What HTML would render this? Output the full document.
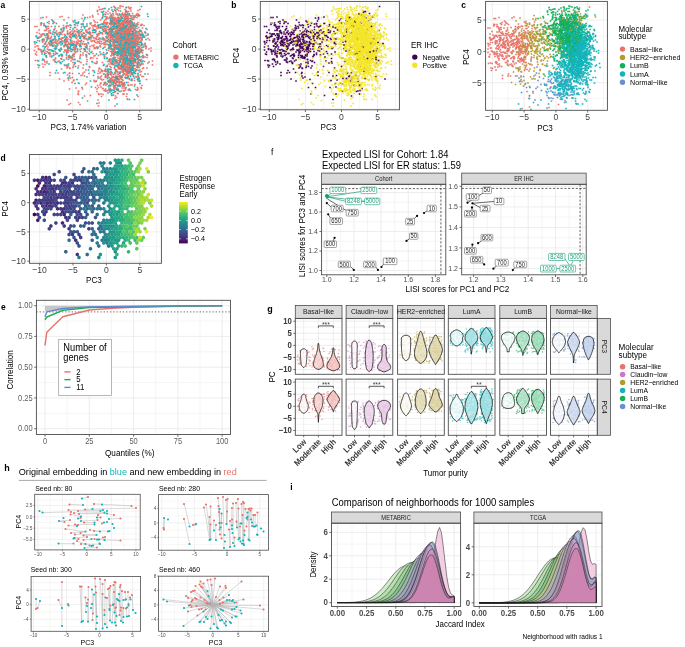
<!DOCTYPE html>
<html><head><meta charset="utf-8"><title>Figure</title>
<style>html,body{margin:0;padding:0;background:#fff;width:685px;height:647px;overflow:hidden}
svg{display:block;font-family:"Liberation Sans", sans-serif;will-change:transform}</style></head>
<body><svg width="685" height="647" viewBox="0 0 685 647">
<text x=".5" y="8" font-size="8.5" font-weight="bold" transform="matrix(1 0 0 1.1 0 -.8)">a</text>
<line x1="56" y1="1.4" x2="56" y2="110.2" stroke="#ebebeb" stroke-width=".5"/>
<line x1="89.5" y1="1.4" x2="89.5" y2="110.2" stroke="#ebebeb" stroke-width=".5"/>
<line x1="123" y1="1.4" x2="123" y2="110.2" stroke="#ebebeb" stroke-width=".5"/>
<line x1="156.4" y1="1.4" x2="156.4" y2="110.2" stroke="#ebebeb" stroke-width=".5"/>
<line x1="29.5" y1="94.2" x2="161.4" y2="94.2" stroke="#ebebeb" stroke-width=".5"/>
<line x1="29.5" y1="64.2" x2="161.4" y2="64.2" stroke="#ebebeb" stroke-width=".5"/>
<line x1="29.5" y1="34.2" x2="161.4" y2="34.2" stroke="#ebebeb" stroke-width=".5"/>
<line x1="29.5" y1="4.2" x2="161.4" y2="4.2" stroke="#ebebeb" stroke-width=".5"/>
<line x1="39.2" y1="1.4" x2="39.2" y2="110.2" stroke="#ebebeb" stroke-width=".9"/>
<line x1="72.7" y1="1.4" x2="72.7" y2="110.2" stroke="#ebebeb" stroke-width=".9"/>
<line x1="106.2" y1="1.4" x2="106.2" y2="110.2" stroke="#ebebeb" stroke-width=".9"/>
<line x1="139.7" y1="1.4" x2="139.7" y2="110.2" stroke="#ebebeb" stroke-width=".9"/>
<line x1="29.5" y1="109.2" x2="161.4" y2="109.2" stroke="#ebebeb" stroke-width=".9"/>
<line x1="29.5" y1="79.2" x2="161.4" y2="79.2" stroke="#ebebeb" stroke-width=".9"/>
<line x1="29.5" y1="49.2" x2="161.4" y2="49.2" stroke="#ebebeb" stroke-width=".9"/>
<line x1="29.5" y1="19.2" x2="161.4" y2="19.2" stroke="#ebebeb" stroke-width=".9"/>
<path d="M71 40h0M130.5 50.5h0M68 48.5h0M89.5 66.5h0M93 28h0M125 51.5h0M70.5 33h0M146.5 54.5h0M127 43.5h0M132.5 33h0M129.5 23.5h0M149 49h0M124 48h0M102 80h0M61 48h0M119.5 34h0M125.5 39.5h0M119 33h0M135.5 54h0M94.5 81.5h0M80 38h0M50 56h0M117.5 48h0M116.5 26.5h0M110 60.5h0M123 18.5h0M119 63h0M109 60h0M124.5 82.5h0M130 24.5h0M73 21h0M129 41.5h0M126 32h0M137 39h0M38.5 48.5h0M129.5 68h0M120 35.5h0M131 23.5h0M124 50h0M125 50h0M108 42h0M109 81h0M117.5 14h0M107 23.5h0M109.5 72.5h0M108 11h0M38.5 38h0M115 28.5h0M118 89h0M130 27h0M83 15h0M104 47.5h0M122.5 52h0M76.5 38.5h0M126 19.5h0M118 30h0M125.5 12h0M75.5 52.5h0M130 42h0M89 73.5h0M128 82.5h0M123 94h0M127.5 50.5h0M116 48.5h0M112 28.5h0M135.5 89.5h0M108.5 35.5h0M139 56h0M129 28h0M120.5 35.5h0M110.5 81h0M117.5 37.5h0M98 39.5h0M64 20h0M114.5 49.5h0M85.5 30h0M116 14h0M64 27.5h0M83 73h0M114.5 7h0M141 40.5h0M125 25.5h0M129 33h0M120.5 38h0M117.5 81.5h0M127 68h0M131.5 57h0M70 68.5h0M116.5 53h0M137 67h0M125.5 55.5h0M131 31h0M126.5 44h0M146.5 79.5h0M132 58h0M41 35h0M100 33.5h0M117 55.5h0M115.5 31h0M119 18.5h0M135.5 40h0M78 43.5h0M44 60.5h0M126 28h0M79 83.5h0M105.5 76h0M141.5 25h0M120 49h0M112 53h0M50.5 54h0M77.5 32.5h0M122 82.5h0M127.5 73h0M123 35h0M131.5 43.5h0M114.5 92.5h0M110 38h0M138.5 50.5h0M50.5 33.5h0M101.5 96.5h0M124.5 34h0M79 34.5h0M103 29h0M113.5 50h0M129.5 38h0M128 48.5h0M58 61.5h0M127 26.5h0M114.5 80h0M134.5 38h0M91 41h0M111.5 20.5h0M67 44.5h0M110.5 49h0M75 59.5h0M134 36.5h0M129.5 90h0M80 104.5h0M99.5 25h0M125.5 44h0M109.5 61.5h0M102.5 88.5h0M55.5 42h0M106 24h0M121.5 58h0M133 35.5h0M126 7.5h0M113 23.5h0M117.5 34.5h0M126 41.5h0M42.5 42h0M114 43.5h0M116.5 62.5h0M107.5 34h0M140 70h0M50 32.5h0M112.5 81h0M120 62h0M53.5 42.5h0M132 27.5h0M67.5 31h0M78.5 102.5h0M119 44h0M101 87h0M130.5 75h0M119 50h0M124 55.5h0M51 42h0M88.5 43.5h0M128 26.5h0M127.5 75.5h0M117 22.5h0M144.5 61.5h0M137.5 43.5h0M108 81h0M110.5 35.5h0M98 100h0M122 42.5h0M75.5 34.5h0M112.5 45h0M125.5 18h0M130.5 63h0M105.5 74.5h0M140.5 38h0M59.5 49.5h0M135.5 51h0M62.5 32h0M131 54.5h0M111.5 28h0M118.5 41.5h0M78 23.5h0M109 90h0M46.5 34h0M101 54h0M39 30h0M102.5 71.5h0M128 32h0M111.5 35.5h0M126.5 72.5h0M129 18.5h0M67.5 46.5h0M98.5 42h0M80 32h0M104 39.5h0M138.5 63.5h0M122 68h0M129.5 47.5h0M70 36.5h0M113.5 26h0M71.5 57h0M113 36.5h0M111.5 20h0M116.5 78.5h0M95.5 31h0M126 33.5h0M120 39.5h0M119 64.5h0M123.5 66.5h0M133.5 35.5h0M110 28.5h0M55.5 48.5h0M128 48h0M128 38h0M78.5 91h0M103.5 52.5h0M110.5 88.5h0M118 40h0M138.5 59.5h0M35 42h0M116.5 48h0M73 44h0M133 45h0M118.5 55.5h0M120.5 29.5h0M120.5 59.5h0M38.5 37.5h0M100.5 20h0M115 51h0M140.5 42.5h0M126 33.5h0M97.5 22.5h0M101 9.5h0M67 100h0M134 45h0M113.5 34h0M133.5 62h0M99.5 43.5h0M45 62h0M124 91h0M123 25h0M115.5 31.5h0M131 21h0M78.5 35h0M37.5 60.5h0M122.5 20.5h0M130 67h0M125.5 90h0M114.5 47.5h0M110 74.5h0M129.5 39.5h0M81 29.5h0M127.5 37.5h0M44.5 30.5h0M46.5 57.5h0M127.5 17.5h0M110 42h0M125 38h0M42.5 41h0M124 63.5h0M85.5 84.5h0M94 30h0M120.5 28h0M112 22h0M101.5 41.5h0M65 50h0M133 57.5h0M94.5 41.5h0M54 34.5h0M113.5 83.5h0M109.5 89.5h0M110 82.5h0M118 55.5h0M112 95.5h0M121.5 32.5h0M93.5 46.5h0M135 16h0M98.5 35h0M119.5 50h0M110.5 16h0M69.5 33h0M98.5 71h0M70 57h0" stroke="#EE6F68" stroke-width="1.6" stroke-linecap="square" fill="none"/>
<path d="M105.5 42h0M135 60.5h0M101 27h0M134 42h0M142 44h0M124.5 49.5h0M116 26.5h0M130.5 53.5h0M117 104h0M139 44.5h0M130 15.5h0M111.5 75h0M122 17.5h0M134.5 42h0M132 56.5h0M138.5 49h0M130 40.5h0M141 25.5h0M76 47h0M105.5 44.5h0M126 25.5h0M66 41.5h0M77.5 50h0M121 55h0M110.5 79.5h0M132 42.5h0M82 87.5h0M133.5 34h0M136 26h0M107 66.5h0M49.5 43.5h0M125.5 53.5h0M73 59.5h0M124 62.5h0M128 61.5h0M81.5 31.5h0M139.5 63h0M122 28.5h0M98 25.5h0M73 35h0M126.5 40h0M54.5 32.5h0M74.5 36h0M116.5 47.5h0M91 23h0M137 15.5h0M92 36h0M67.5 47h0M123 61h0M59.5 35h0M117.5 79h0M127 42h0M69.5 55.5h0M121.5 51.5h0M78.5 83h0M126.5 38.5h0M124.5 34.5h0M125.5 15h0M121.5 56.5h0M102 18.5h0M138 55.5h0M118.5 46h0M127.5 40.5h0M104.5 58.5h0M114 25.5h0M132.5 70.5h0M66.5 51.5h0M137 57h0M124.5 57.5h0M78.5 33h0M76.5 46h0M122.5 31.5h0M130.5 53h0M126.5 23.5h0M127 67.5h0M122 67.5h0M71 34.5h0M65 72.5h0M131 71.5h0M38 38h0M81.5 24.5h0M120 40.5h0M122.5 84.5h0M47 35.5h0M47.5 22.5h0M126.5 48.5h0M134 26h0M117.5 66.5h0M107 58h0M137 36h0M104 64.5h0M133.5 72.5h0M94.5 72.5h0M116 33.5h0M126 19.5h0M124.5 38h0M125 29.5h0M113.5 52h0M113 43h0M141 61.5h0M75.5 66.5h0M59 50h0M137 24h0M122 27h0M126.5 57h0M84 37.5h0M132.5 56.5h0M117 88h0M117 44h0M105.5 91h0M117 63h0M115.5 26.5h0M123 68.5h0M126.5 35h0M52.5 42.5h0M111.5 33h0M138.5 50h0M147.5 14h0M123.5 54h0M110.5 20.5h0M109.5 29.5h0M116 76.5h0M142.5 44h0M131.5 61h0M131.5 54.5h0M105 26.5h0M132.5 67h0M109 81h0M115 80h0" stroke="#10B5BA" stroke-width="1.6" stroke-linecap="square" fill="none"/>
<path d="M78 23h0M108.5 39.5h0M122.5 59.5h0M86 47.5h0M141.5 6.5h0M60.5 32.5h0M78.5 22h0M115 83.5h0M127 15h0M129 44.5h0M123.5 28h0M115.5 8h0M112 51h0M137.5 42h0M126 26.5h0M130.5 45.5h0M84.5 44h0M140.5 60h0M130.5 44.5h0M118 53h0M117 9.5h0M127 56.5h0M127.5 64h0M133.5 46h0M120 73.5h0M114 32h0M127.5 33h0M140.5 34.5h0M124.5 26.5h0M108 69h0M50 44.5h0M128.5 54h0M129.5 99.5h0M126.5 58.5h0M126 55.5h0M134.5 86h0M117.5 62.5h0M120.5 27.5h0M145 45h0M125 52.5h0M68.5 57.5h0M149 62h0M140 83.5h0M131.5 53h0M136.5 38.5h0M121.5 66h0M123.5 48.5h0M121.5 23.5h0M108.5 82h0M130.5 24.5h0M129.5 78.5h0M75 63.5h0M73 44h0M114 32h0M124 73.5h0M51 50h0M132.5 50h0M135.5 40h0M114 32h0M138 43h0M120.5 25.5h0M102.5 17.5h0M53 40.5h0M126.5 50h0M97 103.5h0M64 60h0M126 41h0M97 34.5h0M134.5 78h0M120.5 50.5h0M136.5 41h0M99.5 38.5h0M111 81h0M134 29h0M113.5 34.5h0M94.5 48h0M111.5 72h0M130 43.5h0M87 24h0M142 62h0M55 38.5h0M138.5 78.5h0M39.5 65.5h0M118.5 39h0M130 40.5h0M53 32h0M130.5 42h0M76 22.5h0M74 35h0M141 30.5h0M87 39h0M38.5 61h0M74.5 27.5h0M122 52h0M128.5 22.5h0M114.5 44.5h0M121.5 77.5h0M107.5 38h0M126 60.5h0M114.5 77.5h0M122 14.5h0M128.5 38h0M67 46h0M80.5 44.5h0M136 35h0M64 52h0M134 59.5h0M133.5 39h0M135 17h0M115.5 88h0M147 55h0M108 32.5h0M37.5 38h0M134.5 42h0M106 32h0M129 68h0M86.5 57h0M116 77.5h0M67.5 52.5h0M126.5 42h0M120.5 11h0M61 63.5h0M69.5 44h0M61 45h0M122 34.5h0M127 34.5h0M42.5 60h0M122.5 27.5h0M39.5 41h0M127.5 30.5h0M126 16.5h0M113 63h0M127.5 32h0M127 64h0M114.5 67.5h0M126 48.5h0M120 43h0M108.5 48.5h0M132.5 51.5h0" stroke="#10B5BA" stroke-width="1.6" stroke-linecap="square" fill="none"/>
<path d="M113 39h0M118.5 60.5h0M120.5 43.5h0M117.5 36.5h0M138 49h0M131 11h0M82.5 43.5h0M98.5 27.5h0M111 23.5h0M127.5 40h0M121.5 23.5h0M120 53.5h0M119.5 29h0M116 41.5h0M131 55.5h0M115 41h0M110.5 74h0M74 31.5h0M72.5 73.5h0M118 26h0M118 93.5h0M102 28h0M138 96.5h0M119.5 86h0M122.5 14h0M67 25.5h0M111 36h0M82.5 89h0M111 46h0M129.5 60h0M90 34h0M54.5 60h0M112 80h0M118 82.5h0M70 51h0M122.5 35h0M118.5 38.5h0M119 69h0M135 30h0M141.5 52h0M117.5 53.5h0M127 94h0M121 27.5h0M139.5 30h0M70 39.5h0M124.5 46.5h0M138 76.5h0M108 26.5h0M96.5 39.5h0M84.5 44.5h0M56 43.5h0M87 52h0M63.5 25.5h0M50 45.5h0M137.5 42.5h0M137 50.5h0M133 50.5h0M127 11.5h0M133.5 42h0M146 48.5h0M103 16.5h0M111 36.5h0M132 79h0M117.5 26.5h0M145.5 46.5h0M138 10.5h0M122 49.5h0M128 85h0M121.5 20.5h0M118 19.5h0M116 70.5h0M123 6.5h0M108 75h0M97.5 34.5h0M116.5 62h0M50 72.5h0M127 22.5h0M44 39.5h0M56 48.5h0M104.5 71h0M141.5 56.5h0M124 47h0M105 47h0M126 49h0M119 38h0M130.5 44.5h0M118.5 49.5h0M120 6h0M65 45h0M67 68h0M140 72h0M132.5 19.5h0M88 33h0M74 56.5h0M72 57.5h0M67 37.5h0M125 29.5h0M138 50.5h0M127.5 31h0M67.5 67h0M111 33.5h0M147 57.5h0M115.5 79h0M122 52.5h0M126.5 71h0M48 47h0M134 55.5h0M79.5 45.5h0M120 36h0M115 106h0M132.5 52.5h0M93.5 32.5h0M125 18h0M53 21h0M70.5 34.5h0M127 57h0M126 55.5h0M118 52h0M138 53h0M135 36h0M78.5 92h0M123 31.5h0M128.5 42.5h0M106 23h0M142 85.5h0M104 22.5h0M44 25h0M78 94h0M116.5 81.5h0M91 39h0M132.5 54.5h0M131 72.5h0M130.5 39.5h0M112.5 38h0M145.5 32.5h0M123 86h0M117 81.5h0M129.5 45h0M122.5 72h0M123.5 45h0M127.5 26.5h0M122.5 46.5h0M111.5 83h0M119 37h0M72.5 43h0M133.5 19.5h0M118 17.5h0M137.5 38.5h0M124.5 23h0M89.5 49h0M69 78h0M111 39.5h0M143 35.5h0M121.5 81.5h0M137.5 52h0M114.5 73h0M126 78h0M134.5 60.5h0M115.5 57.5h0M66.5 26.5h0M74 80h0M132.5 31h0M123.5 69.5h0M106 71.5h0M125.5 44h0M101 27.5h0M124.5 21.5h0M112 77h0M114 42.5h0M116 28h0M122 31.5h0M130.5 39.5h0M108 70h0M71 58h0M92 61.5h0M128.5 53h0M123 71h0M89.5 33h0M48 34h0M124.5 59h0M133 68.5h0M119 35h0M114.5 53h0M62.5 55.5h0M137.5 32h0M133 25.5h0M124 38h0M136 31h0M122.5 52h0M142.5 57.5h0M110.5 85.5h0M131 28h0M86.5 32h0M118 8h0M103 15.5h0M109.5 23.5h0M52.5 43.5h0M105.5 32h0M100 73h0M79.5 36h0M86.5 83h0M93 17h0M117.5 26h0M117 40.5h0M114.5 44h0M138.5 39h0M74.5 30.5h0M113.5 33.5h0M135 40.5h0M119.5 58.5h0M132.5 31h0M92.5 15.5h0M127 52h0M137 37.5h0M129.5 34h0M135 42h0M111 26h0M111 69.5h0M104.5 39.5h0M133 31h0M126 10.5h0M127 30.5h0M73.5 66h0M133 15.5h0M41 25h0M112.5 36.5h0M121 32.5h0M90 32.5h0M132.5 33.5h0M86 31h0M110.5 22.5h0M116 76h0M130.5 39h0M111.5 16h0M112.5 51.5h0M127.5 52.5h0M129 40h0M122 51h0M114 49h0M107 84h0M121 78.5h0M107.5 73.5h0M131.5 39h0M41 23.5h0M98.5 26h0M132 51.5h0M135.5 59.5h0M121 65.5h0M64.5 41h0M134 33h0M112 31h0M122 83h0M117 31.5h0M39.5 33.5h0M132 56h0M56 39.5h0M128 52h0M122.5 64h0M133.5 55h0M148 63h0M99 28h0M121.5 55h0M133.5 58h0M107.5 22.5h0M115.5 27h0M117.5 77h0M124 47.5h0M121 53.5h0M139 33.5h0M126 47.5h0M131 58h0M68.5 44h0M119 37.5h0M131 47h0M123 34h0M120.5 61h0M139 51.5h0M132 80h0M127 49h0M119 26.5h0M87.5 101h0M108.5 36.5h0M100.5 27h0" stroke="#EE6F68" stroke-width="1.6" stroke-linecap="square" fill="none"/>
<path d="M129.5 65h0M70.5 36.5h0M118.5 39h0M73.5 44h0M131.5 42h0M110.5 18.5h0M124.5 43.5h0M136.5 56.5h0M44 23.5h0M120 19.5h0M107 17h0M124 94h0M127.5 64.5h0M118.5 10.5h0M124.5 28h0M120 75.5h0M48.5 50h0M122.5 62h0M116.5 47h0M130.5 35h0M136 39h0M102.5 9h0M135.5 56.5h0M138 52.5h0M115.5 10.5h0M71 25.5h0M132.5 39h0M113 61.5h0M116.5 35h0M86.5 55h0M126.5 36h0M127.5 31h0M77 43h0M130.5 51.5h0M124.5 42h0M62.5 38h0M135.5 60h0M132 67h0M74 49h0M63.5 38h0M133 28h0M117 25h0M120.5 38.5h0M131 49h0M123.5 27h0M80.5 55.5h0M86 44h0M121.5 47h0M132.5 44.5h0M143 35h0M61.5 59h0M124 15h0M121.5 35.5h0M132 69.5h0M67.5 32h0M130 52.5h0M121 55h0M128.5 55.5h0M140 9.5h0M120 85h0M95.5 42.5h0M120 62h0M129 28h0M127.5 43.5h0M143.5 68h0M120.5 51h0M116.5 18.5h0M136.5 77h0M128.5 65.5h0M114.5 86.5h0M85.5 46.5h0M121 54.5h0M126 29h0M119 31h0M98.5 93.5h0M73.5 32.5h0M131 37.5h0M122 65h0M95.5 26h0M123.5 90.5h0M130.5 27.5h0M110 66.5h0M110.5 19.5h0M132.5 55h0M120 68h0M130.5 69h0M126.5 43h0M104.5 56.5h0M118 53.5h0M44 41h0M132.5 39.5h0M117 78.5h0M65.5 40h0M47 63h0M140.5 35.5h0M119 21.5h0M114 57h0M75 48h0M137 35.5h0M128 42h0M126.5 25h0M124.5 38h0M114 59.5h0M124 60.5h0M117.5 52h0M117.5 76.5h0M121.5 39h0M138 59h0M128.5 47h0M109.5 34.5h0M151 48h0M122 41h0M134 73.5h0M118.5 66.5h0M127.5 64h0M66.5 59h0M120.5 56h0M117 27.5h0M47 34h0M132 38.5h0M137 50h0M123.5 50h0M119 19.5h0M111.5 61h0M114 61h0M74.5 49.5h0M113.5 19.5h0M126.5 48h0M129 50.5h0M67.5 75h0M48 37.5h0M106.5 36.5h0M123 26.5h0M127 28.5h0M117.5 55.5h0M85.5 47.5h0M126.5 35h0M122.5 61.5h0M94 20.5h0M113 13.5h0M125.5 47h0M132.5 37.5h0M119.5 26.5h0M122.5 63.5h0M129 38.5h0M125.5 88.5h0M110.5 37.5h0M92 25.5h0M87 47h0M62 34.5h0M129 55.5h0M104.5 39h0M94.5 30h0M107 91h0M124 49h0M119.5 36.5h0M119 81h0M119.5 35.5h0M119.5 40.5h0M48.5 28.5h0M84.5 49h0M117 26.5h0M133 31.5h0M135 55.5h0M101 69.5h0M100.5 77h0M131 52.5h0M121 34h0M88.5 37h0M118 67.5h0M133 49.5h0M121.5 39h0M104 22h0M124 39.5h0M143 50.5h0M98.5 87.5h0M79 61.5h0M96 31h0M118.5 26.5h0M138.5 53h0M84.5 51h0M66 42.5h0M123 44.5h0M126.5 51h0M121.5 25h0M104 8.5h0M138 46.5h0M106 12.5h0M69 34h0M125.5 48h0M119 24h0M126.5 72.5h0M123.5 41h0M111 56h0M138 32h0M120.5 66h0M126.5 48.5h0M114.5 58.5h0M84.5 36h0M126 27h0M97 63h0M131 29.5h0M76.5 41.5h0M110.5 29h0M124.5 39.5h0M127 25h0M122 88h0M94.5 48.5h0M138 36h0M133 27h0M131.5 35h0M83 23.5h0M129.5 22h0M113 77h0M110.5 34.5h0M111.5 37.5h0M95.5 87.5h0M145 57h0M128 44.5h0M122 24.5h0M103.5 27h0M118.5 76.5h0M117 32h0M116.5 70h0M66 38h0M56 53h0M127 58h0M110 43h0M152.5 61h0M97.5 36.5h0M117.5 40h0M138 41h0M50 52.5h0M38.5 49.5h0M130 70.5h0M97 89h0M119.5 49h0M122.5 59h0M122.5 54.5h0M123 45.5h0M140.5 60h0M63.5 31h0M126 45.5h0M146 35.5h0M129 45h0M123.5 26h0M137.5 87.5h0M66.5 55.5h0M127 56.5h0M76.5 43.5h0M130 50.5h0M51 44.5h0M136 43h0M97.5 35h0M138 24.5h0M106.5 18.5h0M86 38.5h0M52.5 46h0M69.5 73.5h0M122.5 61h0M76 31.5h0M128.5 19h0M116 32.5h0M132.5 18h0M123.5 56.5h0M76 88h0M124 46.5h0M58.5 40h0M47.5 49h0M74.5 24.5h0M123 31h0M123.5 24h0M67.5 41.5h0M113.5 24h0M125.5 65h0M119 43h0M120.5 59h0M129.5 57.5h0M49.5 54h0M114 21h0M119 35h0M52.5 42.5h0M80.5 46h0M131.5 56h0M101 44h0M70.5 78h0" stroke="#EE6F68" stroke-width="1.6" stroke-linecap="square" fill="none"/>
<path d="M86 55h0M64.5 37h0M117 52h0M119.5 68.5h0M112 17.5h0M44 34h0M113 58h0M61 39.5h0M113.5 82.5h0M119 54h0M126 67h0M115.5 73h0M137.5 79.5h0M80 58.5h0M122.5 54h0M123 45.5h0M115.5 70h0M123 75h0M54 45h0M56.5 70.5h0M125.5 66.5h0M137 57.5h0M50 41.5h0M114.5 23.5h0M133.5 38h0M135 62h0M133.5 42h0M117 71.5h0M104 24h0M75 62.5h0M121 37h0M120 61h0M120 54h0M113.5 48.5h0M126.5 43h0M83.5 41.5h0M125 63.5h0M47 34h0M145 74h0M70 57h0M130.5 76.5h0M72.5 36.5h0M117 25.5h0M113 58.5h0M131 62.5h0M64.5 65h0M110.5 90h0M65 39.5h0M73.5 47.5h0M131.5 80h0M124.5 27.5h0M117 39h0M139.5 35h0M129 22h0M133.5 50.5h0M120.5 35.5h0M112 41.5h0M141.5 42.5h0M123.5 69.5h0M130.5 69.5h0M128.5 60h0M143.5 47h0M142 47.5h0M114 36h0M129.5 48h0M112 73h0M126 53.5h0M112 31.5h0M109.5 31.5h0M127.5 16.5h0M134 47h0M129 41h0M137 54.5h0M40 49.5h0M48.5 36h0M61.5 41.5h0M124 28h0M111.5 95h0M69.5 76h0M121.5 66.5h0M129 44.5h0M43 46.5h0M128 72.5h0M52.5 50.5h0M55 26.5h0M116 77.5h0M74 44.5h0M53 39.5h0M120 44.5h0M133 41.5h0M118 48.5h0M140.5 65.5h0M132 65.5h0M133.5 60.5h0M116.5 66h0M113 19.5h0M75 25h0M104 54.5h0M108 44.5h0M129.5 64h0M136.5 44h0M131.5 44.5h0M143.5 57.5h0M132.5 53.5h0M100 46h0M71 49.5h0M114.5 47.5h0M96.5 54h0M61.5 49.5h0M134.5 59.5h0M123 50h0M120 52.5h0M143 61h0M107.5 71h0M132 63.5h0M120.5 32h0M109 77.5h0M111 21.5h0M119 21.5h0M130 56h0M84.5 28h0M133.5 70.5h0M126.5 44h0M57.5 41h0M132.5 47h0M89.5 33.5h0M125 28.5h0M116 24h0M125.5 54h0M124 37h0M56.5 23.5h0M123 55.5h0M130.5 44.5h0M115 22.5h0M85.5 51h0M129 13.5h0" stroke="#10B5BA" stroke-width="1.6" stroke-linecap="square" fill="none"/>
<path d="M105.5 71.5h0M59.5 34.5h0M133.5 62h0M117.5 33h0M118.5 74.5h0M129.5 46.5h0M77.5 31.5h0M42 52h0M128 47h0M123 30.5h0M130 58.5h0M46 27.5h0M123 23h0M56.5 31h0M136 44.5h0M129.5 67h0M135.5 43h0M123 48.5h0M110.5 47h0M80.5 44h0M110.5 45h0M116 33.5h0M126.5 64h0M68 39h0M129.5 29.5h0M120 32.5h0M131 68h0M141 52h0M132.5 13.5h0M80 57h0M123 58h0M84.5 72h0M104.5 26h0M118.5 45h0M133.5 64h0M115.5 38.5h0M71 49h0M70 29.5h0M45.5 43.5h0M111 64h0M125 35.5h0M139 42h0M116.5 38h0M121.5 44.5h0M139.5 39h0M132.5 58h0M81.5 24h0M94.5 63h0M69 43h0M102 33h0M115 36h0M116 28.5h0M135.5 51h0M48 38.5h0M51 40.5h0M118.5 32h0M115.5 69.5h0M80.5 37h0M83 68h0M44.5 53h0M107.5 34.5h0M97 43h0M100.5 83.5h0M115.5 63h0M121 45h0M68.5 80h0M134 59h0M86.5 56h0M135 51h0M136 41h0M127 12.5h0M135.5 60h0M132 25.5h0M140.5 31.5h0M133 55.5h0M87.5 49h0M126.5 47h0M65 50.5h0M121 51h0M132 21.5h0M55.5 46h0M140 65.5h0M45.5 42.5h0M131 18h0M113.5 77.5h0M69.5 37h0M111.5 24h0M125.5 40h0M126.5 16.5h0M126.5 23h0M118 82h0M37.5 40.5h0M111.5 21h0M114.5 45h0M34.5 50.5h0M125 47.5h0M132 74.5h0M137.5 66h0M130.5 85h0M139.5 48h0M51 37.5h0M123 80.5h0M109.5 46.5h0M111 45.5h0M114.5 37.5h0M139 65h0M83.5 26h0M119.5 47h0M120 41h0M117.5 15h0M59.5 43.5h0M128.5 39.5h0M128 18.5h0M95.5 38.5h0M138.5 52h0M105.5 33.5h0M128.5 18.5h0M130 58h0M132.5 35h0M129 33.5h0M123 24h0M128.5 48.5h0M135 62h0M49 23.5h0M117 35.5h0M137 36h0M129 61.5h0M80 49.5h0M128 43.5h0M134 34h0M113.5 77h0M105 83.5h0M123 86h0M55 38h0M125.5 36.5h0M114 80h0M139 32h0M105.5 77h0M74 54.5h0M121.5 55.5h0M130 68h0M141 45.5h0M80.5 54.5h0M127 33.5h0M114.5 50h0M116 20h0M140 34h0M74.5 51.5h0M114 6.5h0M148 38.5h0M121.5 42h0M129 71.5h0M82.5 36.5h0M108 41h0M135.5 71h0M142.5 68.5h0M121 76.5h0M60 51h0M94 80.5h0M67 66h0M124 21h0M119.5 22h0M50 75.5h0M102.5 62.5h0M59 36.5h0M43.5 34.5h0M131.5 51h0M119.5 35.5h0M108 33h0M121.5 48.5h0M46 30.5h0M42 34.5h0M104 90.5h0M72.5 44.5h0M119.5 24.5h0M117 37h0M123 53h0M118 42.5h0M140.5 60.5h0M120.5 40.5h0M122.5 83.5h0M129.5 89h0M134 41.5h0M119 50.5h0M87 59.5h0M121 59.5h0M111.5 30h0M117 90h0M126 23h0M59 26.5h0M112 52h0M112.5 39.5h0M128 44h0M122.5 70.5h0M133 66h0M137.5 90h0M72 82.5h0M51.5 36.5h0M125 48.5h0M127.5 47.5h0M131 38h0M112 59.5h0M140.5 61h0M106 33h0M126.5 20h0M120.5 45h0M125.5 31h0M103 94.5h0M64 41h0M114.5 9.5h0M129.5 68.5h0M135.5 53h0M55 54.5h0M120.5 42h0M107.5 77h0M87 32h0M138 42h0M120.5 40.5h0M137.5 62h0M134.5 54h0M118.5 19.5h0M137.5 34h0M72.5 57.5h0M118.5 39h0M152.5 65h0M133 43.5h0M121.5 29.5h0M127.5 17.5h0M74.5 54h0M118.5 91h0M67 52.5h0M99 7h0M125.5 78h0M49 42.5h0M137.5 59.5h0M126.5 22.5h0M102 70.5h0M113.5 53h0M137 49.5h0M89 29.5h0M124 71h0M119.5 32.5h0M127 47h0M130.5 25h0M106 66.5h0M118.5 43.5h0M108 75h0M132 48.5h0M137.5 67.5h0M137.5 53h0M116 27.5h0M127.5 32h0M107.5 33h0M124 43h0M131 48h0M114 46h0M84.5 33.5h0M129 72.5h0M137 28.5h0M126.5 18.5h0M125 46h0M42.5 64h0M72.5 77.5h0M111.5 17.5h0M99.5 68h0M79 30.5h0M127 18.5h0M120.5 20h0M140.5 75h0M76.5 44.5h0M141.5 31.5h0M130.5 22.5h0M49 43.5h0M111 71.5h0M143 45h0M124 69h0M125.5 74.5h0M127.5 64.5h0M110.5 31.5h0M134 54.5h0" stroke="#EE6F68" stroke-width="1.6" stroke-linecap="square" fill="none"/>
<path d="M134.5 60.5h0M117.5 53h0M111.5 37h0M142.5 37h0M131.5 63.5h0M49.5 38.5h0M105.5 29h0M90.5 81h0M122 77h0M86 35h0M132 38.5h0M60 62.5h0M124.5 84h0M130.5 29.5h0M119 32.5h0M140.5 51.5h0M111.5 7.5h0M139.5 60h0M113 84.5h0M127 39.5h0M110 69.5h0M81 42h0M52 56h0M125 42h0M73.5 36.5h0M60.5 42h0M97.5 48.5h0M132 34h0M70.5 46.5h0M128 62.5h0M128.5 89.5h0M98 47.5h0M135.5 31h0M124.5 58.5h0M117 65h0M125.5 71h0M111.5 14.5h0M51.5 44.5h0M114 81h0M121 69h0M126.5 53h0M124 51.5h0M60.5 34h0M40 37h0M135.5 62h0M103 54.5h0M126.5 35h0M108 93h0M114 86h0M127.5 56h0M79 36h0M130 59.5h0M113 20.5h0M129.5 61.5h0M53.5 53.5h0M98 27h0M101 39h0M46.5 56h0M137 57.5h0M114.5 24.5h0M122 30h0M38 65h0M121.5 53h0M136.5 56h0M124.5 62.5h0M124.5 19h0M115 60.5h0M135.5 44h0M125 53h0M134.5 99.5h0M55.5 73h0M104 31h0M105.5 14.5h0M45.5 26.5h0M121 16h0M138 63h0M114 39.5h0M112.5 31h0M124 51.5h0M132 28.5h0M127 30h0M112.5 19h0M127.5 59.5h0M66.5 54h0M131.5 64h0M123 67.5h0M107 27h0M118.5 26.5h0M133.5 17h0M56.5 62.5h0M129.5 24.5h0M43 17.5h0M141.5 64h0M138 49h0M123 67.5h0M60 32.5h0M127.5 66h0M120 36.5h0M119 52h0M138.5 48h0M57 35h0M139 38.5h0M57 44h0M123.5 30h0M71.5 51.5h0M117 33h0M57 33.5h0M115 60h0M126 50.5h0M108.5 71.5h0M122 40.5h0M83.5 36.5h0M84.5 37.5h0M122 46.5h0M120.5 40.5h0M42.5 39.5h0M125 39.5h0M74.5 59.5h0M113 82h0M126.5 78h0M125.5 60h0M121 53h0M125.5 55h0M42 54h0M137 44h0M135.5 55h0M56.5 53.5h0M121.5 64.5h0M134 29h0M116 83.5h0M74 45h0M70.5 27.5h0M62.5 44h0M131 31.5h0M132 41h0M118.5 26h0M115.5 47h0M120 29h0M138 62.5h0M82.5 98h0M135.5 39.5h0M110.5 28h0" stroke="#10B5BA" stroke-width="1.6" stroke-linecap="square" fill="none"/>
<path d="M142 40h0M121.5 51.5h0M126 70h0M135 68.5h0M52 40h0M107.5 74h0M121 68h0M117.5 49h0M115 42.5h0M81 46.5h0M90.5 95.5h0M58 45h0M110.5 16h0M81.5 34h0M119 52.5h0M133 24h0M117 39h0M110 13h0M45 53.5h0M125.5 31.5h0M115 86.5h0M116 78h0M115 39.5h0M111.5 90h0M130.5 45h0M128.5 23h0M97.5 11.5h0M128 53h0M116 21h0M131 7.5h0M129.5 73.5h0M41.5 36h0M115.5 59.5h0M107 40.5h0M132.5 45h0M55.5 49.5h0M79.5 45h0M138.5 27.5h0M109.5 23.5h0M112 49.5h0M134.5 56h0M109 47h0M126.5 67h0M65 65.5h0M129 31.5h0M128.5 51.5h0M106 19h0M70 58h0M138 81h0M60 42h0M72.5 43.5h0M67 50h0M113 17h0M55 42.5h0M129 21.5h0M134 18h0M126.5 40.5h0M118 29h0M129 33h0M125 33.5h0M138 51h0M113 37h0M143 64h0M66 26.5h0M131.5 73h0M123 75.5h0M114.5 33.5h0M83.5 33h0M127 14.5h0M73.5 45.5h0M127.5 18.5h0M51.5 26.5h0M99.5 9.5h0M131 29.5h0M133 49h0M128.5 22h0M120 35h0M116.5 29h0M137.5 56h0M41.5 50h0M124.5 21h0M137 65.5h0M120.5 57h0M111 28h0M121 19.5h0M85.5 36.5h0M132 69.5h0M79.5 44h0M60 17h0M105.5 89h0M131.5 63h0M114 88h0M69.5 44.5h0M113.5 22.5h0M109 30h0M141 87.5h0M139 49h0M121 25h0M90.5 24h0M48.5 26.5h0M131 50.5h0M135.5 26.5h0M135.5 36h0M131 36h0M93.5 29.5h0M136.5 63h0M113.5 36h0M125.5 62h0M104.5 83h0M132.5 23.5h0M68.5 48.5h0M137 90h0M85 39h0M90 34h0M126.5 50.5h0M41 36.5h0M79.5 61.5h0M128 68.5h0M62 31h0M111.5 24.5h0M142 50h0M116.5 53.5h0M127 59.5h0M122.5 47.5h0M120 21.5h0M128.5 31.5h0M114.5 25h0M41.5 23.5h0M114 54h0M118 38.5h0M58.5 33h0M121.5 51.5h0M141.5 45.5h0M90 23.5h0M148 34h0M42.5 40.5h0M116.5 23h0M121.5 68.5h0M136 45.5h0M101.5 76h0M118.5 78.5h0M122.5 54h0M119 50h0M132.5 60.5h0M109.5 69.5h0M116 38.5h0M95 24.5h0M106 54h0M72 41h0M126.5 74.5h0M116.5 34.5h0M97 91.5h0M126.5 57h0M116 12h0M59 61h0M107.5 37.5h0M138.5 16h0M137 17.5h0M99 69h0M125 48h0M138.5 14.5h0M126 64.5h0M122 43.5h0M110.5 73h0M42.5 34h0M121.5 32h0M104.5 57h0M125.5 35h0M43.5 46h0M111 59h0M131 16.5h0M122.5 63h0M123.5 54h0M97.5 47h0M130 61.5h0M72 43.5h0M133.5 28.5h0M109 87h0M44 39h0M80 32.5h0M122.5 13h0M121 42.5h0M132.5 37h0M123.5 39.5h0M131.5 33.5h0M121.5 91h0M128.5 85.5h0M123 25h0M104 14h0M108 27.5h0M105.5 31.5h0M105 90.5h0M132.5 41h0M131 38h0M124 29.5h0M129 47h0M142 24.5h0M51.5 45h0M126 23.5h0M103 88.5h0M108.5 50.5h0M109 45h0M111.5 37h0M130.5 60.5h0M142.5 53h0M96.5 47h0M114.5 26h0M142 38.5h0M113.5 53.5h0M68.5 47.5h0M127.5 61.5h0M77.5 25.5h0M47.5 39h0M145.5 33h0M69.5 68h0M136.5 14.5h0M106.5 76.5h0M100.5 72h0M134 38.5h0M59 39.5h0M138.5 76.5h0M131 59h0M110.5 30h0M92.5 32.5h0M114.5 63h0M121.5 53h0M65 35h0M115 18.5h0M116 34.5h0M118.5 39h0M118.5 22.5h0M122 51.5h0M124.5 55h0M114 52h0M121.5 38h0M119 23h0M47 61.5h0M125.5 43h0M110.5 39h0M94 38h0M49 32.5h0M120.5 48h0M129.5 26.5h0M89 39.5h0M124.5 32h0M103.5 29.5h0M125.5 34h0M118.5 22h0M138.5 67h0M82 18.5h0M122.5 38h0M128 19.5h0M115.5 45.5h0M120 19h0M126 59.5h0M99.5 38h0M47 45h0M119.5 26.5h0M122.5 39h0M75.5 27.5h0M87 30h0M55.5 32.5h0M118.5 21h0M115 65h0M113 23h0M77 29.5h0M74.5 47h0M123.5 38h0M123.5 29.5h0M106.5 31h0M124.5 64.5h0M115.5 54.5h0" stroke="#EE6F68" stroke-width="1.6" stroke-linecap="square" fill="none"/>
<path d="M112 37h0M137 51.5h0M123.5 51.5h0M131.5 60.5h0M54 30h0M110 24h0M103 38h0M87 26h0M143 55.5h0M104 44h0M126 26.5h0M36.5 42.5h0M103 26.5h0M88 42.5h0M138 78.5h0M45.5 47h0M139 52h0M130.5 34h0M125 45h0M125.5 14.5h0M127.5 99h0M76 46h0M142.5 34.5h0M125.5 70.5h0M112 29.5h0M132 49.5h0M61 54.5h0M118 33.5h0M120.5 59h0M148 35h0M115.5 85.5h0M88.5 70h0M92.5 62h0M120 61h0M86.5 47.5h0M53.5 22h0M120.5 50h0M120.5 45h0M51.5 43h0M110 92h0M133.5 44h0M111 32h0M133.5 76.5h0M73 29h0M128 45.5h0M123.5 85h0M118 33.5h0M120.5 86h0M53 46h0M134.5 43.5h0M129.5 34.5h0M83 24.5h0M129 37.5h0M61.5 59h0M62 43h0M125.5 69h0M141.5 35h0M121.5 53.5h0M126 70.5h0M120.5 23.5h0M103 39.5h0M129.5 59.5h0M87 77h0M122 18h0M124 68h0M116.5 78.5h0M100 52h0M138.5 70.5h0M114 58.5h0M103 24.5h0M113.5 23h0M113.5 64.5h0M127.5 25h0M114 23.5h0M114 90.5h0M96 63.5h0M113.5 27h0M115.5 91.5h0M133.5 76.5h0M123.5 16h0M70.5 44.5h0M133.5 33h0M77.5 49h0M126.5 41.5h0M123 21h0M124 62h0M43 51.5h0M47 40h0M89 38.5h0M89.5 32h0M136 70h0M141 49.5h0M132.5 34h0M112 63h0M101 24.5h0M130.5 52h0M134 45.5h0M122 48h0M134.5 59h0M113 11.5h0M109 100h0M131 55.5h0M68 78h0M116.5 81h0M129 35.5h0M139.5 31h0M113.5 95h0M123 49.5h0M85 17.5h0M130 70.5h0M141 50h0M136.5 51.5h0M134 25.5h0M127.5 44h0M130 44h0M126 62h0M49 64h0M120.5 62.5h0M102.5 30h0M64.5 42.5h0M124.5 46.5h0M82.5 35h0M116 47h0M120.5 20.5h0M95.5 30h0M141.5 44.5h0M130.5 90.5h0M44.5 54.5h0M122.5 22.5h0M67 65h0M139.5 15.5h0M136 49.5h0M135.5 71h0M84.5 27h0M123.5 48.5h0M122.5 34h0M124.5 36h0M121 54.5h0M61 29.5h0M127 57.5h0M125.5 52h0M109 47.5h0M110 47h0M132.5 74.5h0M103.5 65.5h0M137.5 45h0M50 30.5h0M138.5 49.5h0M89.5 54h0M75 49.5h0" stroke="#10B5BA" stroke-width="1.6" stroke-linecap="square" fill="none"/>
<path d="M68 52h0M127.5 67h0M123.5 26h0M107 41h0M125 26.5h0M70.5 32h0M64 46.5h0M128 39h0M48.5 43.5h0M128 50h0M67.5 45h0M90.5 58.5h0M114 26.5h0M123 52.5h0M112 18h0M123.5 56h0M64.5 45.5h0M124 69h0M68.5 26h0M100.5 47h0M125.5 46h0M128.5 22h0M103.5 11.5h0M93 58h0M136 46.5h0M116.5 33.5h0M107.5 75h0M123.5 43.5h0M134 62.5h0M130.5 54h0M87 61.5h0M120 28h0M94 45h0M118.5 68h0M111.5 15h0M110.5 62.5h0M89.5 34h0M83 55h0M141.5 71.5h0M114.5 81h0M130 30.5h0M97 47.5h0M132 73.5h0M112.5 20h0M124 62.5h0M69.5 73h0M121.5 16.5h0M118.5 46.5h0M67 40h0M114 19.5h0M122 53h0M125.5 33.5h0M118.5 27.5h0M55.5 46.5h0M123.5 50.5h0M67.5 45.5h0M131.5 16h0M144 37h0M114.5 89h0M125 13.5h0M127 26h0M67.5 34.5h0M139 67.5h0M101.5 12h0M114 53.5h0M128.5 58.5h0M136.5 53.5h0M119 82.5h0M128.5 68.5h0M130 21.5h0M122.5 25.5h0M119 65h0M35.5 60.5h0M126 75h0M54 29.5h0M128.5 76h0M130 43h0M79.5 33h0M133.5 31.5h0M143.5 56.5h0M123 56h0M50.5 32.5h0M122 50.5h0M136.5 70h0M103.5 79.5h0M35 26.5h0M131 25.5h0M128.5 72.5h0M116.5 71.5h0M116 85h0M111 45h0M118 25.5h0M86.5 44h0M137 50.5h0M126 36h0M90 46.5h0M131 61.5h0M124.5 20h0M112.5 21.5h0M142 76.5h0M64.5 42.5h0M126 49.5h0M127 33h0M72 45h0M126 17h0M72 35h0M76.5 35.5h0M128.5 36.5h0M133 39h0M114.5 82.5h0M128 68h0M115.5 96h0M149.5 40h0M129 46h0M128 37h0M55.5 40.5h0M122.5 23.5h0M101 83h0M74 41.5h0M120 37h0M87.5 17.5h0M119.5 73h0M106 19.5h0M114 87.5h0M118.5 30h0M113.5 46h0M108 18.5h0M99.5 31.5h0M66 65.5h0M47.5 35.5h0M66.5 52h0M93 40.5h0M147.5 55.5h0M114 20.5h0M132.5 45h0M127 21h0M130 26.5h0M134.5 54h0M138 52.5h0M109.5 60h0M82.5 44h0M120 42.5h0M117.5 65.5h0M135 59h0M84.5 76h0M115 10.5h0M112.5 64.5h0M130 57.5h0M145 43.5h0M128.5 24.5h0M122 22.5h0M127.5 25h0M116.5 70h0M117.5 62h0M111 24h0M79.5 38h0M120 61h0M75 49h0M118.5 89.5h0M125 18h0M81 40.5h0M89.5 67.5h0M104.5 44.5h0M61 38.5h0M111.5 78h0M118.5 36h0M128.5 7h0M132.5 38.5h0M122.5 56h0M106 29h0M69 56.5h0M100 85h0M124.5 27.5h0M132 73h0M116 31h0M92.5 35.5h0M59.5 79h0M119.5 40h0M117.5 55.5h0M138.5 58h0M46.5 17h0M135.5 48h0M78.5 94.5h0M129 21h0M126 49h0M110 47.5h0M81 62.5h0M104 84.5h0M117.5 93.5h0M100 78h0M104.5 82.5h0M76.5 43h0M131.5 34h0M118 46h0M128.5 34.5h0M113 29h0M130 52h0M95.5 32.5h0M124.5 51h0M141.5 59.5h0M137 44h0M104 40h0M74 54.5h0M82.5 36h0M128 30h0M108 29.5h0M58 43h0M121.5 23h0M132 53.5h0M97.5 48h0M138 89h0M126.5 33h0M120 25.5h0M124.5 37h0M114.5 19.5h0M73 67.5h0M124 88h0M121 35h0M121.5 36.5h0M58 73h0M112 52h0M113 28.5h0M38 46h0M78 42h0M115.5 33h0M125 22h0M134.5 80.5h0M120 26.5h0M136 76.5h0M126.5 35h0M114 18h0M126 30h0M132.5 57.5h0M104 42.5h0M121.5 42.5h0M92 45.5h0M73 62.5h0M138.5 47h0M97.5 10.5h0M137.5 35h0M128 74h0M104.5 56h0M122.5 14.5h0M114.5 36.5h0M73 33.5h0M137 56.5h0M116 30.5h0M73.5 54h0M108.5 36.5h0M114.5 68.5h0M128 65.5h0M66.5 28h0M41.5 52h0M37 32.5h0M135 16h0M117.5 31h0M97 28.5h0M63 28h0M120 51h0M115 74h0M116.5 37.5h0M124.5 53h0M120 28h0M137 69.5h0M122 59h0M133 66h0M128.5 35h0M133.5 50h0" stroke="#EE6F68" stroke-width="1.6" stroke-linecap="square" fill="none"/>
<path d="M102.5 12.5h0M105.5 82.5h0M120.5 34h0M122.5 38.5h0M71 44.5h0M121.5 50.5h0M129 60.5h0M133 31.5h0M143.5 37h0M142 39h0M120.5 42.5h0M72.5 49.5h0M75.5 37.5h0M63.5 73h0M115.5 41h0M110.5 82.5h0M65.5 44h0M118.5 49.5h0M112 10h0M131 63.5h0M85 49.5h0M115.5 34h0M137 95h0M135.5 59.5h0M120.5 45h0M125 63h0M138.5 37.5h0M59 38.5h0M112.5 35h0M128 40.5h0M67.5 41.5h0M51 41.5h0M133 55h0M105 8.5h0M112.5 26.5h0M130 60.5h0M100.5 28h0M71 45h0M120.5 37h0M112.5 32h0M109.5 17.5h0M130.5 21h0M117.5 55h0M128.5 53h0M45 47h0M130 53.5h0M58.5 36.5h0M127.5 71.5h0M120.5 47h0M124.5 39.5h0M127.5 14h0M115 41.5h0M72.5 33.5h0M121.5 34.5h0M128 41h0M134.5 44.5h0M132.5 54.5h0M77 79.5h0M65.5 45.5h0M103 14.5h0M53.5 55.5h0M118 21.5h0M129 15h0M148 16.5h0M132 67h0M129.5 59.5h0M71 38h0M64 28.5h0M103.5 31.5h0M110 44.5h0M66.5 37h0M65 40h0M135 25h0M130 63.5h0M44.5 49h0M137 26h0M121.5 66h0M120 14.5h0M129.5 68h0M103 48.5h0M72 45.5h0M66 39.5h0M134 54.5h0M124 38h0M138.5 55.5h0M91.5 87h0M132 48.5h0M42.5 39.5h0M139.5 47h0M135 61h0M120 91.5h0M117 60h0M135.5 73.5h0M126.5 7.5h0M128 41.5h0M109.5 59h0M122.5 66.5h0M128.5 49.5h0M54 39.5h0M123 52h0M53.5 51h0M120 77h0M43 59h0M115.5 52.5h0M141.5 51h0M57 46h0M59 56h0M122 79.5h0M131 19h0M132.5 52.5h0M124 83.5h0M111.5 93.5h0M123 59h0M110.5 86h0M107.5 78.5h0M84.5 19h0M123 66.5h0M128 39.5h0M125 31.5h0M128 70.5h0M107 58.5h0M117.5 79.5h0M119.5 83h0M119 38.5h0M109 89h0M75 83.5h0M36 36.5h0M118 17.5h0M116.5 38h0M132.5 61h0M121 29h0M53 23.5h0M109 9h0M44.5 44h0M124.5 66h0M50.5 40.5h0M128.5 37h0M136.5 55h0M135.5 50.5h0M120.5 40h0M127 44.5h0M136 33h0M52.5 45.5h0M52 51h0M125 37h0M134.5 30h0M117.5 26.5h0M127 50h0M140 57h0M96 81.5h0M126.5 55h0M81.5 27h0M132 61h0M134.5 47h0" stroke="#10B5BA" stroke-width="1.6" stroke-linecap="square" fill="none"/>
<path d="M105.5 70h0M130 58.5h0M113.5 76.5h0M113.5 15h0M116 20h0M146 46.5h0M120.5 54h0M132 49h0M134 69h0M145.5 45.5h0M135 62h0M130 49h0M125.5 58h0M54.5 36.5h0M127 34.5h0M45 25.5h0M125 9.5h0M128.5 11.5h0M128.5 30.5h0M120 67h0M55.5 47h0M128 78.5h0M68 48h0M104.5 31h0M113 41.5h0M95 55.5h0M129.5 71.5h0M129.5 43.5h0M56 42h0M105.5 77.5h0M55.5 58h0M112 79h0M43 67h0M68 50.5h0M119.5 42h0M97 58.5h0M121 31h0M74.5 42h0M139.5 53.5h0M129.5 66h0M128.5 41h0M130 46h0M81.5 40.5h0M127.5 47h0M99 94.5h0M76 23.5h0M120.5 24.5h0M120.5 67h0M117 45.5h0M120 81.5h0M69.5 89h0M69 104.5h0M127 21.5h0M133 47.5h0M130 31h0M93 26h0M122.5 85.5h0M109.5 79.5h0M64 46h0M122 76h0M91 57.5h0M112.5 37h0M125.5 39.5h0M147 29.5h0M66.5 50.5h0M54.5 22.5h0M116 22h0M145.5 46.5h0M112.5 24.5h0M124.5 17h0M103.5 11.5h0M126 37.5h0M128.5 90h0M38.5 67.5h0M62 56.5h0M119 25.5h0M130.5 51h0M91 35.5h0M125 48.5h0M134 58h0M122.5 70.5h0M113.5 86h0M77 37h0M131 42.5h0M95 22h0M141 49h0M73.5 81h0M146.5 47h0M114.5 92h0M113 23.5h0M62 41h0M94.5 26h0M127 69.5h0M118.5 19.5h0M128.5 48.5h0M93 53.5h0M119 85h0M137.5 13.5h0M139.5 46.5h0M109 82.5h0M115 98.5h0M114.5 20.5h0M73 55h0M123 85h0M106 25h0M49 21.5h0M48 52.5h0M111 33.5h0M96 38.5h0M107 53h0M109.5 80h0M124.5 44.5h0M125.5 22h0M66 38.5h0M132 54.5h0M41 51h0M115 17.5h0M136.5 24h0M125.5 39h0M66.5 57.5h0M122.5 24h0M97.5 85.5h0M46 37.5h0M124.5 40.5h0M141.5 38.5h0M105.5 30.5h0M119.5 34h0M120 17.5h0M125.5 61.5h0M90 17h0M119 22.5h0M121 69.5h0M112 35h0M75 49.5h0M130 32.5h0M48.5 31h0M110.5 21.5h0M35 47h0M110.5 82h0M140 51h0M130 27.5h0M135.5 45.5h0M138.5 48.5h0M68.5 56h0M90 28h0M115.5 71.5h0M100 41h0M125.5 68.5h0M91 37h0M130.5 36.5h0M137 56h0M127 35.5h0M131 21.5h0M128.5 70.5h0M110.5 51.5h0M115.5 60h0M128 16.5h0M125.5 77h0M130 27.5h0M98 14h0M131.5 55.5h0M113 46h0M95.5 22h0M92 41.5h0M81.5 48.5h0M84.5 96h0M112.5 29h0M137 31.5h0M101 94h0M111.5 90h0M111.5 41h0M86 26.5h0M140 64.5h0M37 46h0M127 73h0M133 53h0M110.5 37h0M129.5 69.5h0M130 8.5h0M110.5 41.5h0M55.5 33h0M72 59h0M132 40.5h0M105 30h0M132 85h0M127 70h0M122 56h0M130 62h0M130 47h0M69.5 36h0M134 27h0M134 72h0M95 81.5h0M124 86.5h0M98 73.5h0M64 81h0M111.5 55h0M115.5 28.5h0M117.5 31h0M62.5 38h0M116.5 53h0M123 36.5h0M133.5 44h0M53.5 60h0M117.5 76.5h0M134 23h0M36.5 52h0M127.5 99.5h0M116.5 85h0M119.5 28.5h0M64 46.5h0M116 82.5h0M71.5 43.5h0M116.5 36.5h0M82.5 75h0M126 40.5h0M123.5 65.5h0M114 49h0M127.5 36.5h0M129.5 31.5h0M136.5 49.5h0M41 18h0M129.5 54.5h0M111.5 15.5h0M125 85h0M123.5 63h0M103 23.5h0M105.5 76.5h0M132.5 42.5h0M138 58.5h0M118.5 50h0M128 35h0M107 33h0M118 90h0M55 51.5h0M76 48h0M131 49.5h0M106.5 17h0M119 38h0M100.5 54.5h0M83 53h0M98 76.5h0M131.5 44h0M125.5 16h0M76 51.5h0M126.5 96.5h0M132.5 56h0M93.5 37.5h0M119.5 76h0M135 84.5h0M120 59.5h0M120 57h0M119 22h0M118 85.5h0M113 29h0M130.5 65.5h0M116 80h0M129 8h0M103.5 85h0M124.5 41h0M116.5 41h0M104.5 39.5h0M133.5 75.5h0M138.5 40h0M130 37.5h0M133.5 41h0M147 68h0M119.5 27.5h0M108.5 26h0M128.5 23.5h0M83.5 33h0M135 30.5h0M117.5 23.5h0" stroke="#EE6F68" stroke-width="1.6" stroke-linecap="square" fill="none"/>
<path d="M73 50h0M128.5 44h0M78 68h0M137.5 58.5h0M77.5 61h0M60.5 42.5h0M106 85h0M128.5 36.5h0M133 36h0M117 39h0M55 61.5h0M63.5 30h0M128 77h0M114.5 36h0M79 73.5h0M118.5 23.5h0M136 53h0M118 20.5h0M110 28.5h0M112 35h0M130.5 41h0M92.5 30.5h0M94 71h0M130 71.5h0M126.5 26.5h0M46 56h0M108 61.5h0M130 21.5h0M57.5 53.5h0M134 43h0M122 38h0M132 22.5h0M133.5 24.5h0M118 53h0M120 29h0M37.5 38h0M135.5 53h0M127 59.5h0M132.5 34.5h0M140 81h0M117.5 39h0M102 24h0M126 43h0M75.5 45h0M46.5 41.5h0M115 66h0M138.5 61h0M114.5 53.5h0M139 53.5h0M106.5 50h0M80.5 51.5h0M70 47.5h0M130 40.5h0M131 42.5h0M112 21h0M59.5 55.5h0M119.5 14h0M52 20h0M36.5 36h0M88 32.5h0M129 72h0M45 35.5h0M133 63.5h0M132.5 38.5h0M126 27h0M106 37h0M44 25.5h0M91 52.5h0M145 32h0M118 85.5h0M67 23h0M119.5 50h0M34.5 42h0M132.5 70h0M109 33h0M131.5 80.5h0M127.5 64h0M119.5 73h0M47.5 38h0M137.5 67h0M106.5 32.5h0M129 47.5h0M116.5 34.5h0M52.5 34h0M132 73h0M113 92.5h0M41.5 23h0M107.5 65.5h0M121.5 37.5h0M114 26.5h0M114 29h0M80.5 38.5h0M74 22h0M112.5 61h0M60 51h0M143.5 36h0M68.5 59.5h0M138 57h0M62 54.5h0M132.5 42.5h0M61.5 55h0M94 30h0M75 36h0M117 28h0M127.5 63.5h0M112 63.5h0M84 49h0M137 54.5h0M132 58.5h0M112.5 30h0M107 53h0M132.5 47h0M135.5 28h0M118.5 51h0M140 42.5h0M121.5 30.5h0M61 49h0M116 61.5h0M110.5 69.5h0M120 20.5h0M137.5 52h0M72.5 55.5h0M125.5 62h0M127 58h0M105 16.5h0M141 42h0M134 48h0M126 87.5h0M98 78h0M120.5 33h0M49.5 50h0M133 58.5h0M127 43.5h0M139.5 37.5h0M113 35h0M135.5 35.5h0M98.5 25h0M129 34h0M130.5 26.5h0M131 53.5h0M127.5 34h0M108.5 45h0M118.5 21.5h0M128.5 63h0M56.5 48h0M65.5 36h0M138 73.5h0M47 26.5h0M125 69.5h0" stroke="#10B5BA" stroke-width="1.6" stroke-linecap="square" fill="none"/>
<path d="M124.5 74h0M138.5 60h0M102.5 37.5h0M121 32.5h0M114 44h0M122.5 34.5h0M68.5 50h0M109 64h0M98.5 106h0M78.5 66h0M114.5 28h0M123.5 25h0M116 24h0M113.5 43.5h0M122 46.5h0M139.5 81.5h0M142 33h0M132.5 52h0M108 75.5h0M122.5 40h0M144 25.5h0M136 37.5h0M122 33.5h0M71 61h0M129.5 14.5h0M127.5 44.5h0M120 39.5h0M114.5 41.5h0M96 26.5h0M123 64.5h0M47 28.5h0M113.5 59h0M123 26.5h0M62 16.5h0M101 79h0M93 70.5h0M136.5 55h0M99 34h0M128.5 62.5h0M131.5 52.5h0M81.5 35.5h0M61.5 69h0M123 68h0M89 28.5h0M116.5 21.5h0M113 55h0M71 37.5h0M106 44h0M114 81h0M130 58.5h0M128.5 19h0M137.5 57h0M109 35h0M55.5 59h0M46.5 29.5h0M48 36.5h0M131.5 26.5h0M131 33.5h0M113.5 74.5h0M77.5 51.5h0M134 34.5h0M86 70h0M127.5 22.5h0M50.5 38.5h0M118.5 35.5h0M138 63.5h0M127 41h0M37 26.5h0M123 47h0M35 44h0M132 57h0M119 43.5h0M115.5 34.5h0M141.5 88.5h0M134 44h0M83.5 65h0M113.5 18h0M122 55h0M36.5 55h0M130.5 53.5h0M135.5 53h0M77.5 43.5h0M108 14h0M133.5 44h0M74 64.5h0M135 40.5h0M121 72h0M122 84.5h0M75 48h0M126.5 44.5h0M111.5 84.5h0M132 60h0M148 74h0M83.5 38.5h0M70.5 103.5h0M109.5 32h0M127.5 60h0M91.5 37.5h0M69 44h0M90.5 33h0M112.5 31.5h0M139 38h0M123.5 32.5h0M95.5 48h0M129.5 79.5h0M131.5 29.5h0M145 43.5h0M98.5 33.5h0M142.5 28h0M99 103h0M49 53h0M45 51h0M118 19h0M151 51h0M121 6h0M72 31h0M87 32.5h0M136 41h0M116.5 22h0M123.5 15.5h0M118 72h0M132 28.5h0M129 28h0M45 44h0M104.5 20.5h0M123.5 22h0M123 60h0M132 57h0M46.5 46h0M128 47.5h0M81.5 35h0M59.5 43h0M122 84h0M136.5 15h0M123.5 73h0M94 25.5h0M129 38.5h0M133 35h0M121.5 31h0M138.5 57.5h0M99 39h0M124.5 45.5h0M46 53.5h0M71 42.5h0M126.5 53.5h0M109.5 91h0M107.5 90.5h0M126 37.5h0M61.5 38.5h0M81 75.5h0M112.5 80.5h0M142 64h0M45 64.5h0M61 58.5h0M99.5 42.5h0M87.5 40h0M129.5 41.5h0M120 32.5h0M129 38h0M55 28.5h0M124 35h0M110 42h0M79 41h0M126 32h0M109.5 48.5h0M101.5 24.5h0M114.5 42h0M119 63.5h0M133 58.5h0M102 43.5h0M88.5 53.5h0M130 72.5h0M80 41.5h0M109 32.5h0M131.5 62h0M121 24h0M111 36.5h0M141 37h0M118.5 19h0M110.5 40.5h0M102 33h0M128.5 24h0M112 54h0M47 51.5h0M110.5 40h0M133.5 63.5h0M130 63.5h0M117 39.5h0M124 14.5h0M119 36.5h0M134 66h0M120 28.5h0M117.5 74h0M102.5 34h0M35.5 54h0M97 61.5h0M78 40h0M130 40h0M76.5 44.5h0M122 58h0M120 8h0M107 84h0M117.5 37.5h0M120.5 55h0M135.5 43h0M102 71h0M55.5 62h0M116 32h0M138 22.5h0M104.5 70.5h0M107 38.5h0M117.5 23h0M64.5 34.5h0M138 36.5h0M115.5 60h0M124.5 30h0M125 66.5h0M39 37.5h0M97.5 41.5h0M124.5 70.5h0M120 38.5h0M125 77.5h0M68.5 66h0M118.5 48h0M68.5 46.5h0M121 16.5h0M134.5 52h0M111 67.5h0M116 78.5h0M92 51.5h0M118 58h0M105 23h0M115 51.5h0M113.5 41h0M123.5 72h0M61 33h0M130.5 9h0M141.5 24.5h0M104.5 28h0M62 41.5h0M131.5 42h0M143.5 76.5h0M117 31.5h0M96.5 37h0M144 36.5h0M121 31h0M116.5 97.5h0M124.5 45h0M111 78.5h0M129 70h0M47.5 39.5h0M124 58.5h0M117.5 38.5h0M132.5 53h0M68.5 17.5h0M96.5 81h0M131.5 55.5h0M44 60h0M111 72h0M66 40.5h0M110.5 79h0M132 54.5h0M119 15.5h0M124 33h0M94.5 40.5h0M119.5 82h0M134.5 23.5h0M55.5 42.5h0M75.5 34h0M130.5 62h0M124 61.5h0M130 28h0M98.5 55.5h0M119.5 39.5h0M116 46.5h0M107 24h0M130.5 57.5h0M116.5 37.5h0M131.5 28h0M120.5 78.5h0M94 56h0M127.5 37.5h0M107 22.5h0M125 54.5h0M120.5 82.5h0" stroke="#EE6F68" stroke-width="1.6" stroke-linecap="square" fill="none"/>
<path d="M111 91h0M146 28.5h0M130.5 63h0M136 51.5h0M124 24.5h0M111.5 48.5h0M131.5 69h0M124.5 34h0M126 45.5h0M70.5 41h0M105.5 69h0M139 78h0M117 77.5h0M114 41h0M114.5 36.5h0M128 48h0M124 27.5h0M51.5 57h0M135.5 33h0M146 39.5h0M61.5 29h0M108.5 81.5h0M131.5 47h0M125 57.5h0M132 46.5h0M116.5 26.5h0M118 90h0M68.5 64h0M118.5 48h0M131.5 70h0M51.5 41.5h0M62.5 61.5h0M116.5 52.5h0M83.5 21h0M127.5 77.5h0M134.5 72.5h0M122.5 28h0M117 78h0M60.5 62.5h0M78.5 31h0M128.5 50.5h0M105.5 26.5h0M108 75.5h0M115.5 42h0M118 86h0M108 73h0M130.5 65.5h0M75 20.5h0M109.5 85h0M111.5 23h0M80.5 37h0M119 64.5h0M133 68h0M121 55h0M127.5 21h0M125.5 42.5h0M107.5 70h0M135 56.5h0M115 23.5h0M86.5 64h0M131 54h0M127.5 59h0M124 59.5h0M107.5 34h0M103.5 74h0M117.5 41.5h0M100.5 32.5h0M126 11.5h0M115.5 45.5h0M131.5 38.5h0M111 46.5h0M121.5 18h0M82.5 30h0M135 65.5h0M70 48.5h0M126.5 60.5h0M113.5 29h0M110 29.5h0M89.5 51h0M80 46.5h0M124.5 44.5h0M43.5 50.5h0M116.5 89.5h0M119 79.5h0M121 29.5h0M119.5 30.5h0M93.5 75.5h0M110.5 18.5h0M113 49.5h0M135 47.5h0M131 61.5h0M87 45.5h0M68 48h0M137.5 64.5h0M106 41h0M113 90h0M129 47.5h0M67.5 33.5h0M125.5 21.5h0M139 80h0M116.5 49h0M117 42.5h0M110 40.5h0M120 72h0M131.5 35h0M104 74h0M138 75h0M124.5 48.5h0M144.5 37h0M142.5 34h0M108.5 86h0M89.5 38h0M54.5 48.5h0M128 29h0M49 53.5h0M129 44h0M114 55h0M126.5 82.5h0M123 37h0M123.5 56.5h0M118 52h0M80.5 46h0M119.5 85.5h0M70 25h0M121.5 55.5h0M110.5 43.5h0M120 21h0M115.5 61h0M134.5 59.5h0M72.5 44.5h0M136.5 51.5h0M119 45h0M94.5 32.5h0M132 25.5h0M55 36.5h0M90 37.5h0M133.5 65.5h0" stroke="#10B5BA" stroke-width="1.6" stroke-linecap="square" fill="none"/>
<rect x="29.5" y="1.4" width="131.9" height="108.8" fill="none" stroke="#4d4d4d" stroke-width=".9"/>
<line x1="39.2" y1="110.2" x2="39.2" y2="112.4" stroke="#4d4d4d" stroke-width=".8"/>
<text x="39.2" y="120.4" font-size="8.6" text-anchor="middle" fill="#3d3d3d" transform="matrix(1 0 0 1.1 0 -12)">−10</text>
<line x1="72.7" y1="110.2" x2="72.7" y2="112.4" stroke="#4d4d4d" stroke-width=".8"/>
<text x="72.7" y="120.4" font-size="8.6" text-anchor="middle" fill="#3d3d3d" transform="matrix(1 0 0 1.1 0 -12)">−5</text>
<line x1="106.2" y1="110.2" x2="106.2" y2="112.4" stroke="#4d4d4d" stroke-width=".8"/>
<text x="106.2" y="120.4" font-size="8.6" text-anchor="middle" fill="#3d3d3d" transform="matrix(1 0 0 1.1 0 -12)">0</text>
<line x1="139.7" y1="110.2" x2="139.7" y2="112.4" stroke="#4d4d4d" stroke-width=".8"/>
<text x="139.7" y="120.4" font-size="8.6" text-anchor="middle" fill="#3d3d3d" transform="matrix(1 0 0 1.1 0 -12)">5</text>
<line x1="27.3" y1="109.2" x2="29.5" y2="109.2" stroke="#4d4d4d" stroke-width=".8"/>
<text x="25.8" y="112.3" font-size="8.6" text-anchor="end" fill="#3d3d3d" transform="matrix(1 0 0 1.1 0 -11.2)">−10</text>
<line x1="27.3" y1="79.2" x2="29.5" y2="79.2" stroke="#4d4d4d" stroke-width=".8"/>
<text x="25.8" y="82.3" font-size="8.6" text-anchor="end" fill="#3d3d3d" transform="matrix(1 0 0 1.1 0 -8.2)">−5</text>
<line x1="27.3" y1="49.2" x2="29.5" y2="49.2" stroke="#4d4d4d" stroke-width=".8"/>
<text x="25.8" y="52.3" font-size="8.6" text-anchor="end" fill="#3d3d3d" transform="matrix(1 0 0 1.1 0 -5.2)">0</text>
<line x1="27.3" y1="19.2" x2="29.5" y2="19.2" stroke="#4d4d4d" stroke-width=".8"/>
<text x="25.8" y="22.3" font-size="8.6" text-anchor="end" fill="#3d3d3d" transform="matrix(1 0 0 1.1 0 -2.2)">5</text>
<text x="88.5" y="130" font-size="8.1" text-anchor="middle" transform="matrix(1 0 0 1.1 0 -13)">PC3, 1.74% variation</text>
<text x="8" y="62.6" font-size="8.1" text-anchor="middle" transform="rotate(-90 8 62.6) matrix(1 0 0 1.1 0 -6.3)">PC4, 0.93% variation</text>
<text x="172.5" y="48.5" font-size="8" transform="matrix(1 0 0 1.1 0 -4.9)">Cohort</text>
<circle cx="175.9" cy="57.1" r="2.7" fill="#EE6F68"/>
<text x="183.5" y="59.7" font-size="7" transform="matrix(1 0 0 1.1 0 -6)">METABRIC</text>
<circle cx="175.9" cy="65.5" r="2.7" fill="#10B5BA"/>
<text x="183.5" y="68.1" font-size="7" transform="matrix(1 0 0 1.1 0 -6.8)">TCGA</text>
<text x="231.3" y="8" font-size="8.5" font-weight="bold" transform="matrix(1 0 0 1.1 0 -.8)">b</text>
<line x1="287.4" y1="1.4" x2="287.4" y2="109.8" stroke="#ebebeb" stroke-width=".5"/>
<line x1="323.4" y1="1.4" x2="323.4" y2="109.8" stroke="#ebebeb" stroke-width=".5"/>
<line x1="359.6" y1="1.4" x2="359.6" y2="109.8" stroke="#ebebeb" stroke-width=".5"/>
<line x1="395.6" y1="1.4" x2="395.6" y2="109.8" stroke="#ebebeb" stroke-width=".5"/>
<line x1="260.3" y1="94.1" x2="399.4" y2="94.1" stroke="#ebebeb" stroke-width=".5"/>
<line x1="260.3" y1="64.1" x2="399.4" y2="64.1" stroke="#ebebeb" stroke-width=".5"/>
<line x1="260.3" y1="34.1" x2="399.4" y2="34.1" stroke="#ebebeb" stroke-width=".5"/>
<line x1="260.3" y1="4.1" x2="399.4" y2="4.1" stroke="#ebebeb" stroke-width=".5"/>
<line x1="269.3" y1="1.4" x2="269.3" y2="109.8" stroke="#ebebeb" stroke-width=".9"/>
<line x1="305.4" y1="1.4" x2="305.4" y2="109.8" stroke="#ebebeb" stroke-width=".9"/>
<line x1="341.5" y1="1.4" x2="341.5" y2="109.8" stroke="#ebebeb" stroke-width=".9"/>
<line x1="377.6" y1="1.4" x2="377.6" y2="109.8" stroke="#ebebeb" stroke-width=".9"/>
<line x1="260.3" y1="109.1" x2="399.4" y2="109.1" stroke="#ebebeb" stroke-width=".9"/>
<line x1="260.3" y1="79.1" x2="399.4" y2="79.1" stroke="#ebebeb" stroke-width=".9"/>
<line x1="260.3" y1="49.1" x2="399.4" y2="49.1" stroke="#ebebeb" stroke-width=".9"/>
<line x1="260.3" y1="19.1" x2="399.4" y2="19.1" stroke="#ebebeb" stroke-width=".9"/>
<path d="M303.5 39.5h0M300 48.5h0M323.5 66.5h0M337 80h0M293 48h0M281 56h0M352.5 26h0M306 21h0M268.5 48.5h0M298 41.5h0M343 42h0M309.5 38.5h0M308.5 52.5h0M359.5 94h0M315.5 87.5h0M296.5 20h0M296 27h0M280.5 43.5h0M358.5 28.5h0M302.5 68.5h0M305.5 35h0M385 79h0M307.5 36h0M271.5 35h0M335 33.5h0M326 36h0M300 47h0M291 35h0M311 43.5h0M274.5 60.5h0M312.5 83.5h0M302 55.5h0M281.5 54h0M310.5 32.5h0M281.5 33.5h0M349.5 50h0M289.5 61.5h0M299.5 44.5h0M307.5 59.5h0M345 61.5h0M287 42h0M273 42h0M281 32.5h0M311.5 33h0M284.5 42.5h0M309.5 46h0M300 31h0M336 87h0M282 42h0M375 43.5h0M303.5 34.5h0M346 35.5h0M333 99.5h0M268 38h0M291.5 49.5h0M294 32h0M277 34h0M278 35.5h0M269 30h0M278.5 22h0M366 18h0M300 46.5h0M342.5 58h0M376 63h0M329 72.5h0M304.5 57h0M360 66.5h0M346 28.5h0M286.5 48.5h0M308.5 66.5h0M290.5 50h0M264.5 42h0M306 44h0M268.5 37.5h0M334.5 43.5h0M275.5 62h0M368.5 21h0M267.5 60.5h0M351.5 26h0M314.5 29.5h0M283.5 42.5h0M275 30.5h0M277 57h0M273 41h0M297 50h0M370.5 57h0M346 20.5h0M285.5 34h0M368.5 61h0M328 46.5h0M302 33h0M302.5 56.5h0" stroke="#440154" stroke-width="1.6" stroke-linecap="square" fill="none"/>
<path d="M367.5 50.5h0M340.5 41.5h0M372.5 60h0M336 27h0M327 28h0M371.5 42h0M361.5 51.5h0M380 44h0M303 33h0M361 49.5h0M385 54.5h0M364 43.5h0M352 26.5h0M367.5 53.5h0M353 103.5h0M377 44.5h0M367.5 15.5h0M347.5 75h0M369.5 33h0M366.5 23h0M388 49h0M358.5 17.5h0M372 42h0M361 48h0M369 56.5h0M376 48.5h0M356 34h0M362.5 39h0M355 33h0M373.5 54h0M367.5 40h0M329 81.5h0M313.5 38h0M379 25.5h0M353.5 47.5h0M345.5 60.5h0M359.5 18.5h0M355.5 63h0M344.5 59.5h0M361.5 82.5h0M367 24.5h0M309 47h0M366 41.5h0M362.5 32h0M341 44h0M374.5 39h0M366.5 68h0M356.5 35.5h0M368.5 23.5h0M363 25.5h0M361 50h0M362 50h0M344.5 80.5h0M353.5 14h0M342 23.5h0M345.5 72.5h0M343.5 11h0M310.5 50h0M357.5 54.5h0M268.5 38h0M351 28.5h0M354.5 89h0M367 26.5h0M316.5 15h0M346 79.5h0M339.5 47.5h0M359 52h0M363 19.5h0M354.5 30h0M362.5 12h0M367 42h0M323 73.5h0M365 82.5h0M364.5 50.5h0M352.5 48.5h0M347.5 28h0M373 89h0M344 35.5h0M369 42.5h0M370.5 33.5h0M377 56h0M366.5 28h0M356.5 35.5h0M374 25.5h0M346 81h0M353.5 37.5h0M333 39.5h0M350.5 49.5h0M342 66h0M319 30h0M352 14h0M316.5 73h0M350.5 7h0M362.5 53.5h0M379 40.5h0M305.5 59.5h0M361 62.5h0M365 61.5h0M361.5 25.5h0M366 33h0M315 31.5h0M357 38h0M377.5 63h0M353.5 81.5h0M364 68h0M369 56.5h0M333 25.5h0M352.5 53h0M375 67h0M362 55.5h0M368 31h0M363.5 44h0M363.5 39.5h0M285.5 32.5h0M369 58h0M352.5 47.5h0M325 23h0M353 55h0M374.5 15.5h0M351.5 31h0M359.5 60.5h0M355 18.5h0M353.5 78.5h0M373 39.5h0M364 42h0M363 27.5h0M341 76h0M379.5 25h0M356.5 49h0M348 53h0M358 51.5h0M358.5 82h0M364.5 73h0M359.5 35h0M311.5 83h0M368.5 43h0M350.5 92h0M345.5 38h0M376 50h0M336.5 96.5h0M361.5 33.5h0M312 34h0M338 29h0M363.5 38.5h0M366.5 38h0M365 48.5h0M363.5 26h0M350.5 80h0M372 38h0M361.5 34.5h0M362.5 15h0M358 56h0M325 41h0M347 20.5h0M337 18.5h0M346.5 49h0M375.5 55.5h0M371 36.5h0M366.5 90h0M313.5 104.5h0M334 24.5h0M362 44h0M355 46h0M337.5 88h0M341 24h0M358 57.5h0M370.5 35h0M362.5 7.5h0M348.5 23h0M354 34.5h0M364.5 40.5h0M362.5 41.5h0M350 43h0M353 62.5h0M340 58h0M343 34h0M350 25.5h0M370 70h0M377.5 70h0M299 51.5h0M374.5 57h0M361 57.5h0M348.5 81h0M356 62h0M369.5 27.5h0M311.5 102.5h0M359 31h0M355.5 44h0M367.5 74.5h0M367.5 53h0M355 50h0M363 23.5h0M361 55h0M363.5 67.5h0M322.5 43.5h0M365 26.5h0M358.5 67.5h0M364.5 75.5h0M353 22h0M382.5 61.5h0M343.5 81h0M297.5 72.5h0M358.5 42h0M308.5 34h0M348.5 44.5h0M362.5 17.5h0M368.5 71.5h0M368 63h0M340.5 74.5h0M378.5 38h0M314.5 24.5h0M373.5 50.5h0M368.5 54.5h0M347.5 27.5h0M356.5 40.5h0M354.5 41.5h0M311.5 23.5h0M344.5 90h0M359 84.5h0M335.5 54h0M337.5 71h0M365 31.5h0M363 48.5h0M347 35.5h0M371.5 26h0M354 66.5h0M363.5 72h0M333.5 42h0M375 36h0M313.5 31.5h0M339.5 39h0M339 64.5h0M371 72.5h0M358.5 68h0M366.5 47.5h0M352 33h0M302.5 36.5h0M349.5 26h0M349 36h0M362.5 19.5h0M347 19.5h0M352.5 78.5h0M330 31h0M363 33.5h0M361.5 38h0M356.5 39.5h0M362 29.5h0M349.5 52h0M355.5 64.5h0M371 35.5h0M348.5 43h0M365 48h0M365 38h0M311.5 91h0M379 61h0M339 52.5h0M346 88.5h0M354 40h0M376.5 59h0M353 48h0M375 24h0M370.5 45h0M358.5 27h0M355 55h0M357 29.5h0M357 59.5h0M363.5 56.5h0M335.5 20h0M351 50.5h0M378.5 42.5h0M363 33.5h0M332 22.5h0M317.5 37.5h0M370 56.5h0M336 9.5h0M299 99.5h0M371.5 45h0M349.5 34h0M353.5 88h0M371 62h0M361 91h0M353.5 44h0M359.5 25h0M340.5 91h0M353.5 63h0M351.5 31h0M312 35h0M359 20.5h0M367.5 67h0M362.5 90h0M350.5 47.5h0M346 74.5h0M366.5 39.5h0M359.5 68.5h0M363.5 35h0M364.5 37.5h0M347.5 33h0M364.5 17h0M345.5 41.5h0M362 38h0M360.5 63h0M319 84.5h0M328 30h0M376 49.5h0M386 14h0M357 27.5h0M348 22h0M336.5 41.5h0M360 54h0M328.5 41h0M345 29.5h0M352.5 76.5h0M381 43.5h0M349 83h0M345 89.5h0M345.5 82.5h0M354.5 55.5h0M348 95.5h0M358 32.5h0M368.5 54.5h0M372.5 16h0M340 26.5h0M333 35h0M355.5 50h0M370 67h0M346 16h0M344.5 81h0M351 80h0M333.5 71h0" stroke="#F3E528" stroke-width="1.6" stroke-linecap="square" fill="none"/>
<path d="M311.5 23h0M320 47.5h0M379.5 6.5h0M292 32.5h0M316 43h0M306.5 31.5h0M299.5 25h0M324 34h0M285.5 60h0M302.5 50.5h0M302.5 39.5h0M281 44.5h0M331 39.5h0M318 44h0M287.5 43.5h0M295.5 25.5h0M281 45.5h0M364 11.5h0M301 57.5h0M281 72.5h0M274.5 39h0M287.5 48.5h0M308 63.5h0M305.5 44h0M297 44.5h0M299 68h0M322 33h0M307 56h0M282 49.5h0M304.5 57.5h0M299.5 37.5h0M300 67h0M351.5 79h0M278.5 47h0M313 45.5h0M284.5 40h0M296 60h0M303 34.5h0M341.5 23h0M334.5 38.5h0M274.5 25h0M311 94h0M359.5 86h0M286.5 38.5h0M305 43h0M370.5 19.5h0M361 23h0M269.5 65.5h0M358 81.5h0M284 32h0M306.5 34.5h0M379 30.5h0M320.5 39h0M268.5 61h0M303.5 58h0M326 61h0M279 34h0M294.5 55.5h0M299.5 46h0M313.5 44.5h0M296 52h0M372.5 17h0M345 23.5h0M283.5 43h0M313 36h0M307 30.5h0M366.5 34h0M267.5 37.5h0M372 42h0M306.5 66h0M271 24.5h0M324 32h0M319.5 31h0M300 52.5h0M348 51.5h0M292.5 63.5h0M342.5 84h0M302 44h0M293 45h0M357.5 78.5h0M271.5 23h0M296.5 41h0M272.5 59.5h0M269.5 40.5h0M270 33.5h0M287.5 39h0M357.5 53.5h0M301 44h0M359.5 34h0M344 48.5h0" stroke="#440154" stroke-width="1.6" stroke-linecap="square" fill="none"/>
<path d="M344 39.5h0M359 59h0M349 39h0M355 60.5h0M357 43h0M353.5 36.5h0M376 49h0M368 11h0M333 27.5h0M347 23.5h0M364.5 39.5h0M311.5 22h0M358 23h0M356.5 53.5h0M351 83.5h0M364 15h0M366 44.5h0M355.5 29h0M360 28h0M352 41h0M368 55.5h0M351.5 8h0M351 41h0M346.5 74h0M305 73.5h0M354 26h0M354.5 93.5h0M348 51h0M375 42h0M363 26.5h0M337 28h0M376 96.5h0M367.5 45.5h0M355.5 86h0M359 14h0M346.5 36h0M315.5 89h0M346.5 45.5h0M318 44h0M366.5 60h0M348 80h0M354.5 82h0M378.5 60h0M367.5 44.5h0M354.5 53h0M353 9.5h0M359 35h0M355 38.5h0M364 56h0M355.5 69h0M372.5 30h0M379.5 51.5h0M353.5 53h0M364 94h0M364 64h0M357.5 27.5h0M377.5 30h0M371 46h0M356.5 73.5h0M361 46.5h0M350 32h0M364.5 33h0M378.5 34.5h0M376 76.5h0M361 26.5h0M343.5 69h0M343.5 26.5h0M365.5 54h0M320.5 52h0M366.5 99.5h0M375 42.5h0M363.5 58.5h0M375 50.5h0M363 55.5h0M370 50.5h0M371 42h0M384.5 48.5h0M372 86h0M338.5 16.5h0M346.5 36.5h0M369.5 79h0M353.5 26h0M384 46.5h0M353.5 62.5h0M357 27.5h0M376 10.5h0M383.5 44.5h0M358.5 49.5h0M364.5 84.5h0M358 20.5h0M354.5 19.5h0M352 70.5h0M360 6.5h0M362 52.5h0M343.5 74.5h0M388 62h0M332.5 34.5h0M378 83.5h0M352.5 62h0M364 22.5h0M369 53h0M374 38.5h0M358 66h0M340 71h0M379.5 56.5h0M360 48h0M357.5 23.5h0M360.5 47h0M344 81.5h0M368 24h0M340 47h0M363 49h0M366.5 78.5h0M349.5 32h0M355.5 37.5h0M368 44h0M360.5 73.5h0M355 49.5h0M356.5 6h0M378 71.5h0M370 19.5h0M361.5 29.5h0M376 50.5h0M370 49.5h0M364.5 31h0M373 40h0M347 33.5h0M385.5 57.5h0M358.5 52h0M350 32h0M363.5 71h0M371.5 55h0M376 43h0M357 25.5h0M337.5 17.5h0M363 50h0M356.5 36h0M351 106h0M370 52.5h0M327.5 32.5h0M331.5 103h0M363 41h0M361.5 18h0M284.5 21h0M363.5 57h0M331.5 34.5h0M362.5 55h0M354.5 52h0M376 53h0M372 78h0M372.5 36h0M311.5 92h0M359.5 31.5h0M366 42.5h0M357 50.5h0M380 85.5h0M374 41h0M339 22.5h0M352.5 81.5h0M325 39h0M347 81h0M371.5 29h0M370 54h0M349 34.5h0M368.5 72h0M328.5 47.5h0M367.5 39.5h0M347.5 72h0M348.5 38h0M367.5 43.5h0M384 32.5h0M353 81.5h0M320.5 24h0M366.5 45h0M359 72h0M380 62h0M360 45h0M364.5 26h0M376.5 78.5h0M359 46h0M347 82.5h0M355.5 37h0M354 17.5h0M375.5 38h0M323.5 49h0M301.5 77.5h0M346.5 39.5h0M381 35.5h0M375.5 52h0M355 39h0M350.5 73h0M367 40.5h0M363 78h0M372 60h0M351.5 57.5h0M299 26.5h0M368 41.5h0M307 80h0M369.5 31h0M360 69.5h0M309 22h0M341.5 71.5h0M362 44h0M336 27.5h0M361 21h0M348 77h0M307.5 27.5h0M350 42.5h0M352 28h0M358.5 31.5h0M358.5 52h0M365.5 22.5h0M350.5 44h0M358 77.5h0M367.5 39.5h0M343.5 69.5h0M343 37.5h0M363 60.5h0M350.5 77.5h0M365.5 53h0M359.5 71h0M323.5 33h0M361.5 59h0M370 68.5h0M355.5 35h0M358.5 14.5h0M350.5 53h0M365.5 38h0M375 32h0M370.5 25.5h0M361 37.5h0M373.5 30.5h0M374 35h0M359 52h0M380.5 57.5h0M346 85.5h0M368 27.5h0M320.5 32h0M354.5 8h0M371.5 59.5h0M371 39h0M338 15.5h0M340.5 32h0M351.5 87.5h0M335 72.5h0M320.5 83h0M327.5 17h0M354 26h0M353 40.5h0M350.5 44h0M376 38.5h0M349.5 33.5h0M372.5 40.5h0M356 58.5h0M370 31h0M385.5 54.5h0M326.5 15.5h0M364 52h0M374.5 37.5h0M372.5 41.5h0M343.5 32.5h0M346.5 26h0M346.5 69.5h0M340 39.5h0M341 32h0M370.5 31h0M363 10.5h0M364 30.5h0M370 15.5h0M366 68h0M348.5 36h0M357.5 32.5h0M320.5 57h0M370 33.5h0M352 77.5h0M346.5 22.5h0M352 76h0M367.5 38.5h0M347 16h0M363.5 42h0M364.5 52.5h0M357 10.5h0M366 40h0M359 50.5h0M350 49h0M342.5 73.5h0M368.5 38.5h0M358.5 34.5h0M333.5 25.5h0M369.5 51.5h0M363.5 34.5h0M373 59.5h0M357.5 65.5h0M371 33h0M347.5 31h0M358.5 83h0M353.5 31.5h0M359 27.5h0M369 56h0M364.5 30.5h0M364.5 52h0M359 64h0M371 55h0M386.5 63h0M362.5 16.5h0M349 63h0M334 27.5h0M357.5 55h0M364.5 32h0M371 58h0M364 64h0M343 22h0M351.5 27h0M353.5 77h0M360.5 47.5h0M376.5 33.5h0M362.5 47h0M350.5 67h0M368.5 58h0M355.5 37.5h0M368 46.5h0M363 48.5h0M356.5 61h0M377 51h0M369 80h0M364 49h0M356.5 43h0M355 26.5h0M321.5 100.5h0M344 36.5h0M369.5 51.5h0M335.5 27h0" stroke="#F3E528" stroke-width="1.6" stroke-linecap="square" fill="none"/>
<path d="M366.5 65h0M355 39h0M320 54.5h0M306.5 44h0M369 42h0M346.5 18.5h0M361.5 43.5h0M374 56.5h0M353 52h0M356.5 19.5h0M356 68.5h0M342.5 17h0M347.5 17h0M361 94h0M364.5 64.5h0M355 10.5h0M361 28h0M359 61.5h0M353 47h0M348.5 58h0M368 35h0M337.5 9h0M349.5 82.5h0M373 56.5h0M375.5 52.5h0M363 67h0M351.5 10.5h0M370 38.5h0M375 79h0M349 61.5h0M352.5 35h0M363.5 36h0M313 58h0M364.5 30.5h0M359 54h0M367.5 51.5h0M360 45.5h0M361 42h0M351.5 70h0M359.5 75h0M373 60h0M369.5 67h0M370 28h0M353.5 24.5h0M368.5 49h0M360 27h0M362.5 66.5h0M374.5 57.5h0M350.5 23.5h0M371 38h0M372.5 62h0M358 47h0M370 44h0M381 35h0M293.5 59h0M358 35.5h0M369 69.5h0M299.5 31.5h0M371 42h0M357.5 55h0M365.5 55.5h0M378 9.5h0M353.5 71.5h0M339 24h0M357 37h0M356.5 85h0M330 42h0M356 61.5h0M356.5 61h0M356.5 54h0M349.5 48.5h0M366 28h0M364 43.5h0M381.5 68h0M357 50.5h0M363 43h0M352.5 18.5h0M374 76.5h0M317 41.5h0M361.5 63.5h0M366 65.5h0M350.5 86h0M383.5 74h0M357.5 54.5h0M367.5 76.5h0M305 36h0M363 29h0M355 30.5h0M333 93.5h0M353.5 25.5h0M349 58.5h0M368 62.5h0M368 37.5h0M358.5 65h0M296.5 65h0M346.5 90h0M330 26h0M297 39.5h0M367.5 27.5h0M345.5 66h0M346 19.5h0M370 54.5h0M368.5 80h0M356 67.5h0M367.5 69h0M363 42.5h0M339.5 56.5h0M354.5 53.5h0M370 39.5h0M353 78.5h0M361 27.5h0M353.5 39h0M378.5 35.5h0M377.5 35h0M355.5 21.5h0M366 21.5h0M350 57h0M371 50.5h0M374.5 35.5h0M365 42h0M363.5 25h0M356.5 35.5h0M361 38h0M349.5 59.5h0M348 41.5h0M360.5 60.5h0M379.5 42.5h0M354 52h0M353.5 76h0M360.5 69.5h0M367.5 69.5h0M358 39h0M375.5 59h0M365.5 46.5h0M345.5 34.5h0M390 48h0M358.5 41h0M371.5 73.5h0M354.5 66.5h0M364.5 64h0M299 59h0M365.5 60h0M357 56h0M381.5 46.5h0M353.5 27.5h0M369.5 38.5h0M375 50h0M360 50h0M355 19.5h0M347 60.5h0M350 61h0M349.5 19.5h0M363.5 48h0M366 50.5h0M299.5 75h0M341.5 36h0M359.5 26.5h0M380 47.5h0M363.5 28.5h0M354 55.5h0M350 36h0M366.5 47.5h0M363.5 35h0M362.5 53.5h0M359 61.5h0M328.5 20.5h0M348.5 13h0M362.5 47h0M348 31.5h0M369.5 37.5h0M356 26.5h0M345 31.5h0M359 63.5h0M366 38h0M371.5 47h0M366 41h0M374.5 54.5h0M346 37.5h0M326.5 25.5h0M360.5 28h0M347 95h0M366 55.5h0M340 39h0M329 29.5h0M358 66.5h0M366 44.5h0M360.5 49h0M356 36.5h0M355.5 81h0M355.5 35.5h0M356 40.5h0M365 72.5h0M318.5 48.5h0M353 26h0M370.5 31.5h0M373 55.5h0M335.5 69.5h0M335.5 77h0M352 77.5h0M368 52h0M357.5 34h0M322 37h0M356.5 44.5h0M354 67h0M370.5 49.5h0M339 22h0M361 39.5h0M381.5 50.5h0M333.5 87.5h0M370.5 41.5h0M354.5 26.5h0M376.5 53h0M354 48h0M359.5 44.5h0M363.5 51h0M378.5 65.5h0M358 25h0M369.5 65.5h0M370.5 60.5h0M352.5 66h0M339 8.5h0M376 46.5h0M341.5 12.5h0M349 19.5h0M362 48h0M355 24h0M363.5 72.5h0M360.5 40.5h0M339 54.5h0M343 44.5h0M347 56h0M376 32h0M357 66h0M367 63.5h0M363.5 48h0M374.5 44h0M350.5 58h0M363 27h0M368.5 29.5h0M369 44.5h0M382 57.5h0M346 28.5h0M370 53.5h0M361 39.5h0M335 45.5h0M358.5 88h0M328.5 48.5h0M375.5 36h0M370 27h0M369 34.5h0M350.5 47.5h0M366.5 22h0M348.5 76.5h0M346 34.5h0M347.5 37.5h0M383.5 57h0M372 59.5h0M365 44.5h0M359.5 50h0M358.5 24.5h0M338.5 27h0M355 76h0M353 32h0M352.5 70h0M381 61h0M298 37.5h0M342.5 71h0M287.5 53h0M363.5 58h0M346 43h0M391 61h0M332.5 36.5h0M354 40h0M376 40.5h0M369.5 63.5h0M367.5 70.5h0M331.5 89h0M357 32h0M355.5 49h0M344.5 77.5h0M346.5 21.5h0M355 21.5h0M359 58.5h0M359 54.5h0M367.5 56h0M360 45.5h0M378.5 60h0M295.5 30.5h0M363 45.5h0M384 35.5h0M366 45h0M360 26h0M375.5 87.5h0M318.5 28h0M364 56.5h0M371 70.5h0M363 44h0M367.5 50h0M373.5 43h0M370 47h0M332 35h0M375.5 24h0M342 18.5h0M361.5 28.5h0M359 61h0M352 24h0M362.5 53.5h0M365.5 19h0M352 32.5h0M370 18h0M360 56.5h0M360.5 46.5h0M307 24.5h0M360 31h0M360.5 24h0M349 23.5h0M362 64.5h0M361 37h0M355 43h0M359.5 55h0M357 59h0M366.5 57.5h0M367.5 44.5h0M351 22.5h0M350 21h0M355 35h0M366 13h0M369 56h0" stroke="#F3E528" stroke-width="1.6" stroke-linecap="square" fill="none"/>
<path d="M303 36h0M297 37h0M274.5 23h0M356 75.5h0M279.5 50h0M274 34h0M373.5 39h0M292.5 39.5h0M355 54h0M351.5 73h0M303.5 25.5h0M320.5 55h0M310 43h0M294.5 37.5h0M285 44.5h0M307 49h0M295.5 37.5h0M357 38h0M288 70.5h0M314 55.5h0M281 41.5h0M320 44h0M361 15h0M367 52.5h0M308 62h0M277.5 34h0M319.5 46.5h0M302.5 56.5h0M306.5 32.5h0M360 90.5h0M306.5 47.5h0M274.5 41h0M297.5 40h0M277.5 63h0M308 48h0M277.5 34h0M307 49.5h0M278.5 37.5h0M347.5 73h0M319 47.5h0M364.5 16.5h0M362 88.5h0M270.5 49.5h0M279 36h0M293 41.5h0M320.5 46.5h0M302 76h0M294 34.5h0M342.5 91h0M273.5 46h0M279 28h0M283.5 50.5h0M286.5 26.5h0M307 44.5h0M284 39h0M358 39h0M312 61.5h0M330.5 31h0M318 50.5h0M298 42.5h0M301 34h0M308 24.5h0M318.5 35.5h0M332 63h0M309.5 41.5h0M364 25h0M316.5 23.5h0M304 49.5h0M331.5 54h0M330 87.5h0M293.5 49.5h0M356 52h0M281 52.5h0M268.5 49.5h0M298.5 55.5h0M309.5 43h0M289 40.5h0M282 44.5h0M319.5 38.5h0M283.5 46h0M323.5 33.5h0M301.5 73.5h0M308.5 31.5h0M308.5 87.5h0M290 40h0M278 49h0M300 41.5h0M288 23.5h0M280 53.5h0M319.5 51h0M283.5 42.5h0M314 46h0M336 44h0M303 78h0" stroke="#440154" stroke-width="1.6" stroke-linecap="square" fill="none"/>
<path d="M340.5 71.5h0M372 60h0M371 62h0M354 33h0M355 74.5h0M366.5 46.5h0M353.5 53h0M365 46.5h0M360 30.5h0M367.5 58.5h0M347.5 37h0M380.5 37h0M359.5 23h0M369 63.5h0M374 44.5h0M366.5 67h0M373 43h0M359.5 48.5h0M340.5 29h0M324.5 81h0M358.5 77h0M369.5 38.5h0M346.5 47h0M346 45h0M361.5 84h0M352 33.5h0M363 64h0M366.5 29h0M356 32h0M355.5 32.5h0M368.5 68h0M379 52h0M359.5 58h0M378.5 51.5h0M347 7.5h0M339.5 26h0M377.5 60h0M349 84.5h0M354.5 45h0M364 39.5h0M345.5 69.5h0M370.5 64h0M351.5 38.5h0M314.5 42h0M362 42h0M302.5 29.5h0M292 42h0M347 64h0M361.5 35.5h0M376.5 42h0M352.5 38h0M358 44.5h0M377.5 39h0M370 58h0M337 33h0M369.5 34h0M351 36h0M352 28h0M365 62.5h0M373.5 51h0M365.5 89.5h0M354.5 32h0M351.5 69.5h0M373 31h0M361 58h0M316.5 68h0M342.5 34.5h0M353.5 64.5h0M331.5 43h0M362.5 71h0M352 63h0M357.5 45h0M301 80h0M371 59h0M320 56h0M347 14.5h0M372.5 51h0M350 80.5h0M373.5 41h0M357.5 69h0M373 59.5h0M369.5 25.5h0M378.5 31h0M370.5 55.5h0M363.5 52.5h0M361 51.5h0M357 51h0M369.5 21.5h0M378 65h0M368 18h0M349 77.5h0M373 62h0M338 54.5h0M347 24h0M362.5 40h0M363.5 16.5h0M363.5 23h0M354 82h0M363.5 35h0M350.5 45h0M343 93h0M362 47.5h0M369 74.5h0M375 65.5h0M367.5 84.5h0M377.5 48h0M359.5 80.5h0M345 46.5h0M346.5 45.5h0M349.5 86h0M364.5 55.5h0M350 37.5h0M376.5 65h0M356 46.5h0M356.5 40.5h0M353.5 15h0M312 36h0M365.5 39.5h0M365 18.5h0M330 38.5h0M376.5 51.5h0M367 59.5h0M340.5 33.5h0M365.5 18.5h0M367.5 58h0M370 35h0M359.5 24h0M365.5 48.5h0M349 20.5h0M366.5 61.5h0M373 62h0M353 35h0M374.5 35.5h0M366 61h0M365 43.5h0M371.5 34h0M360 86h0M374.5 57h0M350.5 24.5h0M358.5 30h0M362.5 36.5h0M350 79.5h0M358 52.5h0M377 32h0M341 77h0M374 56h0M361 62.5h0M361 19h0M358 55.5h0M367 67.5h0M379 45h0M351 60h0M364 33.5h0M350.5 50h0M352 19.5h0M373 44h0M362 53h0M372 99.5h0M377.5 34h0M350 6.5h0M339 31h0M386.5 38h0M358 41.5h0M366 71h0M341 14.5h0M316 36.5h0M357.5 16h0M375.5 63h0M343.5 41h0M350 39.5h0M373 71h0M380.5 68.5h0M357.5 76h0M328.5 80.5h0M348 31h0M299 66h0M360.5 51.5h0M361 21h0M356 22h0M369 28.5h0M364 30h0M348.5 18.5h0M337.5 62.5h0M364.5 59h0M368.5 51h0M355.5 35.5h0M343.5 33h0M358 48.5h0M339 90.5h0M355.5 24.5h0M369 64h0M359.5 67h0M342.5 27h0M353 37h0M359.5 53h0M354.5 26h0M354.5 42.5h0M371 16.5h0M356.5 40.5h0M359 83h0M366.5 89h0M371.5 41.5h0M355.5 50.5h0M320.5 59.5h0M367 24.5h0M347.5 30h0M379.5 63.5h0M353 90h0M375.5 49h0M359.5 67.5h0M363 23h0M290.5 26h0M364.5 65.5h0M356 36.5h0M355.5 52h0M348 52h0M348 39.5h0M365 44h0M359 70.5h0M370 66h0M376.5 48h0M376.5 38.5h0M360.5 30h0M375 90h0M304.5 82.5h0M362 48.5h0M364.5 47.5h0M368 37.5h0M347.5 59.5h0M378.5 61h0M341.5 33h0M363.5 20h0M357 45h0M353 33h0M362.5 30.5h0M351 60h0M338 94.5h0M350.5 9.5h0M363 50.5h0M344 71.5h0M366.5 68.5h0M373.5 53h0M357 42h0M343 77h0M358.5 40h0M358.5 46.5h0M320.5 32h0M376 42h0M357 40.5h0M375 62h0M357 40.5h0M372 53.5h0M355 19h0M375 33.5h0M355 39h0M391.5 64.5h0M370.5 43.5h0M357.5 29.5h0M364.5 17.5h0M361.5 39.5h0M354.5 91h0M333.5 7h0M362 78h0M348.5 82h0M375.5 59h0M363.5 22.5h0M363.5 78h0M362.5 59.5h0M337 70.5h0M357.5 53h0M349 53h0M375 49.5h0M323 29.5h0M362.5 55h0M361 71h0M356 32.5h0M364 47h0M367.5 25h0M375 44h0M354.5 43.5h0M343.5 75h0M369.5 48h0M375 67.5h0M375 52.5h0M352 27.5h0M364.5 32h0M343 33h0M360.5 43h0M368.5 48h0M349.5 46h0M373 55h0M366.5 72.5h0M358 64.5h0M374.5 28.5h0M363.5 18.5h0M371.5 29h0M362 46h0M352.5 83.5h0M307 45h0M347 17h0M364 18.5h0M357 19.5h0M378.5 75h0M309.5 44h0M379.5 31.5h0M368 31.5h0M367.5 22.5h0M369.5 41h0M347 71.5h0M355 26h0M381.5 45h0M356 28.5h0M361 69h0M362.5 74.5h0M364.5 64.5h0M375.5 62.5h0M316 98h0M373 39.5h0M346.5 31h0M371 54.5h0M346.5 27.5h0" stroke="#F3E528" stroke-width="1.6" stroke-linecap="square" fill="none"/>
<path d="M291 34.5h0M310.5 31.5h0M272 51.5h0M276.5 27.5h0M288 31h0M280.5 38h0M319.5 35h0M314 44h0M292 62.5h0M368 29.5h0M300.5 39h0M369.5 13.5h0M313 56.5h0M318 72h0M304 49h0M283 56h0M306 36.5h0M276 43.5h0M332 48.5h0M314.5 24h0M329 63h0M301 43h0M303 46.5h0M278.5 38.5h0M282 40.5h0M332.5 47.5h0M313.5 37h0M275 52.5h0M335.5 83.5h0M282.5 44.5h0M363.5 12.5h0M321.5 49h0M363.5 47h0M297.5 50.5h0M286.5 46h0M292.5 34h0M276 42.5h0M270.5 36.5h0M302 37h0M267 40.5h0M347.5 21h0M264.5 50h0M282 37.5h0M317 26h0M291 43h0M366 33h0M284.5 53.5h0M280 23.5h0M333 27h0M313 49h0M336 39h0M277 56h0M349 76.5h0M340 83h0M286.5 37.5h0M268 65h0M306.5 54.5h0M314 54.5h0M287 73h0M307 51.5h0M276 26.5h0M291.5 50.5h0M281 75.5h0M290.5 36.5h0M274 34h0M299 54h0M277 30.5h0M272 34h0M305.5 44.5h0M378.5 60.5h0M287.5 62.5h0M357.5 59.5h0M273 17.5h0M291.5 32h0M288.5 34.5h0M288.5 44h0M282.5 36.5h0M304.5 51.5h0M288.5 33.5h0M296 41h0M286 54.5h0M317 36.5h0M318.5 37h0M305 57.5h0M273 39.5h0M307 54h0M299.5 52.5h0M307.5 59.5h0M280 42.5h0M272 54h0M341.5 66.5h0M318.5 33h0M288 53.5h0M272.5 64h0M305 77h0M334.5 68h0M312 30.5h0M303 27.5h0M294.5 44h0M280 43h0M351.5 47h0" stroke="#440154" stroke-width="1.6" stroke-linecap="square" fill="none"/>
<path d="M380 39.5h0M347.5 37h0M358 51.5h0M363 70h0M375 51.5h0M372.5 68.5h0M360 51.5h0M369 60.5h0M343 74h0M357.5 68h0M353.5 49h0M350.5 42.5h0M314.5 46.5h0M345.5 24h0M338 38h0M346 16h0M355.5 52.5h0M381.5 55.5h0M370 24h0M353 39h0M345.5 13h0M362 31.5h0M351 86h0M352 78h0M351 39.5h0M347 89.5h0M367.5 45h0M365.5 23h0M332 11h0M365 52.5h0M339 44h0M352.5 20.5h0M368 7.5h0M366.5 73.5h0M363 26.5h0M351.5 59.5h0M338 26.5h0M342.5 40h0M369.5 45h0M375.5 78.5h0M312.5 45h0M377 52h0M376 27.5h0M345 23.5h0M368 34h0M361.5 45h0M347.5 49.5h0M362.5 14.5h0M372 55.5h0M344.5 47h0M363.5 67h0M297 65.5h0M364 99h0M366 31h0M365.5 51h0M376 80.5h0M381 34.5h0M349 16.5h0M362 70h0M366 21.5h0M371.5 17.5h0M363.5 40.5h0M347.5 29.5h0M369 49h0M354 29h0M366 33h0M362 33h0M348.5 37h0M381 64h0M369 73h0M359.5 75.5h0M350.5 33.5h0M354 33.5h0M357 58.5h0M363.5 14h0M386.5 35h0M306 45h0M351.5 85.5h0M364.5 18h0M322.5 70h0M326.5 62h0M334 9h0M368.5 29.5h0M370 49h0M356.5 60.5h0M320 47.5h0M356.5 50h0M356.5 45h0M365.5 22h0M356.5 35h0M345.5 92h0M353 29h0M375 56h0M361 20.5h0M374.5 65h0M357 56.5h0M347 28h0M357 19.5h0M319.5 36.5h0M369 69.5h0M371 76.5h0M292 17h0M340.5 88.5h0M368.5 63h0M350 88h0M349 22.5h0M344.5 30h0M379 87.5h0M365 45.5h0M360 85h0M357.5 24.5h0M354 33.5h0M357 86h0M368 50.5h0M373 26.5h0M284.5 46h0M372 43.5h0M373 36h0M368 36h0M367 34.5h0M328 29.5h0M374 63h0M366 37.5h0M349.5 35.5h0M362.5 62h0M339.5 83h0M369.5 23.5h0M294 43h0M362 68.5h0M375 90h0M379.5 35h0M358 53.5h0M318.5 39h0M324 34h0M362.5 70.5h0M363.5 50.5h0M356.5 23h0M338 39.5h0M366.5 59.5h0M321 77h0M358.5 18h0M360.5 68h0M347.5 24.5h0M380.5 50h0M352.5 53.5h0M364 59.5h0M359 47.5h0M356.5 21.5h0M376.5 70.5h0M365.5 31.5h0M350.5 25h0M350 54h0M354.5 38.5h0M350 58h0M358 51.5h0M379.5 45.5h0M338 24.5h0M349.5 23h0M386.5 34h0M352.5 23h0M349.5 64.5h0M358 68.5h0M364 24.5h0M374 45.5h0M350 23.5h0M350 90h0M330.5 63h0M354.5 78h0M349.5 27h0M359 54h0M355.5 50h0M369.5 60.5h0M345 69.5h0M351.5 91.5h0M352 38.5h0M341.5 53.5h0M371 76.5h0M360.5 16h0M363.5 74.5h0M352.5 34.5h0M331.5 91.5h0M363.5 57h0M352.5 12h0M343 37.5h0M371 33h0M376.5 16h0M374.5 17.5h0M334 69h0M362 48h0M376 14h0M363 64.5h0M363.5 41h0M358.5 43.5h0M346 73h0M359.5 21h0M360.5 61.5h0M358 32h0M339.5 57h0M362 35h0M346.5 59h0M368 16.5h0M359 62.5h0M360.5 53.5h0M332.5 47h0M373.5 70h0M367 61.5h0M379 49h0M370 33.5h0M347.5 62.5h0M371 28.5h0M344.5 86.5h0M336 24.5h0M367.5 52h0M359 13h0M357.5 42h0M371 45.5h0M370 37h0M358.5 48h0M360 39h0M372 58.5h0M369 33.5h0M365.5 85.5h0M359.5 25h0M339 14h0M343.5 27.5h0M348.5 11.5h0M341 31.5h0M344.5 100h0M368 55h0M300.5 78h0M340 90.5h0M370 41h0M368 38h0M353 81h0M361 29.5h0M366 35.5h0M366 47h0M380 24.5h0M377.5 31h0M349 94.5h0M359.5 49.5h0M367.5 70.5h0M363 23.5h0M338.5 88.5h0M344 50.5h0M379 50h0M344.5 45h0M347.5 37h0M367.5 60.5h0M381 53h0M331 46.5h0M374 51.5h0M371.5 25.5h0M350.5 26h0M380 38.5h0M364 44h0M367 44h0M349.5 53.5h0M364.5 61.5h0M384 33h0M363 62h0M357 62.5h0M374 14.5h0M361 46.5h0M342 76.5h0M316 35h0M335 72h0M352 47h0M357 20.5h0M371.5 38.5h0M329.5 30h0M379.5 44.5h0M367.5 90.5h0M359 22.5h0M368.5 59h0M327 32.5h0M377.5 15.5h0M350.5 63h0M373.5 49.5h0M373 71h0M358 52.5h0M351 18.5h0M352.5 34.5h0M355 39h0M360 48h0M359 34h0M361 36h0M355 22.5h0M359 51.5h0M357.5 54.5h0M361.5 54.5h0M350 52h0M358 38h0M355.5 23h0M362.5 43h0M346 38.5h0M356.5 48h0M366.5 26.5h0M361 32h0M338.5 29.5h0M362 33.5h0M355 22h0M376 67h0M362.5 52h0M359 38h0M365 19.5h0M351.5 45.5h0M344.5 47.5h0M345.5 47h0M356.5 19h0M369.5 74.5h0M362.5 59h0M334 38h0M356 26.5h0M359 38.5h0M338.5 65.5h0M375.5 45h0M376 49.5h0M354.5 20.5h0M351 65h0M348.5 23h0M310 29.5h0M360.5 38h0M360 29.5h0M341.5 31h0M361.5 64.5h0M351.5 54.5h0" stroke="#F3E528" stroke-width="1.6" stroke-linecap="square" fill="none"/>
<path d="M283 40h0M285.5 30h0M324.5 95.5h0M289.5 45h0M320.5 26h0M315 34h0M275.5 53.5h0M266.5 42.5h0M272 36h0M287 49.5h0M322 42h0M276 47h0M341 19h0M302.5 58h0M291.5 41.5h0M305 43.5h0M309 46h0M299 49.5h0M286.5 42.5h0M292.5 54.5h0M376 51h0M298 26.5h0M317 33h0M282.5 26.5h0M284.5 22h0M282.5 42.5h0M271.5 50h0M371 44h0M346.5 32h0M313 44h0M305.5 29h0M302 44.5h0M377 48.5h0M324.5 23.5h0M279.5 26.5h0M316.5 24h0M293 58.5h0M301 48.5h0M271.5 36.5h0M312.5 61h0M365 68.5h0M294 30.5h0M352.5 78h0M335 52h0M271.5 23h0M290 33h0M324 23.5h0M273 40.5h0M336.5 75.5h0M329.5 24.5h0M304.5 41h0M291 61h0M303 44.5h0M310.5 49h0M273.5 51.5h0M277.5 39.5h0M273 34h0M323 38h0M274 46h0M323.5 32h0M304.5 43.5h0M274.5 39h0M313.5 32.5h0M358 91h0M282.5 45h0M318.5 17.5h0M301 47.5h0M310.5 25.5h0M278.5 39h0M280 64h0M337.5 30h0M296.5 42.5h0M302 68h0M290.5 39.5h0M376 76.5h0M275 54.5h0M346.5 29.5h0M299 65h0M297 35h0M318.5 27h0M277.5 61.5h0M292.5 29.5h0M328 37.5h0M280 32h0M323 39.5h0M364 57.5h0M315.5 18h0M277.5 45h0M308.5 27h0M321 30h0M280.5 30.5h0M287 32.5h0M307.5 46.5h0M323.5 54h0M308 49.5h0" stroke="#440154" stroke-width="1.6" stroke-linecap="square" fill="none"/>
<path d="M300.5 52h0M303 32h0M300 45h0M296.5 45h0M304 44.5h0M301 25.5h0M362 45.5h0M308.5 37.5h0M295.5 72.5h0M297.5 44h0M316.5 54.5h0M350.5 81h0M302 72.5h0M299.5 40h0M287 46.5h0M291 38.5h0M299.5 45.5h0M300 41h0M299.5 34.5h0M282 41.5h0M335.5 28h0M265 60.5h0M285.5 29.5h0M281.5 32.5h0M264.5 26.5h0M275.5 47h0M290 36.5h0M320.5 44h0M364 71h0M305 33.5h0M304.5 45h0M304.5 34.5h0M310 79.5h0M297.5 45.5h0M285 55.5h0M351.5 96h0M287 40.5h0M306.5 41.5h0M303.5 38h0M296.5 28.5h0M334 31.5h0M299 36.5h0M278 35.5h0M299 52h0M327 40h0M275 49h0M372.5 59h0M318 75.5h0M305 45.5h0M307.5 49h0M298.5 39.5h0M314.5 40.5h0M301.5 56.5h0M326.5 35.5h0M291 79h0M356.5 91.5h0M277 17h0M285.5 39h0M359.5 52h0M314.5 62.5h0M284.5 51h0M309.5 42.5h0M273.5 59h0M330 32.5h0M288.5 46h0M307 54.5h0M290.5 56h0M290 43h0M332.5 48h0M350.5 19.5h0M306 67.5h0M343 78.5h0M318.5 19h0M289.5 72.5h0M268 46h0M351.5 33h0M266 36.5h0M326.5 45.5h0M306 62.5h0M359 14h0M284 23.5h0M344 36h0M275 43.5h0M298.5 28h0M271.5 52h0M267 32.5h0M281.5 40.5h0M295 28h0M283.5 45.5h0M283 51h0M353.5 26.5h0M314.5 27h0" stroke="#440154" stroke-width="1.6" stroke-linecap="square" fill="none"/>
<path d="M364.5 67h0M337.5 12.5h0M360.5 25.5h0M342.5 41h0M361.5 26h0M341 82.5h0M296 46.5h0M357 34h0M359 38.5h0M365 39h0M279 43.5h0M365 50h0M324.5 58.5h0M350 26.5h0M359.5 52.5h0M348 18h0M360.5 56h0M361 69h0M358 50h0M366 60.5h0M370.5 31.5h0M335.5 46.5h0M381.5 37h0M366 22h0M380.5 39h0M357 42.5h0M339 11h0M305 49h0M327.5 58h0M373.5 46.5h0M353 33h0M343 75h0M351.5 41h0M360 43.5h0M346 82.5h0M354.5 49.5h0M371.5 62h0M367.5 54h0M321 61.5h0M356.5 28h0M328.5 45h0M354.5 68h0M347.5 9.5h0M368.5 63.5h0M318.5 49.5h0M347 15h0M346.5 62h0M323.5 34h0M351.5 34h0M375 95h0M379.5 71h0M367 30.5h0M332 47.5h0M369.5 73.5h0M348 20h0M373 59.5h0M356.5 45h0M360.5 62.5h0M362 63h0M358 16.5h0M355 46.5h0M376 37.5h0M350 19.5h0M358.5 53h0M362.5 33.5h0M354.5 27.5h0M360 50h0M348 35h0M368.5 16h0M382.5 36.5h0M350 89h0M365 40.5h0M361.5 13.5h0M364 26h0M370.5 54.5h0M340.5 8.5h0M377 67.5h0M336.5 12h0M348 26.5h0M367.5 60.5h0M350 53.5h0M365.5 58.5h0M374 53.5h0M355.5 82.5h0M365.5 68.5h0M367 21.5h0M359 25.5h0M303.5 45h0M355.5 64.5h0M356.5 37h0M348.5 31.5h0M363 74.5h0M365.5 76h0M367.5 42.5h0M312.5 33h0M370.5 31h0M381.5 56h0M360 56h0M358.5 50.5h0M374.5 70h0M339 79.5h0M345.5 17.5h0M367.5 21h0M368 25h0M354 55h0M365.5 52.5h0M365.5 72.5h0M353 71.5h0M352 85h0M346.5 45h0M354.5 25.5h0M367.5 53.5h0M375 50.5h0M357 46.5h0M362.5 36h0M324 46.5h0M368 61.5h0M361.5 39h0M364.5 14h0M351 41.5h0M361.5 20h0M357.5 34.5h0M348.5 21.5h0M365 40.5h0M380 76.5h0M372 44.5h0M296.5 42.5h0M370 54.5h0M363 49.5h0M364 33h0M363 17h0M309.5 35h0M366 36.5h0M370.5 39h0M350.5 82.5h0M338 14h0M365 68h0M354 21.5h0M388.5 40h0M366 45.5h0M366 14.5h0M386.5 16.5h0M369 67h0M366.5 59.5h0M365 36.5h0M359.5 23.5h0M336 83h0M356 37h0M321.5 17.5h0M356 72.5h0M341.5 19.5h0M350 87.5h0M354.5 29.5h0M349 46h0M338.5 31.5h0M343.5 18.5h0M298.5 65.5h0M346 44.5h0M297.5 40h0M372.5 25h0M367.5 63h0M386 55.5h0M350 20.5h0M375 26h0M370 45h0M364 21h0M367 26h0M372 53.5h0M375.5 52.5h0M345.5 60h0M358 66h0M316 43.5h0M356.5 42.5h0M353.5 65.5h0M351 10.5h0M348 64.5h0M367 57.5h0M356.5 14.5h0M383.5 43.5h0M365.5 24.5h0M367 68h0M358.5 22.5h0M364.5 24.5h0M338 48.5h0M352.5 70h0M353.5 62h0M346.5 24h0M312.5 38h0M356 61h0M355 89h0M362 18h0M371.5 54.5h0M323.5 67.5h0M360.5 37.5h0M340 44.5h0M376.5 55.5h0M325.5 86.5h0M369.5 48.5h0M292.5 38.5h0M347 78h0M272.5 39.5h0M355 35.5h0M377.5 47h0M365.5 6.5h0M370 38.5h0M359 56h0M341.5 29h0M372.5 61h0M334.5 85h0M361.5 27.5h0M369 73h0M352 31h0M355.5 40h0M353 60h0M373.5 73.5h0M353.5 55.5h0M363.5 7h0M365 41.5h0M376 57.5h0M373.5 48h0M345 59h0M359.5 66.5h0M365.5 49.5h0M311.5 94h0M366.5 21h0M363 49h0M345.5 47.5h0M339 84h0M353.5 93.5h0M335 78h0M340 82.5h0M356 77h0M369 34h0M354 45.5h0M365.5 34.5h0M348.5 29h0M367 52h0M351.5 52.5h0M361.5 51h0M379.5 59.5h0M374.5 44h0M339.5 39.5h0M380 51h0M316 36h0M358.5 79.5h0M365 30h0M343.5 29.5h0M358 23h0M369 53.5h0M368 19h0M376 89h0M370 52.5h0M363.5 33h0M360.5 83.5h0M356.5 25.5h0M361 37h0M347.5 93.5h0M359.5 59h0M346.5 86h0M361 88h0M357.5 35h0M359.5 66.5h0M365 39h0M361.5 31.5h0M358 36.5h0M348 52h0M365 70.5h0M349 28.5h0M311.5 42h0M342.5 58h0M353.5 79h0M356 83h0M355 38.5h0M362 22h0M344.5 89h0M308 83.5h0M372 80h0M356.5 26h0M373.5 76.5h0M363.5 35h0M350 18h0M363 30h0M370 57.5h0M354.5 17h0M339.5 42.5h0M358 42.5h0M376.5 47h0M332 10.5h0M375.5 35h0M364.5 74h0M339.5 56h0M350.5 36.5h0M353 38h0M370 61h0M357.5 29h0M305.5 33h0M375 56.5h0M352 30.5h0M306 54h0M344.5 9h0M350.5 68.5h0M365 65.5h0M361.5 66h0M372.5 16h0M353.5 31h0M365.5 37h0M374 55h0M373 50.5h0M357 40h0M364 44.5h0M331.5 28.5h0M374 32.5h0M361.5 37h0M356.5 51h0M372 30h0M351 74h0M352.5 37.5h0M364 49.5h0M361 53h0M378 56.5h0M330.5 81.5h0M356.5 28h0M374.5 69.5h0M363.5 55h0M358.5 58.5h0M370.5 66h0M365.5 35h0M369 60.5h0M371 49.5h0M372 47h0" stroke="#F3E528" stroke-width="1.6" stroke-linecap="square" fill="none"/>
<path d="M341 70h0M367 58.5h0M349 14.5h0M365.5 44h0M352 19.5h0M384.5 46.5h0M369 49h0M371.5 69h0M383.5 45h0M375 58.5h0M372.5 62h0M367.5 49h0M362.5 58h0M341.5 85h0M364 34.5h0M361.5 9.5h0M365.5 36h0M370.5 36h0M353 39h0M365.5 30h0M356.5 67h0M300 48h0M340 31h0M349 41.5h0M329.5 55.5h0M365 77h0M366.5 71h0M366.5 43.5h0M350.5 36h0M341 77.5h0M312.5 73.5h0M355 23.5h0M348 79h0M356 42h0M357 31h0M373.5 53h0M354.5 20.5h0M345.5 28.5h0M348 35h0M368 41h0M377.5 53.5h0M327 30.5h0M328 71h0M366.5 66h0M367 71.5h0M365.5 40.5h0M363 26h0M367 46h0M364.5 47h0M334 94.5h0M309 23.5h0M343.5 61.5h0M367 21.5h0M356.5 24.5h0M357 66.5h0M353 45.5h0M356.5 81.5h0M302 88.5h0M301.5 104.5h0M364 21h0M371.5 43h0M370.5 47.5h0M367.5 31h0M327 26h0M359 85.5h0M345 79.5h0M358.5 37.5h0M369.5 22.5h0M358.5 76h0M348 37h0M362.5 39h0M385.5 29h0M371 24h0M352 22h0M354 53h0M384 46.5h0M348.5 24h0M356.5 28.5h0M361 16.5h0M338.5 11.5h0M362.5 37.5h0M365.5 90h0M373 52.5h0M364 59h0M369.5 34.5h0M378 81h0M354 39h0M337 24h0M355.5 25.5h0M363 43h0M367.5 51h0M361.5 48.5h0M371.5 58h0M359 70.5h0M349.5 85.5h0M368 42.5h0M351 66h0M329.5 22h0M379 49h0M376.5 61h0M350.5 53.5h0M306.5 80.5h0M385 47h0M377 53.5h0M350.5 91.5h0M341.5 49.5h0M348.5 23h0M363.5 69h0M354.5 19h0M365.5 48.5h0M355 85h0M375.5 13h0M377.5 46.5h0M344.5 82.5h0M351 98.5h0M367 40.5h0M368.5 42h0M350.5 20.5h0M341.5 25h0M347.5 20.5h0M279 52.5h0M346.5 33.5h0M342.5 53h0M356 14h0M345 80h0M361 44.5h0M362 22h0M369 54.5h0M351 17h0M374 23.5h0M362 38.5h0M359 24h0M366 72h0M370.5 63.5h0M332 85h0M370 38.5h0M363 27h0M361 40.5h0M379.5 38.5h0M341.5 37h0M325 52h0M341 30.5h0M356 34h0M383.5 32h0M356.5 17.5h0M362 61.5h0M355.5 22.5h0M357.5 69.5h0M355.5 50h0M347.5 35h0M370 69.5h0M367 32.5h0M344.5 32.5h0M346 21.5h0M369 80.5h0M364.5 64h0M356 73h0M375 67h0M342 32.5h0M346 82h0M377.5 51h0M367.5 27.5h0M373 45.5h0M376.5 48h0M324 28h0M351.5 71h0M335 41h0M362.5 68.5h0M325 37h0M368 36h0M375 56h0M364 35.5h0M366 47.5h0M368 21.5h0M352.5 34.5h0M365.5 70h0M351.5 60h0M365 16h0M362 77h0M369 73h0M367 27h0M332.5 14h0M368.5 55.5h0M348.5 92.5h0M349 46h0M330 22h0M271.5 23h0M326 41.5h0M314.5 48.5h0M318 95.5h0M348 29h0M374.5 31h0M343 65.5h0M347.5 90h0M358 37.5h0M347.5 41h0M350 26.5h0M350 28.5h0M378 64.5h0M267 46h0M364 73h0M370.5 52.5h0M348.5 61h0M346.5 37h0M366.5 69.5h0M291.5 51h0M381.5 35.5h0M367.5 8.5h0M346 41.5h0M300.5 59.5h0M375.5 57h0M370 42.5h0M369.5 40.5h0M340 30h0M369.5 85h0M363.5 70h0M358.5 56h0M367.5 62h0M353.5 27.5h0M367 46.5h0M364.5 63.5h0M347.5 63.5h0M317.5 49h0M375 54.5h0M369 58.5h0M348.5 30h0M342.5 53h0M371.5 72h0M370 47h0M329 81h0M373 28h0M360.5 86.5h0M333 73.5h0M347 55h0M355 51h0M351.5 28.5h0M353.5 31h0M358 30.5h0M353 53h0M359.5 36.5h0M352 61.5h0M346 69.5h0M354 76.5h0M356 20.5h0M371.5 22.5h0M364.5 99.5h0M375.5 52h0M352.5 84.5h0M356 28.5h0M352 82.5h0M352.5 36.5h0M316 75h0M363 40.5h0M360 65.5h0M350 49h0M364.5 36.5h0M362.5 61.5h0M366.5 31.5h0M374.5 49.5h0M366.5 54.5h0M347.5 15.5h0M364 57.5h0M362 84.5h0M360.5 62.5h0M338.5 23h0M340.5 16.5h0M379 42h0M341 76.5h0M371.5 48h0M370 42h0M362.5 87h0M375.5 58.5h0M333 78h0M355 50h0M365 35h0M342 33h0M354 90h0M357 33h0M368 49.5h0M341.5 16.5h0M355.5 38h0M335.5 54.5h0M369 44h0M362.5 16h0M370.5 58.5h0M363.5 96.5h0M364 43h0M377.5 37.5h0M349 35h0M370 56h0M356 76h0M373 35.5h0M372.5 84.5h0M333.5 25h0M356.5 59.5h0M356.5 57h0M366 34h0M367.5 26.5h0M368.5 53.5h0M364.5 33.5h0M354 85.5h0M348.5 29h0M365.5 62.5h0M367.5 65.5h0M352 80h0M366 8h0M338.5 85h0M361.5 41h0M352.5 41h0M339.5 39h0M370.5 75.5h0M376 40h0M367 37.5h0M371 41h0M385.5 67.5h0M356 27.5h0M344 25.5h0M375.5 73.5h0M361.5 69.5h0M365.5 23.5h0M372.5 30.5h0M353.5 23.5h0" stroke="#F3E528" stroke-width="1.6" stroke-linecap="square" fill="none"/>
<path d="M349.5 76h0M306 50h0M357 54h0M311 68h0M310.5 60.5h0M292 42.5h0M285.5 36.5h0M275.5 25h0M365.5 11.5h0M286.5 61h0M286.5 46.5h0M365 78.5h0M295.5 30h0M287.5 41.5h0M286.5 58h0M273.5 66.5h0M300.5 50.5h0M331.5 58.5h0M307 42h0M314.5 40.5h0M276.5 55.5h0M289 53.5h0M296 46h0M325 57h0M298.5 50.5h0M286 22h0M267 38h0M268.5 67h0M294 56.5h0M308.5 45h0M325 35.5h0M277.5 41.5h0M310 37h0M314 51.5h0M293.5 41h0M329 26h0M327.5 53.5h0M302.5 47.5h0M305.5 55h0M359.5 85h0M280 21.5h0M291.5 55.5h0M330.5 38.5h0M283 20h0M266.5 36h0M298 38.5h0M271.5 51h0M321.5 32.5h0M298.5 57.5h0M275.5 35.5h0M277 37.5h0M274.5 25.5h0M354 85.5h0M299 22.5h0M324 17h0M264.5 41.5h0M307.5 49h0M279.5 31h0M264.5 47h0M278.5 38h0M300.5 55.5h0M284 34h0M346 51h0M336 94h0M319.5 26.5h0M313.5 38.5h0M307 22h0M287 32.5h0M304.5 58.5h0M294 54h0M293.5 55h0M328.5 30h0M308 36h0M302 36h0M371.5 26.5h0M296 81h0M378 42.5h0M294.5 38h0M292.5 49h0M371 43.5h0M284.5 60h0M266.5 52h0M296 46h0M304.5 43.5h0M305.5 55.5h0M271 17.5h0M286 51.5h0M308.5 48h0M316.5 53h0M280.5 50h0M333 76h0M309 51h0M327.5 37h0M355 22h0M344 45h0M355 21.5h0M288 48h0M297.5 36h0M278 26.5h0M317 32.5h0" stroke="#440154" stroke-width="1.6" stroke-linecap="square" fill="none"/>
<path d="M361 74h0M346.5 91h0M337 37.5h0M384.5 28h0M367.5 63h0M357.5 32.5h0M350 44h0M359.5 34.5h0M301 49.5h0M344.5 64h0M360.5 24.5h0M347 48.5h0M333 106h0M368.5 69h0M361.5 34h0M350.5 28h0M363 45.5h0M360 25h0M352.5 24h0M340.5 69h0M349 43.5h0M358.5 46.5h0M376.5 77.5h0M353 77.5h0M350 40.5h0M377 81.5h0M380 33h0M350.5 36.5h0M365 48h0M343.5 75.5h0M360.5 27.5h0M359 40h0M382 25.5h0M373.5 37.5h0M358.5 33.5h0M373 32.5h0M303.5 61h0M366.5 14.5h0M364.5 44.5h0M356.5 39.5h0M384 39h0M350.5 41.5h0M293 29h0M330.5 26.5h0M343.5 81.5h0M360 64.5h0M368.5 46.5h0M361.5 57.5h0M349.5 59h0M369 46.5h0M359.5 26.5h0M352.5 26.5h0M354.5 90h0M294 16h0M336 79h0M327.5 70.5h0M354.5 48h0M374 55h0M333.5 34h0M366 62.5h0M369 70h0M369 52.5h0M315 35.5h0M359.5 68h0M323 28.5h0M352.5 21.5h0M348.5 55h0M352.5 52.5h0M364.5 77.5h0M372 72h0M341 44h0M349.5 81h0M365.5 19h0M375.5 57h0M344.5 35h0M369 26h0M368.5 33.5h0M359 28h0M349.5 74h0M353.5 77.5h0M371.5 34.5h0M319.5 70h0M364.5 22.5h0M354.5 35.5h0M311.5 31h0M375.5 63h0M364 41h0M365.5 50.5h0M359.5 47h0M341 26.5h0M343.5 75.5h0M351.5 42h0M369 57h0M355 43.5h0M354 86h0M351.5 34.5h0M379.5 88.5h0M371.5 44h0M343.5 73h0M317 65h0M358.5 55h0M368 53.5h0M373 53h0M367.5 65.5h0M308 20.5h0M343.5 14h0M345 85h0M347 23h0M371 44h0M307 64.5h0M372.5 40.5h0M355.5 64.5h0M357.5 72h0M358.5 84.5h0M363.5 44.5h0M370.5 68h0M357.5 55h0M364.5 21h0M347 84.5h0M369 60h0M386.5 74h0M362.5 42.5h0M303 103.5h0M343 69.5h0M372.5 56.5h0M345 32h0M351 23h0M364.5 60h0M320.5 64h0M368 54h0M325.5 37.5h0M324.5 32.5h0M348 31.5h0M377 37.5h0M360 32.5h0M330 48h0M367 79.5h0M364.5 59h0M368.5 29.5h0M333 33.5h0M380.5 28h0M333.5 103h0M354.5 19h0M390 51h0M357.5 6h0M360.5 59.5h0M342.5 33.5h0M338.5 73.5h0M321 32.5h0M373.5 41h0M353 22h0M360 15.5h0M353.5 41.5h0M354.5 72h0M369 28.5h0M335 32.5h0M366 28h0M362.5 11h0M360.5 21.5h0M359.5 60h0M351.5 45.5h0M369 56.5h0M368.5 38.5h0M365 47.5h0M346.5 46.5h0M358 18h0M358.5 84h0M374 15h0M316 30h0M360 73h0M328 25.5h0M366 38.5h0M373 65.5h0M370 35h0M363 60.5h0M349.5 29h0M358.5 31h0M333.5 38.5h0M345.5 29.5h0M361.5 45.5h0M323.5 50.5h0M363.5 53.5h0M345 91h0M343 90.5h0M362.5 37.5h0M314.5 75.5h0M361 44.5h0M348 80.5h0M380 63.5h0M352.5 89.5h0M321 40h0M355 79h0M366.5 41.5h0M356 32.5h0M366 38h0M360.5 35h0M357.5 29.5h0M356 30.5h0M327.5 75.5h0M312 41h0M362.5 32h0M345 48.5h0M336.5 24.5h0M350.5 42h0M355.5 63.5h0M370 58.5h0M337 43.5h0M322.5 53.5h0M367 72h0M313.5 41.5h0M344.5 32.5h0M369 62h0M357.5 23.5h0M346.5 18.5h0M346.5 36.5h0M348.5 49.5h0M379 37h0M355 19h0M373 47.5h0M346.5 40.5h0M337 33h0M368.5 61h0M321 45.5h0M365.5 23.5h0M347.5 54h0M346.5 40h0M371 63h0M367 63.5h0M353 39.5h0M360.5 14h0M355 36.5h0M375 64h0M341 41h0M348.5 90h0M371 66h0M356.5 28.5h0M354 74h0M337.5 33.5h0M367.5 40h0M366 47.5h0M358.5 58h0M356.5 8h0M299.5 33.5h0M342 84h0M362.5 21.5h0M354 37.5h0M356.5 54.5h0M376.5 80h0M373 43h0M337 71h0M352 32h0M352.5 48.5h0M376 22.5h0M353 42h0M340 70.5h0M342.5 38.5h0M345.5 40.5h0M356.5 71.5h0M354 23h0M296.5 34.5h0M375.5 36.5h0M369 34.5h0M352 60h0M361.5 29.5h0M362 66.5h0M339 74h0M332 41h0M376 75h0M361.5 48.5h0M361.5 70.5h0M383 37h0M356 38.5h0M362 77.5h0M380.5 34h0M344 86h0M354.5 48h0M323.5 38h0M286 48.5h0M357.5 16.5h0M372 52h0M346.5 67.5h0M352 78.5h0M354 57.5h0M340 23h0M351 51.5h0M365 28.5h0M349.5 41h0M360.5 71.5h0M366 44h0M350 55h0M367.5 9h0M380 24h0M339.5 28h0M363 82.5h0M368.5 42h0M359.5 36.5h0M382 76.5h0M353 31h0M360 56.5h0M331.5 37h0M382.5 36.5h0M357.5 31h0M353 97.5h0M361.5 45h0M366 69.5h0M354.5 52h0M314 46h0M361 58.5h0M354 38.5h0M370 53h0M300.5 17.5h0M368.5 55.5h0M355.5 85.5h0M347 72h0M358 55.5h0M346 79h0M346 43.5h0M369.5 54.5h0M356 21h0M355 15.5h0M360.5 33h0M351.5 61h0M328.5 40.5h0M372 59.5h0M305 44.5h0M374 51.5h0M356 82h0M372 23.5h0M355 45h0M287 42.5h0M308.5 34h0M368 62h0M360.5 61.5h0M367.5 28h0M333 55.5h0M355.5 39.5h0M352 46.5h0M342.5 24h0M369.5 25.5h0M367.5 57.5h0M353 37.5h0M368.5 27.5h0M357 78.5h0M324 37.5h0M328.5 55.5h0M364.5 37.5h0M342.5 22.5h0M362 54.5h0M357 82.5h0M370.5 65.5h0" stroke="#F3E528" stroke-width="1.6" stroke-linecap="square" fill="none"/>
<path d="M376 59.5h0M373.5 51h0M312 66h0M303 41h0M370 52h0M282.5 57h0M277.5 28.5h0M301 64h0M282.5 41.5h0M293.5 69h0M294.5 61h0M303.5 37.5h0M317.5 21h0M367.5 58.5h0M287 59h0M277 29.5h0M279 36h0M310.5 51.5h0M292.5 62.5h0M281.5 38.5h0M266.5 26.5h0M265 44h0M349.5 17.5h0M266.5 54.5h0M310.5 43.5h0M314 36.5h0M307.5 48h0M317 38.5h0M301.5 44h0M383 43.5h0M280 53h0M275.5 51h0M304.5 31h0M275.5 44h0M339.5 20.5h0M277 46h0M315 34.5h0M291 43h0M302.5 48.5h0M376 57.5h0M277 53.5h0M303.5 42.5h0M313 46.5h0M293.5 38.5h0M273.5 50.5h0M276 64.5h0M292.5 58h0M334.5 42.5h0M286.5 28.5h0M345.5 41.5h0M277.5 51.5h0M300.5 48h0M265.5 54h0M331.5 61.5h0M311 39.5h0M309.5 44.5h0M286.5 62h0M269.5 37.5h0M300.5 66h0M301 46.5h0M326.5 51.5h0M279.5 53.5h0M293 33h0M294 41.5h0M346.5 78.5h0M278 39.5h0M331 80.5h0M274.5 59.5h0M302.5 25h0M298 40.5h0M328.5 32.5h0M286.5 36.5h0" stroke="#440154" stroke-width="1.6" stroke-linecap="square" fill="none"/>
<rect x="260.3" y="1.4" width="139.1" height="108.4" fill="none" stroke="#4d4d4d" stroke-width=".9"/>
<line x1="269.3" y1="109.8" x2="269.3" y2="112" stroke="#4d4d4d" stroke-width=".8"/>
<text x="269.3" y="120" font-size="8.6" text-anchor="middle" fill="#3d3d3d" transform="matrix(1 0 0 1.1 0 -12)">−10</text>
<line x1="305.4" y1="109.8" x2="305.4" y2="112" stroke="#4d4d4d" stroke-width=".8"/>
<text x="305.4" y="120" font-size="8.6" text-anchor="middle" fill="#3d3d3d" transform="matrix(1 0 0 1.1 0 -12)">−5</text>
<line x1="341.5" y1="109.8" x2="341.5" y2="112" stroke="#4d4d4d" stroke-width=".8"/>
<text x="341.5" y="120" font-size="8.6" text-anchor="middle" fill="#3d3d3d" transform="matrix(1 0 0 1.1 0 -12)">0</text>
<line x1="377.6" y1="109.8" x2="377.6" y2="112" stroke="#4d4d4d" stroke-width=".8"/>
<text x="377.6" y="120" font-size="8.6" text-anchor="middle" fill="#3d3d3d" transform="matrix(1 0 0 1.1 0 -12)">5</text>
<line x1="258.1" y1="109.1" x2="260.3" y2="109.1" stroke="#4d4d4d" stroke-width=".8"/>
<text x="256.6" y="112.2" font-size="8.6" text-anchor="end" fill="#3d3d3d" transform="matrix(1 0 0 1.1 0 -11.2)">−10</text>
<line x1="258.1" y1="79.1" x2="260.3" y2="79.1" stroke="#4d4d4d" stroke-width=".8"/>
<text x="256.6" y="82.2" font-size="8.6" text-anchor="end" fill="#3d3d3d" transform="matrix(1 0 0 1.1 0 -8.2)">−5</text>
<line x1="258.1" y1="49.1" x2="260.3" y2="49.1" stroke="#4d4d4d" stroke-width=".8"/>
<text x="256.6" y="52.2" font-size="8.6" text-anchor="end" fill="#3d3d3d" transform="matrix(1 0 0 1.1 0 -5.2)">0</text>
<line x1="258.1" y1="19.1" x2="260.3" y2="19.1" stroke="#4d4d4d" stroke-width=".8"/>
<text x="256.6" y="22.2" font-size="8.6" text-anchor="end" fill="#3d3d3d" transform="matrix(1 0 0 1.1 0 -2.2)">5</text>
<text x="328.5" y="130.4" font-size="8.1" text-anchor="middle" transform="matrix(1 0 0 1.1 0 -13)">PC3</text>
<text x="239.2" y="55.6" font-size="8.1" text-anchor="middle" transform="rotate(-90 239.2 55.6) matrix(1 0 0 1.1 0 -5.6)">PC4</text>
<text x="410.9" y="48.5" font-size="8" transform="matrix(1 0 0 1.1 0 -4.9)">ER IHC</text>
<circle cx="414.8" cy="57.1" r="2.7" fill="#440154"/>
<text x="422.4" y="59.7" font-size="7" transform="matrix(1 0 0 1.1 0 -6)">Negative</text>
<circle cx="414.8" cy="65.3" r="2.7" fill="#F3E528"/>
<text x="422.4" y="67.9" font-size="7" transform="matrix(1 0 0 1.1 0 -6.8)">Positive</text>
<text x="461.3" y="8" font-size="8.5" font-weight="bold" transform="matrix(1 0 0 1.1 0 -.8)">c</text>
<line x1="508.2" y1="1.4" x2="508.2" y2="110.3" stroke="#ebebeb" stroke-width=".5"/>
<line x1="540" y1="1.4" x2="540" y2="110.3" stroke="#ebebeb" stroke-width=".5"/>
<line x1="571.8" y1="1.4" x2="571.8" y2="110.3" stroke="#ebebeb" stroke-width=".5"/>
<line x1="603.6" y1="1.4" x2="603.6" y2="110.3" stroke="#ebebeb" stroke-width=".5"/>
<line x1="485.6" y1="98.3" x2="607.4" y2="98.3" stroke="#ebebeb" stroke-width=".5"/>
<line x1="485.6" y1="67" x2="607.4" y2="67" stroke="#ebebeb" stroke-width=".5"/>
<line x1="485.6" y1="35.8" x2="607.4" y2="35.8" stroke="#ebebeb" stroke-width=".5"/>
<line x1="485.6" y1="4.5" x2="607.4" y2="4.5" stroke="#ebebeb" stroke-width=".5"/>
<line x1="492.3" y1="1.4" x2="492.3" y2="110.3" stroke="#ebebeb" stroke-width=".9"/>
<line x1="524.1" y1="1.4" x2="524.1" y2="110.3" stroke="#ebebeb" stroke-width=".9"/>
<line x1="555.9" y1="1.4" x2="555.9" y2="110.3" stroke="#ebebeb" stroke-width=".9"/>
<line x1="587.7" y1="1.4" x2="587.7" y2="110.3" stroke="#ebebeb" stroke-width=".9"/>
<line x1="485.6" y1="82.7" x2="607.4" y2="82.7" stroke="#ebebeb" stroke-width=".9"/>
<line x1="485.6" y1="51.4" x2="607.4" y2="51.4" stroke="#ebebeb" stroke-width=".9"/>
<line x1="485.6" y1="20.1" x2="607.4" y2="20.1" stroke="#ebebeb" stroke-width=".9"/>
<path d="M522.5 41.5h0M540 69.5h0M522 34.5h0M578.5 16.5h0M531 40h0M578.5 25.5h0M527 49h0M579.5 24.5h0M557.5 44h0M528.5 52.5h0M578.5 28h0M534 15.5h0M554 49.5h0M516 21h0M536 31.5h0M524 62h0M532.5 33h0M569.5 40h0M521.5 72h0M550 35h0M541.5 24h0M542.5 37.5h0M528.5 34h0M573.5 35.5h0M530 36h0M541.5 43h0M518.5 54h0M527.5 48h0M519.5 32.5h0M539 45.5h0M527 36h0M569 42h0M529.5 24.5h0M577.5 19h0M531 33h0M554 41h0M545 76h0M521.5 38h0M534.5 39.5h0M549.5 45.5h0M579.5 22h0M530 36.5h0M564.5 27.5h0M544 48.5h0M554.5 27.5h0" stroke="#B39B30" stroke-width="1.6" stroke-linecap="square" fill="none"/>
<path d="M579 53h0M583.5 63h0M582 44h0M573.5 54h0M590 46h0M573 51.5h0M594 57h0M575.5 45.5h0M579 56h0M566 108.5h0M587 46.5h0M561 78.5h0M580.5 34.5h0M596.5 51.5h0M583 44h0M573 50.5h0M580 59h0M586.5 51h0M568.5 35.5h0M584 56.5h0M589 26.5h0M559.5 63.5h0M568 65.5h0M573.5 86.5h0M577.5 43.5h0M574.5 33.5h0M585 41h0M578 71h0M574.5 27h0M573 52h0M574 52h0M558.5 84.5h0M559.5 75.5h0M570 57.5h0M567 93h0M560 83h0M571.5 54.5h0M574.5 20.5h0M578.5 44h0M576.5 86h0M572 98h0M576.5 52.5h0M565.5 50.5h0M580.5 44.5h0M581.5 35.5h0M587 58.5h0M578 29.5h0M569.5 37.5h0M584.5 27h0M560 84.5h0M566.5 39.5h0M556.5 69h0M574 56h0M589 42.5h0M573 65h0M576.5 64.5h0M577.5 34.5h0M587.5 65.5h0M566.5 85h0M576 71h0M580 59.5h0M585 70h0M574 58h0M575.5 46h0M575.5 41.5h0M594.5 83h0M580.5 60.5h0M566 58h0M585 16h0M572 63.5h0M566.5 82.5h0M583.5 41.5h0M576 44h0M530 87.5h0M555.5 79.5h0M589.5 26.5h0M569 51.5h0M561.5 55.5h0M570 53.5h0M571 86h0M576 76.5h0M580 45.5h0M586.5 52.5h0M575 40h0M563 52h0M578 40h0M577 50.5h0M564 83.5h0M573.5 36h0M570.5 59h0M586 58h0M582 38.5h0M578 94h0M531 109.5h0M574 46h0M567.5 48h0M552.5 92h0M570.5 60.5h0M581.5 37h0M566.5 36h0M574.5 43.5h0M566 65.5h0M581 73.5h0M588 73h0M585 59.5h0M573.5 60h0M562 84.5h0M569 65h0M568 46h0M578.5 78h0M579 55.5h0M568 52.5h0M573 58h0M575.5 70.5h0M576.5 27.5h0M571 70.5h0M576.5 78.5h0M592 64.5h0M585.5 45.5h0M548.5 104h0M571 44h0M574 18.5h0M579.5 75h0M579 65.5h0M588.5 39.5h0M584 53h0M579.5 57h0M558.5 94h0M571.5 88h0M552 74.5h0M576.5 33.5h0M575 50.5h0M561 37.5h0M582 27h0M567 69.5h0M575.5 75.5h0M557 60.5h0M585.5 37.5h0M554 67.5h0M586.5 66h0M582 76h0M571 71h0M578 49.5h0M573.5 40h0M569 41.5h0M562.5 54.5h0M568 67.5h0M572 69.5h0M582 37.5h0M562 45h0M576.5 50h0M589 64h0M560 92.5h0M586.5 62h0M566 50h0M581.5 47h0M571 28.5h0M567.5 58h0M569.5 30.5h0M569.5 62.5h0M575.5 59.5h0M588.5 44.5h0M581 59h0M518.5 104h0M566.5 92h0M582 64.5h0M573 95h0M566.5 46h0M566.5 66h0M571.5 21.5h0M578.5 70h0M574.5 94h0M564 49.5h0M559.5 78h0M578 41.5h0M571.5 71.5h0M575 36.5h0M576 39h0M576 18h0M573 66h0M586.5 52h0M595 15h0M572.5 56.5h0M581.5 60h0M560 21.5h0M565.5 80h0M590.5 46h0M562.5 87h0M559 93.5h0M559.5 86h0M567 58h0M561.5 99.5h0M579.5 64h0M580 57h0M568.5 52.5h0M581 70h0M558.5 84.5h0M564.5 83.5h0M549 74h0" stroke="#12B4BA" stroke-width="1.6" stroke-linecap="square" fill="none"/>
<path d="M555 43.5h0M551 28.5h0M543 29.5h0M565 27.5h0M578 24.5h0M570.5 18h0M574.5 41h0M568 34.5h0M578.5 42h0M566.5 50h0M565.5 27.5h0M571.5 19.5h0M558.5 62.5h0M555.5 46.5h0M569 37h0M566.5 14.5h0M556.5 24.5h0M557.5 11.5h0M564 30h0M567.5 31.5h0M574.5 12.5h0M561 29.5h0M558 37h0M548.5 41h0M564 51.5h0M565.5 15h0M564 7.5h0M573.5 26.5h0M570.5 30h0M548.5 26.5h0M565.5 55.5h0M579.5 32.5h0M565.5 50h0M565 32.5h0M568 19.5h0M574.5 29h0M572 36.5h0M559.5 39.5h0M553 30.5h0M575.5 27.5h0M582.5 40h0M574 16h0M561 21.5h0M552 19.5h0M560 51h0M549.5 26h0M555.5 25h0M574.5 8h0M562 24.5h0M576 42.5h0M563.5 45h0M554.5 61h0M557 35.5h0M563.5 27h0M580.5 29h0M571.5 32.5h0M575 24.5h0M566 23.5h0M560 37h0M562 47h0M561 29h0M567.5 43.5h0M551 56.5h0M548.5 44h0M565 35h0M563 27.5h0M562.5 38h0M574.5 20.5h0M561 20.5h0M545.5 32.5h0M575 35h0M574 31h0M559.5 30h0M576.5 40h0M553.5 54.5h0M567 42h0M585.5 25.5h0M550.5 21h0M564 53h0M575 35h0M547.5 23.5h0M551 10h0M582.5 47h0M563 36h0M572 26h0M565 33h0M561 34.5h0M559.5 43.5h0M574 40h0M544 31.5h0M569.5 29h0M561.5 23h0M551.5 43.5h0M544.5 43h0M559 31h0M570.5 34h0M583.5 16.5h0M548.5 36.5h0M560 16.5h0" stroke="#16AE5B" stroke-width="1.6" stroke-linecap="square" fill="none"/>
<path d="M519.5 50.5h0M513 50.5h0M502.5 58.5h0M524.5 22h0M491.5 51h0M517.5 43.5h0M491.5 39.5h0M528 40.5h0M527 55h0M515.5 28.5h0M502 45.5h0M524 36.5h0M506.5 34h0M526 38h0M494 37h0M519 49h0M511.5 36.5h0M529 45.5h0M496.5 63.5h0M521.5 58h0M503 56.5h0M503 35h0M510 64.5h0M519 46.5h0M526 62.5h0M508 44h0M495.5 44h0M503 34h0M529.5 34.5h0M505.5 44.5h0M529.5 107h0M503.5 44h0M522.5 36.5h0M491.5 40h0M532.5 26h0M511.5 52h0M514 33.5h0M499 35.5h0M500 37.5h0M492 31.5h0M500.5 23.5h0M519.5 48.5h0M523 59.5h0M507.5 51h0M527 69.5h0M511 52.5h0M488.5 44h0M524.5 46h0M491.5 39h0M498 64.5h0M490.5 63h0M532 31h0M505 44.5h0M497 32h0M499 60h0M495.5 43h0M516.5 52h0M506.5 36h0M521 34.5h0M521.5 59.5h0" stroke="#E8736B" stroke-width="1.6" stroke-linecap="square" fill="none"/>
<path d="M552 83.5h0M545 85h0M539.5 77h0M583.5 93h0M533 91.5h0M534 76h0M529.5 86.5h0M563.5 96.5h0M551.5 101h0M559 64h0M551 91h0M557.5 84.5h0M517 76h0M555 78h0M565.5 82h0M529.5 95.5h0M555 95h0M536 88.5h0" stroke="#6A8FD0" stroke-width="1.6" stroke-linecap="square" fill="none"/>
<path d="M529.5 24h0M512.5 34h0M525 33h0M518.5 26.5h0M533 93h0M506.5 62.5h0M521.5 53h0M521.5 41.5h0M502.5 46.5h0M508 45.5h0M515.5 26.5h0M502.5 47.5h0M520 60h0M502.5 75.5h0M497 41h0M508.5 50.5h0M526 66h0M524.5 46h0M516.5 47h0M518.5 71h0M503.5 52h0M523.5 60h0M500.5 49.5h0M505.5 42h0M516 63h0M505.5 22h0M529.5 96h0M497 26.5h0M507.5 40h0M492.5 68.5h0M505.5 33.5h0M525 36.5h0M492 63.5h0M522.5 60.5h0M501 35.5h0M514.5 58h0M531.5 46.5h0M516 54.5h0M505 45.5h0M530.5 38h0M490.5 39.5h0M494 26h0M519.5 55h0M513 66.5h0M521 46h0M513 47h0M494 24.5h0M495.5 62.5h0M492.5 42.5h0M493 35h0M508.5 41h0" stroke="#E8736B" stroke-width="1.6" stroke-linecap="square" fill="none"/>
<path d="M558 41.5h0M571.5 62h0M568 63.5h0M586.5 51.5h0M576 41.5h0M570.5 24.5h0M569 56h0M564.5 87.5h0M577.5 46.5h0M568.5 30.5h0M572.5 29.5h0M579.5 58h0M564.5 8.5h0M560 77h0M567 98h0M585.5 44h0M574.5 28h0M586.5 101h0M579 47.5h0M568.5 90h0M560.5 48h0M578 62.5h0M561.5 83.5h0M588.5 62.5h0M579 46.5h0M567.5 55h0M575.5 59h0M568.5 72h0M589.5 54h0M566.5 55.5h0M575.5 98.5h0M576 67h0M587.5 31.5h0M581.5 48h0M569 77h0M576 34.5h0M588.5 36h0M586 80h0M573 28h0M557.5 72h0M577 56.5h0M578 104h0M585.5 44.5h0M575 61h0M585 52.5h0M574.5 58h0M581 53h0M581.5 44h0M594 51h0M582.5 90h0M593 49h0M566.5 65h0M592.5 47h0M571 51.5h0M567.5 20.5h0M565 73.5h0M574 55h0M596.5 65h0M588 87.5h0M565.5 64.5h0M576 24h0M580 55.5h0M584.5 40.5h0M570.5 69h0M589.5 59h0M572.5 50.5h0M573 49h0M558 85.5h0M579 25.5h0M575 51h0M578 82h0M579 46.5h0M572.5 77h0M568 51.5h0M588 75h0M573.5 31h0M586 53h0M581 52h0M583.5 42h0M594.5 60h0M571 54.5h0M575 74h0M582.5 57.5h0M586 45h0M575 52h0M581 54.5h0M574.5 43h0M573.5 19h0M575.5 59.5h0M574.5 58h0M567.5 54.5h0M586 55.5h0M583 81.5h0M583.5 38h0M572 33h0M577.5 44.5h0M590 89.5h0M584.5 42.5h0M529 98.5h0M565.5 85.5h0M560.5 84.5h0M582 30.5h0M581 56.5h0M562.5 36h0M579.5 75.5h0M579 41.5h0M561 75h0M578.5 45.5h0M593.5 34h0M572 89.5h0M578 47h0M571.5 75h0M590 65h0M587 82h0M571.5 48.5h0M561 86.5h0M585.5 40h0M560.5 41.5h0M590.5 37.5h0M570.5 85h0M586 54.5h0M564 76h0M578.5 42.5h0M574.5 81.5h0M582.5 63h0M564.5 60h0M579 43.5h0M572 73h0M556 75h0M589 32h0M561.5 80.5h0M570.5 54.5h0M577 24h0M570.5 81h0M579 41.5h0M574.5 63.5h0M577 55.5h0M572 74h0M573.5 62h0M581 71.5h0M564 55.5h0M577 39.5h0M585.5 33.5h0M581.5 27h0M584 32h0M584.5 36.5h0M571 54.5h0M590.5 60h0M560 89h0M579.5 29h0M582.5 62.5h0M581.5 40.5h0M564.5 91.5h0M550 76h0M566 42.5h0M563 35h0M583 42h0M568.5 61h0M595 57h0M575.5 54.5h0M585 39h0M578 35.5h0M583 43.5h0M557.5 34h0M583 44h0M560.5 72.5h0M581.5 32.5h0M575.5 32h0M577.5 71h0M570 34h0M565.5 81h0M565.5 79.5h0M575 44h0M562 54h0M576 54.5h0M577.5 41.5h0M571 53h0M563.5 51h0M570 82h0M580 40.5h0M580.5 54h0M575.5 36h0M584 62h0M570 68.5h0M582 34.5h0M571 87h0M580.5 58.5h0M576 32h0M576.5 54.5h0M571.5 67h0M582 57.5h0M595.5 66h0M562.5 66h0M570 57.5h0M582 61h0M575.5 67h0M566.5 80.5h0M572.5 49.5h0M570 55.5h0M574.5 49.5h0M564 70.5h0M579.5 60.5h0M568 39h0M579.5 49h0M574.5 51h0M569.5 64h0M587 53.5h0M580.5 83.5h0M576 51.5h0M580.5 54h0M578 68h0" stroke="#12B4BA" stroke-width="1.6" stroke-linecap="square" fill="none"/>
<path d="M562.5 41h0M569.5 45.5h0M566.5 38h0M579 11.5h0M548.5 28.5h0M560.5 24.5h0M575.5 16h0M565 43h0M564.5 43h0M567 27h0M561.5 53h0M552 29h0M571.5 14.5h0M560.5 37.5h0M566 10h0M571.5 36.5h0M567.5 40.5h0M583 31.5h0M570 28.5h0M573 48.5h0M563 33.5h0M557.5 28h0M553 17.5h0M560.5 38h0M566.5 27.5h0M569.5 29h0M586 11h0M570.5 21.5h0M572 7h0M548 36h0M570 24.5h0M554.5 49h0M563 33.5h0M568 39.5h0M569 6h0M576 32.5h0M560.5 35h0M563.5 33.5h0M569.5 26.5h0M552.5 18.5h0M569 37.5h0M543.5 34h0M569.5 52.5h0M556 24h0M554 23.5h0M562 39.5h0M537.5 25h0M572 47h0M576 27.5h0M568 38.5h0M567 18h0M568 41h0M581 32.5h0M574 46h0M551 29h0M573 22h0M563.5 44.5h0M565 29.5h0M571 33h0M563.5 46.5h0M557.5 39.5h0M568.5 37h0M571 15.5h0M573 39.5h0M567 8.5h0M583.5 18h0M552.5 16.5h0M559 24.5h0M555 33.5h0M543.5 18h0M567 27.5h0M563.5 46h0M586.5 40.5h0M581 32.5h0M543 16.5h0M560.5 27h0M554.5 41.5h0M555.5 33.5h0M562 38h0M581 35h0M560 23.5h0M561 16.5h0M569.5 11.5h0M570.5 36h0M549 27h0M561 32.5h0M566.5 33h0M574.5 17.5h0M549 29h0M576 33.5h0M557 23.5h0M565 28.5h0M587 35h0M572 35.5h0M569 45h0M568 28h0M558 51h0M558 38h0M550.5 28.5h0" stroke="#16AE5B" stroke-width="1.6" stroke-linecap="square" fill="none"/>
<path d="M537 50h0M589.5 7h0M533.5 45h0M529.5 23h0M535.5 46h0M540.5 35.5h0M547 41.5h0M535 46.5h0M537.5 54.5h0M575.5 12h0M581 20.5h0M538.5 34.5h0M525.5 59h0M519 39.5h0M519 70h0M531 47.5h0M522 36h0M547 36h0M549.5 40h0M541.5 40.5h0M544.5 50h0M524 45h0M581.5 20.5h0M573 24h0M540 51h0M518.5 28h0M527 23.5h0M537.5 40.5h0M526 28.5h0M542.5 64h0M540 34.5h0M519 48h0M537 33.5h0M525.5 32h0M575 11h0M525 69h0M581 16.5h0M540.5 33.5h0M537.5 59.5h0M536.5 32.5h0M578.5 40.5h0M516.5 42.5h0M571.5 28.5h0M520 46h0" stroke="#B39B30" stroke-width="1.6" stroke-linecap="square" fill="none"/>
<path d="M523.5 76.5h0M567 86h0M580.5 82.5h0M576.5 88.5h0M557.5 78h0M554.5 74.5h0M565 82.5h0M547 108h0M566 85.5h0M520.5 81h0M525.5 83.5h0M557.5 73h0M564 81h0M537.5 87h0M557 87.5h0M557 76.5h0M538 105h0" stroke="#6A8FD0" stroke-width="1.6" stroke-linecap="square" fill="none"/>
<path d="M522 38h0M516.5 38.5h0M497 24.5h0M501 52.5h0M496.5 35.5h0M513 41.5h0M522.5 26.5h0M528 45h0M514.5 39.5h0M506 47h0M525.5 51h0M515.5 39.5h0M508.5 74h0M531.5 58h0M503 43h0M513.5 62h0M499.5 35.5h0M521.5 59.5h0M497 43h0M517 42h0M499.5 66h0M499.5 35.5h0M525.5 51.5h0M500.5 39.5h0M493 52h0M501 38h0M513.5 43.5h0M514 36h0M496 48.5h0M501 29.5h0M505 52.5h0M507.5 28h0M525.5 46.5h0M505.5 41h0M518 44.5h0M520.5 35.5h0M526.5 26h0M535.5 37.5h0M527.5 43.5h0M522.5 51.5h0M513.5 51.5h0M502.5 55h0M492 51.5h0M518 58h0M528 45.5h0M509.5 42.5h0M503.5 46.5h0M505 48h0M527 33h0M527 91.5h0M510.5 42h0M500 51h0M519.5 43h0M508.5 24.5h0M502 56h0M505 44.5h0" stroke="#E8736B" stroke-width="1.6" stroke-linecap="square" fill="none"/>
<path d="M567.5 41h0M580 44h0M560 19.5h0M573.5 45.5h0M569 20.5h0M556.5 18h0M561.5 18h0M568 11.5h0M566 49h0M552.5 9.5h0M564.5 11h0M565.5 36.5h0M575 37.5h0M576 32h0M566.5 26h0M572 28.5h0M570 49h0M573 15.5h0M570.5 37h0M570 57.5h0M553.5 25h0M569 56.5h0M568 32h0M566.5 27h0M546 27.5h0M560 20.5h0M575 44.5h0M554 59h0M567 56h0M573 28.5h0M566.5 41h0M577.5 23h0M585 37h0M576.5 44h0M589 44.5h0M559 36h0M568 20.5h0M563 20.5h0M575.5 50.5h0M575.5 29.5h0M563.5 38h0M575 36.5h0M562 14h0M561.5 33h0M580.5 39h0M568.5 27.5h0M559 33h0M542.5 27h0M554.5 40.5h0M568.5 38.5h0M568.5 37.5h0M566 27.5h0M581.5 33h0M570 35.5h0M570.5 41h0M554 23h0M573 41.5h0M546 32.5h0M567.5 27.5h0M571.5 46.5h0M570.5 26.5h0M554 9h0M555.5 13h0M562.5 20.5h0M574 50.5h0M568 25.5h0M553.5 57h0M557.5 46.5h0M560.5 58.5h0M564 61h0M575 28h0M560 30h0M573 41.5h0M550 48h0M544.5 50.5h0M581 28.5h0M578 23h0M560 36h0M561 39.5h0M571 25.5h0M553 28.5h0M566 33.5h0M559.5 45h0M548 38.5h0M566.5 42h0M560.5 22.5h0M568 22.5h0M572 47.5h0M572 27.5h0M547.5 37h0M556 19.5h0M565 25h0M577 20h0M565 34h0M572 32.5h0M572.5 25h0M562.5 25h0M564 23.5h0M563.5 22h0" stroke="#16AE5B" stroke-width="1.6" stroke-linecap="square" fill="none"/>
<path d="M537 57h0M525 46h0M568 56.5h0M537 57.5h0M537 46h0M519 33.5h0M526.5 65h0M545.5 44h0M563 51h0M534 43.5h0M536.5 48.5h0M524 38h0M525 34h0M516 68h0M517 41.5h0M525 49.5h0M568 22.5h0M526.5 50h0M518.5 61.5h0M556 38h0M571.5 28h0M536 50h0M544.5 21.5h0M576 17.5h0M572.5 29.5h0M537.5 49h0M521 79.5h0M545 31h0M535.5 51h0M539 39h0M530 64.5h0M535 53h0M547.5 66h0M575.5 26h0M534 24.5h0M547 56.5h0M517.5 39.5h0M508 55.5h0M515.5 32h0M535.5 29h0M536.5 40.5h0M540 35h0M521 77h0M581 19h0M525.5 25.5h0M536.5 53h0M531.5 48h0M551 46h0M522 81.5h0" stroke="#B39B30" stroke-width="1.6" stroke-linecap="square" fill="none"/>
<path d="M584.5 59h0M566 54.5h0M568.5 71.5h0M573 98h0M576.5 67.5h0M573.5 29.5h0M571.5 64.5h0M562 61h0M579 36.5h0M584 40.5h0M562.5 86h0M584 59h0M586 55h0M574.5 70h0M564.5 76.5h0M581 40.5h0M585.5 83h0M562.5 64.5h0M571 56.5h0M579 54h0M572 47.5h0M573 44h0M565 73h0M572 78.5h0M583.5 62.5h0M580.5 70h0M581 29h0M569.5 40h0M579.5 51.5h0M574 69.5h0M585 60h0M564 24.5h0M582 39.5h0M583 65h0M581 46.5h0M591 36.5h0M580 72.5h0M582 44h0M578.5 55h0M577 58h0M588 10h0M566.5 74.5h0M569.5 39h0M569 88.5h0M569 64.5h0M569 63.5h0M577.5 29.5h0M576 45.5h0M591 71h0M569.5 53h0M575 45h0M565.5 19.5h0M584.5 80h0M573.5 66.5h0M577.5 68.5h0M563.5 90h0M593 77.5h0M570 57h0M579 80h0M575 30.5h0M548.5 97.5h0M562.5 61h0M579.5 65.5h0M579.5 39h0M571 68h0M560 94h0M572 94.5h0M579 29h0M559.5 69h0M581 57h0M580 83.5h0M569 71h0M579 72h0M581 41h0M566 82h0M588.5 37h0M587.5 36.5h0M563.5 59.5h0M582 53h0M575 26.5h0M569.5 37.5h0M573 40h0M563 62h0M561.5 43h0M572.5 63h0M567 54.5h0M566.5 79.5h0M572.5 72.5h0M579 72.5h0M570.5 41h0M586 62h0M577 49h0M598.5 50.5h0M571 43h0M582.5 77h0M567.5 69.5h0M576 67h0M577 62.5h0M569.5 58.5h0M591 49h0M566.5 29h0M580.5 40.5h0M585 52.5h0M572 52.5h0M561 63.5h0M563.5 64h0M577.5 53h0M590 50h0M567 58h0M578 50h0M561.5 76.5h0M574.5 56h0M571.5 64.5h0M574.5 49h0M571.5 66.5h0M577.5 40h0M582 49h0M577.5 43h0M585 57h0M560 39h0M560.5 99h0M577.5 58h0M570.5 69.5h0M577.5 46.5h0M572.5 51h0M568 84.5h0M569 42.5h0M577 76h0M583.5 58h0M551 72.5h0M565.5 81h0M579 54.5h0M569 46.5h0M567 70.5h0M581.5 52h0M591 53h0M548.5 91.5h0M581.5 43.5h0M587 55h0M567 50.5h0M575.5 53.5h0M588.5 68.5h0M580.5 68.5h0M581.5 63.5h0M565.5 69h0M586 48.5h0M575 75.5h0M572.5 42.5h0M586.5 33.5h0M569.5 69h0M578 66.5h0M575 50.5h0M585 46h0M579.5 31h0M580 46.5h0M591.5 60h0M581 56h0M571 92h0M586 37.5h0M580 36.5h0M564 49.5h0M562 80h0M546 91.5h0M593 59.5h0M583 62h0M576.5 46.5h0M572 52h0M569 54.5h0M567.5 79.5h0M565.5 73h0M591 63.5h0M557 74h0M575.5 60.5h0M599.5 63.5h0M586 42.5h0M580.5 66.5h0M578.5 73.5h0M569.5 33.5h0M568.5 51h0M558.5 81h0M571.5 61.5h0M571 57h0M578.5 58.5h0M588.5 62.5h0M575 47.5h0M593.5 37h0M577.5 47.5h0M586 91.5h0M576 59h0M582 73.5h0M575 46h0M578.5 52.5h0M584 45h0M581 49.5h0M586 25.5h0M573.5 29.5h0M571 64h0M574.5 56h0M572 59h0M573 48.5h0M574 67.5h0M573 39h0M568 45h0M571.5 58h0M569.5 61.5h0M578 60h0M579 46.5h0M568 36.5h0M577.5 14h0M580 58.5h0" stroke="#12B4BA" stroke-width="1.6" stroke-linecap="square" fill="none"/>
<path d="M569 79h0M531 61h0M519 78h0M574 92.5h0M557 95h0M550.5 80.5h0M547 93h0" stroke="#6A8FD0" stroke-width="1.6" stroke-linecap="square" fill="none"/>
<path d="M555 74.5h0M582.5 63h0M578 48.5h0M566.5 55h0M578.5 61h0M590.5 39h0M580 66h0M584.5 46.5h0M578 70h0M583.5 45h0M570.5 80.5h0M580.5 40h0M573.5 88h0M579 31h0M575 67h0M579.5 71h0M589 54.5h0M572 60.5h0M588.5 54h0M554 27h0M587.5 63h0M562.5 88h0M567.5 47h0M575.5 41.5h0M559.5 72.5h0M581.5 67h0M587 44h0M570.5 46.5h0M587.5 40.5h0M581 60.5h0M576.5 65.5h0M584 53h0M577 93.5h0M567.5 33.5h0M564.5 72.5h0M573 61h0M566.5 67.5h0M574.5 74h0M565 66h0M582 61.5h0M583 53.5h0M563.5 84.5h0M570 72h0M583.5 62.5h0M581.5 58h0M575.5 55h0M573 53.5h0M575.5 49h0M570 53h0M588 68h0M562.5 81h0M583.5 64.5h0M553 57h0M574.5 42h0M575 17.5h0M564 47h0M557.5 97.5h0M574 49.5h0M580 77.5h0M585.5 68.5h0M579 88.5h0M587.5 50h0M571.5 84h0M560.5 47.5h0M563 89.5h0M576 58.5h0M563.5 39.5h0M587 68h0M568.5 49h0M569 42.5h0M577 41h0M587 54h0M578.5 62h0M578.5 61h0M581 36.5h0M577.5 35h0M578 64h0M583.5 65h0M566 37h0M585 37.5h0M577.5 64h0M562.5 80h0M554.5 87h0M572 90h0M585 60h0M574.5 38h0M563.5 83.5h0M570.5 55h0M555.5 80.5h0M584.5 58.5h0M573 65.5h0M570.5 58h0M578.5 71h0M589 47.5h0M564 63h0M576 35h0M563.5 52.5h0M584 46h0M574 55.5h0M582.5 104h0M588 36h0M595.5 40h0M570.5 43.5h0M577.5 74.5h0M586 65.5h0M583.5 74.5h0M590.5 71.5h0M570 79.5h0M544.5 84h0M573 54h0M575.5 31.5h0M552.5 65.5h0M576 62h0M580 53h0M568.5 37h0M580 66.5h0M572 70.5h0M572 55.5h0M567.5 27.5h0M567 44.5h0M588.5 63h0M582 17.5h0M569.5 42.5h0M571.5 87h0M578 93h0M582 43.5h0M568 52.5h0M570 62.5h0M578.5 25.5h0M589.5 66.5h0M566 94h0M586 51.5h0M572 70.5h0M576 68.5h0M568 54.5h0M561.5 54.5h0M577 46h0M571.5 73.5h0M581 69h0M586.5 50h0M587 40h0M585.5 94h0M576 49.5h0M579.5 39.5h0M561 62.5h0M588.5 64h0M575.5 21h0M569.5 47h0M564.5 62.5h0M564 10h0M575 53h0M558 75h0M578 71.5h0M584 55.5h0M571 42h0M571 48.5h0M586 44h0M585.5 65h0M569.5 42.5h0M583 56h0M585.5 35.5h0M600 67.5h0M581.5 45.5h0M573.5 41.5h0M567.5 95h0M574 81.5h0M562 85.5h0M585.5 62h0M575 81.5h0M574 62.5h0M552 73.5h0M562.5 55.5h0M585.5 52h0M574 57.5h0M573 74h0M579 26h0M585 46h0M567.5 45.5h0M558 78.5h0M580.5 50.5h0M585.5 70.5h0M585.5 55h0M572.5 45h0M579.5 50h0M563 48h0M583.5 57.5h0M578 75.5h0M570 67.5h0M582 30.5h0M565.5 87h0M588.5 78h0M589.5 33h0M580.5 43h0M560.5 74.5h0M567.5 27h0M564.5 49h0M591 47.5h0M573 72h0M574.5 78h0M576 67.5h0M586 65.5h0M533.5 102.5h0M583.5 41.5h0M582 57h0" stroke="#12B4BA" stroke-width="1.6" stroke-linecap="square" fill="none"/>
<path d="M511.5 36.5h0M494.5 54h0M499 29h0M502.5 40h0M512 65.5h0M520 41h0M531 59.5h0M522.5 51.5h0M504.5 58.5h0M524.5 38.5h0M498.5 45.5h0M512.5 44h0M520.5 45h0M500.5 40h0M503.5 42h0M497 55h0M504 46.5h0M507.5 48.5h0M512.5 35.5h0M498.5 44.5h0M493.5 38.5h0M521 38.5h0M490.5 42.5h0M488 52.5h0M503.5 39.5h0M511.5 45h0M506 56h0M501.5 24.5h0M499 58.5h0M507.5 39.5h0M491 68h0M525 57h0M508 76h0M525.5 54h0M498.5 28h0M512 53h0M502.5 78.5h0M511 38.5h0M496.5 36h0M518.5 56.5h0M499 32h0M495 36h0M524 46.5h0M508.5 65.5h0M495.5 18.5h0M512 33.5h0M511 27.5h0M509.5 36.5h0M509 46h0M504 38h0M523 53.5h0M509 35h0M515.5 43h0M507 57h0M524 60h0M495.5 41.5h0M525.5 56.5h0M519 54.5h0M525.5 62.5h0M501.5 44.5h0M495 56.5h0M509 56h0M495 67h0M525.5 47h0M530 32h0M522 29h0M514.5 46h0M527.5 46.5h0M501.5 45.5h0" stroke="#E8736B" stroke-width="1.6" stroke-linecap="square" fill="none"/>
<path d="M582 64.5h0M567 34.5h0M576.5 49h0M572 32h0M561 39h0M572 24h0M572 50.5h0M555 30h0M560 49h0M560 47h0M565 35.5h0M578 30.5h0M569 34h0M568 34h0M561 8h0M564.5 40.5h0M574 43.5h0M573.5 37h0M565.5 40h0M552 34.5h0M580.5 35.5h0M564.5 38h0M565 29.5h0M583.5 32.5h0M557 36h0M547 45h0M570 47h0M561 15.5h0M584.5 43h0M575.5 13h0M580.5 26.5h0M588.5 32.5h0M579.5 19h0M561 25h0M575 24h0M561 22h0M575 36.5h0M559 48.5h0M566.5 16h0M576.5 19.5h0M545.5 40.5h0M555 35h0M571.5 25h0M577 50.5h0M562.5 21.5h0M576.5 45.5h0M582 35.5h0M564 25.5h0M570.5 31.5h0M587 33.5h0M565 20.5h0M563.5 7h0M553.5 32.5h0M555.5 15h0M570 17h0M558 43h0M563.5 41.5h0M562 32.5h0M568.5 23h0M580.5 30h0M557.5 34.5h0M570.5 50.5h0M568.5 26h0M556.5 28.5h0M566 39h0M561 31.5h0M569 38h0M562 41h0M572.5 31.5h0M574 51h0M566 34.5h0M574.5 32h0M569.5 44h0M537.5 33.5h0M569.5 42.5h0M567.5 20h0M567.5 41h0M570 30.5h0M576 18.5h0M549 7.5h0M575 23.5h0M570 55.5h0M568.5 34h0M575.5 49h0M565 28.5h0M576 33.5h0M557 34.5h0M585 30h0M575.5 19.5h0M574 48h0M561 18h0M569.5 21h0M579.5 33h0M569 30h0M560 33h0M560 29h0" stroke="#16AE5B" stroke-width="1.6" stroke-linecap="square" fill="none"/>
<path d="M568 77.5h0M541 84.5h0M560.5 67h0M550.5 87.5h0M567 85.5h0M518.5 69h0M554 94.5h0M523.5 86h0M553 98.5h0M557 80.5h0" stroke="#6A8FD0" stroke-width="1.6" stroke-linecap="square" fill="none"/>
<path d="M528.5 33h0M508.5 32.5h0M536.5 36.5h0M531.5 46h0M580.5 14h0M535.5 75h0M532 44h0M521.5 31h0M547.5 50.5h0M532 25.5h0M545 65.5h0M522 48.5h0M548 49.5h0M531.5 39h0M534 71h0M520.5 84h0M537 58.5h0M538 51.5h0M517 52.5h0M580.5 22.5h0M534.5 27.5h0M530 37.5h0M577 19.5h0M548.5 28.5h0M531 51.5h0M551 40.5h0M573 20h0M531.5 57h0M533.5 38h0M573 22h0M562 19.5h0M537.5 62h0M575 24h0M556 34.5h0M534.5 38h0M535.5 39h0M539.5 31h0M556 69.5h0M535.5 35h0M524 80.5h0M549.5 71h0M575.5 19.5h0M579 23.5h0" stroke="#B39B30" stroke-width="1.6" stroke-linecap="square" fill="none"/>
<path d="M590 41.5h0M575 73.5h0M585.5 54h0M583.5 71.5h0M572.5 54h0M580 63h0M570 71h0M541 100h0M568 55h0M591 58h0M581 25h0M574 33h0M564.5 90h0M561 93.5h0M579 47h0M577 24h0M576.5 55h0M578 77h0M575 28h0M565 62h0M580.5 47h0M586 82h0M587 54.5h0M586.5 29h0M579 35.5h0M573.5 47h0M583 58.5h0M575.5 70h0M576 103.5h0M577.5 32.5h0M577 53.5h0M586 84.5h0M590.5 36h0M574 73.5h0M577.5 22.5h0M575 42h0M580 51.5h0M577.5 34.5h0M574 35h0M586 53.5h0M591 67h0M580 76.5h0M572 79h0M569.5 61.5h0M595.5 36.5h0M564.5 89h0M576 19h0M579.5 30.5h0M581 51.5h0M569 63.5h0M569 52.5h0M577 23h0M585.5 59h0M585 68h0M569.5 59.5h0M582 46h0M560.5 33.5h0M580 72.5h0M582 80h0M579.5 66h0M563.5 92h0M576.5 48h0M587 51h0M572.5 88.5h0M569.5 89.5h0M579.5 53h0M582.5 45.5h0M583.5 38h0M579.5 37.5h0M578 36h0M584.5 65.5h0M577.5 39h0M574.5 64.5h0M554 86.5h0M574 72h0M585 94h0M589.5 37h0M570.5 56h0M574.5 74h0M575.5 53h0M577 71.5h0M578 62.5h0M571 18.5h0M572.5 71h0M590 52h0M565.5 56h0M575.5 62.5h0M571.5 49.5h0M586.5 73.5h0M563.5 56.5h0M567 40h0M563.5 61h0M570.5 54h0M589.5 47.5h0M595.5 35.5h0M563 67h0M570.5 71.5h0M576 26h0M584.5 48h0M563.5 94.5h0M551.5 79h0M546.5 66h0M567.5 81.5h0M571.5 56.5h0M581 63.5h0M559 72.5h0M565 95.5h0M581.5 80h0M575.5 78h0M575 59.5h0M582 34.5h0M549 72h0M574 50.5h0M574.5 67.5h0M571 45.5h0M560 76h0M571.5 22h0M573 64.5h0M560 61.5h0M571.5 65.5h0M584 73h0M578.5 64h0M589 51.5h0M558.5 90.5h0M578.5 54.5h0M582 47.5h0M571 50h0M582.5 61.5h0M580 35h0M577 89.5h0M579 58h0M581 43h0M579 39.5h0M566 84.5h0M577.5 49.5h0M587.5 32.5h0M562.5 99h0M572 51.5h0M578.5 73.5h0M553 92.5h0M589 52.5h0M579 63.5h0M590.5 55.5h0M584.5 54h0M582.5 27h0M590 40h0M576 46h0M578.5 46h0M562.5 55.5h0M576 64.5h0M593 34.5h0M574.5 65h0M569.5 65.5h0M584.5 15.5h0M573 48.5h0M556 80h0M565 49h0M569.5 21.5h0M582.5 40.5h0M589.5 46.5h0M579 94.5h0M579.5 61.5h0M587.5 16h0M564 66h0M584 52h0M583.5 74h0M564 19.5h0M572 50.5h0M571.5 35.5h0M571 54h0M570 57h0M573.5 57.5h0M563.5 54.5h0M570.5 40h0M568 24h0M574 45h0M578 28h0M574 35.5h0M576 60h0M586.5 70h0M574.5 54.5h0M571.5 40h0M564.5 47.5h0M559.5 49.5h0M580.5 78h0M574.5 62h0M585.5 47h0M586.5 52h0M564.5 68h0M573.5 67.5h0" stroke="#12B4BA" stroke-width="1.6" stroke-linecap="square" fill="none"/>
<path d="M561.5 38.5h0M570.5 54h0M566.5 51.5h0M564 44.5h0M559.5 25h0M553 40h0M560 17h0M566 41h0M559.5 14h0M564 41h0M547.5 12h0M553.5 46h0M565.5 21.5h0M553 28h0M557 42h0M559 24.5h0M561.5 52h0M574.5 15.5h0M558.5 49h0M555.5 20h0M562.5 17.5h0M582 18.5h0M561.5 31h0M567 30.5h0M562.5 38.5h0M563.5 35h0M567 35h0M575.5 15h0M549.5 9.5h0M569.5 47h0M569 36.5h0M566 30.5h0M573 22h0M560.5 29h0M562.5 23.5h0M558.5 31.5h0M570 26h0M567 35h0M583.5 27.5h0M563 37.5h0M569.5 24.5h0M553 41.5h0M561 26h0M569 22.5h0M563.5 26h0M553 26h0M563 24h0M566 24h0M563.5 24.5h0M563 28h0M568 52h0M565.5 40h0M545 25.5h0M555.5 56h0M572.5 17h0M565.5 36h0M565.5 13h0M557.5 39h0M586.5 17h0M585 18.5h0M586.5 15h0M575 43h0M570.5 33.5h0M554.5 60h0M574 36.5h0M572.5 56h0M581 35.5h0M582 29.5h0M551 25.5h0M571.5 14h0M570 44h0M581 38.5h0M572.5 41h0M572 26.5h0M553.5 14.5h0M557.5 29h0M562 12h0M555.5 33h0M573 31h0M577.5 37h0M590 26h0M574.5 25h0M558.5 53h0M558.5 47h0M561 38.5h0M564 27h0M545.5 31.5h0M571.5 23.5h0M560 31h0M543 34h0M570.5 55h0M565.5 36h0M568 41h0M573.5 37.5h0M567.5 24h0M560 40.5h0M569.5 50.5h0M573 33.5h0M553.5 31h0M567.5 23h0M576.5 20.5h0M558.5 49.5h0M569 20h0M549.5 39.5h0M568.5 28h0M571 40.5h0M567.5 21.5h0M562.5 24h0M572.5 40h0M572.5 31h0M556 32.5h0M565 57h0" stroke="#16AE5B" stroke-width="1.6" stroke-linecap="square" fill="none"/>
<path d="M504 42h0M506.5 31h0M510 47.5h0M498 56h0M490 44.5h0M494.5 38h0M508 51.5h0M498.5 49h0M521.5 61h0M512 43.5h0M524 45.5h0M527.5 48h0M518.5 52h0M507.5 44.5h0M513 57h0M517.5 27.5h0M504 28h0M506 23h0M504 44.5h0M494.5 52h0M512 18h0M524 30.5h0M501 27.5h0M505.5 48h0M513 61.5h0M514 45h0M520 51h0M494 38h0M530.5 64h0M514 32.5h0M494.5 24.5h0M510.5 34.5h0M495.5 42.5h0M523.5 43h0M511.5 64h0M496 54h0M499.5 41.5h0M495.5 35.5h0M496.5 48h0M523.5 45.5h0M497 41h0M531 34h0M558.5 104.5h0M504 47h0M520 50h0M500 40.5h0M501.5 66.5h0M516.5 44.5h0M511 41.5h0M497.5 57h0M518.5 68h0M516.5 37h0M499.5 64h0M513 31h0M501.5 33.5h0M499.5 47h0M527 28.5h0M502.5 32h0M507.5 34h0M526 49h0M526 52h0" stroke="#E8736B" stroke-width="1.6" stroke-linecap="square" fill="none"/>
<path d="M557 77h0M565 81.5h0M559.5 96h0M555 92.5h0M589 91.5h0M538 80.5h0M565.5 81.5h0M547 95.5h0M561.5 65.5h0M570.5 95h0M519.5 81.5h0M554.5 94.5h0M550.5 75h0M586.5 80h0" stroke="#6A8FD0" stroke-width="1.6" stroke-linecap="square" fill="none"/>
<path d="M532 48.5h0M537.5 27.5h0M532.5 35.5h0M579.5 8h0M538.5 44h0M530.5 47h0M517 68.5h0M534 34.5h0M525 47.5h0M539 73.5h0M542.5 64.5h0M537 49.5h0M569.5 20.5h0M536.5 38h0M530.5 46h0M521 46.5h0M541 25h0M544 31h0M534 25.5h0M580.5 25h0M535.5 41h0M540.5 35.5h0M550 54.5h0M577 33h0M540.5 24.5h0M522 46.5h0M528.5 51.5h0M539.5 40h0M579.5 17.5h0M540.5 33.5h0M548 49h0M536 18.5h0M547 49h0M528.5 27h0M552.5 31.5h0M521 71.5h0M533.5 36.5h0M535.5 28.5h0M544 39.5h0M539.5 41h0M533 19h0M553.5 68.5h0M537.5 31.5h0M528 31h0M540 56.5h0" stroke="#B39B30" stroke-width="1.6" stroke-linecap="square" fill="none"/>
<path d="M520 54.5h0M501 45.5h0M519 47h0M516.5 47.5h0M522.5 46.5h0M520 27h0M515.5 76h0M517 46h0M519 42h0M508 49h0M511.5 40.5h0M519 47.5h0M519.5 43h0M519 36h0M503.5 43.5h0M488.5 63.5h0M506.5 31h0M503 34h0M488 28h0M497.5 49h0M510.5 38h0M524 35h0M516 44.5h0M523.5 47h0M523.5 36.5h0M517.5 47.5h0M506 58h0M565 100.5h0M507.5 42.5h0M551 87h0M522.5 40h0M516 30h0M518.5 38.5h0M500 37.5h0M517 42h0M497 51.5h0M523.5 47.5h0M526 51h0M518 41h0M513 40h0M495.5 41h0M520.5 59h0M499 17.5h0M506.5 41h0M532 65h0M505.5 53h0M528 45h0M496 61.5h0M509 48.5h0M525.5 57h0M511 58.5h0M510.5 45h0M524.5 70.5h0M491 48h0M489.5 38h0M524.5 65.5h0M505 25h0M497 46h0M518 29h0M494.5 54.5h0M490 34h0M503 42.5h0M515 29.5h0M504.5 47.5h0M504.5 53h0M532 28.5h0" stroke="#E8736B" stroke-width="1.6" stroke-linecap="square" fill="none"/>
<path d="M576 70h0M555.5 86.5h0M569.5 35.5h0M571.5 55h0M572.5 58.5h0M573 72h0M570.5 52.5h0M577.5 63h0M581.5 33h0M574 48h0M591 39h0M590 41h0M569.5 44.5h0M584 48.5h0M557 78.5h0M572.5 45.5h0M560 86h0M567.5 51.5h0M582.5 65h0M579 56.5h0M567.5 71h0M579.5 66.5h0M560 65h0M565 35.5h0M585 99.5h0M589.5 74.5h0M564 84.5h0M580.5 77h0M584 62h0M569.5 47h0M573 65.5h0M574 66h0M567.5 48.5h0M586.5 39.5h0M570.5 55.5h0M574.5 35h0M572.5 52.5h0M592 38.5h0M576.5 42.5h0M581.5 57h0M555 9h0M587 70.5h0M578.5 63h0M563.5 56h0M577 61h0M584.5 56h0M568 86h0M577 71.5h0M568 67.5h0M575 78h0M577 79.5h0M578.5 44.5h0M581.5 32.5h0M591 59h0M572 58.5h0M585 73h0M553.5 83h0M567 57.5h0M577 55h0M577 76h0M566 75h0M565 88.5h0M578.5 56h0M576 74.5h0M585.5 53h0M569.5 49h0M579.5 64h0M573.5 41h0M564.5 43.5h0M576.5 42.5h0M590 80h0M582.5 46.5h0M581 57h0M574.5 52h0M577.5 38.5h0M581.5 41h0M563.5 86.5h0M576.5 71h0M597 42h0M580 70h0M578 62.5h0M571.5 25h0M568.5 76h0M563.5 91.5h0M562.5 48h0M559.5 46.5h0M578.5 66h0M595 58h0M585.5 27h0M581 47h0M578.5 27.5h0M582.5 56h0M586 55h0M559 63h0M570.5 69h0M569 44.5h0M566.5 68.5h0M583.5 62h0M562 67.5h0M578.5 60h0M592.5 45.5h0M578 71h0M565.5 73h0M566.5 65h0M569 64h0M567.5 93.5h0M582 57h0M572.5 39.5h0M587 58h0M541.5 90.5h0M580.5 51h0M561 81.5h0M587.5 49h0M581 40.5h0M571.5 58.5h0M583 63.5h0M573.5 29h0M580.5 76h0M566 62.5h0M584 77h0M566.5 58h0M576.5 43.5h0M586.5 60.5h0M584 50h0M571.5 69.5h0M577 52h0M572 54.5h0M553.5 88h0M566.5 97.5h0M554.5 86h0M569 80.5h0M578.5 54.5h0M564.5 55h0M573.5 53h0M589.5 62.5h0M585 46h0M589.5 53.5h0M571 83h0M576.5 31.5h0M580 56h0M579.5 20h0M586 93h0M581 55h0M572.5 87h0M561 97.5h0M571.5 62h0M560 90h0M557 82h0M571.5 69.5h0M573.5 33h0M561.5 54.5h0M576.5 73.5h0M564.5 34.5h0M566.5 83h0M568.5 87h0M558.5 93h0M582.5 84h0M584 80h0M575 36.5h0M581 60h0M586.5 49h0M585.5 36.5h0M576.5 77.5h0M554.5 58.5h0M566 40h0M581 64h0M585 59h0M564 72h0M576.5 68.5h0M573.5 69h0M584.5 57.5h0M584 53h0M575.5 46.5h0M584.5 34.5h0M573.5 39h0M569 53.5h0M582.5 31.5h0M564.5 77.5h0M575.5 52h0M573 55.5h0M588 59.5h0M546.5 85.5h0M585 72.5h0M575 57.5h0M571 61.5h0M581.5 69h0M577 36.5h0M580.5 63.5h0M582 52h0" stroke="#12B4BA" stroke-width="1.6" stroke-linecap="square" fill="none"/>
<path d="M552 13h0M572.5 27h0M556.5 43h0M573.5 27.5h0M571 40.5h0M576.5 40.5h0M576.5 52h0M563.5 28h0M561.5 19h0M550.5 49h0M577.5 23h0M553.5 12h0M566 35h0M565 43h0M569 29h0M561 15.5h0M578.5 32h0M562 21h0M570.5 17.5h0M563.5 20.5h0M567.5 29h0M562 36.5h0M580 16.5h0M573.5 14h0M575.5 27.5h0M551.5 12.5h0M562 27.5h0M571.5 26.5h0M569.5 39h0M562 33.5h0M571 53h0M559 18.5h0M579.5 26.5h0M560.5 47h0M567.5 26.5h0M574.5 38h0M576 14.5h0M573.5 21h0M570 36h0M562 22.5h0M575.5 34.5h0M575 18h0M553 15h0M567 22.5h0M577.5 48h0M577.5 15.5h0M576.5 38.5h0M569 39h0M538 18.5h0M556 20.5h0M567.5 31h0M553.5 33h0M558 19.5h0M583.5 26.5h0M563.5 21.5h0M569 15h0M570.5 23.5h0M553 50.5h0M560.5 25h0M574 19h0M554.5 46.5h0M567.5 37.5h0M577 7h0M556 30.5h0M565 32.5h0M568.5 42h0M575 7.5h0M559 61.5h0M575 51h0M559.5 50h0M580 36h0M567 48h0M577 36h0M562 30.5h0M554 41.5h0M557.5 31h0M570.5 24h0M575.5 34.5h0M569 27h0M573 39h0M563.5 20.5h0M570 36.5h0M576.5 41h0M570.5 38h0M562.5 30h0M557 61h0M568 40.5h0M574 23h0M569 27.5h0M563.5 19h0M575 31.5h0M567 18h0M570.5 44.5h0M547.5 11h0M563.5 38h0M570 30.5h0M565 32h0M558 38h0M559 9.5h0M566.5 32.5h0M577 38.5h0M569.5 42h0M547 29.5h0M566 39.5h0M566.5 27.5h0M569 29h0" stroke="#16AE5B" stroke-width="1.6" stroke-linecap="square" fill="none"/>
<path d="M522 33.5h0M515.5 49h0M541 61h0M524 51.5h0M543.5 60.5h0M527 39h0M538 64.5h0M544.5 47h0M561.5 10.5h0M536 52h0M540 36h0M534 57.5h0M547.5 49.5h0M521 76h0M550.5 29.5h0M578.5 22.5h0M522.5 47h0M530.5 35h0M578.5 22h0M537.5 46h0M540.5 49h0M527.5 37h0M528 83h0M595.5 17h0M525.5 43.5h0M549.5 33h0M518 68.5h0M518.5 54.5h0M543.5 42h0M575.5 22h0M533.5 46h0M535 79h0M564 11h0M577 25.5h0M576 26h0M530.5 40h0M532 42h0M540 70.5h0M543 37h0M511.5 82.5h0M577.5 22h0M545.5 34h0M533.5 38h0M548 50h0M535.5 20h0M510.5 76h0M529.5 44h0M554 44.5h0M542.5 47.5h0M571.5 15h0M524.5 35h0M524.5 56.5h0M583 17h0" stroke="#B39B30" stroke-width="1.6" stroke-linecap="square" fill="none"/>
<path d="M563.5 93h0M550 88.5h0M569 95.5h0M529.5 98.5h0M550 81.5h0M573 92h0M526.5 87.5h0" stroke="#6A8FD0" stroke-width="1.6" stroke-linecap="square" fill="none"/>
<path d="M582.5 49h0M555 73h0M578.5 61.5h0M577 46h0M593.5 48.5h0M569.5 56.5h0M580.5 51.5h0M582.5 72h0M593 47.5h0M585.5 61h0M583 65h0M578.5 51h0M555.5 88.5h0M575.5 36h0M577 38h0M581.5 37.5h0M577 31.5h0M569 70h0M576.5 82h0M576.5 80.5h0M578 74.5h0M578 45.5h0M563.5 37.5h0M568 24.5h0M561.5 82.5h0M568.5 44h0M584 55.5h0M587.5 56h0M544 74.5h0M578 69h0M578.5 75h0M577 42.5h0M578.5 48.5h0M576 49h0M557.5 64.5h0M569.5 70h0M569 85h0M521.5 92.5h0M520.5 109h0M582 45h0M581.5 49.5h0M578.5 32.5h0M571.5 89.5h0M571 39.5h0M571 79h0M574.5 41h0M582 25.5h0M567 55.5h0M593.5 48.5h0M569 30h0M577 94h0M584 55h0M575.5 62h0M588 84.5h0M567 40.5h0M574.5 45h0M579 53.5h0M582 61h0M571.5 73.5h0M579.5 44.5h0M564.5 69h0M589 51h0M586.5 63.5h0M564 56h0M594.5 49h0M587 56h0M575.5 72.5h0M577 51h0M585.5 14h0M587.5 48.5h0M559 86h0M578.5 42.5h0M579.5 44h0M572 89h0M557 55.5h0M580 57h0M574 40.5h0M571.5 25h0M577.5 75h0M581.5 66h0M547.5 89h0M581 40.5h0M575 28h0M573 42.5h0M589.5 40.5h0M556 39h0M593 33.5h0M567 89.5h0M574 64h0M570 72.5h0M568.5 52h0M581 73h0M578.5 34h0M580 84h0M576.5 67h0M568.5 76h0M585.5 70h0M556 34h0M560 86h0M588 53.5h0M578.5 29h0M583.5 47.5h0M586.5 50.5h0M565 74.5h0M574 71.5h0M585.5 58.5h0M575.5 37h0M577.5 50h0M577 73.5h0M565 62.5h0M576.5 17h0M574 80.5h0M580 76.5h0M580 58h0M562 96.5h0M585 32.5h0M557 68.5h0M561 94h0M570.5 39.5h0M588 67.5h0M575.5 76h0M581 55h0M562 64h0M578 72.5h0M591 37.5h0M578.5 9h0M586 59.5h0M581 44.5h0M580.5 42.5h0M580.5 88.5h0M571 58.5h0M578.5 49h0M576.5 66.5h0M561 66h0M585.5 57h0M580.5 61.5h0M582 75h0M581 49h0M584 29h0M572.5 90.5h0M548.5 77h0M561 57.5h0M567.5 53h0M565 30h0M588 44.5h0M566.5 32.5h0M572 38h0M582 46h0M565 64.5h0M560 73h0M567 80h0M569 21.5h0M582.5 24h0M576.5 104h0M585.5 54.5h0M566 88.5h0M565 86h0M574.5 42.5h0M572.5 68.5h0M576.5 38h0M574.5 64.5h0M585 52h0M578 57h0M575.5 60.5h0M574 88.5h0M572.5 65.5h0M588.5 44h0M555.5 80h0M582 50.5h0M581 44.5h0M574.5 91h0M586 61h0M548 81.5h0M568 52.5h0M567 94h0M569.5 34.5h0M579 51.5h0M580 46h0M581.5 61h0M575.5 101h0M575.5 45.5h0M587.5 39h0M581 58.5h0M583.5 37h0M583.5 88.5h0M569 62h0M569 59.5h0M577.5 35.5h0M579.5 56h0M576.5 35.5h0M567 89.5h0M567.5 22.5h0M577 65.5h0M579 68.5h0M553.5 88.5h0M581.5 79h0M586.5 42h0M582 43h0M595 71h0M586 77h0M573.5 73h0M583.5 32h0" stroke="#12B4BA" stroke-width="1.6" stroke-linecap="square" fill="none"/>
<path d="M563 79.5h0M555.5 81h0M549 98.5h0M559 83h0M563 89.5h0M564 96h0M568 89h0M564.5 102.5h0M559 83.5h0M535 100h0M551 98h0M575.5 73h0M545 85h0M548.5 79.5h0M568.5 79.5h0M565.5 83.5h0" stroke="#6A8FD0" stroke-width="1.6" stroke-linecap="square" fill="none"/>
<path d="M562.5 15.5h0M565 20.5h0M574 60.5h0M573.5 10h0M566 40.5h0M554.5 32.5h0M562.5 43.5h0M569.5 32.5h0M567 21.5h0M559.5 29.5h0M561.5 37h0M579 43h0M578.5 22.5h0M569 25.5h0M566 47.5h0M575.5 22.5h0M580.5 23.5h0M562 38.5h0M594.5 30.5h0M565 23h0M562 25.5h0M573 17.5h0M553 12h0M574.5 39.5h0M580.5 36.5h0M552 25.5h0M568 26.5h0M573.5 50.5h0M545.5 23h0M556 52h0M562.5 24.5h0M567.5 20h0M564 21.5h0M555.5 26h0M561.5 22h0M560.5 35h0M568.5 14.5h0M573 46.5h0M574 23h0M564 18h0M584.5 25h0M555.5 31.5h0M568.5 35.5h0M569 18.5h0M568 23.5h0M561.5 36.5h0M558.5 34.5h0M560 22.5h0M579 38h0M566 36h0M578.5 28.5h0M548 14.5h0M562.5 48h0M562 30.5h0M561 43h0M563.5 27.5h0M563.5 30h0M560 39h0M554.5 31h0M578.5 65h0M566.5 29h0M582.5 28h0M562 31.5h0M557 55h0M570.5 32h0M566 55.5h0M568.5 30h0M565.5 38h0M563 51.5h0M578 33h0M561 16.5h0M553 24.5h0M555 17.5h0M576.5 37h0M556.5 34.5h0M556 17.5h0M568 40h0M574.5 17h0M562.5 36.5h0M548.5 26h0M579 28h0M568 23h0M562.5 30h0M577.5 8.5h0M573.5 43h0M566 43h0M554 41h0M578.5 39.5h0M568.5 29h0M558 27h0M577 24.5h0" stroke="#16AE5B" stroke-width="1.6" stroke-linecap="square" fill="none"/>
<path d="M524.5 52h0M529 71h0M512.5 44.5h0M506.5 38h0M498 26.5h0M507.5 64h0M507.5 49h0M515.5 31.5h0M508 43.5h0M507.5 60.5h0M496 70h0M520 53h0M525.5 44h0M498.5 58.5h0M509.5 56h0M516 48h0M518 52.5h0M507 23.5h0M490.5 40h0M491.5 70.5h0M514 59h0M526.5 47h0M499.5 43.5h0M513.5 43h0M521.5 49.5h0M524 57.5h0M502 22.5h0M511.5 58h0M500.5 55h0M504.5 21h0M490 37.5h0M518 40.5h0M494 53.5h0M518 60.5h0M497.5 37h0M499 39.5h0M497 26.5h0M518.5 24h0M488 43.5h0M501 32.5h0M488 49h0M500.5 40h0M520 58.5h0M505 35.5h0M494.5 24.5h0M531.5 40.5h0M490.5 48h0M525.5 23h0M507.5 34.5h0M520 62h0M523.5 61.5h0M514 56.5h0M513.5 57.5h0M526.5 37.5h0M521.5 37.5h0M514.5 39.5h0M513 51h0M505.5 62.5h0M490 54.5h0M516 48.5h0M523 45.5h0M524 58h0M494 18.5h0M507 53.5h0M502 52.5h0M509 50h0M517 37.5h0M500 28h0" stroke="#E8736B" stroke-width="1.6" stroke-linecap="square" fill="none"/>
<path d="M528.5 63.5h0M577 12h0M519.5 50h0M545 58h0M530.5 77h0M547.5 61h0M543 32h0M575 27.5h0M532.5 42h0M527 25h0M543.5 27.5h0M541.5 60h0M541.5 37h0M528 39h0M525 84.5h0M531.5 54h0M545 27.5h0M543.5 56h0M546 40h0M538.5 34h0M541.5 54.5h0M540.5 18h0M526 51.5h0M540.5 29.5h0M550 43h0M541.5 39h0M579.5 22.5h0M560 53.5h0M546 23h0M542.5 43.5h0M532.5 50.5h0M536.5 27.5h0M512 53.5h0M560 43.5h0M544.5 31.5h0M534.5 51.5h0M515.5 84.5h0M533.5 78.5h0M527 50h0M550.5 57h0M534 55.5h0M527.5 53.5h0M544 39h0M558 47h0M534.5 34h0" stroke="#B39B30" stroke-width="1.6" stroke-linecap="square" fill="none"/>
<path d="M566.5 25h0M552 39h0M570 34h0M572 26h0M565.5 25.5h0M562.5 45.5h0M571 49h0M564 38.5h0M572.5 28.5h0M571 35.5h0M578 15h0M569 41h0M564 43.5h0M546.5 28h0M572 28h0M565.5 28h0M549 35.5h0M565.5 22.5h0M562 57.5h0M555.5 46h0M558.5 36.5h0M580 27.5h0M579.5 35.5h0M576 23.5h0M567.5 37h0M575.5 43h0M555.5 28h0M565 44h0M568 45.5h0M565 36h0M557.5 14.5h0M561 24h0M576 22h0M559 33.5h0M564.5 24.5h0M542 39h0M561.5 33h0M587 39.5h0M572.5 34h0M546 50h0M548.5 35.5h0M570 6.5h0M566 23.5h0M566.5 43.5h0M580 29.5h0M554.5 21.5h0M572.5 23h0M560.5 49h0M570.5 19h0M544 26.5h0M563 30.5h0M570.5 32.5h0M559.5 31h0M573.5 47.5h0M540 53h0M573 46.5h0M538 41.5h0M572.5 36.5h0M559.5 43.5h0M551.5 25.5h0M552 45.5h0M558.5 34h0M570 25h0M560.5 38h0M562 52h0M567.5 20h0M552 34.5h0M561.5 56.5h0M560 42h0M566 41.5h0M572.5 15h0M568 38.5h0M555.5 43h0M552.5 35.5h0M578.5 42h0M571 60.5h0M569 8.5h0M574.5 22.5h0M567 39.5h0M586 23.5h0M559.5 42.5h0M567 24h0M586 38h0M580 36.5h0M573.5 31h0M569 40.5h0M570 17.5h0M554.5 24h0M563 42.5h0M579 9.5h0M554 29h0M566 32.5h0M573.5 47h0M566.5 40.5h0M560 45.5h0M569 22h0M568 16h0M572.5 35h0M578.5 29.5h0M568.5 41.5h0M565.5 48.5h0M556.5 25.5h0M576 39h0M557 23.5h0" stroke="#16AE5B" stroke-width="1.6" stroke-linecap="square" fill="none"/>
<path d="M573 77h0M586.5 62.5h0M594 29.5h0M579 66h0M563.5 46h0M584 53.5h0M571.5 36h0M558.5 67h0M573 25.5h0M561 50.5h0M579.5 72h0M573.5 35.5h0M564 29.5h0M574.5 47.5h0M555 72h0M587 81h0M566 81h0M563.5 42.5h0M587.5 85.5h0M590 34.5h0M581 54.5h0M576.5 50h0M557.5 78.5h0M571.5 42h0M591.5 26.5h0M584 39h0M583.5 34.5h0M576 46.5h0M593.5 41h0M558 85.5h0M572 67.5h0M580 49h0M573.5 60h0M563 62h0M580.5 48.5h0M567.5 94h0M567.5 50h0M584.5 57.5h0M577.5 65.5h0M580 73.5h0M580 55h0M572 71h0M565.5 55h0M576.5 81h0M583 75.5h0M563 84.5h0M578.5 61h0M585.5 59.5h0M571.5 29.5h0M563 77.5h0M566.5 81h0M582 36h0M586 66h0M577 53h0M572 49h0M557.5 78.5h0M580.5 59.5h0M567 90h0M589.5 92.5h0M582.5 46h0M558 76.5h0M570.5 57.5h0M579 56h0M583.5 55.5h0M579 68.5h0M559 88.5h0M582 46h0M583 42h0M568 67.5h0M570 75.5h0M570.5 88.5h0M575 46.5h0M581.5 71h0M570 57.5h0M561 88.5h0M580.5 62.5h0M595.5 77.5h0M574.5 44.5h0M557 73h0M583.5 59h0M576 62.5h0M579.5 56.5h0M578 83h0M576 61.5h0M579.5 31h0M592.5 45.5h0M590 29.5h0M598.5 53h0M573 62.5h0M553.5 77h0M584 43h0M572.5 16.5h0M567 75h0M577.5 29h0M574.5 12h0M571.5 62.5h0M565 47.5h0M580.5 59.5h0M580 40.5h0M576.5 49.5h0M571 88h0M572.5 76h0M577.5 40.5h0M583.5 68.5h0M581 37h0M575 63h0M586.5 60.5h0M575.5 56h0M574.5 39.5h0M561.5 84h0M589.5 66.5h0M565.5 93.5h0M568 83h0M578 43.5h0M569 34h0M577.5 39.5h0M568.5 32h0M574.5 33.5h0M563.5 44h0M568 66.5h0M581 61.5h0M578.5 75.5h0M580 65h0M560 19.5h0M589 38.5h0M583.5 49.5h0M579.5 64h0M577 25h0M582 66h0M578.5 66.5h0M585.5 67h0M562 94h0M582 69h0M569 30h0M566.5 77.5h0M577.5 49.5h0M556.5 87.5h0M569.5 57h0M587 83.5h0M584 45h0M565 33.5h0M565.5 51h0M566 44h0M554.5 73.5h0M557 40h0M569 75h0M565 63h0M574 69.5h0M554 77.5h0M586.5 78.5h0M573.5 51h0M573.5 74h0M592.5 39h0M574 81h0M590 35.5h0M558 90h0M567.5 50h0M583 54.5h0M560.5 70.5h0M565 82h0M567 60.5h0M564.5 54h0M576.5 30h0M572.5 75h0M577.5 46h0M563 57.5h0M589.5 25.5h0M575 86h0M579.5 44h0M572 38.5h0M591.5 80h0M572.5 59h0M592 38.5h0M570 32.5h0M566 102h0M560.5 82h0M577.5 73h0M567 54h0M573 61h0M581 55.5h0M580 58h0M568.5 89.5h0M570.5 58h0M580.5 57h0M565 64h0M583 62h0M584.5 54h0M583 25h0M568 47h0M579 65h0M572.5 64h0M580.5 26.5h0M579 60h0M566 39.5h0M580 29h0M574 57h0M569.5 86h0M581.5 68.5h0" stroke="#12B4BA" stroke-width="1.6" stroke-linecap="square" fill="none"/>
<path d="M560.5 95h0M551 82.5h0M536.5 73h0M537 67h0M559 95h0M557 94.5h0M543.5 78.5h0M552 74.5h0M546.5 84.5h0M560.5 75h0M560 82.5h0M568.5 85.5h0M569.5 82h0" stroke="#6A8FD0" stroke-width="1.6" stroke-linecap="square" fill="none"/>
<path d="M520.5 52h0M522 43h0M504 59.5h0M499.5 29.5h0M514 17h0M520 67h0M504 43.5h0M513.5 72h0M514.5 64h0M534.5 22h0M508 61.5h0M499.5 31h0M500.5 38h0M512.5 65.5h0M503 40h0M490 28h0M488.5 46h0M489.5 57h0M522 108.5h0M520.5 46h0M549 107.5h0M501.5 55.5h0M497.5 53.5h0M523.5 32.5h0M498 46h0M499 48h0M532.5 36.5h0M511.5 45h0M499 56h0M513.5 40h0M496 53h0M498 67h0M513 61h0M507.5 30h0M499.5 54h0M520 50h0M489 56.5h0M527.5 46.5h0M519 35h0M492.5 39h0M520 48.5h0M507 51h0M501.5 56h0M513 34.5h0M514 43.5h0M500 41.5h0M497 62.5h0M518 42h0M507 38h0" stroke="#E8736B" stroke-width="1.6" stroke-linecap="square" fill="none"/>
<path d="M530 69h0M522.5 64h0M513.5 30.5h0M543.5 74h0M532.5 37.5h0M539.5 30h0M522.5 39h0M577 20h0M528.5 54h0M529.5 32.5h0M534.5 68h0M563 18.5h0M526 21.5h0M528.5 45.5h0M525.5 67.5h0M531.5 38.5h0M526 50h0M534.5 40.5h0M541 34.5h0M567 20h0M557 35.5h0M537.5 34h0M550.5 34h0M584.5 16h0M533.5 31.5h0M521.5 51h0M549 40.5h0M522.5 44.5h0M531 48.5h0M532 79h0M550 44.5h0M570 31h0M530 43h0M559 50.5h0M539 56h0M531 43.5h0M560 42.5h0M537.5 47.5h0M547 64h0M529 41.5h0M507.5 65h0M516.5 36h0M547.5 43h0M520 69h0M540 39.5h0M542.5 54h0M547 38.5h0M531.5 48h0M520 18h0M521.5 26h0M544.5 42h0M524 46.5h0M508 44.5h0M544.5 34h0M526.5 35.5h0M548.5 58h0M540.5 39.5h0M544.5 58.5h0" stroke="#B39B30" stroke-width="1.6" stroke-linecap="square" fill="none"/>
<rect x="485.6" y="1.4" width="121.8" height="108.9" fill="none" stroke="#4d4d4d" stroke-width=".9"/>
<line x1="492.3" y1="110.3" x2="492.3" y2="112.5" stroke="#4d4d4d" stroke-width=".8"/>
<text x="492.3" y="120.5" font-size="8.6" text-anchor="middle" fill="#3d3d3d" transform="matrix(1 0 0 1.1 0 -12.1)">−10</text>
<line x1="524.1" y1="110.3" x2="524.1" y2="112.5" stroke="#4d4d4d" stroke-width=".8"/>
<text x="524.1" y="120.5" font-size="8.6" text-anchor="middle" fill="#3d3d3d" transform="matrix(1 0 0 1.1 0 -12.1)">−5</text>
<line x1="555.9" y1="110.3" x2="555.9" y2="112.5" stroke="#4d4d4d" stroke-width=".8"/>
<text x="555.9" y="120.5" font-size="8.6" text-anchor="middle" fill="#3d3d3d" transform="matrix(1 0 0 1.1 0 -12.1)">0</text>
<line x1="587.7" y1="110.3" x2="587.7" y2="112.5" stroke="#4d4d4d" stroke-width=".8"/>
<text x="587.7" y="120.5" font-size="8.6" text-anchor="middle" fill="#3d3d3d" transform="matrix(1 0 0 1.1 0 -12.1)">5</text>
<line x1="483.4" y1="82.7" x2="485.6" y2="82.7" stroke="#4d4d4d" stroke-width=".8"/>
<text x="481.9" y="85.8" font-size="8.6" text-anchor="end" fill="#3d3d3d" transform="matrix(1 0 0 1.1 0 -8.6)">−5</text>
<line x1="483.4" y1="51.4" x2="485.6" y2="51.4" stroke="#4d4d4d" stroke-width=".8"/>
<text x="481.9" y="54.5" font-size="8.6" text-anchor="end" fill="#3d3d3d" transform="matrix(1 0 0 1.1 0 -5.4)">0</text>
<line x1="483.4" y1="20.1" x2="485.6" y2="20.1" stroke="#4d4d4d" stroke-width=".8"/>
<text x="481.9" y="23.2" font-size="8.6" text-anchor="end" fill="#3d3d3d" transform="matrix(1 0 0 1.1 0 -2.3)">5</text>
<text x="545" y="130.6" font-size="8.1" text-anchor="middle" transform="matrix(1 0 0 1.1 0 -13.1)">PC3</text>
<text x="468.5" y="57.2" font-size="8.1" text-anchor="middle" transform="rotate(-90 468.5 57.2) matrix(1 0 0 1.1 0 -5.7)">PC4</text>
<text x="618.4" y="31.9" font-size="7.9" transform="matrix(1 0 0 1.1 0 -3.2)">Molecular</text>
<text x="618.4" y="39.5" font-size="7.9" transform="matrix(1 0 0 1.1 0 -4)">subtype</text>
<circle cx="622.5" cy="49.1" r="2.7" fill="#E8736B"/>
<text x="630.1" y="51.7" font-size="7.1" transform="matrix(1 0 0 1.1 0 -5.2)">Basal−like</text>
<circle cx="622.5" cy="57.4" r="2.7" fill="#B39B30"/>
<text x="630.1" y="60" font-size="7.1" transform="matrix(1 0 0 1.1 0 -6)">HER2−enriched</text>
<circle cx="622.5" cy="65.7" r="2.7" fill="#16AE5B"/>
<text x="630.1" y="68.3" font-size="7.1" transform="matrix(1 0 0 1.1 0 -6.8)">LumB</text>
<circle cx="622.5" cy="74" r="2.7" fill="#12B4BA"/>
<text x="630.1" y="76.6" font-size="7.1" transform="matrix(1 0 0 1.1 0 -7.7)">LumA</text>
<circle cx="622.5" cy="82.3" r="2.7" fill="#6A8FD0"/>
<text x="630.1" y="84.9" font-size="7.1" transform="matrix(1 0 0 1.1 0 -8.5)">Normal−like</text>
<text x=".5" y="161" font-size="8.5" font-weight="bold" transform="matrix(1 0 0 1.1 0 -16.1)">d</text>
<line x1="56.3" y1="154.5" x2="56.3" y2="263.3" stroke="#ebebeb" stroke-width=".5"/>
<line x1="89.7" y1="154.5" x2="89.7" y2="263.3" stroke="#ebebeb" stroke-width=".5"/>
<line x1="123.1" y1="154.5" x2="123.1" y2="263.3" stroke="#ebebeb" stroke-width=".5"/>
<line x1="156.5" y1="154.5" x2="156.5" y2="263.3" stroke="#ebebeb" stroke-width=".5"/>
<line x1="29.5" y1="246.6" x2="161.4" y2="246.6" stroke="#ebebeb" stroke-width=".5"/>
<line x1="29.5" y1="217.3" x2="161.4" y2="217.3" stroke="#ebebeb" stroke-width=".5"/>
<line x1="29.5" y1="188.1" x2="161.4" y2="188.1" stroke="#ebebeb" stroke-width=".5"/>
<line x1="29.5" y1="158.8" x2="161.4" y2="158.8" stroke="#ebebeb" stroke-width=".5"/>
<line x1="39.6" y1="154.5" x2="39.6" y2="263.3" stroke="#ebebeb" stroke-width=".9"/>
<line x1="73" y1="154.5" x2="73" y2="263.3" stroke="#ebebeb" stroke-width=".9"/>
<line x1="106.4" y1="154.5" x2="106.4" y2="263.3" stroke="#ebebeb" stroke-width=".9"/>
<line x1="139.8" y1="154.5" x2="139.8" y2="263.3" stroke="#ebebeb" stroke-width=".9"/>
<line x1="29.5" y1="261.2" x2="161.4" y2="261.2" stroke="#ebebeb" stroke-width=".9"/>
<line x1="29.5" y1="231.9" x2="161.4" y2="231.9" stroke="#ebebeb" stroke-width=".9"/>
<line x1="29.5" y1="202.7" x2="161.4" y2="202.7" stroke="#ebebeb" stroke-width=".9"/>
<line x1="29.5" y1="173.4" x2="161.4" y2="173.4" stroke="#ebebeb" stroke-width=".9"/>
<path d="M34.4 212.5l1.7 1v2l-1.7 1-1.7-1v-2z" fill="#440154"/>
<path d="M37.8 184l1.7 1v2l-1.7 1-1.7-1v-2z" fill="#450a5c"/>
<path d="M37.8 178.2l1.7 1v2l-1.7 1-1.7-1v-2z" fill="#461264"/>
<path d="M44.3 184l1.7 1v2l-1.7 1-1.7-1v-2zM44.3 189.7l1.7 1v2l-1.7 1-1.7-1v-2zM64.2 212.5l1.7 1v2l-1.7 1-1.7-1v-2zM46 175.4l1.7 1v2l-1.7 1-1.7-1v-2zM41 201.1l1.7 1v2l-1.7 1-1.7-1v-2zM37.8 218.2l1.7 1v2l-1.7 1-1.7-1v-2zM36.1 198.2l1.7 1v2l-1.7 1-1.7-1v-2z" fill="#471b6d"/>
<path d="M50.9 201.1l1.7 1v2l-1.7 1-1.7-1v-2zM41 189.7l1.7 1v2l-1.7 1-1.7-1v-2zM34.4 201.1l1.7 1v2l-1.7 1-1.7-1v-2zM62.5 221.1l1.7 1v2l-1.7 1-1.7-1v-2z" fill="#482475"/>
<path d="M50.9 184l1.7 1v2l-1.7 1-1.7-1v-2zM46 186.8l1.7 1v2l-1.7 1-1.7-1v-2zM39.4 181.1l1.7 1v2l-1.7 1-1.7-1v-2zM57.5 201.1l1.7 1v2l-1.7 1-1.7-1v-2zM36.1 192.5l1.7 1v2l-1.7 1-1.7-1v-2zM47.6 201.1l1.7 1v2l-1.7 1-1.7-1v-2zM79 209.7l1.7 1v2l-1.7 1-1.7-1v-2zM62.5 209.7l1.7 1v2l-1.7 1-1.7-1v-2zM75.7 238.3l1.7 1v2l-1.7 1-1.7-1v-2zM46 181.1l1.7 1v2l-1.7 1-1.7-1v-2zM46 204l1.7 1v2l-1.7 1-1.7-1v-2zM72.4 181.1l1.7 1v2l-1.7 1-1.7-1v-2zM65.8 181.1l1.7 1v2l-1.7 1-1.7-1v-2zM57.5 206.8l1.7 1v2l-1.7 1-1.7-1v-2zM36.1 186.8l1.7 1v2l-1.7 1-1.7-1v-2z" fill="#462c7a"/>
<path d="M37.8 189.7l1.7 1v2l-1.7 1-1.7-1v-2zM50.9 195.4l1.7 1v2l-1.7 1-1.7-1v-2zM42.7 186.8l1.7 1v2l-1.7 1-1.7-1v-2zM44.3 212.5l1.7 1v2l-1.7 1-1.7-1v-2zM77.3 252.5l1.7 1v2l-1.7 1-1.7-1v-2zM49.3 175.4l1.7 1v2l-1.7 1-1.7-1v-2zM37.8 212.5l1.7 1v2l-1.7 1-1.7-1v-2zM46 209.7l1.7 1v2l-1.7 1-1.7-1v-2zM60.8 184l1.7 1v2l-1.7 1-1.7-1v-2zM57.5 195.4l1.7 1v2l-1.7 1-1.7-1v-2zM50.9 224l1.7 1v2l-1.7 1-1.7-1v-2zM54.2 189.7l1.7 1v2l-1.7 1-1.7-1v-2zM69.1 226.8l1.7 1v2l-1.7 1-1.7-1v-2zM64.2 206.8l1.7 1v2l-1.7 1-1.7-1v-2zM42.7 175.4l1.7 1v2l-1.7 1-1.7-1v-2zM65.8 215.4l1.7 1v2l-1.7 1-1.7-1v-2zM46 192.5l1.7 1v2l-1.7 1-1.7-1v-2zM47.6 189.7l1.7 1v2l-1.7 1-1.7-1v-2zM62.5 192.5l1.7 1v2l-1.7 1-1.7-1v-2zM49.3 181.1l1.7 1v2l-1.7 1-1.7-1v-2zM49.3 204l1.7 1v2l-1.7 1-1.7-1v-2zM72.4 232.5l1.7 1v2l-1.7 1-1.7-1v-2zM52.6 186.8l1.7 1v2l-1.7 1-1.7-1v-2zM60.8 206.8l1.7 1v2l-1.7 1-1.7-1v-2zM50.9 178.2l1.7 1v2l-1.7 1-1.7-1v-2zM62.5 181.1l1.7 1v2l-1.7 1-1.7-1v-2zM34.4 178.2l1.7 1v2l-1.7 1-1.7-1v-2zM36.1 204l1.7 1v2l-1.7 1-1.7-1v-2zM37.8 206.8l1.7 1v2l-1.7 1-1.7-1v-2z" fill="#44347e"/>
<path d="M67.4 201.1l1.7 1v2l-1.7 1-1.7-1v-2zM65.8 192.5l1.7 1v2l-1.7 1-1.7-1v-2zM64.2 178.2l1.7 1v2l-1.7 1-1.7-1v-2zM77.3 195.4l1.7 1v2l-1.7 1-1.7-1v-2zM80.7 235.4l1.7 1v2l-1.7 1-1.7-1v-2zM70.8 206.8l1.7 1v2l-1.7 1-1.7-1v-2zM79 232.5l1.7 1v2l-1.7 1-1.7-1v-2zM67.4 195.4l1.7 1v2l-1.7 1-1.7-1v-2zM75.7 209.7l1.7 1v2l-1.7 1-1.7-1v-2zM55.9 192.5l1.7 1v2l-1.7 1-1.7-1v-2zM42.7 192.5l1.7 1v2l-1.7 1-1.7-1v-2zM64.2 224l1.7 1v2l-1.7 1-1.7-1v-2zM64.2 184l1.7 1v2l-1.7 1-1.7-1v-2zM54.2 201.1l1.7 1v2l-1.7 1-1.7-1v-2zM52.6 192.5l1.7 1v2l-1.7 1-1.7-1v-2zM64.2 201.1l1.7 1v2l-1.7 1-1.7-1v-2zM55.9 186.8l1.7 1v2l-1.7 1-1.7-1v-2zM49.3 198.2l1.7 1v2l-1.7 1-1.7-1v-2zM64.2 195.4l1.7 1v2l-1.7 1-1.7-1v-2zM67.4 189.7l1.7 1v2l-1.7 1-1.7-1v-2zM44.3 178.2l1.7 1v2l-1.7 1-1.7-1v-2zM41 178.2l1.7 1v2l-1.7 1-1.7-1v-2zM69.1 204l1.7 1v2l-1.7 1-1.7-1v-2zM60.8 195.4l1.7 1v2l-1.7 1-1.7-1v-2zM39.4 192.5l1.7 1v2l-1.7 1-1.7-1v-2zM60.8 189.7l1.7 1v2l-1.7 1-1.7-1v-2zM42.7 198.2l1.7 1v2l-1.7 1-1.7-1v-2zM55.9 204l1.7 1v2l-1.7 1-1.7-1v-2zM52.6 198.2l1.7 1v2l-1.7 1-1.7-1v-2zM42.7 204l1.7 1v2l-1.7 1-1.7-1v-2zM57.5 184l1.7 1v2l-1.7 1-1.7-1v-2zM60.8 212.5l1.7 1v2l-1.7 1-1.7-1v-2zM46 198.2l1.7 1v2l-1.7 1-1.7-1v-2zM88.9 226.8l1.7 1v2l-1.7 1-1.7-1v-2zM39.4 198.2l1.7 1v2l-1.7 1-1.7-1v-2zM80.7 178.2l1.7 1v2l-1.7 1-1.7-1v-2zM79 215.4l1.7 1v2l-1.7 1-1.7-1v-2zM69.1 215.4l1.7 1v2l-1.7 1-1.7-1v-2zM82.3 215.4l1.7 1v2l-1.7 1-1.7-1v-2z" fill="#433c82"/>
<path d="M70.8 184l1.7 1v2l-1.7 1-1.7-1v-2zM60.8 201.1l1.7 1v2l-1.7 1-1.7-1v-2zM50.9 206.8l1.7 1v2l-1.7 1-1.7-1v-2zM74 172.5l1.7 1v2l-1.7 1-1.7-1v-2zM75.7 198.2l1.7 1v2l-1.7 1-1.7-1v-2zM75.7 204l1.7 1v2l-1.7 1-1.7-1v-2zM54.2 184l1.7 1v2l-1.7 1-1.7-1v-2zM69.1 198.2l1.7 1v2l-1.7 1-1.7-1v-2zM59.2 186.8l1.7 1v2l-1.7 1-1.7-1v-2zM57.5 212.5l1.7 1v2l-1.7 1-1.7-1v-2zM65.8 204l1.7 1v2l-1.7 1-1.7-1v-2zM54.2 195.4l1.7 1v2l-1.7 1-1.7-1v-2zM67.4 184l1.7 1v2l-1.7 1-1.7-1v-2zM70.8 189.7l1.7 1v2l-1.7 1-1.7-1v-2zM77.3 218.2l1.7 1v2l-1.7 1-1.7-1v-2zM82.3 181.1l1.7 1v2l-1.7 1-1.7-1v-2zM54.2 212.5l1.7 1v2l-1.7 1-1.7-1v-2zM75.7 215.4l1.7 1v2l-1.7 1-1.7-1v-2zM54.2 172.5l1.7 1v2l-1.7 1-1.7-1v-2zM39.4 215.4l1.7 1v2l-1.7 1-1.7-1v-2zM49.3 186.8l1.7 1v2l-1.7 1-1.7-1v-2zM70.8 195.4l1.7 1v2l-1.7 1-1.7-1v-2zM55.9 221.1l1.7 1v2l-1.7 1-1.7-1v-2zM49.3 192.5l1.7 1v2l-1.7 1-1.7-1v-2zM72.4 198.2l1.7 1v2l-1.7 1-1.7-1v-2zM54.2 178.2l1.7 1v2l-1.7 1-1.7-1v-2zM69.1 186.8l1.7 1v2l-1.7 1-1.7-1v-2zM75.7 192.5l1.7 1v2l-1.7 1-1.7-1v-2zM67.4 206.8l1.7 1v2l-1.7 1-1.7-1v-2zM59.2 192.5l1.7 1v2l-1.7 1-1.7-1v-2zM50.9 189.7l1.7 1v2l-1.7 1-1.7-1v-2zM69.1 181.1l1.7 1v2l-1.7 1-1.7-1v-2zM74 189.7l1.7 1v2l-1.7 1-1.7-1v-2zM44.3 195.4l1.7 1v2l-1.7 1-1.7-1v-2zM69.1 232.5l1.7 1v2l-1.7 1-1.7-1v-2zM87.2 201.1l1.7 1v2l-1.7 1-1.7-1v-2zM55.9 198.2l1.7 1v2l-1.7 1-1.7-1v-2zM52.6 204l1.7 1v2l-1.7 1-1.7-1v-2zM47.6 195.4l1.7 1v2l-1.7 1-1.7-1v-2zM47.6 178.2l1.7 1v2l-1.7 1-1.7-1v-2zM65.8 198.2l1.7 1v2l-1.7 1-1.7-1v-2zM79 192.5l1.7 1v2l-1.7 1-1.7-1v-2z" fill="#414487"/>
<path d="M72.4 192.5l1.7 1v2l-1.7 1-1.7-1v-2zM37.8 201.1l1.7 1v2l-1.7 1-1.7-1v-2zM77.3 189.7l1.7 1v2l-1.7 1-1.7-1v-2zM72.4 209.7l1.7 1v2l-1.7 1-1.7-1v-2zM77.3 184l1.7 1v2l-1.7 1-1.7-1v-2zM79 186.8l1.7 1v2l-1.7 1-1.7-1v-2zM74 184l1.7 1v2l-1.7 1-1.7-1v-2zM70.8 201.1l1.7 1v2l-1.7 1-1.7-1v-2zM69.1 192.5l1.7 1v2l-1.7 1-1.7-1v-2zM69.1 209.7l1.7 1v2l-1.7 1-1.7-1v-2zM67.4 218.2l1.7 1v2l-1.7 1-1.7-1v-2zM74 206.8l1.7 1v2l-1.7 1-1.7-1v-2zM75.7 175.4l1.7 1v2l-1.7 1-1.7-1v-2zM74 178.2l1.7 1v2l-1.7 1-1.7-1v-2zM42.7 209.7l1.7 1v2l-1.7 1-1.7-1v-2zM64.2 189.7l1.7 1v2l-1.7 1-1.7-1v-2zM70.8 178.2l1.7 1v2l-1.7 1-1.7-1v-2zM65.8 209.7l1.7 1v2l-1.7 1-1.7-1v-2zM70.8 224l1.7 1v2l-1.7 1-1.7-1v-2zM47.6 206.8l1.7 1v2l-1.7 1-1.7-1v-2zM49.3 226.8l1.7 1v2l-1.7 1-1.7-1v-2zM72.4 204l1.7 1v2l-1.7 1-1.7-1v-2zM59.2 169.7l1.7 1v2l-1.7 1-1.7-1v-2zM77.3 178.2l1.7 1v2l-1.7 1-1.7-1v-2zM44.3 206.8l1.7 1v2l-1.7 1-1.7-1v-2zM65.8 186.8l1.7 1v2l-1.7 1-1.7-1v-2zM47.6 184l1.7 1v2l-1.7 1-1.7-1v-2zM44.3 201.1l1.7 1v2l-1.7 1-1.7-1v-2zM92.2 221.1l1.7 1v2l-1.7 1-1.7-1v-2zM85.6 221.1l1.7 1v2l-1.7 1-1.7-1v-2z" fill="#3e4b88"/>
<path d="M85.6 181.1l1.7 1v2l-1.7 1-1.7-1v-2zM83.9 224l1.7 1v2l-1.7 1-1.7-1v-2zM75.7 186.8l1.7 1v2l-1.7 1-1.7-1v-2zM92.2 175.4l1.7 1v2l-1.7 1-1.7-1v-2zM79 175.4l1.7 1v2l-1.7 1-1.7-1v-2zM77.3 241.1l1.7 1v2l-1.7 1-1.7-1v-2zM83.9 195.4l1.7 1v2l-1.7 1-1.7-1v-2zM87.2 184l1.7 1v2l-1.7 1-1.7-1v-2zM79 244l1.7 1v2l-1.7 1-1.7-1v-2zM74 201.1l1.7 1v2l-1.7 1-1.7-1v-2zM80.7 212.5l1.7 1v2l-1.7 1-1.7-1v-2zM60.8 178.2l1.7 1v2l-1.7 1-1.7-1v-2zM87.2 178.2l1.7 1v2l-1.7 1-1.7-1v-2zM88.9 221.1l1.7 1v2l-1.7 1-1.7-1v-2zM88.9 175.4l1.7 1v2l-1.7 1-1.7-1v-2zM88.9 198.2l1.7 1v2l-1.7 1-1.7-1v-2zM77.3 212.5l1.7 1v2l-1.7 1-1.7-1v-2zM44.3 218.2l1.7 1v2l-1.7 1-1.7-1v-2z" fill="#3b528a"/>
<path d="M80.7 189.7l1.7 1v2l-1.7 1-1.7-1v-2zM77.3 201.1l1.7 1v2l-1.7 1-1.7-1v-2zM83.9 166.8l1.7 1v2l-1.7 1-1.7-1v-2zM80.7 184l1.7 1v2l-1.7 1-1.7-1v-2zM92.2 192.5l1.7 1v2l-1.7 1-1.7-1v-2zM82.3 175.4l1.7 1v2l-1.7 1-1.7-1v-2zM74 224l1.7 1v2l-1.7 1-1.7-1v-2zM74 229.7l1.7 1v2l-1.7 1-1.7-1v-2zM87.2 189.7l1.7 1v2l-1.7 1-1.7-1v-2zM70.8 229.7l1.7 1v2l-1.7 1-1.7-1v-2zM95.5 215.4l1.7 1v2l-1.7 1-1.7-1v-2zM80.7 201.1l1.7 1v2l-1.7 1-1.7-1v-2zM82.3 186.8l1.7 1v2l-1.7 1-1.7-1v-2zM88.9 181.1l1.7 1v2l-1.7 1-1.7-1v-2zM83.9 184l1.7 1v2l-1.7 1-1.7-1v-2zM85.6 192.5l1.7 1v2l-1.7 1-1.7-1v-2zM95.5 175.4l1.7 1v2l-1.7 1-1.7-1v-2zM82.3 169.7l1.7 1v2l-1.7 1-1.7-1v-2zM87.2 212.5l1.7 1v2l-1.7 1-1.7-1v-2zM93.8 195.4l1.7 1v2l-1.7 1-1.7-1v-2zM77.3 229.7l1.7 1v2l-1.7 1-1.7-1v-2zM74 235.4l1.7 1v2l-1.7 1-1.7-1v-2zM92.2 204l1.7 1v2l-1.7 1-1.7-1v-2zM65.8 175.4l1.7 1v2l-1.7 1-1.7-1v-2z" fill="#38588c"/>
<path d="M83.9 189.7l1.7 1v2l-1.7 1-1.7-1v-2zM65.8 249.7l1.7 1v2l-1.7 1-1.7-1v-2zM85.6 198.2l1.7 1v2l-1.7 1-1.7-1v-2zM85.6 204l1.7 1v2l-1.7 1-1.7-1v-2zM90.5 189.7l1.7 1v2l-1.7 1-1.7-1v-2zM85.6 175.4l1.7 1v2l-1.7 1-1.7-1v-2zM90.5 184l1.7 1v2l-1.7 1-1.7-1v-2zM80.7 195.4l1.7 1v2l-1.7 1-1.7-1v-2zM93.8 166.8l1.7 1v2l-1.7 1-1.7-1v-2zM80.7 206.8l1.7 1v2l-1.7 1-1.7-1v-2zM82.3 192.5l1.7 1v2l-1.7 1-1.7-1v-2zM83.9 201.1l1.7 1v2l-1.7 1-1.7-1v-2zM85.6 186.8l1.7 1v2l-1.7 1-1.7-1v-2zM85.6 209.7l1.7 1v2l-1.7 1-1.7-1v-2zM98.8 204l1.7 1v2l-1.7 1-1.7-1v-2zM92.2 209.7l1.7 1v2l-1.7 1-1.7-1v-2zM98.8 226.8l1.7 1v2l-1.7 1-1.7-1v-2zM85.6 215.4l1.7 1v2l-1.7 1-1.7-1v-2z" fill="#355f8d"/>
<path d="M95.5 232.5l1.7 1v2l-1.7 1-1.7-1v-2zM92.2 186.8l1.7 1v2l-1.7 1-1.7-1v-2zM87.2 195.4l1.7 1v2l-1.7 1-1.7-1v-2zM97.2 184l1.7 1v2l-1.7 1-1.7-1v-2zM88.9 186.8l1.7 1v2l-1.7 1-1.7-1v-2zM87.2 206.8l1.7 1v2l-1.7 1-1.7-1v-2zM62.5 186.8l1.7 1v2l-1.7 1-1.7-1v-2zM82.3 198.2l1.7 1v2l-1.7 1-1.7-1v-2zM88.9 192.5l1.7 1v2l-1.7 1-1.7-1v-2zM92.2 238.3l1.7 1v2l-1.7 1-1.7-1v-2zM92.2 198.2l1.7 1v2l-1.7 1-1.7-1v-2zM93.8 206.8l1.7 1v2l-1.7 1-1.7-1v-2zM80.7 224l1.7 1v2l-1.7 1-1.7-1v-2zM97.2 166.8l1.7 1v2l-1.7 1-1.7-1v-2zM70.8 212.5l1.7 1v2l-1.7 1-1.7-1v-2zM79 204l1.7 1v2l-1.7 1-1.7-1v-2zM92.2 226.8l1.7 1v2l-1.7 1-1.7-1v-2z" fill="#32658d"/>
<path d="M98.8 192.5l1.7 1v2l-1.7 1-1.7-1v-2zM95.5 181.1l1.7 1v2l-1.7 1-1.7-1v-2zM102.1 192.5l1.7 1v2l-1.7 1-1.7-1v-2zM95.5 192.5l1.7 1v2l-1.7 1-1.7-1v-2zM95.5 198.2l1.7 1v2l-1.7 1-1.7-1v-2zM98.8 186.8l1.7 1v2l-1.7 1-1.7-1v-2zM93.8 184l1.7 1v2l-1.7 1-1.7-1v-2zM100.4 224l1.7 1v2l-1.7 1-1.7-1v-2zM87.2 252.5l1.7 1v2l-1.7 1-1.7-1v-2zM98.8 244l1.7 1v2l-1.7 1-1.7-1v-2zM93.8 178.2l1.7 1v2l-1.7 1-1.7-1v-2zM102.1 226.8l1.7 1v2l-1.7 1-1.7-1v-2zM97.2 212.5l1.7 1v2l-1.7 1-1.7-1v-2zM92.2 232.5l1.7 1v2l-1.7 1-1.7-1v-2zM83.9 178.2l1.7 1v2l-1.7 1-1.7-1v-2zM88.9 169.7l1.7 1v2l-1.7 1-1.7-1v-2zM69.1 238.3l1.7 1v2l-1.7 1-1.7-1v-2z" fill="#306c8e"/>
<path d="M92.2 181.1l1.7 1v2l-1.7 1-1.7-1v-2zM103.8 229.7l1.7 1v2l-1.7 1-1.7-1v-2zM102.1 238.3l1.7 1v2l-1.7 1-1.7-1v-2zM92.2 169.7l1.7 1v2l-1.7 1-1.7-1v-2zM103.8 161.1l1.7 1v2l-1.7 1-1.7-1v-2zM93.8 172.5l1.7 1v2l-1.7 1-1.7-1v-2zM93.8 201.1l1.7 1v2l-1.7 1-1.7-1v-2zM102.1 186.8l1.7 1v2l-1.7 1-1.7-1v-2zM108.7 244l1.7 1v2l-1.7 1-1.7-1v-2zM93.8 229.7l1.7 1v2l-1.7 1-1.7-1v-2zM90.5 246.8l1.7 1v2l-1.7 1-1.7-1v-2zM83.9 206.8l1.7 1v2l-1.7 1-1.7-1v-2zM105.4 169.7l1.7 1v2l-1.7 1-1.7-1v-2zM88.9 204l1.7 1v2l-1.7 1-1.7-1v-2z" fill="#2d728e"/>
<path d="M100.4 184l1.7 1v2l-1.7 1-1.7-1v-2zM79 255.4l1.7 1v2l-1.7 1-1.7-1v-2zM100.4 206.8l1.7 1v2l-1.7 1-1.7-1v-2zM102.1 221.1l1.7 1v2l-1.7 1-1.7-1v-2zM100.4 195.4l1.7 1v2l-1.7 1-1.7-1v-2zM103.8 178.2l1.7 1v2l-1.7 1-1.7-1v-2zM98.8 181.1l1.7 1v2l-1.7 1-1.7-1v-2zM103.8 166.8l1.7 1v2l-1.7 1-1.7-1v-2zM98.8 198.2l1.7 1v2l-1.7 1-1.7-1v-2zM97.2 206.8l1.7 1v2l-1.7 1-1.7-1v-2zM97.2 189.7l1.7 1v2l-1.7 1-1.7-1v-2zM97.2 241.1l1.7 1v2l-1.7 1-1.7-1v-2zM93.8 189.7l1.7 1v2l-1.7 1-1.7-1v-2zM103.8 201.1l1.7 1v2l-1.7 1-1.7-1v-2zM100.4 229.7l1.7 1v2l-1.7 1-1.7-1v-2z" fill="#2a788e"/>
<path d="M105.4 192.5l1.7 1v2l-1.7 1-1.7-1v-2zM100.4 178.2l1.7 1v2l-1.7 1-1.7-1v-2zM102.1 181.1l1.7 1v2l-1.7 1-1.7-1v-2zM105.4 209.7l1.7 1v2l-1.7 1-1.7-1v-2zM100.4 161.1l1.7 1v2l-1.7 1-1.7-1v-2zM107 241.1l1.7 1v2l-1.7 1-1.7-1v-2zM98.8 221.1l1.7 1v2l-1.7 1-1.7-1v-2zM107 184l1.7 1v2l-1.7 1-1.7-1v-2zM103.8 184l1.7 1v2l-1.7 1-1.7-1v-2zM105.4 238.3l1.7 1v2l-1.7 1-1.7-1v-2zM103.8 218.2l1.7 1v2l-1.7 1-1.7-1v-2z" fill="#287e8e"/>
<path d="M107 195.4l1.7 1v2l-1.7 1-1.7-1v-2zM105.4 198.2l1.7 1v2l-1.7 1-1.7-1v-2zM97.2 178.2l1.7 1v2l-1.7 1-1.7-1v-2zM103.8 189.7l1.7 1v2l-1.7 1-1.7-1v-2zM100.4 189.7l1.7 1v2l-1.7 1-1.7-1v-2zM107 189.7l1.7 1v2l-1.7 1-1.7-1v-2zM110.3 161.1l1.7 1v2l-1.7 1-1.7-1v-2zM105.4 186.8l1.7 1v2l-1.7 1-1.7-1v-2zM107 166.8l1.7 1v2l-1.7 1-1.7-1v-2zM103.8 212.5l1.7 1v2l-1.7 1-1.7-1v-2zM103.8 195.4l1.7 1v2l-1.7 1-1.7-1v-2zM90.5 206.8l1.7 1v2l-1.7 1-1.7-1v-2zM102.1 163.9l1.7 1v2l-1.7 1-1.7-1v-2zM103.8 235.4l1.7 1v2l-1.7 1-1.7-1v-2zM97.2 235.4l1.7 1v2l-1.7 1-1.7-1v-2zM98.8 255.4l1.7 1v2l-1.7 1-1.7-1v-2z" fill="#26848d"/>
<path d="M105.4 175.4l1.7 1v2l-1.7 1-1.7-1v-2zM108.7 186.8l1.7 1v2l-1.7 1-1.7-1v-2zM105.4 226.8l1.7 1v2l-1.7 1-1.7-1v-2zM110.3 184l1.7 1v2l-1.7 1-1.7-1v-2zM110.3 166.8l1.7 1v2l-1.7 1-1.7-1v-2zM116.9 161.1l1.7 1v2l-1.7 1-1.7-1v-2zM108.7 226.8l1.7 1v2l-1.7 1-1.7-1v-2zM105.4 221.1l1.7 1v2l-1.7 1-1.7-1v-2zM107 235.4l1.7 1v2l-1.7 1-1.7-1v-2zM103.8 206.8l1.7 1v2l-1.7 1-1.7-1v-2zM107 172.5l1.7 1v2l-1.7 1-1.7-1v-2zM108.7 198.2l1.7 1v2l-1.7 1-1.7-1v-2zM105.4 232.5l1.7 1v2l-1.7 1-1.7-1v-2zM108.7 238.3l1.7 1v2l-1.7 1-1.7-1v-2zM120.2 161.1l1.7 1v2l-1.7 1-1.7-1v-2z" fill="#238b8c"/>
<path d="M108.7 209.7l1.7 1v2l-1.7 1-1.7-1v-2zM108.7 192.5l1.7 1v2l-1.7 1-1.7-1v-2zM110.3 224l1.7 1v2l-1.7 1-1.7-1v-2zM112 181.1l1.7 1v2l-1.7 1-1.7-1v-2zM107 218.2l1.7 1v2l-1.7 1-1.7-1v-2zM110.3 189.7l1.7 1v2l-1.7 1-1.7-1v-2zM112 175.4l1.7 1v2l-1.7 1-1.7-1v-2zM112 186.8l1.7 1v2l-1.7 1-1.7-1v-2zM108.7 181.1l1.7 1v2l-1.7 1-1.7-1v-2zM112 198.2l1.7 1v2l-1.7 1-1.7-1v-2zM107 178.2l1.7 1v2l-1.7 1-1.7-1v-2zM107 224l1.7 1v2l-1.7 1-1.7-1v-2zM108.7 175.4l1.7 1v2l-1.7 1-1.7-1v-2zM108.7 169.7l1.7 1v2l-1.7 1-1.7-1v-2zM110.3 218.2l1.7 1v2l-1.7 1-1.7-1v-2zM110.3 206.8l1.7 1v2l-1.7 1-1.7-1v-2zM103.8 241.1l1.7 1v2l-1.7 1-1.7-1v-2zM108.7 204l1.7 1v2l-1.7 1-1.7-1v-2zM115.3 249.7l1.7 1v2l-1.7 1-1.7-1v-2zM103.8 224l1.7 1v2l-1.7 1-1.7-1v-2z" fill="#21918c"/>
<path d="M110.3 212.5l1.7 1v2l-1.7 1-1.7-1v-2zM108.7 232.5l1.7 1v2l-1.7 1-1.7-1v-2zM116.9 166.8l1.7 1v2l-1.7 1-1.7-1v-2zM110.3 229.7l1.7 1v2l-1.7 1-1.7-1v-2zM113.7 229.7l1.7 1v2l-1.7 1-1.7-1v-2zM110.3 172.5l1.7 1v2l-1.7 1-1.7-1v-2zM102.1 169.7l1.7 1v2l-1.7 1-1.7-1v-2zM110.3 201.1l1.7 1v2l-1.7 1-1.7-1v-2zM113.7 178.2l1.7 1v2l-1.7 1-1.7-1v-2zM110.3 241.1l1.7 1v2l-1.7 1-1.7-1v-2zM113.7 189.7l1.7 1v2l-1.7 1-1.7-1v-2zM113.7 184l1.7 1v2l-1.7 1-1.7-1v-2zM108.7 221.1l1.7 1v2l-1.7 1-1.7-1v-2zM115.3 255.4l1.7 1v2l-1.7 1-1.7-1v-2zM112 221.1l1.7 1v2l-1.7 1-1.7-1v-2zM112 192.5l1.7 1v2l-1.7 1-1.7-1v-2zM110.3 235.4l1.7 1v2l-1.7 1-1.7-1v-2zM115.3 238.3l1.7 1v2l-1.7 1-1.7-1v-2zM121.9 163.9l1.7 1v2l-1.7 1-1.7-1v-2zM112 215.4l1.7 1v2l-1.7 1-1.7-1v-2zM113.7 218.2l1.7 1v2l-1.7 1-1.7-1v-2zM112 209.7l1.7 1v2l-1.7 1-1.7-1v-2zM115.3 169.7l1.7 1v2l-1.7 1-1.7-1v-2zM113.7 172.5l1.7 1v2l-1.7 1-1.7-1v-2zM113.7 166.8l1.7 1v2l-1.7 1-1.7-1v-2zM112 244l1.7 1v2l-1.7 1-1.7-1v-2zM100.4 252.5l1.7 1v2l-1.7 1-1.7-1v-2z" fill="#21978a"/>
<path d="M112 226.8l1.7 1v2l-1.7 1-1.7-1v-2zM118.6 238.3l1.7 1v2l-1.7 1-1.7-1v-2zM116.9 201.1l1.7 1v2l-1.7 1-1.7-1v-2zM112 232.5l1.7 1v2l-1.7 1-1.7-1v-2zM113.7 201.1l1.7 1v2l-1.7 1-1.7-1v-2zM115.3 158.2l1.7 1v2l-1.7 1-1.7-1v-2zM118.6 169.7l1.7 1v2l-1.7 1-1.7-1v-2zM113.7 195.4l1.7 1v2l-1.7 1-1.7-1v-2zM116.9 212.5l1.7 1v2l-1.7 1-1.7-1v-2zM115.3 175.4l1.7 1v2l-1.7 1-1.7-1v-2zM112 238.3l1.7 1v2l-1.7 1-1.7-1v-2zM113.7 235.4l1.7 1v2l-1.7 1-1.7-1v-2zM116.9 172.5l1.7 1v2l-1.7 1-1.7-1v-2zM113.7 224l1.7 1v2l-1.7 1-1.7-1v-2zM118.6 209.7l1.7 1v2l-1.7 1-1.7-1v-2zM110.3 178.2l1.7 1v2l-1.7 1-1.7-1v-2zM112 169.7l1.7 1v2l-1.7 1-1.7-1v-2zM115.3 186.8l1.7 1v2l-1.7 1-1.7-1v-2zM110.3 195.4l1.7 1v2l-1.7 1-1.7-1v-2zM116.9 241.1l1.7 1v2l-1.7 1-1.7-1v-2zM116.9 246.8l1.7 1v2l-1.7 1-1.7-1v-2z" fill="#229c88"/>
<path d="M120.2 184l1.7 1v2l-1.7 1-1.7-1v-2zM116.9 189.7l1.7 1v2l-1.7 1-1.7-1v-2zM118.6 232.5l1.7 1v2l-1.7 1-1.7-1v-2zM115.3 204l1.7 1v2l-1.7 1-1.7-1v-2zM115.3 198.2l1.7 1v2l-1.7 1-1.7-1v-2zM116.9 184l1.7 1v2l-1.7 1-1.7-1v-2zM118.6 192.5l1.7 1v2l-1.7 1-1.7-1v-2zM115.3 226.8l1.7 1v2l-1.7 1-1.7-1v-2zM115.3 232.5l1.7 1v2l-1.7 1-1.7-1v-2zM115.3 192.5l1.7 1v2l-1.7 1-1.7-1v-2zM118.6 244l1.7 1v2l-1.7 1-1.7-1v-2zM115.3 221.1l1.7 1v2l-1.7 1-1.7-1v-2zM118.6 158.2l1.7 1v2l-1.7 1-1.7-1v-2zM118.6 163.9l1.7 1v2l-1.7 1-1.7-1v-2zM116.9 224l1.7 1v2l-1.7 1-1.7-1v-2zM113.7 212.5l1.7 1v2l-1.7 1-1.7-1v-2zM118.6 175.4l1.7 1v2l-1.7 1-1.7-1v-2zM113.7 241.1l1.7 1v2l-1.7 1-1.7-1v-2z" fill="#22a286"/>
<path d="M116.9 178.2l1.7 1v2l-1.7 1-1.7-1v-2zM118.6 186.8l1.7 1v2l-1.7 1-1.7-1v-2zM118.6 198.2l1.7 1v2l-1.7 1-1.7-1v-2zM118.6 215.4l1.7 1v2l-1.7 1-1.7-1v-2zM120.2 206.8l1.7 1v2l-1.7 1-1.7-1v-2zM115.3 181.1l1.7 1v2l-1.7 1-1.7-1v-2zM116.9 229.7l1.7 1v2l-1.7 1-1.7-1v-2zM120.2 195.4l1.7 1v2l-1.7 1-1.7-1v-2zM121.9 192.5l1.7 1v2l-1.7 1-1.7-1v-2zM116.9 218.2l1.7 1v2l-1.7 1-1.7-1v-2zM123.5 241.1l1.7 1v2l-1.7 1-1.7-1v-2zM113.7 246.8l1.7 1v2l-1.7 1-1.7-1v-2zM118.6 204l1.7 1v2l-1.7 1-1.7-1v-2zM120.2 178.2l1.7 1v2l-1.7 1-1.7-1v-2zM115.3 209.7l1.7 1v2l-1.7 1-1.7-1v-2zM120.2 229.7l1.7 1v2l-1.7 1-1.7-1v-2zM115.3 163.9l1.7 1v2l-1.7 1-1.7-1v-2zM113.7 206.8l1.7 1v2l-1.7 1-1.7-1v-2zM115.3 215.4l1.7 1v2l-1.7 1-1.7-1v-2zM120.2 166.8l1.7 1v2l-1.7 1-1.7-1v-2z" fill="#22a884"/>
<path d="M121.9 169.7l1.7 1v2l-1.7 1-1.7-1v-2zM121.9 186.8l1.7 1v2l-1.7 1-1.7-1v-2zM121.9 204l1.7 1v2l-1.7 1-1.7-1v-2zM126.8 172.5l1.7 1v2l-1.7 1-1.7-1v-2zM118.6 181.1l1.7 1v2l-1.7 1-1.7-1v-2zM120.2 189.7l1.7 1v2l-1.7 1-1.7-1v-2zM120.2 201.1l1.7 1v2l-1.7 1-1.7-1v-2zM125.2 186.8l1.7 1v2l-1.7 1-1.7-1v-2zM120.2 212.5l1.7 1v2l-1.7 1-1.7-1v-2zM123.5 218.2l1.7 1v2l-1.7 1-1.7-1v-2zM123.5 235.4l1.7 1v2l-1.7 1-1.7-1v-2zM116.9 195.4l1.7 1v2l-1.7 1-1.7-1v-2zM121.9 175.4l1.7 1v2l-1.7 1-1.7-1v-2zM120.2 235.4l1.7 1v2l-1.7 1-1.7-1v-2zM123.5 166.8l1.7 1v2l-1.7 1-1.7-1v-2zM120.2 224l1.7 1v2l-1.7 1-1.7-1v-2zM120.2 172.5l1.7 1v2l-1.7 1-1.7-1v-2zM121.9 158.2l1.7 1v2l-1.7 1-1.7-1v-2zM120.2 218.2l1.7 1v2l-1.7 1-1.7-1v-2zM123.5 195.4l1.7 1v2l-1.7 1-1.7-1v-2zM121.9 198.2l1.7 1v2l-1.7 1-1.7-1v-2zM121.9 226.8l1.7 1v2l-1.7 1-1.7-1v-2zM121.9 215.4l1.7 1v2l-1.7 1-1.7-1v-2zM118.6 226.8l1.7 1v2l-1.7 1-1.7-1v-2zM125.2 238.3l1.7 1v2l-1.7 1-1.7-1v-2zM116.9 235.4l1.7 1v2l-1.7 1-1.7-1v-2z" fill="#2aae7f"/>
<path d="M116.9 252.5l1.7 1v2l-1.7 1-1.7-1v-2zM125.2 163.9l1.7 1v2l-1.7 1-1.7-1v-2zM121.9 244l1.7 1v2l-1.7 1-1.7-1v-2zM123.5 178.2l1.7 1v2l-1.7 1-1.7-1v-2zM121.9 181.1l1.7 1v2l-1.7 1-1.7-1v-2zM126.8 206.8l1.7 1v2l-1.7 1-1.7-1v-2zM121.9 232.5l1.7 1v2l-1.7 1-1.7-1v-2zM126.8 166.8l1.7 1v2l-1.7 1-1.7-1v-2zM121.9 209.7l1.7 1v2l-1.7 1-1.7-1v-2zM123.5 184l1.7 1v2l-1.7 1-1.7-1v-2zM125.2 175.4l1.7 1v2l-1.7 1-1.7-1v-2zM125.2 169.7l1.7 1v2l-1.7 1-1.7-1v-2zM123.5 189.7l1.7 1v2l-1.7 1-1.7-1v-2zM123.5 172.5l1.7 1v2l-1.7 1-1.7-1v-2zM128.5 249.7l1.7 1v2l-1.7 1-1.7-1v-2zM126.8 235.4l1.7 1v2l-1.7 1-1.7-1v-2zM121.9 221.1l1.7 1v2l-1.7 1-1.7-1v-2z" fill="#33b47a"/>
<path d="M123.5 201.1l1.7 1v2l-1.7 1-1.7-1v-2zM125.2 192.5l1.7 1v2l-1.7 1-1.7-1v-2zM125.2 232.5l1.7 1v2l-1.7 1-1.7-1v-2zM135.1 238.3l1.7 1v2l-1.7 1-1.7-1v-2zM123.5 212.5l1.7 1v2l-1.7 1-1.7-1v-2zM126.8 189.7l1.7 1v2l-1.7 1-1.7-1v-2zM131.8 221.1l1.7 1v2l-1.7 1-1.7-1v-2zM123.5 206.8l1.7 1v2l-1.7 1-1.7-1v-2zM128.5 169.7l1.7 1v2l-1.7 1-1.7-1v-2zM125.2 198.2l1.7 1v2l-1.7 1-1.7-1v-2zM128.5 204l1.7 1v2l-1.7 1-1.7-1v-2zM128.5 163.9l1.7 1v2l-1.7 1-1.7-1v-2zM133.4 172.5l1.7 1v2l-1.7 1-1.7-1v-2zM125.2 221.1l1.7 1v2l-1.7 1-1.7-1v-2zM128.5 186.8l1.7 1v2l-1.7 1-1.7-1v-2zM128.5 209.7l1.7 1v2l-1.7 1-1.7-1v-2z" fill="#3cb975"/>
<path d="M130.2 201.1l1.7 1v2l-1.7 1-1.7-1v-2zM125.2 204l1.7 1v2l-1.7 1-1.7-1v-2zM126.8 195.4l1.7 1v2l-1.7 1-1.7-1v-2zM130.2 166.8l1.7 1v2l-1.7 1-1.7-1v-2zM128.5 175.4l1.7 1v2l-1.7 1-1.7-1v-2zM128.5 192.5l1.7 1v2l-1.7 1-1.7-1v-2zM126.8 184l1.7 1v2l-1.7 1-1.7-1v-2zM130.2 218.2l1.7 1v2l-1.7 1-1.7-1v-2zM126.8 178.2l1.7 1v2l-1.7 1-1.7-1v-2zM128.5 232.5l1.7 1v2l-1.7 1-1.7-1v-2zM126.8 201.1l1.7 1v2l-1.7 1-1.7-1v-2zM126.8 212.5l1.7 1v2l-1.7 1-1.7-1v-2zM126.8 218.2l1.7 1v2l-1.7 1-1.7-1v-2zM125.2 181.1l1.7 1v2l-1.7 1-1.7-1v-2zM128.5 198.2l1.7 1v2l-1.7 1-1.7-1v-2zM130.2 241.1l1.7 1v2l-1.7 1-1.7-1v-2zM130.2 224l1.7 1v2l-1.7 1-1.7-1v-2zM128.5 226.8l1.7 1v2l-1.7 1-1.7-1v-2zM125.2 215.4l1.7 1v2l-1.7 1-1.7-1v-2zM128.5 215.4l1.7 1v2l-1.7 1-1.7-1v-2zM123.5 224l1.7 1v2l-1.7 1-1.7-1v-2zM126.8 229.7l1.7 1v2l-1.7 1-1.7-1v-2zM125.2 244l1.7 1v2l-1.7 1-1.7-1v-2zM131.8 226.8l1.7 1v2l-1.7 1-1.7-1v-2zM130.2 235.4l1.7 1v2l-1.7 1-1.7-1v-2zM128.5 221.1l1.7 1v2l-1.7 1-1.7-1v-2zM128.5 238.3l1.7 1v2l-1.7 1-1.7-1v-2zM125.2 226.8l1.7 1v2l-1.7 1-1.7-1v-2zM136.8 235.4l1.7 1v2l-1.7 1-1.7-1v-2z" fill="#44bf70"/>
<path d="M131.8 175.4l1.7 1v2l-1.7 1-1.7-1v-2zM130.2 195.4l1.7 1v2l-1.7 1-1.7-1v-2zM131.8 209.7l1.7 1v2l-1.7 1-1.7-1v-2zM126.8 224l1.7 1v2l-1.7 1-1.7-1v-2zM130.2 189.7l1.7 1v2l-1.7 1-1.7-1v-2zM133.4 189.7l1.7 1v2l-1.7 1-1.7-1v-2zM131.8 186.8l1.7 1v2l-1.7 1-1.7-1v-2zM131.8 215.4l1.7 1v2l-1.7 1-1.7-1v-2zM130.2 172.5l1.7 1v2l-1.7 1-1.7-1v-2zM130.2 212.5l1.7 1v2l-1.7 1-1.7-1v-2zM133.4 218.2l1.7 1v2l-1.7 1-1.7-1v-2zM131.8 163.9l1.7 1v2l-1.7 1-1.7-1v-2zM131.8 198.2l1.7 1v2l-1.7 1-1.7-1v-2zM133.4 229.7l1.7 1v2l-1.7 1-1.7-1v-2zM131.8 169.7l1.7 1v2l-1.7 1-1.7-1v-2zM123.5 229.7l1.7 1v2l-1.7 1-1.7-1v-2zM130.2 161.1l1.7 1v2l-1.7 1-1.7-1v-2zM131.8 232.5l1.7 1v2l-1.7 1-1.7-1v-2zM133.4 235.4l1.7 1v2l-1.7 1-1.7-1v-2z" fill="#52c468"/>
<path d="M131.8 204l1.7 1v2l-1.7 1-1.7-1v-2zM133.4 184l1.7 1v2l-1.7 1-1.7-1v-2zM136.8 206.8l1.7 1v2l-1.7 1-1.7-1v-2zM131.8 192.5l1.7 1v2l-1.7 1-1.7-1v-2zM130.2 178.2l1.7 1v2l-1.7 1-1.7-1v-2zM136.8 178.2l1.7 1v2l-1.7 1-1.7-1v-2zM130.2 184l1.7 1v2l-1.7 1-1.7-1v-2zM136.8 166.8l1.7 1v2l-1.7 1-1.7-1v-2zM131.8 181.1l1.7 1v2l-1.7 1-1.7-1v-2zM133.4 195.4l1.7 1v2l-1.7 1-1.7-1v-2zM133.4 212.5l1.7 1v2l-1.7 1-1.7-1v-2zM135.1 169.7l1.7 1v2l-1.7 1-1.7-1v-2zM136.8 246.8l1.7 1v2l-1.7 1-1.7-1v-2zM135.1 198.2l1.7 1v2l-1.7 1-1.7-1v-2zM133.4 201.1l1.7 1v2l-1.7 1-1.7-1v-2zM143.3 235.4l1.7 1v2l-1.7 1-1.7-1v-2zM136.8 241.1l1.7 1v2l-1.7 1-1.7-1v-2zM128.5 158.2l1.7 1v2l-1.7 1-1.7-1v-2zM136.8 224l1.7 1v2l-1.7 1-1.7-1v-2zM135.1 175.4l1.7 1v2l-1.7 1-1.7-1v-2z" fill="#5fc860"/>
<path d="M136.8 212.5l1.7 1v2l-1.7 1-1.7-1v-2zM136.8 201.1l1.7 1v2l-1.7 1-1.7-1v-2zM136.8 189.7l1.7 1v2l-1.7 1-1.7-1v-2zM136.8 218.2l1.7 1v2l-1.7 1-1.7-1v-2zM138.4 221.1l1.7 1v2l-1.7 1-1.7-1v-2zM136.8 195.4l1.7 1v2l-1.7 1-1.7-1v-2zM133.4 178.2l1.7 1v2l-1.7 1-1.7-1v-2zM138.4 186.8l1.7 1v2l-1.7 1-1.7-1v-2zM133.4 224l1.7 1v2l-1.7 1-1.7-1v-2zM141.7 158.2l1.7 1v2l-1.7 1-1.7-1v-2zM135.1 181.1l1.7 1v2l-1.7 1-1.7-1v-2zM130.2 229.7l1.7 1v2l-1.7 1-1.7-1v-2zM135.1 209.7l1.7 1v2l-1.7 1-1.7-1v-2zM138.4 192.5l1.7 1v2l-1.7 1-1.7-1v-2zM135.1 204l1.7 1v2l-1.7 1-1.7-1v-2zM141.7 238.3l1.7 1v2l-1.7 1-1.7-1v-2z" fill="#6ccc59"/>
<path d="M135.1 192.5l1.7 1v2l-1.7 1-1.7-1v-2zM149.9 201.1l1.7 1v2l-1.7 1-1.7-1v-2zM140 206.8l1.7 1v2l-1.7 1-1.7-1v-2zM140 212.5l1.7 1v2l-1.7 1-1.7-1v-2zM141.7 175.4l1.7 1v2l-1.7 1-1.7-1v-2zM140 189.7l1.7 1v2l-1.7 1-1.7-1v-2zM138.4 209.7l1.7 1v2l-1.7 1-1.7-1v-2zM138.4 175.4l1.7 1v2l-1.7 1-1.7-1v-2zM141.7 204l1.7 1v2l-1.7 1-1.7-1v-2zM138.4 163.9l1.7 1v2l-1.7 1-1.7-1v-2zM141.7 209.7l1.7 1v2l-1.7 1-1.7-1v-2zM138.4 204l1.7 1v2l-1.7 1-1.7-1v-2zM136.8 184l1.7 1v2l-1.7 1-1.7-1v-2zM140 161.1l1.7 1v2l-1.7 1-1.7-1v-2zM140 184l1.7 1v2l-1.7 1-1.7-1v-2zM148.3 169.7l1.7 1v2l-1.7 1-1.7-1v-2zM145 181.1l1.7 1v2l-1.7 1-1.7-1v-2zM145 226.8l1.7 1v2l-1.7 1-1.7-1v-2z" fill="#7ad151"/>
<path d="M138.4 215.4l1.7 1v2l-1.7 1-1.7-1v-2zM138.4 181.1l1.7 1v2l-1.7 1-1.7-1v-2zM135.1 226.8l1.7 1v2l-1.7 1-1.7-1v-2zM141.7 215.4l1.7 1v2l-1.7 1-1.7-1v-2zM138.4 198.2l1.7 1v2l-1.7 1-1.7-1v-2zM145 209.7l1.7 1v2l-1.7 1-1.7-1v-2zM145 186.8l1.7 1v2l-1.7 1-1.7-1v-2zM135.1 221.1l1.7 1v2l-1.7 1-1.7-1v-2zM143.3 189.7l1.7 1v2l-1.7 1-1.7-1v-2zM140 218.2l1.7 1v2l-1.7 1-1.7-1v-2zM143.3 206.8l1.7 1v2l-1.7 1-1.7-1v-2zM141.7 221.1l1.7 1v2l-1.7 1-1.7-1v-2zM135.1 215.4l1.7 1v2l-1.7 1-1.7-1v-2z" fill="#8ad446"/>
<path d="M143.3 195.4l1.7 1v2l-1.7 1-1.7-1v-2zM140 195.4l1.7 1v2l-1.7 1-1.7-1v-2zM141.7 192.5l1.7 1v2l-1.7 1-1.7-1v-2zM140 201.1l1.7 1v2l-1.7 1-1.7-1v-2zM143.3 212.5l1.7 1v2l-1.7 1-1.7-1v-2zM138.4 226.8l1.7 1v2l-1.7 1-1.7-1v-2zM145 198.2l1.7 1v2l-1.7 1-1.7-1v-2zM140 229.7l1.7 1v2l-1.7 1-1.7-1v-2zM143.3 218.2l1.7 1v2l-1.7 1-1.7-1v-2zM138.4 238.3l1.7 1v2l-1.7 1-1.7-1v-2zM138.4 169.7l1.7 1v2l-1.7 1-1.7-1v-2zM135.1 232.5l1.7 1v2l-1.7 1-1.7-1v-2zM143.3 178.2l1.7 1v2l-1.7 1-1.7-1v-2z" fill="#9ad83c"/>
<path d="M148.3 215.4l1.7 1v2l-1.7 1-1.7-1v-2zM136.8 229.7l1.7 1v2l-1.7 1-1.7-1v-2zM141.7 198.2l1.7 1v2l-1.7 1-1.7-1v-2zM140 166.8l1.7 1v2l-1.7 1-1.7-1v-2zM146.7 195.4l1.7 1v2l-1.7 1-1.7-1v-2zM148.3 198.2l1.7 1v2l-1.7 1-1.7-1v-2zM146.7 218.2l1.7 1v2l-1.7 1-1.7-1v-2zM151.6 204l1.7 1v2l-1.7 1-1.7-1v-2z" fill="#abdc32"/>
<path d="M146.7 206.8l1.7 1v2l-1.7 1-1.7-1v-2zM149.9 212.5l1.7 1v2l-1.7 1-1.7-1v-2zM141.7 181.1l1.7 1v2l-1.7 1-1.7-1v-2zM143.3 201.1l1.7 1v2l-1.7 1-1.7-1v-2z" fill="#bbdf27"/>
<path d="M140 235.4l1.7 1v2l-1.7 1-1.7-1v-2zM151.6 198.2l1.7 1v2l-1.7 1-1.7-1v-2zM148.3 192.5l1.7 1v2l-1.7 1-1.7-1v-2zM143.3 184l1.7 1v2l-1.7 1-1.7-1v-2z" fill="#cce126"/>
<path d="M146.7 166.8l1.7 1v2l-1.7 1-1.7-1v-2z" fill="#ece526"/>
<path d="M146.7 229.7l1.7 1v2l-1.7 1-1.7-1v-2zM151.6 215.4l1.7 1v2l-1.7 1-1.7-1v-2z" fill="#fde725"/>
<rect x="29.5" y="154.5" width="131.9" height="108.8" fill="none" stroke="#4d4d4d" stroke-width=".9"/>
<line x1="39.6" y1="263.3" x2="39.6" y2="265.5" stroke="#4d4d4d" stroke-width=".8"/>
<text x="39.6" y="273.5" font-size="8.6" text-anchor="middle" fill="#3d3d3d" transform="matrix(1 0 0 1.1 0 -27.4)">−10</text>
<line x1="73" y1="263.3" x2="73" y2="265.5" stroke="#4d4d4d" stroke-width=".8"/>
<text x="73" y="273.5" font-size="8.6" text-anchor="middle" fill="#3d3d3d" transform="matrix(1 0 0 1.1 0 -27.4)">−5</text>
<line x1="106.4" y1="263.3" x2="106.4" y2="265.5" stroke="#4d4d4d" stroke-width=".8"/>
<text x="106.4" y="273.5" font-size="8.6" text-anchor="middle" fill="#3d3d3d" transform="matrix(1 0 0 1.1 0 -27.4)">0</text>
<line x1="139.8" y1="263.3" x2="139.8" y2="265.5" stroke="#4d4d4d" stroke-width=".8"/>
<text x="139.8" y="273.5" font-size="8.6" text-anchor="middle" fill="#3d3d3d" transform="matrix(1 0 0 1.1 0 -27.4)">5</text>
<line x1="27.3" y1="261.2" x2="29.5" y2="261.2" stroke="#4d4d4d" stroke-width=".8"/>
<text x="25.8" y="264.3" font-size="8.6" text-anchor="end" fill="#3d3d3d" transform="matrix(1 0 0 1.1 0 -26.4)">−10</text>
<line x1="27.3" y1="231.9" x2="29.5" y2="231.9" stroke="#4d4d4d" stroke-width=".8"/>
<text x="25.8" y="235" font-size="8.6" text-anchor="end" fill="#3d3d3d" transform="matrix(1 0 0 1.1 0 -23.5)">−5</text>
<line x1="27.3" y1="202.7" x2="29.5" y2="202.7" stroke="#4d4d4d" stroke-width=".8"/>
<text x="25.8" y="205.8" font-size="8.6" text-anchor="end" fill="#3d3d3d" transform="matrix(1 0 0 1.1 0 -20.6)">0</text>
<line x1="27.3" y1="173.4" x2="29.5" y2="173.4" stroke="#4d4d4d" stroke-width=".8"/>
<text x="25.8" y="176.5" font-size="8.6" text-anchor="end" fill="#3d3d3d" transform="matrix(1 0 0 1.1 0 -17.7)">5</text>
<text x="94" y="283.5" font-size="8.1" text-anchor="middle" transform="matrix(1 0 0 1.1 0 -28.4)">PC3</text>
<text x="8.2" y="208.9" font-size="8.1" text-anchor="middle" transform="rotate(-90 8.2 208.9) matrix(1 0 0 1.1 0 -20.9)">PC4</text>
<text x="179.5" y="181" font-size="7.9" transform="matrix(1 0 0 1.1 0 -18.1)">Estrogen</text>
<text x="179.5" y="189" font-size="7.9" transform="matrix(1 0 0 1.1 0 -18.9)">Response</text>
<text x="179.5" y="197" font-size="7.9" transform="matrix(1 0 0 1.1 0 -19.7)">Early</text>
<defs><linearGradient id="vg" x1="0" y1="1" x2="0" y2="0"><stop offset="0" stop-color="#440154"/><stop offset=".1" stop-color="#482475"/><stop offset=".2" stop-color="#414487"/><stop offset=".3" stop-color="#355F8D"/><stop offset=".4" stop-color="#2A788E"/><stop offset=".5" stop-color="#21918C"/><stop offset=".6" stop-color="#22A884"/><stop offset=".7" stop-color="#44BF70"/><stop offset=".8" stop-color="#7AD151"/><stop offset=".9" stop-color="#BBDF27"/><stop offset="1" stop-color="#FDE725"/></linearGradient></defs>
<rect x="179" y="202" width="8.8" height="41.4" fill="url(#vg)"/>
<line x1="179" y1="211.2" x2="180.8" y2="211.2" stroke="#fff" stroke-width=".6"/>
<line x1="186" y1="211.2" x2="187.8" y2="211.2" stroke="#fff" stroke-width=".6"/>
<text x="190.9" y="213.8" font-size="7.2" transform="matrix(1 0 0 1.1 0 -21.4)">0.2</text>
<line x1="179" y1="220.4" x2="180.8" y2="220.4" stroke="#fff" stroke-width=".6"/>
<line x1="186" y1="220.4" x2="187.8" y2="220.4" stroke="#fff" stroke-width=".6"/>
<text x="190.9" y="223" font-size="7.2" transform="matrix(1 0 0 1.1 0 -22.3)">0.0</text>
<line x1="179" y1="229.6" x2="180.8" y2="229.6" stroke="#fff" stroke-width=".6"/>
<line x1="186" y1="229.6" x2="187.8" y2="229.6" stroke="#fff" stroke-width=".6"/>
<text x="190.9" y="232.2" font-size="7.2" transform="matrix(1 0 0 1.1 0 -23.2)">−0.2</text>
<line x1="179" y1="238.8" x2="180.8" y2="238.8" stroke="#fff" stroke-width=".6"/>
<line x1="186" y1="238.8" x2="187.8" y2="238.8" stroke="#fff" stroke-width=".6"/>
<text x="190.9" y="241.4" font-size="7.2" transform="matrix(1 0 0 1.1 0 -24.1)">−0.4</text>
<text x="1" y="310.4" font-size="8.5" font-weight="bold" transform="matrix(1 0 0 1.1 0 -31)">e</text>
<line x1="67.1" y1="300.3" x2="67.1" y2="434.5" stroke="#ebebeb" stroke-width=".5"/>
<line x1="111.4" y1="300.3" x2="111.4" y2="434.5" stroke="#ebebeb" stroke-width=".5"/>
<line x1="155.7" y1="300.3" x2="155.7" y2="434.5" stroke="#ebebeb" stroke-width=".5"/>
<line x1="200" y1="300.3" x2="200" y2="434.5" stroke="#ebebeb" stroke-width=".5"/>
<line x1="36.4" y1="413.3" x2="230.5" y2="413.3" stroke="#ebebeb" stroke-width=".5"/>
<line x1="36.4" y1="382.6" x2="230.5" y2="382.6" stroke="#ebebeb" stroke-width=".5"/>
<line x1="36.4" y1="351.8" x2="230.5" y2="351.8" stroke="#ebebeb" stroke-width=".5"/>
<line x1="36.4" y1="321.1" x2="230.5" y2="321.1" stroke="#ebebeb" stroke-width=".5"/>
<line x1="45" y1="300.3" x2="45" y2="434.5" stroke="#ebebeb" stroke-width=".9"/>
<line x1="89.3" y1="300.3" x2="89.3" y2="434.5" stroke="#ebebeb" stroke-width=".9"/>
<line x1="133.6" y1="300.3" x2="133.6" y2="434.5" stroke="#ebebeb" stroke-width=".9"/>
<line x1="177.9" y1="300.3" x2="177.9" y2="434.5" stroke="#ebebeb" stroke-width=".9"/>
<line x1="222.2" y1="300.3" x2="222.2" y2="434.5" stroke="#ebebeb" stroke-width=".9"/>
<line x1="36.4" y1="428.7" x2="230.5" y2="428.7" stroke="#ebebeb" stroke-width=".9"/>
<line x1="36.4" y1="397.9" x2="230.5" y2="397.9" stroke="#ebebeb" stroke-width=".9"/>
<line x1="36.4" y1="367.2" x2="230.5" y2="367.2" stroke="#ebebeb" stroke-width=".9"/>
<line x1="36.4" y1="336.4" x2="230.5" y2="336.4" stroke="#ebebeb" stroke-width=".9"/>
<line x1="36.4" y1="305.7" x2="230.5" y2="305.7" stroke="#ebebeb" stroke-width=".9"/>
<path d="M45 305.7 L222.2 305.7 L222.2 305.8 L133.6 306.2 L89.3 306.9 L69.8 308.8 L62.7 310.4 L45 310.9Z" fill="#c6c6c6"/>
<line x1="36.4" y1="311.9" x2="230.5" y2="311.9" stroke="#555" stroke-width=".8" stroke-dasharray="1.4 1.8"/>
<path d="M45 345.4 L46.8 332.3 L62.7 316.8 L89.3 310 L112.3 308.2 L133.6 307.3 L177.9 306.3 L222.2 305.7" fill="none" stroke="#E8736B" stroke-width="1.4" stroke-linejoin="round"/>
<path d="M45 319.8 L46.8 317 L62.7 310.4 L89.3 307.5 L133.6 306.7 L177.9 306.1 L222.2 305.7" fill="none" stroke="#21A654" stroke-width="1.4" stroke-linejoin="round"/>
<path d="M45 316.8 L46.8 311.9 L62.7 308.5 L89.3 306.9 L133.6 306.3 L177.9 305.9 L222.2 305.7" fill="none" stroke="#5E8AD0" stroke-width="1.4" stroke-linejoin="round"/>
<rect x="36.4" y="300.3" width="194.1" height="134.2" fill="none" stroke="#4d4d4d" stroke-width=".9"/>
<line x1="45" y1="434.5" x2="45" y2="436.7" stroke="#4d4d4d" stroke-width=".8"/>
<text x="45" y="443.7" font-size="7.5" text-anchor="middle" fill="#5e5e5e" transform="matrix(1 0 0 1.1 0 -44.4)">0</text>
<line x1="89.3" y1="434.5" x2="89.3" y2="436.7" stroke="#4d4d4d" stroke-width=".8"/>
<text x="89.3" y="443.7" font-size="7.5" text-anchor="middle" fill="#5e5e5e" transform="matrix(1 0 0 1.1 0 -44.4)">25</text>
<line x1="133.6" y1="434.5" x2="133.6" y2="436.7" stroke="#4d4d4d" stroke-width=".8"/>
<text x="133.6" y="443.7" font-size="7.5" text-anchor="middle" fill="#5e5e5e" transform="matrix(1 0 0 1.1 0 -44.4)">50</text>
<line x1="177.9" y1="434.5" x2="177.9" y2="436.7" stroke="#4d4d4d" stroke-width=".8"/>
<text x="177.9" y="443.7" font-size="7.5" text-anchor="middle" fill="#5e5e5e" transform="matrix(1 0 0 1.1 0 -44.4)">75</text>
<line x1="222.2" y1="434.5" x2="222.2" y2="436.7" stroke="#4d4d4d" stroke-width=".8"/>
<text x="222.2" y="443.7" font-size="7.5" text-anchor="middle" fill="#5e5e5e" transform="matrix(1 0 0 1.1 0 -44.4)">100</text>
<line x1="34.2" y1="428.7" x2="36.4" y2="428.7" stroke="#4d4d4d" stroke-width=".8"/>
<text x="32.7" y="431.4" font-size="7.5" text-anchor="end" fill="#5e5e5e" transform="matrix(1 0 0 1.1 0 -43.1)">0.00</text>
<line x1="34.2" y1="397.9" x2="36.4" y2="397.9" stroke="#4d4d4d" stroke-width=".8"/>
<text x="32.7" y="400.6" font-size="7.5" text-anchor="end" fill="#5e5e5e" transform="matrix(1 0 0 1.1 0 -40.1)">0.25</text>
<line x1="34.2" y1="367.2" x2="36.4" y2="367.2" stroke="#4d4d4d" stroke-width=".8"/>
<text x="32.7" y="369.9" font-size="7.5" text-anchor="end" fill="#5e5e5e" transform="matrix(1 0 0 1.1 0 -37)">0.50</text>
<line x1="34.2" y1="336.4" x2="36.4" y2="336.4" stroke="#4d4d4d" stroke-width=".8"/>
<text x="32.7" y="339.1" font-size="7.5" text-anchor="end" fill="#5e5e5e" transform="matrix(1 0 0 1.1 0 -33.9)">0.75</text>
<line x1="34.2" y1="305.7" x2="36.4" y2="305.7" stroke="#4d4d4d" stroke-width=".8"/>
<text x="32.7" y="308.4" font-size="7.5" text-anchor="end" fill="#5e5e5e" transform="matrix(1 0 0 1.1 0 -30.8)">1.00</text>
<text x="129.8" y="455.6" font-size="8.2" text-anchor="middle" transform="matrix(1 0 0 1.1 0 -45.6)">Quantiles (%)</text>
<text x="13.2" y="369.9" font-size="8" text-anchor="middle" transform="rotate(-90 13.2 369.9) matrix(1 0 0 1.1 0 -37)">Correlation</text>
<rect x="58.7" y="339.4" width="52.7" height="56" fill="#fff" stroke="#9a9a9a" stroke-width=".7"/>
<text x="63.3" y="351.3" font-size="9.3" transform="matrix(1 0 0 1.1 0 -35.1)">Number of</text>
<text x="63.3" y="360.6" font-size="9.3" transform="matrix(1 0 0 1.1 0 -36.1)">genes</text>
<line x1="64.4" y1="371.9" x2="70.5" y2="371.9" stroke="#E8736B" stroke-width="1.4"/>
<text x="76.2" y="374.6" font-size="7.8" transform="matrix(1 0 0 1.1 0 -37.5)">2</text>
<line x1="64.4" y1="379.6" x2="70.5" y2="379.6" stroke="#21A654" stroke-width="1.4"/>
<text x="76.2" y="382.3" font-size="7.8" transform="matrix(1 0 0 1.1 0 -38.2)">5</text>
<line x1="64.4" y1="387.4" x2="70.5" y2="387.4" stroke="#5E8AD0" stroke-width="1.4"/>
<text x="76.2" y="390.1" font-size="7.8" transform="matrix(1 0 0 1.1 0 -39)">11</text>
<text x="271" y="155.3" font-size="8.5" transform="matrix(1 0 0 1.1 0 -15.5)">f</text>
<text x="322" y="157.7" font-size="9.4" transform="matrix(1 0 0 1.1 0 -15.8)">Expected LISI for Cohort: 1.84</text>
<text x="322" y="169" font-size="9.4" transform="matrix(1 0 0 1.1 0 -16.9)">Expected LISI for ER status: 1.59</text>
<line x1="340.4" y1="184.3" x2="340.4" y2="274.8" stroke="#ebebeb" stroke-width=".5"/>
<line x1="367.5" y1="184.3" x2="367.5" y2="274.8" stroke="#ebebeb" stroke-width=".5"/>
<line x1="394.7" y1="184.3" x2="394.7" y2="274.8" stroke="#ebebeb" stroke-width=".5"/>
<line x1="421.9" y1="184.3" x2="421.9" y2="274.8" stroke="#ebebeb" stroke-width=".5"/>
<line x1="321.6" y1="260.8" x2="445.8" y2="260.8" stroke="#ebebeb" stroke-width=".5"/>
<line x1="321.6" y1="241.2" x2="445.8" y2="241.2" stroke="#ebebeb" stroke-width=".5"/>
<line x1="321.6" y1="221.8" x2="445.8" y2="221.8" stroke="#ebebeb" stroke-width=".5"/>
<line x1="321.6" y1="202.2" x2="445.8" y2="202.2" stroke="#ebebeb" stroke-width=".5"/>
<line x1="326.8" y1="184.3" x2="326.8" y2="274.8" stroke="#ebebeb" stroke-width=".9"/>
<line x1="354" y1="184.3" x2="354" y2="274.8" stroke="#ebebeb" stroke-width=".9"/>
<line x1="381.1" y1="184.3" x2="381.1" y2="274.8" stroke="#ebebeb" stroke-width=".9"/>
<line x1="408.3" y1="184.3" x2="408.3" y2="274.8" stroke="#ebebeb" stroke-width=".9"/>
<line x1="435.4" y1="184.3" x2="435.4" y2="274.8" stroke="#ebebeb" stroke-width=".9"/>
<line x1="321.6" y1="270.5" x2="445.8" y2="270.5" stroke="#ebebeb" stroke-width=".9"/>
<line x1="321.6" y1="251" x2="445.8" y2="251" stroke="#ebebeb" stroke-width=".9"/>
<line x1="321.6" y1="231.5" x2="445.8" y2="231.5" stroke="#ebebeb" stroke-width=".9"/>
<line x1="321.6" y1="212" x2="445.8" y2="212" stroke="#ebebeb" stroke-width=".9"/>
<line x1="321.6" y1="192.5" x2="445.8" y2="192.5" stroke="#ebebeb" stroke-width=".9"/>
<rect x="321.6" y="173.1" width="124.2" height="11.2" fill="#d9d9d9" stroke="#4d4d4d" stroke-width=".8"/>
<text x="383.7" y="180.8" font-size="5.8" text-anchor="middle" fill="#1a1a1a" transform="matrix(1 0 0 1.1 0 -18.1)">Cohort</text>
<line x1="321.6" y1="188.6" x2="445.8" y2="188.6" stroke="#222" stroke-width=".7" stroke-dasharray="2.2 1.6"/>
<line x1="440.9" y1="184.3" x2="440.9" y2="274.8" stroke="#222" stroke-width=".7" stroke-dasharray="2.2 1.6"/>
<line x1="326.8" y1="203.1" x2="331.5" y2="207.5" stroke="#000" stroke-width=".6"/>
<line x1="327.5" y1="199" x2="347" y2="211" stroke="#000" stroke-width=".6"/>
<line x1="328.2" y1="214.3" x2="331" y2="219" stroke="#000" stroke-width=".6"/>
<line x1="334.6" y1="237.8" x2="333" y2="241" stroke="#000" stroke-width=".6"/>
<line x1="353.8" y1="269.9" x2="349" y2="265" stroke="#000" stroke-width=".6"/>
<line x1="377.9" y1="269.9" x2="375" y2="266" stroke="#000" stroke-width=".6"/>
<line x1="381.4" y1="267" x2="384.5" y2="263" stroke="#000" stroke-width=".6"/>
<line x1="406.5" y1="240.9" x2="410.5" y2="238" stroke="#000" stroke-width=".6"/>
<line x1="417.1" y1="215.9" x2="413" y2="219.5" stroke="#000" stroke-width=".6"/>
<line x1="424" y1="213" x2="428" y2="210" stroke="#000" stroke-width=".6"/>
<circle cx="326.8" cy="203.1" r="1.1" fill="#000"/>
<circle cx="328.2" cy="214.3" r="1.1" fill="#000"/>
<circle cx="334.6" cy="237.8" r="1.1" fill="#000"/>
<circle cx="353.8" cy="269.9" r="1.1" fill="#000"/>
<circle cx="377.9" cy="269.9" r="1.1" fill="#000"/>
<circle cx="381.4" cy="267" r="1.1" fill="#000"/>
<circle cx="406.5" cy="240.9" r="1.1" fill="#000"/>
<circle cx="417.1" cy="215.9" r="1.1" fill="#000"/>
<circle cx="424" cy="213" r="1.1" fill="#000"/>
<line x1="326.8" y1="196.8" x2="331" y2="193.5" stroke="#1B9E77" stroke-width=".7"/>
<line x1="326.8" y1="196.8" x2="361" y2="191.5" stroke="#1B9E77" stroke-width=".7"/>
<line x1="326.8" y1="196.8" x2="346" y2="201.4" stroke="#1B9E77" stroke-width=".7"/>
<line x1="326.8" y1="196.8" x2="365" y2="201.4" stroke="#1B9E77" stroke-width=".7"/>
<line x1="361.4" y1="201.4" x2="364.6" y2="201.4" stroke="#1B9E77" stroke-width=".7"/>
<circle cx="326.3" cy="196" r="1.3" fill="#1B9E77"/>
<circle cx="327" cy="197.5" r="1.3" fill="#1B9E77"/>
<circle cx="327.5" cy="196.6" r="1.3" fill="#1B9E77"/>
<circle cx="326.6" cy="195.3" r="1.3" fill="#1B9E77"/>
<circle cx="327.8" cy="195.8" r="1.3" fill="#1B9E77"/>
<rect x="331.2" y="205.2" width="11.9" height="6.6" fill="#fff" stroke="#666" stroke-width=".6" rx="1"/>
<text x="337.1" y="210.7" font-size="5.8" text-anchor="middle" fill="#222" transform="matrix(1 0 0 1.1 0 -21.1)">700</text>
<rect x="346.2" y="209.4" width="12.1" height="6.6" fill="#fff" stroke="#666" stroke-width=".6" rx="1"/>
<text x="352.2" y="214.8" font-size="5.8" text-anchor="middle" fill="#222" transform="matrix(1 0 0 1.1 0 -21.5)">750</text>
<rect x="329.9" y="217.8" width="12.6" height="6.6" fill="#fff" stroke="#666" stroke-width=".6" rx="1"/>
<text x="336.2" y="223.3" font-size="5.8" text-anchor="middle" fill="#222" transform="matrix(1 0 0 1.1 0 -22.3)">650</text>
<rect x="324.1" y="240.9" width="12.4" height="6.6" fill="#fff" stroke="#666" stroke-width=".6" rx="1"/>
<text x="330.3" y="246.3" font-size="5.8" text-anchor="middle" fill="#222" transform="matrix(1 0 0 1.1 0 -24.6)">600</text>
<rect x="338.3" y="261.2" width="12.1" height="6.5" fill="#fff" stroke="#666" stroke-width=".6" rx="1"/>
<text x="344.4" y="266.6" font-size="5.8" text-anchor="middle" fill="#222" transform="matrix(1 0 0 1.1 0 -26.7)">500</text>
<rect x="363.6" y="261.2" width="12.3" height="6.5" fill="#fff" stroke="#666" stroke-width=".6" rx="1"/>
<text x="369.8" y="266.6" font-size="5.8" text-anchor="middle" fill="#222" transform="matrix(1 0 0 1.1 0 -26.7)">200</text>
<rect x="383.3" y="258" width="13.6" height="6.6" fill="#fff" stroke="#666" stroke-width=".6" rx="1"/>
<text x="390.1" y="263.4" font-size="5.8" text-anchor="middle" fill="#222" transform="matrix(1 0 0 1.1 0 -26.3)">100</text>
<rect x="409.5" y="233" width="8.4" height="6.3" fill="#fff" stroke="#666" stroke-width=".6" rx="1"/>
<text x="413.7" y="238.3" font-size="5.8" text-anchor="middle" fill="#222" transform="matrix(1 0 0 1.1 0 -23.8)">50</text>
<rect x="405.6" y="218.3" width="8.9" height="6.6" fill="#fff" stroke="#666" stroke-width=".6" rx="1"/>
<text x="410.1" y="223.8" font-size="5.8" text-anchor="middle" fill="#222" transform="matrix(1 0 0 1.1 0 -22.4)">25</text>
<rect x="427.1" y="205.2" width="9.2" height="6.6" fill="#fff" stroke="#666" stroke-width=".6" rx="1"/>
<text x="431.7" y="210.7" font-size="5.8" text-anchor="middle" fill="#222" transform="matrix(1 0 0 1.1 0 -21.1)">10</text>
<rect x="329.9" y="187.1" width="15.8" height="6.5" fill="#fff" stroke="#1B9E77" stroke-width=".6" rx="1"/>
<text x="337.8" y="192.5" font-size="5.8" text-anchor="middle" fill="#1B9E77" transform="matrix(1 0 0 1.1 0 -19.3)">1000</text>
<rect x="360.9" y="187.1" width="15.8" height="6.5" fill="#fff" stroke="#1B9E77" stroke-width=".6" rx="1"/>
<text x="368.8" y="192.5" font-size="5.8" text-anchor="middle" fill="#1B9E77" transform="matrix(1 0 0 1.1 0 -19.3)">2500</text>
<rect x="345.7" y="198.1" width="15.7" height="6.6" fill="#fff" stroke="#1B9E77" stroke-width=".6" rx="1"/>
<text x="353.5" y="203.5" font-size="5.8" text-anchor="middle" fill="#1B9E77" transform="matrix(1 0 0 1.1 0 -20.4)">8248</text>
<rect x="364.6" y="198.1" width="15.2" height="6.6" fill="#fff" stroke="#1B9E77" stroke-width=".6" rx="1"/>
<text x="372.2" y="203.5" font-size="5.8" text-anchor="middle" fill="#1B9E77" transform="matrix(1 0 0 1.1 0 -20.4)">5000</text>
<rect x="321.6" y="184.3" width="124.2" height="90.5" fill="none" stroke="#4d4d4d" stroke-width=".9"/>
<line x1="326.8" y1="274.8" x2="326.8" y2="277" stroke="#4d4d4d" stroke-width=".8"/>
<text x="326.8" y="282.2" font-size="7" text-anchor="middle" fill="#4d4d4d" transform="matrix(1 0 0 1.1 0 -28.2)">1.0</text>
<line x1="354" y1="274.8" x2="354" y2="277" stroke="#4d4d4d" stroke-width=".8"/>
<text x="354" y="282.2" font-size="7" text-anchor="middle" fill="#4d4d4d" transform="matrix(1 0 0 1.1 0 -28.2)">1.2</text>
<line x1="381.1" y1="274.8" x2="381.1" y2="277" stroke="#4d4d4d" stroke-width=".8"/>
<text x="381.1" y="282.2" font-size="7" text-anchor="middle" fill="#4d4d4d" transform="matrix(1 0 0 1.1 0 -28.2)">1.4</text>
<line x1="408.3" y1="274.8" x2="408.3" y2="277" stroke="#4d4d4d" stroke-width=".8"/>
<text x="408.3" y="282.2" font-size="7" text-anchor="middle" fill="#4d4d4d" transform="matrix(1 0 0 1.1 0 -28.2)">1.6</text>
<line x1="435.4" y1="274.8" x2="435.4" y2="277" stroke="#4d4d4d" stroke-width=".8"/>
<text x="435.4" y="282.2" font-size="7" text-anchor="middle" fill="#4d4d4d" transform="matrix(1 0 0 1.1 0 -28.2)">1.8</text>
<line x1="319.4" y1="270.5" x2="321.6" y2="270.5" stroke="#4d4d4d" stroke-width=".8"/>
<text x="317.9" y="273" font-size="7" text-anchor="end" fill="#4d4d4d" transform="matrix(1 0 0 1.1 0 -27.3)">1.0</text>
<line x1="319.4" y1="251" x2="321.6" y2="251" stroke="#4d4d4d" stroke-width=".8"/>
<text x="317.9" y="253.5" font-size="7" text-anchor="end" fill="#4d4d4d" transform="matrix(1 0 0 1.1 0 -25.4)">1.2</text>
<line x1="319.4" y1="231.5" x2="321.6" y2="231.5" stroke="#4d4d4d" stroke-width=".8"/>
<text x="317.9" y="234" font-size="7" text-anchor="end" fill="#4d4d4d" transform="matrix(1 0 0 1.1 0 -23.4)">1.4</text>
<line x1="319.4" y1="212" x2="321.6" y2="212" stroke="#4d4d4d" stroke-width=".8"/>
<text x="317.9" y="214.5" font-size="7" text-anchor="end" fill="#4d4d4d" transform="matrix(1 0 0 1.1 0 -21.5)">1.6</text>
<line x1="319.4" y1="192.5" x2="321.6" y2="192.5" stroke="#4d4d4d" stroke-width=".8"/>
<text x="317.9" y="195" font-size="7" text-anchor="end" fill="#4d4d4d" transform="matrix(1 0 0 1.1 0 -19.5)">1.8</text>
<line x1="487.3" y1="184.3" x2="487.3" y2="274.8" stroke="#ebebeb" stroke-width=".5"/>
<line x1="514.6" y1="184.3" x2="514.6" y2="274.8" stroke="#ebebeb" stroke-width=".5"/>
<line x1="541.9" y1="184.3" x2="541.9" y2="274.8" stroke="#ebebeb" stroke-width=".5"/>
<line x1="569.2" y1="184.3" x2="569.2" y2="274.8" stroke="#ebebeb" stroke-width=".5"/>
<line x1="461.7" y1="258.2" x2="586.2" y2="258.2" stroke="#ebebeb" stroke-width=".5"/>
<line x1="461.7" y1="237.7" x2="586.2" y2="237.7" stroke="#ebebeb" stroke-width=".5"/>
<line x1="461.7" y1="217.1" x2="586.2" y2="217.1" stroke="#ebebeb" stroke-width=".5"/>
<line x1="461.7" y1="196.6" x2="586.2" y2="196.6" stroke="#ebebeb" stroke-width=".5"/>
<line x1="473.6" y1="184.3" x2="473.6" y2="274.8" stroke="#ebebeb" stroke-width=".9"/>
<line x1="500.9" y1="184.3" x2="500.9" y2="274.8" stroke="#ebebeb" stroke-width=".9"/>
<line x1="528.2" y1="184.3" x2="528.2" y2="274.8" stroke="#ebebeb" stroke-width=".9"/>
<line x1="555.5" y1="184.3" x2="555.5" y2="274.8" stroke="#ebebeb" stroke-width=".9"/>
<line x1="582.8" y1="184.3" x2="582.8" y2="274.8" stroke="#ebebeb" stroke-width=".9"/>
<line x1="461.7" y1="268.5" x2="586.2" y2="268.5" stroke="#ebebeb" stroke-width=".9"/>
<line x1="461.7" y1="247.9" x2="586.2" y2="247.9" stroke="#ebebeb" stroke-width=".9"/>
<line x1="461.7" y1="227.4" x2="586.2" y2="227.4" stroke="#ebebeb" stroke-width=".9"/>
<line x1="461.7" y1="206.9" x2="586.2" y2="206.9" stroke="#ebebeb" stroke-width=".9"/>
<line x1="461.7" y1="186.3" x2="586.2" y2="186.3" stroke="#ebebeb" stroke-width=".9"/>
<rect x="461.7" y="173.1" width="124.5" height="11.2" fill="#d9d9d9" stroke="#4d4d4d" stroke-width=".8"/>
<text x="524" y="180.8" font-size="5.8" text-anchor="middle" fill="#1a1a1a" transform="matrix(1 0 0 1.1 0 -18.1)">ER IHC</text>
<line x1="461.7" y1="188.4" x2="586.2" y2="188.4" stroke="#222" stroke-width=".7" stroke-dasharray="2.2 1.6"/>
<line x1="580.1" y1="184.3" x2="580.1" y2="274.8" stroke="#222" stroke-width=".7" stroke-dasharray="2.2 1.6"/>
<line x1="467.5" y1="202.7" x2="483" y2="193" stroke="#000" stroke-width=".6"/>
<line x1="472.4" y1="203.3" x2="494" y2="201.5" stroke="#000" stroke-width=".6"/>
<line x1="472.4" y1="203.3" x2="481" y2="208" stroke="#000" stroke-width=".6"/>
<line x1="478.1" y1="243.2" x2="482" y2="240.5" stroke="#000" stroke-width=".6"/>
<line x1="484.2" y1="264.4" x2="482" y2="262.5" stroke="#000" stroke-width=".6"/>
<line x1="493.4" y1="268.7" x2="496.5" y2="266" stroke="#000" stroke-width=".6"/>
<line x1="512.8" y1="270.1" x2="515" y2="267.5" stroke="#000" stroke-width=".6"/>
<line x1="472" y1="207.4" x2="472" y2="210.4" stroke="#000" stroke-width=".6"/>
<line x1="472.4" y1="244.6" x2="472" y2="247.5" stroke="#000" stroke-width=".6"/>
<circle cx="467.5" cy="202.7" r="1.1" fill="#000"/>
<circle cx="472.4" cy="203.3" r="1.1" fill="#000"/>
<circle cx="472" cy="207.4" r="1.1" fill="#000"/>
<circle cx="472.4" cy="244.6" r="1.1" fill="#000"/>
<circle cx="478.1" cy="243.2" r="1.1" fill="#000"/>
<circle cx="484.2" cy="264.4" r="1.1" fill="#000"/>
<circle cx="493.4" cy="268.7" r="1.1" fill="#000"/>
<circle cx="512.8" cy="270.1" r="1.1" fill="#000"/>
<rect x="482.8" y="187.1" width="8.7" height="6.5" fill="#fff" stroke="#666" stroke-width=".6" rx="1"/>
<text x="487.1" y="192.5" font-size="5.8" text-anchor="middle" fill="#222" transform="matrix(1 0 0 1.1 0 -19.3)">50</text>
<rect x="466.3" y="193.6" width="12.6" height="6.6" fill="#fff" stroke="#666" stroke-width=".6" rx="1"/>
<text x="472.6" y="199" font-size="5.8" text-anchor="middle" fill="#222" transform="matrix(1 0 0 1.1 0 -19.9)">100</text>
<rect x="494.1" y="198.1" width="9.8" height="6.6" fill="#fff" stroke="#666" stroke-width=".6" rx="1"/>
<text x="499" y="203.5" font-size="5.8" text-anchor="middle" fill="#222" transform="matrix(1 0 0 1.1 0 -20.4)">10</text>
<rect x="480.2" y="205.2" width="9.8" height="6.6" fill="#fff" stroke="#666" stroke-width=".6" rx="1"/>
<text x="485.1" y="210.7" font-size="5.8" text-anchor="middle" fill="#222" transform="matrix(1 0 0 1.1 0 -21.1)">25</text>
<rect x="464.5" y="210.4" width="11.8" height="6.6" fill="#fff" stroke="#666" stroke-width=".6" rx="1"/>
<text x="470.4" y="215.8" font-size="5.8" text-anchor="middle" fill="#222" transform="matrix(1 0 0 1.1 0 -21.6)">200</text>
<rect x="481" y="234.4" width="11.8" height="6.5" fill="#fff" stroke="#666" stroke-width=".6" rx="1"/>
<text x="486.9" y="239.8" font-size="5.8" text-anchor="middle" fill="#222" transform="matrix(1 0 0 1.1 0 -24)">600</text>
<rect x="464.5" y="247.5" width="11.8" height="6.6" fill="#fff" stroke="#666" stroke-width=".6" rx="1"/>
<text x="470.4" y="253" font-size="5.8" text-anchor="middle" fill="#222" transform="matrix(1 0 0 1.1 0 -25.3)">500</text>
<rect x="470.5" y="256.4" width="12.3" height="6.6" fill="#fff" stroke="#666" stroke-width=".6" rx="1"/>
<text x="476.6" y="261.8" font-size="5.8" text-anchor="middle" fill="#222" transform="matrix(1 0 0 1.1 0 -26.2)">650</text>
<rect x="495.2" y="259.3" width="13.1" height="6.7" fill="#fff" stroke="#666" stroke-width=".6" rx="1"/>
<text x="501.8" y="264.8" font-size="5.8" text-anchor="middle" fill="#222" transform="matrix(1 0 0 1.1 0 -26.5)">700</text>
<rect x="513.8" y="261.2" width="12.9" height="6.5" fill="#fff" stroke="#666" stroke-width=".6" rx="1"/>
<text x="520.2" y="266.6" font-size="5.8" text-anchor="middle" fill="#222" transform="matrix(1 0 0 1.1 0 -26.7)">750</text>
<line x1="565" y1="259" x2="570" y2="266" stroke="#1B9E77" stroke-width=".7"/>
<line x1="573" y1="261" x2="571" y2="265" stroke="#1B9E77" stroke-width=".7"/>
<line x1="556.2" y1="268.6" x2="559.9" y2="268.6" stroke="#1B9E77" stroke-width=".7"/>
<rect x="548.6" y="253.4" width="16.4" height="7.1" fill="#fff" stroke="#1B9E77" stroke-width=".6" rx="1"/>
<text x="556.8" y="259.1" font-size="5.8" text-anchor="middle" fill="#1B9E77" transform="matrix(1 0 0 1.1 0 -25.9)">8248</text>
<rect x="568.5" y="253.4" width="15.7" height="7.1" fill="#fff" stroke="#1B9E77" stroke-width=".6" rx="1"/>
<text x="576.4" y="259.1" font-size="5.8" text-anchor="middle" fill="#1B9E77" transform="matrix(1 0 0 1.1 0 -25.9)">5000</text>
<rect x="540.5" y="265.2" width="15.7" height="6.8" fill="#fff" stroke="#1B9E77" stroke-width=".6" rx="1"/>
<text x="548.4" y="270.8" font-size="5.8" text-anchor="middle" fill="#1B9E77" transform="matrix(1 0 0 1.1 0 -27.1)">1000</text>
<rect x="559.9" y="265.2" width="15.7" height="6.8" fill="#fff" stroke="#1B9E77" stroke-width=".6" rx="1"/>
<text x="567.8" y="270.8" font-size="5.8" text-anchor="middle" fill="#1B9E77" transform="matrix(1 0 0 1.1 0 -27.1)">2500</text>
<rect x="461.7" y="184.3" width="124.5" height="90.5" fill="none" stroke="#4d4d4d" stroke-width=".9"/>
<line x1="473.6" y1="274.8" x2="473.6" y2="277" stroke="#4d4d4d" stroke-width=".8"/>
<text x="473.6" y="282.2" font-size="7" text-anchor="middle" fill="#4d4d4d" transform="matrix(1 0 0 1.1 0 -28.2)">1.2</text>
<line x1="500.9" y1="274.8" x2="500.9" y2="277" stroke="#4d4d4d" stroke-width=".8"/>
<text x="500.9" y="282.2" font-size="7" text-anchor="middle" fill="#4d4d4d" transform="matrix(1 0 0 1.1 0 -28.2)">1.3</text>
<line x1="528.2" y1="274.8" x2="528.2" y2="277" stroke="#4d4d4d" stroke-width=".8"/>
<text x="528.2" y="282.2" font-size="7" text-anchor="middle" fill="#4d4d4d" transform="matrix(1 0 0 1.1 0 -28.2)">1.4</text>
<line x1="555.5" y1="274.8" x2="555.5" y2="277" stroke="#4d4d4d" stroke-width=".8"/>
<text x="555.5" y="282.2" font-size="7" text-anchor="middle" fill="#4d4d4d" transform="matrix(1 0 0 1.1 0 -28.2)">1.5</text>
<line x1="582.8" y1="274.8" x2="582.8" y2="277" stroke="#4d4d4d" stroke-width=".8"/>
<text x="582.8" y="282.2" font-size="7" text-anchor="middle" fill="#4d4d4d" transform="matrix(1 0 0 1.1 0 -28.2)">1.6</text>
<line x1="459.5" y1="268.5" x2="461.7" y2="268.5" stroke="#4d4d4d" stroke-width=".8"/>
<text x="458" y="271" font-size="7" text-anchor="end" fill="#4d4d4d" transform="matrix(1 0 0 1.1 0 -27.1)">1.2</text>
<line x1="459.5" y1="247.9" x2="461.7" y2="247.9" stroke="#4d4d4d" stroke-width=".8"/>
<text x="458" y="250.5" font-size="7" text-anchor="end" fill="#4d4d4d" transform="matrix(1 0 0 1.1 0 -25)">1.3</text>
<line x1="459.5" y1="227.4" x2="461.7" y2="227.4" stroke="#4d4d4d" stroke-width=".8"/>
<text x="458" y="229.9" font-size="7" text-anchor="end" fill="#4d4d4d" transform="matrix(1 0 0 1.1 0 -23)">1.4</text>
<line x1="459.5" y1="206.9" x2="461.7" y2="206.9" stroke="#4d4d4d" stroke-width=".8"/>
<text x="458" y="209.4" font-size="7" text-anchor="end" fill="#4d4d4d" transform="matrix(1 0 0 1.1 0 -20.9)">1.5</text>
<line x1="459.5" y1="186.3" x2="461.7" y2="186.3" stroke="#4d4d4d" stroke-width=".8"/>
<text x="458" y="188.8" font-size="7" text-anchor="end" fill="#4d4d4d" transform="matrix(1 0 0 1.1 0 -18.9)">1.6</text>
<text x="457.4" y="292" font-size="8.1" text-anchor="middle" transform="matrix(1 0 0 1.1 0 -29.2)">LISI scores for PC1 and PC2</text>
<text x="304.6" y="226" font-size="8" text-anchor="middle" transform="rotate(-90 304.6 226) matrix(1 0 0 1.1 0 -22.6)">LISI scores for PC3 and PC4</text>
<text x="267.2" y="312.4" font-size="9" font-weight="bold" transform="matrix(1 0 0 1.1 0 -31.2)">g</text>
<rect x="295.3" y="305.4" width="46.7" height="13" fill="#d9d9d9" stroke="#4d4d4d" stroke-width=".8"/>
<text x="318.6" y="314" font-size="6.8" text-anchor="middle" fill="#1a1a1a" transform="matrix(1 0 0 1.1 0 -31.4)">Basal−like</text>
<line x1="295.3" y1="363.5" x2="342" y2="363.5" stroke="#ebebeb" stroke-width=".5"/>
<line x1="295.3" y1="351.4" x2="342" y2="351.4" stroke="#ebebeb" stroke-width=".5"/>
<line x1="295.3" y1="339.3" x2="342" y2="339.3" stroke="#ebebeb" stroke-width=".5"/>
<line x1="295.3" y1="327.2" x2="342" y2="327.2" stroke="#ebebeb" stroke-width=".5"/>
<line x1="303.7" y1="318.4" x2="303.7" y2="374.3" stroke="#ebebeb" stroke-width=".9"/>
<line x1="318.4" y1="318.4" x2="318.4" y2="374.3" stroke="#ebebeb" stroke-width=".9"/>
<line x1="333.3" y1="318.4" x2="333.3" y2="374.3" stroke="#ebebeb" stroke-width=".9"/>
<line x1="295.3" y1="369.6" x2="342" y2="369.6" stroke="#ebebeb" stroke-width=".9"/>
<line x1="295.3" y1="357.5" x2="342" y2="357.5" stroke="#ebebeb" stroke-width=".9"/>
<line x1="295.3" y1="345.4" x2="342" y2="345.4" stroke="#ebebeb" stroke-width=".9"/>
<line x1="295.3" y1="333.3" x2="342" y2="333.3" stroke="#ebebeb" stroke-width=".9"/>
<line x1="295.3" y1="321.2" x2="342" y2="321.2" stroke="#ebebeb" stroke-width=".9"/>
<g opacity="0.65">
<path d="M309 357h0M305 357.5h0M305.5 352h0M301 363.5h0M310 361.5h0M297.5 360h0M299.5 358.5h0M303 353.5h0M310 357.5h0M300 362h0M307 354h0M300 364.5h0M310 365.5h0M305.5 356h0M298.5 363.5h0M300.5 363h0M307.5 350.5h0M303 352h0M300 351h0M308.5 363.5h0M308.5 352.5h0M310 360.5h0M307 353h0M298 355h0M300.5 350.5h0M303 360h0M309 352h0M299.5 364h0M297.5 356.5h0M306.5 366.5h0M299.5 360h0M300 362h0M309 360h0M300.5 352.5h0M299.5 357h0" stroke="#E8736B" stroke-width="1.6" stroke-linecap="round" fill="none"/>
</g>
<g opacity="0.65">
<path d="M319.5 360.5h0M312 347h0M324.5 367h0M322 362.5h0M321 367h0M320 366h0M320 359h0M321.5 362.5h0M323 358.5h0M321 356h0M312 367h0M323.5 348.5h0M323.5 360.5h0M319.5 366h0M318.5 351.5h0M318 350.5h0M317.5 350.5h0M316 359.5h0M312.5 355h0M321 366h0M322 358h0M318 344h0M312.5 349.5h0M320 359.5h0M318 348h0M315.5 362h0M321.5 357h0M324 367h0M318 362h0M324 366h0M321 364.5h0M313 365.5h0M312.5 363.5h0M322.5 364.5h0M314 364h0M324 365h0M321.5 357h0M323 360h0M317 358h0M319.5 368.5h0M322.5 357h0M321 358h0M318 367.5h0M314.5 355.5h0M320 351.5h0M319 350h0M317.5 354.5h0M314.5 357h0M319 360h0M323 365.5h0M324 351.5h0M315 366.5h0M313 362h0M322 365h0M314.5 361h0M318.5 368.5h0M321 363h0M313.5 348.5h0M314 356.5h0M323 348h0" stroke="#E8736B" stroke-width="1.6" stroke-linecap="round" fill="none"/>
</g>
<g opacity="0.65">
<path d="M339 350h0M334.5 359.5h0M332.5 367h0M329.5 364.5h0M338 366h0M334.5 362h0M338.5 366h0M337.5 365h0M337 368h0M336 365.5h0M331.5 358.5h0M330 362.5h0M331 369.5h0M333.5 363h0M336.5 362.5h0M335 370h0M332 364.5h0M331.5 349h0M333.5 368.5h0M339.5 370h0M328 362.5h0M327.5 361.5h0M333 369h0M339 362h0M330.5 361.5h0M330.5 363h0M327 364h0M329 353.5h0M338.5 365h0M339.5 365h0M338.5 369.5h0M339.5 357.5h0M333 369.5h0M335 361.5h0M327.5 358h0M332.5 360h0M330 363h0M337 361h0M338.5 353.5h0M331.5 366h0M335 360.5h0M330 365h0M327.5 368h0M334 362h0M335.5 349.5h0M331.5 360.5h0M331.5 359h0M328 365h0M329.5 362h0M337.5 357.5h0M334 370.5h0M332.5 365h0M338 356.5h0M334 349.5h0M335.5 349.5h0M330.5 364.5h0M328.5 364.5h0M338.5 364h0M332 355h0M332 356h0M334 356.5h0M337.5 366h0M336.5 360.5h0M327 368h0M334 359.5h0M337.5 370h0M328 366h0M328 364.5h0M336.5 362.5h0M329.5 362.5h0M336.5 365.5h0M339.5 357h0M334 363h0M338.5 364.5h0M337.5 363h0M339.5 367h0M336 362.5h0M332.5 366h0M332.5 351.5h0M327.5 365.5h0M328 368.5h0M330 352h0M329.5 364h0M330 366.5h0M331 368h0M327.5 359h0M339.5 359.5h0M327 363h0M337 358.5h0M329 364h0" stroke="#E8736B" stroke-width="1.6" stroke-linecap="round" fill="none"/>
</g>
<path d="M304.5 348.8 L305.6 349.5 L306.5 350.2 L306.8 350.9 L306.9 351.7 L307 352.4 L307 353.1 L307 353.8 L307 354.5 L306.9 355.2 L306.9 356 L306.8 356.7 L306.8 357.4 L306.8 358.1 L306.7 358.8 L306.7 359.5 L306.6 360.2 L306.5 361 L306.5 361.7 L306.4 362.4 L306.4 363.1 L306.3 363.8 L306.1 364.5 L305.9 365.3 L305.5 366 L304.9 366.7 L304.2 367.4 L303.2 367.4 L302.5 366.7 L301.9 366 L301.5 365.3 L301.3 364.5 L301.1 363.8 L301 363.1 L301 362.4 L300.9 361.7 L300.9 361 L300.8 360.2 L300.7 359.5 L300.7 358.8 L300.6 358.1 L300.6 357.4 L300.6 356.7 L300.5 356 L300.5 355.2 L300.4 354.5 L300.4 353.8 L300.4 353.1 L300.4 352.4 L300.5 351.7 L300.6 350.9 L300.9 350.2 L301.8 349.5 L302.9 348.8Z" fill="#fef8f8" stroke="#1a1a1a" stroke-width=".8" fill-opacity="0.8" stroke-linejoin="round"/>
<path d="M318.5 343.4 L318.8 344.4 L318.9 345.4 L319 346.4 L319.1 347.4 L319.2 348.4 L319.4 349.4 L319.5 350.4 L319.8 351.4 L320.1 352.4 L320.4 353.4 L320.7 354.4 L321 355.4 L321.4 356.4 L321.7 357.3 L322 358.3 L322.4 359.3 L322.7 360.3 L322.9 361.3 L323.1 362.3 L323.3 363.3 L323.4 364.3 L323.2 365.3 L323 366.3 L322.5 367.3 L321.2 368.3 L319.4 369.3 L317.4 369.3 L315.6 368.3 L314.3 367.3 L313.8 366.3 L313.6 365.3 L313.4 364.3 L313.5 363.3 L313.7 362.3 L313.9 361.3 L314.1 360.3 L314.4 359.3 L314.8 358.3 L315.1 357.3 L315.4 356.4 L315.8 355.4 L316.1 354.4 L316.4 353.4 L316.7 352.4 L317 351.4 L317.3 350.4 L317.4 349.4 L317.6 348.4 L317.7 347.4 L317.8 346.4 L317.9 345.4 L318 344.4 L318.3 343.4Z" fill="#f7d1ce" stroke="#1a1a1a" stroke-width=".8" fill-opacity="0.8" stroke-linejoin="round"/>
<path d="M333.5 347.8 L333.8 348.7 L333.9 349.6 L333.9 350.4 L334 351.3 L334.1 352.2 L334.2 353.1 L334.4 354 L334.7 354.8 L334.9 355.7 L335.2 356.6 L335.6 357.5 L336.2 358.4 L336.7 359.2 L337.3 360.1 L337.8 361 L338.2 361.9 L338.7 362.8 L339.1 363.7 L339.5 364.5 L339.7 365.4 L339.6 366.3 L339.4 367.2 L339 368.1 L338.1 368.9 L336.4 369.8 L334.4 370.7 L332.2 370.7 L330.2 369.8 L328.5 368.9 L327.6 368.1 L327.2 367.2 L327 366.3 L326.9 365.4 L327.1 364.5 L327.5 363.7 L327.9 362.8 L328.4 361.9 L328.8 361 L329.3 360.1 L329.9 359.2 L330.4 358.4 L331 357.5 L331.4 356.6 L331.7 355.7 L331.9 354.8 L332.2 354 L332.4 353.1 L332.5 352.2 L332.6 351.3 L332.7 350.4 L332.7 349.6 L332.8 348.7 L333.1 347.8Z" fill="#f5c4c1" stroke="#1a1a1a" stroke-width=".8" fill-opacity="0.8" stroke-linejoin="round"/>
<rect x="295.3" y="318.4" width="46.7" height="55.9" fill="none" stroke="#4d4d4d" stroke-width=".9"/>
<line x1="293.3" y1="369.6" x2="295.3" y2="369.6" stroke="#4d4d4d" stroke-width=".8"/>
<text x="291.8" y="372.4" font-size="7.8" text-anchor="end" font-weight="bold" fill="#383838" transform="matrix(1 0 0 1.1 0 -37.2)">−10</text>
<line x1="293.3" y1="357.5" x2="295.3" y2="357.5" stroke="#4d4d4d" stroke-width=".8"/>
<text x="291.8" y="360.3" font-size="7.8" text-anchor="end" font-weight="bold" fill="#383838" transform="matrix(1 0 0 1.1 0 -36)">−5</text>
<line x1="293.3" y1="345.4" x2="295.3" y2="345.4" stroke="#4d4d4d" stroke-width=".8"/>
<text x="291.8" y="348.2" font-size="7.8" text-anchor="end" font-weight="bold" fill="#383838" transform="matrix(1 0 0 1.1 0 -34.8)">0</text>
<line x1="293.3" y1="333.3" x2="295.3" y2="333.3" stroke="#4d4d4d" stroke-width=".8"/>
<text x="291.8" y="336.1" font-size="7.8" text-anchor="end" font-weight="bold" fill="#383838" transform="matrix(1 0 0 1.1 0 -33.6)">5</text>
<line x1="293.3" y1="321.2" x2="295.3" y2="321.2" stroke="#4d4d4d" stroke-width=".8"/>
<text x="291.8" y="324" font-size="7.8" text-anchor="end" font-weight="bold" fill="#383838" transform="matrix(1 0 0 1.1 0 -32.4)">10</text>
<line x1="295.3" y1="424.4" x2="342" y2="424.4" stroke="#ebebeb" stroke-width=".5"/>
<line x1="295.3" y1="412.4" x2="342" y2="412.4" stroke="#ebebeb" stroke-width=".5"/>
<line x1="295.3" y1="400.2" x2="342" y2="400.2" stroke="#ebebeb" stroke-width=".5"/>
<line x1="295.3" y1="388.2" x2="342" y2="388.2" stroke="#ebebeb" stroke-width=".5"/>
<line x1="303.7" y1="379.1" x2="303.7" y2="435.3" stroke="#ebebeb" stroke-width=".9"/>
<line x1="318.4" y1="379.1" x2="318.4" y2="435.3" stroke="#ebebeb" stroke-width=".9"/>
<line x1="333.3" y1="379.1" x2="333.3" y2="435.3" stroke="#ebebeb" stroke-width=".9"/>
<line x1="295.3" y1="430.5" x2="342" y2="430.5" stroke="#ebebeb" stroke-width=".9"/>
<line x1="295.3" y1="418.4" x2="342" y2="418.4" stroke="#ebebeb" stroke-width=".9"/>
<line x1="295.3" y1="406.3" x2="342" y2="406.3" stroke="#ebebeb" stroke-width=".9"/>
<line x1="295.3" y1="394.2" x2="342" y2="394.2" stroke="#ebebeb" stroke-width=".9"/>
<line x1="295.3" y1="382.1" x2="342" y2="382.1" stroke="#ebebeb" stroke-width=".9"/>
<g opacity="0.65">
<path d="M300.5 397h0M305.5 410.5h0M307 404.5h0M306.5 396h0M308 404h0M298 400h0M306.5 400h0M303 396h0M302 406.5h0M304.5 407.5h0M310 403h0M305 409.5h0M304 399.5h0M302.5 400h0M300 407h0M309.5 408h0M301.5 405h0M299 410h0M302.5 407.5h0M298.5 410h0M299 398.5h0M309 402h0M305.5 402.5h0M302.5 401.5h0M306.5 394.5h0M297.5 406.5h0M305.5 400.5h0M304 396h0M307 406h0M302 411.5h0M306.5 403.5h0M298.5 406h0M309.5 407.5h0M299 401h0M309 412.5h0" stroke="#E8736B" stroke-width="1.6" stroke-linecap="round" fill="none"/>
</g>
<g opacity="0.65">
<path d="M319 409h0M322.5 410.5h0M322.5 400h0M313 398.5h0M324.5 394h0M321.5 402h0M322.5 404h0M318 393.5h0M319.5 397.5h0M315.5 398h0M320 409.5h0M317 410.5h0M319.5 405h0M323.5 408.5h0M321.5 402.5h0M313 402h0M318.5 396.5h0M321 404.5h0M316 408.5h0M313 404.5h0M319.5 399.5h0M322 419.5h0M324.5 396.5h0M312.5 402h0M319.5 404.5h0M323.5 394.5h0M324 402h0M324 399h0M323.5 407h0M323.5 411.5h0M321.5 394.5h0M324 397h0M315 406h0M314.5 402h0M320.5 398.5h0M316 410.5h0M313 401h0M312.5 408.5h0M315 410.5h0M315.5 416.5h0M314.5 401h0M321.5 394h0M319 407.5h0M320.5 412h0M320 416h0M322 400h0M315 400h0M312.5 410h0M312 398.5h0M317.5 407.5h0M313 401h0M316 400h0M320 394.5h0M319.5 408.5h0M314 398h0M317 416h0M324.5 403.5h0M322 394.5h0M323.5 394h0M316 397h0" stroke="#E8736B" stroke-width="1.6" stroke-linecap="round" fill="none"/>
</g>
<g opacity="0.65">
<path d="M327 399.5h0M330 406h0M333 402h0M332 403.5h0M331.5 404h0M338 400.5h0M329.5 398.5h0M334 398h0M329.5 394h0M332.5 400.5h0M332 409h0M327 398h0M332 394.5h0M329 396h0M331 409.5h0M338.5 398.5h0M333.5 397.5h0M329 395.5h0M331 403h0M328.5 399.5h0M336 405.5h0M329.5 404.5h0M332 396.5h0M329.5 398.5h0M329.5 396.5h0M335 391.5h0M339.5 402.5h0M338.5 396.5h0M335.5 395h0M328 395.5h0M327.5 399.5h0M333.5 398.5h0M332 396.5h0M335.5 400.5h0M331 395.5h0M334.5 399.5h0M336 405.5h0M332 398h0M331 403h0M331.5 396h0M329 396h0M339 400.5h0M339 398h0M332 403.5h0M328.5 410h0M331.5 401h0M335.5 394.5h0M334 395.5h0M333 399h0M335 404h0M339.5 402.5h0M338.5 397.5h0M336 397h0M335 408h0M331.5 401h0M333.5 396.5h0M331 395.5h0M328.5 394h0M328 391.5h0M332.5 405.5h0M329 407h0M333.5 391.5h0M336 407.5h0M331 396h0M338 397.5h0M335 399.5h0M335.5 393h0M327 395.5h0M335.5 411h0M332 399.5h0M330.5 393h0M327 393h0M331.5 402h0M337.5 397h0M335 396.5h0M334 398.5h0M329 407.5h0M328.5 396h0M334 397.5h0M333 396h0M327.5 398h0M329 397h0M337.5 400.5h0M334 399h0M330.5 404.5h0M329 394h0M331.5 393h0M333.5 406.5h0M333.5 411h0M337 406h0" stroke="#E8736B" stroke-width="1.6" stroke-linecap="round" fill="none"/>
</g>
<path d="M304.4 394.2 L305.2 394.9 L305.6 395.7 L305.7 396.4 L305.8 397.1 L305.9 397.9 L306.1 398.6 L306.3 399.3 L306.5 400 L306.7 400.8 L306.9 401.5 L307.2 402.2 L307.5 403 L307.8 403.7 L308.1 404.4 L308.3 405.2 L308.3 405.9 L308.2 406.6 L308.2 407.4 L308.1 408.1 L307.9 408.8 L307.7 409.5 L307.4 410.3 L307 411 L306.3 411.7 L305.3 412.5 L304.3 413.2 L303.1 413.2 L302.1 412.5 L301.1 411.7 L300.4 411 L300 410.3 L299.7 409.5 L299.5 408.8 L299.3 408.1 L299.2 407.4 L299.2 406.6 L299.1 405.9 L299.1 405.2 L299.3 404.4 L299.6 403.7 L299.9 403 L300.2 402.2 L300.5 401.5 L300.7 400.8 L300.9 400 L301.1 399.3 L301.3 398.6 L301.5 397.9 L301.6 397.1 L301.7 396.4 L301.8 395.7 L302.2 394.9 L303 394.2Z" fill="#fef8f8" stroke="#1a1a1a" stroke-width=".8" fill-opacity="0.8" stroke-linejoin="round"/>
<path d="M319.2 393.1 L320.8 394.2 L321.7 395.3 L322.3 396.5 L322.6 397.6 L322.8 398.7 L323 399.8 L323 401 L322.9 402.1 L322.8 403.2 L322.6 404.3 L322.5 405.5 L322.2 406.6 L321.8 407.7 L321.3 408.8 L320.9 409.9 L320.3 411.1 L319.7 412.2 L319.2 413.3 L318.9 414.4 L318.8 415.6 L318.7 416.7 L318.7 417.8 L318.6 418.9 L318.5 420.1 L318.5 421.2 L318.4 422.3 L318.4 422.3 L318.3 421.2 L318.3 420.1 L318.2 418.9 L318.1 417.8 L318.1 416.7 L318 415.6 L317.9 414.4 L317.6 413.3 L317.1 412.2 L316.5 411.1 L315.9 409.9 L315.5 408.8 L315 407.7 L314.6 406.6 L314.3 405.5 L314.2 404.3 L314 403.2 L313.9 402.1 L313.8 401 L313.8 399.8 L314 398.7 L314.2 397.6 L314.5 396.5 L315.1 395.3 L316 394.2 L317.6 393.1Z" fill="#f7d1ce" stroke="#1a1a1a" stroke-width=".8" fill-opacity="0.8" stroke-linejoin="round"/>
<path d="M333.6 390.4 L334.2 391.2 L334.9 392 L335.6 392.9 L336.2 393.7 L336.9 394.5 L337.5 395.3 L338 396.1 L338.5 397 L339 397.8 L339.4 398.6 L339.6 399.4 L339.4 400.2 L339 401 L338.6 401.9 L338.2 402.7 L337.7 403.5 L337.2 404.3 L336.6 405.1 L336 406 L335.5 406.8 L335 407.6 L334.6 408.4 L334.2 409.2 L333.9 410.1 L333.6 410.9 L333.4 411.7 L333.2 411.7 L333 410.9 L332.7 410.1 L332.4 409.2 L332 408.4 L331.6 407.6 L331.1 406.8 L330.6 406 L330 405.1 L329.4 404.3 L328.9 403.5 L328.4 402.7 L328 401.9 L327.6 401 L327.2 400.2 L327 399.4 L327.2 398.6 L327.6 397.8 L328.1 397 L328.6 396.1 L329.1 395.3 L329.7 394.5 L330.4 393.7 L331 392.9 L331.7 392 L332.4 391.2 L333 390.4Z" fill="#f5c4c1" stroke="#1a1a1a" stroke-width=".8" fill-opacity="0.8" stroke-linejoin="round"/>
<rect x="295.3" y="379.1" width="46.7" height="56.2" fill="none" stroke="#4d4d4d" stroke-width=".9"/>
<line x1="293.3" y1="430.5" x2="295.3" y2="430.5" stroke="#4d4d4d" stroke-width=".8"/>
<text x="291.8" y="433.3" font-size="7.8" text-anchor="end" font-weight="bold" fill="#383838" transform="matrix(1 0 0 1.1 0 -43.3)">−10</text>
<line x1="293.3" y1="418.4" x2="295.3" y2="418.4" stroke="#4d4d4d" stroke-width=".8"/>
<text x="291.8" y="421.2" font-size="7.8" text-anchor="end" font-weight="bold" fill="#383838" transform="matrix(1 0 0 1.1 0 -42.1)">−5</text>
<line x1="293.3" y1="406.3" x2="295.3" y2="406.3" stroke="#4d4d4d" stroke-width=".8"/>
<text x="291.8" y="409.1" font-size="7.8" text-anchor="end" font-weight="bold" fill="#383838" transform="matrix(1 0 0 1.1 0 -40.9)">0</text>
<line x1="293.3" y1="394.2" x2="295.3" y2="394.2" stroke="#4d4d4d" stroke-width=".8"/>
<text x="291.8" y="397" font-size="7.8" text-anchor="end" font-weight="bold" fill="#383838" transform="matrix(1 0 0 1.1 0 -39.7)">5</text>
<line x1="293.3" y1="382.1" x2="295.3" y2="382.1" stroke="#4d4d4d" stroke-width=".8"/>
<text x="291.8" y="384.9" font-size="7.8" text-anchor="end" font-weight="bold" fill="#383838" transform="matrix(1 0 0 1.1 0 -38.5)">10</text>
<line x1="303.7" y1="435.3" x2="303.7" y2="437.3" stroke="#4d4d4d" stroke-width=".8"/>
<text x="306.9" y="442.5" font-size="7.7" text-anchor="end" font-weight="bold" fill="#383838" transform="rotate(-45 306.9 442.5) matrix(1 0 0 1.1 0 -44.3)">Low</text>
<line x1="318.4" y1="435.3" x2="318.4" y2="437.3" stroke="#4d4d4d" stroke-width=".8"/>
<text x="321.6" y="442.5" font-size="7.7" text-anchor="end" font-weight="bold" fill="#383838" transform="rotate(-45 321.6 442.5) matrix(1 0 0 1.1 0 -44.3)">Moderate</text>
<line x1="333.3" y1="435.3" x2="333.3" y2="437.3" stroke="#4d4d4d" stroke-width=".8"/>
<text x="336.5" y="442.5" font-size="7.7" text-anchor="end" font-weight="bold" fill="#383838" transform="rotate(-45 336.5 442.5) matrix(1 0 0 1.1 0 -44.3)">High</text>
<rect x="346.1" y="305.4" width="46.7" height="13" fill="#d9d9d9" stroke="#4d4d4d" stroke-width=".8"/>
<text x="369.5" y="314" font-size="6.8" text-anchor="middle" fill="#1a1a1a" transform="matrix(1 0 0 1.1 0 -31.4)">Claudin−low</text>
<line x1="346.1" y1="363.5" x2="392.8" y2="363.5" stroke="#ebebeb" stroke-width=".5"/>
<line x1="346.1" y1="351.4" x2="392.8" y2="351.4" stroke="#ebebeb" stroke-width=".5"/>
<line x1="346.1" y1="339.3" x2="392.8" y2="339.3" stroke="#ebebeb" stroke-width=".5"/>
<line x1="346.1" y1="327.2" x2="392.8" y2="327.2" stroke="#ebebeb" stroke-width=".5"/>
<line x1="354.5" y1="318.4" x2="354.5" y2="374.3" stroke="#ebebeb" stroke-width=".9"/>
<line x1="369.2" y1="318.4" x2="369.2" y2="374.3" stroke="#ebebeb" stroke-width=".9"/>
<line x1="384.1" y1="318.4" x2="384.1" y2="374.3" stroke="#ebebeb" stroke-width=".9"/>
<line x1="346.1" y1="369.6" x2="392.8" y2="369.6" stroke="#ebebeb" stroke-width=".9"/>
<line x1="346.1" y1="357.5" x2="392.8" y2="357.5" stroke="#ebebeb" stroke-width=".9"/>
<line x1="346.1" y1="345.4" x2="392.8" y2="345.4" stroke="#ebebeb" stroke-width=".9"/>
<line x1="346.1" y1="333.3" x2="392.8" y2="333.3" stroke="#ebebeb" stroke-width=".9"/>
<line x1="346.1" y1="321.2" x2="392.8" y2="321.2" stroke="#ebebeb" stroke-width=".9"/>
<g opacity="0.65">
<path d="M360.5 368.5h0M353 347.5h0M360 351h0M352.5 350h0M357.5 361.5h0M350 346h0M348 351h0M352 355h0M357 347h0M357 346h0M350.5 367.5h0M355.5 358.5h0M356.5 360h0M351 352.5h0M356 355.5h0M361 345.5h0M357.5 361.5h0M361 365h0M359 354.5h0M358.5 361h0M359.5 353.5h0M356.5 346.5h0M351 363h0M349.5 345.5h0M359 342h0M350.5 364h0M352.5 353h0M349.5 360.5h0M349.5 360.5h0M350.5 358h0M352 361.5h0M356 352.5h0M354.5 352.5h0M357 367h0M360 360h0M349 358h0M353.5 352.5h0M357 367.5h0M353.5 359.5h0M352.5 348h0M353 343.5h0M356 367.5h0M354 354h0M354 368.5h0M350 347h0M356.5 343.5h0M348 344.5h0M352.5 366h0M349.5 356h0M354.5 363h0" stroke="#CC79C0" stroke-width="1.6" stroke-linecap="round" fill="none"/>
</g>
<g opacity="0.65">
<path d="M369.5 344h0M363.5 348h0M370 347h0M370.5 356.5h0M364.5 353h0M369.5 362.5h0M366.5 341h0M368 366.5h0M364 342.5h0M369 368.5h0M372.5 352.5h0M368.5 348h0M368.5 355h0M373.5 354h0M365.5 357h0M367 343h0M372.5 355h0M368 355.5h0M370.5 370h0M370.5 370h0M370.5 351.5h0M369 358.5h0M366 341.5h0M371.5 352.5h0M367 366h0M372.5 360h0M375 360h0M363 363.5h0M371.5 363h0M368.5 352h0M372.5 344h0M373.5 342.5h0M364 361h0M375 344h0M369.5 346.5h0M374 366h0M368.5 355h0M375 352h0M367.5 355.5h0M372.5 364.5h0M365 346.5h0M369.5 351h0M373.5 352h0M369 351h0M372 370.5h0M372 347.5h0M363.5 358h0M372 366h0M370 353.5h0M365.5 354.5h0M366.5 363.5h0M372 366.5h0M367 358h0M369.5 347h0M372.5 359h0M374 362.5h0M366 362.5h0M366 348h0M366 344h0M369.5 349h0M374 367.5h0M370 366.5h0M371.5 363h0M375 348h0M367.5 347.5h0M367 356h0M374.5 360.5h0M370 342h0M369.5 356.5h0M367.5 346h0" stroke="#CC79C0" stroke-width="1.6" stroke-linecap="round" fill="none"/>
</g>
<g opacity="0.65">
<path d="M387 358h0M381.5 360h0M378 368h0M385.5 363h0M384.5 370h0M379 370.5h0M378 368h0M385 363.5h0M377.5 365h0M382 355.5h0M386.5 359h0M389 357h0M381 349.5h0M386 353.5h0M381.5 349.5h0M387.5 359h0M383 351h0M388 366h0M385.5 355h0M388 364.5h0M389.5 355h0M389 348.5h0M379.5 370.5h0M379 357h0M382 346.5h0M380 346h0M390 365.5h0M378.5 346.5h0M379.5 369.5h0M385.5 371h0M380 367.5h0M379.5 355.5h0M380.5 350.5h0M386 366.5h0M378 357h0M381 353h0M383.5 361.5h0M382 361.5h0M383 368.5h0M382 359h0M390 369.5h0M379.5 368h0M387 352.5h0M386.5 352.5h0M377.5 358.5h0M385 358h0M379 362h0M386 358h0M383.5 371h0M389.5 366.5h0" stroke="#CC79C0" stroke-width="1.6" stroke-linecap="round" fill="none"/>
</g>
<path d="M355.3 341.1 L356.6 342.2 L357.1 343.2 L357.2 344.3 L357.3 345.4 L357.3 346.4 L357.3 347.5 L357.2 348.6 L357.2 349.6 L357.2 350.7 L357.2 351.8 L357.1 352.8 L357.1 353.9 L357.1 355 L357.1 356 L357.1 357.1 L357 358.1 L357 359.2 L357 360.3 L357 361.3 L356.9 362.4 L356.9 363.5 L356.9 364.5 L356.8 365.6 L356.8 366.7 L356.3 367.7 L355.1 368.8 L353.9 368.8 L352.7 367.7 L352.2 366.7 L352.2 365.6 L352.1 364.5 L352.1 363.5 L352.1 362.4 L352 361.3 L352 360.3 L352 359.2 L352 358.1 L351.9 357.1 L351.9 356 L351.9 355 L351.9 353.9 L351.9 352.8 L351.8 351.8 L351.8 350.7 L351.8 349.6 L351.8 348.6 L351.7 347.5 L351.7 346.4 L351.7 345.4 L351.8 344.3 L351.9 343.2 L352.4 342.2 L353.7 341.1Z" fill="#fcf8fc" stroke="#1a1a1a" stroke-width=".8" fill-opacity="0.8" stroke-linejoin="round"/>
<path d="M369.6 340.1 L370.6 341.3 L371.2 342.5 L371.6 343.7 L371.9 344.9 L372.2 346.1 L372.3 347.3 L372.5 348.5 L372.7 349.7 L372.8 350.9 L373 352.1 L373 353.3 L373.1 354.5 L373.1 355.6 L373.2 356.8 L373.2 358 L373.1 359.2 L373 360.4 L373 361.6 L372.9 362.8 L372.8 364 L372.6 365.2 L372.4 366.4 L372.2 367.6 L371.9 368.8 L371.2 370 L369.8 371.2 L368.6 371.2 L367.2 370 L366.5 368.8 L366.2 367.6 L366 366.4 L365.8 365.2 L365.6 364 L365.5 362.8 L365.4 361.6 L365.4 360.4 L365.3 359.2 L365.2 358 L365.2 356.8 L365.3 355.6 L365.3 354.5 L365.4 353.3 L365.4 352.1 L365.6 350.9 L365.7 349.7 L365.9 348.5 L366.1 347.3 L366.2 346.1 L366.5 344.9 L366.8 343.7 L367.2 342.5 L367.8 341.3 L368.8 340.1Z" fill="#eed3ea" stroke="#1a1a1a" stroke-width=".8" fill-opacity="0.8" stroke-linejoin="round"/>
<path d="M384.7 344.5 L385.5 345.6 L386 346.6 L386.2 347.6 L386.3 348.7 L386.3 349.8 L386.2 350.8 L386.2 351.9 L386.2 352.9 L386.2 353.9 L386.1 355 L386.2 356.1 L386.3 357.1 L386.5 358.1 L386.7 359.2 L387 360.2 L387.4 361.3 L388.1 362.4 L388.9 363.4 L389.7 364.4 L390.2 365.5 L390.6 366.6 L390.7 367.6 L390.3 368.7 L389.3 369.7 L387.3 370.8 L385 371.8 L383.2 371.8 L380.9 370.8 L378.9 369.7 L377.9 368.7 L377.5 367.6 L377.6 366.6 L378 365.5 L378.5 364.4 L379.3 363.4 L380.1 362.4 L380.8 361.3 L381.2 360.2 L381.5 359.2 L381.7 358.1 L381.9 357.1 L382 356.1 L382.1 355 L382 353.9 L382 352.9 L382 351.9 L382 350.8 L381.9 349.8 L381.9 348.7 L382 347.6 L382.2 346.6 L382.7 345.6 L383.6 344.5Z" fill="#eac7e5" stroke="#1a1a1a" stroke-width=".8" fill-opacity="0.8" stroke-linejoin="round"/>
<rect x="346.1" y="318.4" width="46.7" height="55.9" fill="none" stroke="#4d4d4d" stroke-width=".9"/>
<line x1="346.1" y1="424.4" x2="392.8" y2="424.4" stroke="#ebebeb" stroke-width=".5"/>
<line x1="346.1" y1="412.4" x2="392.8" y2="412.4" stroke="#ebebeb" stroke-width=".5"/>
<line x1="346.1" y1="400.2" x2="392.8" y2="400.2" stroke="#ebebeb" stroke-width=".5"/>
<line x1="346.1" y1="388.2" x2="392.8" y2="388.2" stroke="#ebebeb" stroke-width=".5"/>
<line x1="354.5" y1="379.1" x2="354.5" y2="435.3" stroke="#ebebeb" stroke-width=".9"/>
<line x1="369.2" y1="379.1" x2="369.2" y2="435.3" stroke="#ebebeb" stroke-width=".9"/>
<line x1="384.1" y1="379.1" x2="384.1" y2="435.3" stroke="#ebebeb" stroke-width=".9"/>
<line x1="346.1" y1="430.5" x2="392.8" y2="430.5" stroke="#ebebeb" stroke-width=".9"/>
<line x1="346.1" y1="418.4" x2="392.8" y2="418.4" stroke="#ebebeb" stroke-width=".9"/>
<line x1="346.1" y1="406.3" x2="392.8" y2="406.3" stroke="#ebebeb" stroke-width=".9"/>
<line x1="346.1" y1="394.2" x2="392.8" y2="394.2" stroke="#ebebeb" stroke-width=".9"/>
<line x1="346.1" y1="382.1" x2="392.8" y2="382.1" stroke="#ebebeb" stroke-width=".9"/>
<g opacity="0.65">
<path d="M355 415.5h0M359 415h0M350.5 415.5h0M360 409.5h0M352.5 402h0M356.5 419.5h0M350.5 426h0M352.5 415h0M358.5 402h0M351.5 416h0M360.5 427h0M351.5 423h0M348.5 416h0M355.5 408h0M349 408h0M355 402.5h0M351 413h0M357 404.5h0M355 427h0M355 402.5h0M358 422h0M349.5 414h0M349 426.5h0M353.5 413.5h0M354 405h0M353 401.5h0M360.5 414.5h0M355.5 425.5h0M351 404.5h0M359.5 413h0M353 421.5h0M352 413.5h0M352 419h0M354 423h0M353 426h0M356.5 423.5h0M357.5 422h0M356.5 420h0M358 401.5h0M361 407.5h0M361 417h0M355.5 428h0M350 416h0M358.5 420h0M356 413h0M361 414h0M357 403h0M352.5 412h0M353 416.5h0M352 420h0" stroke="#CC79C0" stroke-width="1.6" stroke-linecap="round" fill="none"/>
</g>
<g opacity="0.65">
<path d="M364 408h0M369 421h0M373.5 419.5h0M372 424h0M374 420h0M367 407h0M370 413h0M371 407h0M368.5 410h0M367.5 419h0M374 420h0M367.5 424.5h0M363.5 407h0M373.5 419.5h0M364 415.5h0M375.5 402.5h0M363 403h0M366 419.5h0M367 419h0M370 413.5h0M366 410.5h0M363 409h0M366 409.5h0M367 413.5h0M371.5 417.5h0M368 414.5h0M369.5 414.5h0M374.5 415.5h0M366.5 407h0M365 417.5h0M372.5 419.5h0M370 413h0M375.5 403h0M366.5 415.5h0M375.5 424h0M368 401.5h0M370 418h0M370.5 421.5h0M374.5 405.5h0M368.5 419h0M370 415.5h0M365.5 418h0M363.5 418.5h0M375 421.5h0M371 416h0M372 408h0M363 421.5h0M365.5 422.5h0M369 402h0M370.5 406h0M370 426h0M366 411.5h0M369 420h0M366.5 427h0M366 403h0M367.5 419h0M363.5 420.5h0M369.5 414h0M375.5 402.5h0M364.5 411h0M369 406h0M366 421.5h0M363.5 406h0M365 424h0M372.5 417.5h0M373.5 420.5h0M363 405h0M363.5 411.5h0M374.5 423.5h0M366.5 402h0" stroke="#CC79C0" stroke-width="1.6" stroke-linecap="round" fill="none"/>
</g>
<g opacity="0.65">
<path d="M380 405h0M380 416h0M379.5 413.5h0M382.5 414h0M385.5 412h0M377.5 405h0M390 410h0M387 403.5h0M389.5 409.5h0M381.5 401.5h0M388.5 405h0M390.5 419h0M390 409h0M383 423.5h0M387.5 414h0M381 402h0M380 408h0M380 409h0M385 421h0M377.5 408.5h0M387 415.5h0M387 406h0M383 410.5h0M383.5 408h0M388 417h0M385.5 423.5h0M383 404.5h0M385 405h0M378 402h0M379 421h0M380.5 416h0M378.5 401h0M385.5 413h0M379 420h0M386 407.5h0M384 411.5h0M384 406.5h0M379.5 412.5h0M384 407.5h0M389.5 419.5h0M384 412h0M378.5 401.5h0M379.5 416.5h0M387.5 410.5h0M382.5 411h0M377.5 421.5h0M389 403.5h0M386.5 418.5h0M385.5 405.5h0M387.5 408.5h0" stroke="#CC79C0" stroke-width="1.6" stroke-linecap="round" fill="none"/>
</g>
<path d="M355.4 401.1 L357 402.2 L357.4 403.3 L357.5 404.4 L357.5 405.5 L357.4 406.6 L357.4 407.7 L357.4 408.8 L357.4 409.9 L357.3 411 L357.3 412.1 L357.3 413.2 L357.2 414.3 L357.2 415.4 L357.2 416.4 L357.2 417.5 L357.1 418.6 L357.1 419.7 L357.1 420.8 L357 421.9 L356.9 423 L356.9 424.1 L356.8 425.2 L356.7 426.3 L356.3 427.4 L355.4 428.5 L354.7 429.6 L354.3 429.6 L353.6 428.5 L352.7 427.4 L352.3 426.3 L352.2 425.2 L352.1 424.1 L352.1 423 L352 421.9 L351.9 420.8 L351.9 419.7 L351.9 418.6 L351.8 417.5 L351.8 416.4 L351.8 415.4 L351.8 414.3 L351.7 413.2 L351.7 412.1 L351.7 411 L351.6 409.9 L351.6 408.8 L351.6 407.7 L351.6 406.6 L351.5 405.5 L351.5 404.4 L351.6 403.3 L352 402.2 L353.6 401.1Z" fill="#fcf8fc" stroke="#1a1a1a" stroke-width=".8" fill-opacity="0.8" stroke-linejoin="round"/>
<path d="M369.8 401.1 L370.9 402.1 L371.8 403.2 L372.4 404.2 L372.9 405.2 L373.3 406.2 L373.7 407.3 L374 408.3 L374.1 409.3 L374.2 410.3 L374.2 411.4 L374.2 412.4 L374.1 413.4 L374 414.5 L373.8 415.5 L373.7 416.5 L373.6 417.5 L373.4 418.6 L373.2 419.6 L372.9 420.6 L372.7 421.6 L372.5 422.7 L372.2 423.7 L371.6 424.7 L370.8 425.7 L370 426.8 L369.4 427.8 L369 427.8 L368.4 426.8 L367.6 425.7 L366.8 424.7 L366.2 423.7 L365.9 422.7 L365.7 421.6 L365.5 420.6 L365.2 419.6 L365 418.6 L364.8 417.5 L364.7 416.5 L364.6 415.5 L364.4 414.5 L364.3 413.4 L364.2 412.4 L364.2 411.4 L364.2 410.3 L364.3 409.3 L364.4 408.3 L364.7 407.3 L365.1 406.2 L365.5 405.2 L366 404.2 L366.6 403.2 L367.5 402.1 L368.6 401.1Z" fill="#eed3ea" stroke="#1a1a1a" stroke-width=".8" fill-opacity="0.8" stroke-linejoin="round"/>
<path d="M385.5 400.4 L387.6 401.3 L389.1 402.2 L389.8 403.2 L390.2 404.1 L390.4 405 L390.5 405.9 L390.4 406.9 L390 407.8 L389.7 408.7 L389.2 409.6 L388.6 410.6 L388.1 411.5 L387.5 412.4 L387.1 413.3 L386.9 414.2 L386.8 415.2 L386.7 416.1 L386.5 417 L386.4 417.9 L386.3 418.9 L386.3 419.8 L386.2 420.7 L386 421.6 L385.6 422.6 L384.9 423.5 L384.3 424.4 L383.9 424.4 L383.3 423.5 L382.6 422.6 L382.2 421.6 L382 420.7 L381.9 419.8 L381.9 418.9 L381.8 417.9 L381.7 417 L381.5 416.1 L381.4 415.2 L381.3 414.2 L381.1 413.3 L380.7 412.4 L380.1 411.5 L379.6 410.6 L379 409.6 L378.5 408.7 L378.2 407.8 L377.8 406.9 L377.7 405.9 L377.8 405 L378 404.1 L378.4 403.2 L379.1 402.2 L380.6 401.3 L382.7 400.4Z" fill="#eac7e5" stroke="#1a1a1a" stroke-width=".8" fill-opacity="0.8" stroke-linejoin="round"/>
<rect x="346.1" y="379.1" width="46.7" height="56.2" fill="none" stroke="#4d4d4d" stroke-width=".9"/>
<line x1="354.5" y1="435.3" x2="354.5" y2="437.3" stroke="#4d4d4d" stroke-width=".8"/>
<text x="357.7" y="442.5" font-size="7.7" text-anchor="end" font-weight="bold" fill="#383838" transform="rotate(-45 357.7 442.5) matrix(1 0 0 1.1 0 -44.3)">Low</text>
<line x1="369.2" y1="435.3" x2="369.2" y2="437.3" stroke="#4d4d4d" stroke-width=".8"/>
<text x="372.4" y="442.5" font-size="7.7" text-anchor="end" font-weight="bold" fill="#383838" transform="rotate(-45 372.4 442.5) matrix(1 0 0 1.1 0 -44.3)">Moderate</text>
<line x1="384.1" y1="435.3" x2="384.1" y2="437.3" stroke="#4d4d4d" stroke-width=".8"/>
<text x="387.3" y="442.5" font-size="7.7" text-anchor="end" font-weight="bold" fill="#383838" transform="rotate(-45 387.3 442.5) matrix(1 0 0 1.1 0 -44.3)">High</text>
<rect x="397.6" y="305.4" width="46.7" height="13" fill="#d9d9d9" stroke="#4d4d4d" stroke-width=".8"/>
<text x="421" y="314" font-size="6.8" text-anchor="middle" fill="#1a1a1a" transform="matrix(1 0 0 1.1 0 -31.4)">HER2−enriched</text>
<line x1="397.6" y1="363.5" x2="444.3" y2="363.5" stroke="#ebebeb" stroke-width=".5"/>
<line x1="397.6" y1="351.4" x2="444.3" y2="351.4" stroke="#ebebeb" stroke-width=".5"/>
<line x1="397.6" y1="339.3" x2="444.3" y2="339.3" stroke="#ebebeb" stroke-width=".5"/>
<line x1="397.6" y1="327.2" x2="444.3" y2="327.2" stroke="#ebebeb" stroke-width=".5"/>
<line x1="406" y1="318.4" x2="406" y2="374.3" stroke="#ebebeb" stroke-width=".9"/>
<line x1="420.7" y1="318.4" x2="420.7" y2="374.3" stroke="#ebebeb" stroke-width=".9"/>
<line x1="435.6" y1="318.4" x2="435.6" y2="374.3" stroke="#ebebeb" stroke-width=".9"/>
<line x1="397.6" y1="369.6" x2="444.3" y2="369.6" stroke="#ebebeb" stroke-width=".9"/>
<line x1="397.6" y1="357.5" x2="444.3" y2="357.5" stroke="#ebebeb" stroke-width=".9"/>
<line x1="397.6" y1="345.4" x2="444.3" y2="345.4" stroke="#ebebeb" stroke-width=".9"/>
<line x1="397.6" y1="333.3" x2="444.3" y2="333.3" stroke="#ebebeb" stroke-width=".9"/>
<line x1="397.6" y1="321.2" x2="444.3" y2="321.2" stroke="#ebebeb" stroke-width=".9"/>
<g opacity="0.65">
<path d="M408 338h0M400 355h0M403.5 350.5h0M408 358.5h0M411 343.5h0M406 355.5h0M412 339h0M406.5 357h0M409 343.5h0M405 354.5h0M405.5 353h0M401.5 338.5h0M408 356h0M402 344.5h0M407.5 338.5h0M408 359.5h0M404.5 344.5h0M404 351.5h0M403 345h0M410 343h0M404.5 358.5h0M408 338h0M403 358h0M411 354.5h0M402 344h0M403 342.5h0M408 353.5h0M402 355.5h0M410 338.5h0M405.5 350.5h0" stroke="#B39B30" stroke-width="1.6" stroke-linecap="round" fill="none"/>
</g>
<g opacity="0.65">
<path d="M414.5 350.5h0M427 345h0M416 359h0M421.5 357h0M419.5 334.5h0M426.5 350h0M420.5 355.5h0M416.5 356.5h0M421 348.5h0M421.5 354h0M415.5 356.5h0M416.5 336h0M420 362h0M418 346h0M425 356.5h0M421.5 357h0M424 333.5h0M419.5 350.5h0M420 348h0M417 334.5h0M414 348.5h0M425 343.5h0M424 362.5h0M416.5 338h0M416 360.5h0M422.5 342.5h0M420 354.5h0M419 346h0M423.5 346h0M416 342h0M415 343h0M418.5 358h0M416 343h0M419 350.5h0M414.5 337h0M423.5 356h0M416.5 356.5h0M420 355h0M424.5 342.5h0M426.5 361h0M427 361.5h0M420 335h0M417 358h0M418 347.5h0M426.5 340.5h0M415 350.5h0M415 342h0M421.5 349h0M423 340.5h0M419 342h0M418 340h0M414.5 341h0M425.5 346.5h0M421 343h0M424.5 332h0M418.5 349h0M424.5 355.5h0M420 354.5h0M421 348.5h0M415 357.5h0M422 355.5h0M420.5 360.5h0M418 347h0M417 359.5h0M424.5 355h0M423.5 340h0M426.5 355h0M420.5 348h0M425.5 342h0M420 361.5h0M419.5 335h0M422 346.5h0M420 338.5h0M418.5 352h0M417 332h0M414.5 355h0M424.5 339h0M415.5 360h0M424 354.5h0M417.5 356h0M418.5 348h0M427 352h0M426.5 338h0M425 358.5h0M423.5 349.5h0M415 358h0M423 353h0M415 343h0M424.5 360h0M420 346h0" stroke="#B39B30" stroke-width="1.6" stroke-linecap="round" fill="none"/>
</g>
<g opacity="0.65">
<path d="M430.5 355h0M432 342h0M441 347.5h0M440.5 355h0M437 353h0M430 345.5h0M438 354.5h0M441.5 353h0M437 348.5h0M437 354h0M440 345.5h0M439 352.5h0M429 361.5h0M442 344.5h0M438 346.5h0M434 338h0M433.5 347.5h0M429.5 350.5h0M436 343.5h0M430 343h0M439.5 345.5h0M437 357.5h0M439 336.5h0M436.5 358h0M431 353.5h0M438 346.5h0M433 342.5h0M437.5 353h0M441.5 337h0M439.5 350.5h0M435 359h0M439 355.5h0M436 352h0M440.5 343h0M434 345.5h0M441.5 340.5h0M431 352.5h0M432 343.5h0M435.5 339.5h0M441.5 347.5h0M436 344.5h0M437 338h0M438 361h0M440 342h0M431 356.5h0M441 336.5h0M429.5 337h0M430 361h0M434.5 345.5h0M430.5 353h0M435 351h0M440 359h0M439.5 342h0M441.5 351h0M431.5 355.5h0M436.5 349h0M430.5 347.5h0M442 361h0M429 363h0M439.5 338.5h0M430.5 353h0M431 354h0M439.5 352.5h0M433 359.5h0M429.5 339h0M441 359h0M433.5 359h0M433 349h0M441.5 347.5h0M437 362h0M430 339.5h0M434.5 348.5h0M435 360h0M431 352h0M430.5 348.5h0M431 337.5h0M440.5 359.5h0M432.5 351.5h0M437.5 360h0M431.5 353.5h0M441.5 347.5h0M429.5 352.5h0M441 351.5h0M429.5 341h0M429.5 360.5h0M437 352h0M433 343.5h0M440.5 357.5h0M433.5 355h0M433 342.5h0M437 338.5h0M439 342h0M441 343h0M434 352h0M437.5 352h0M434 341.5h0M436 348h0M436.5 350.5h0M436.5 355h0M435 342h0M436 343.5h0M439.5 348.5h0M432.5 337.5h0M430 341h0M437.5 350.5h0M435.5 352.5h0M435 353h0M438.5 355.5h0M437 352.5h0M433 351h0" stroke="#B39B30" stroke-width="1.6" stroke-linecap="round" fill="none"/>
</g>
<path d="M407.3 335.3 L409.2 336.3 L410.2 337.2 L410.5 338.2 L410.6 339.2 L410.6 340.1 L410.6 341.1 L410.7 342.1 L410.7 343.1 L410.7 344 L410.7 345 L410.6 346 L410.6 346.9 L410.5 347.9 L410.5 348.9 L410.4 349.8 L410.4 350.8 L410.3 351.8 L410.2 352.7 L410 353.7 L409.8 354.7 L409.6 355.7 L409.4 356.6 L409.1 357.6 L408.6 358.6 L407.8 359.5 L406.7 360.5 L405.3 360.5 L404.2 359.5 L403.4 358.6 L402.9 357.6 L402.6 356.6 L402.4 355.7 L402.2 354.7 L402 353.7 L401.8 352.7 L401.7 351.8 L401.6 350.8 L401.6 349.8 L401.5 348.9 L401.5 347.9 L401.4 346.9 L401.4 346 L401.3 345 L401.3 344 L401.3 343.1 L401.3 342.1 L401.4 341.1 L401.4 340.1 L401.4 339.2 L401.5 338.2 L401.8 337.2 L402.8 336.3 L404.7 335.3Z" fill="#fbfaf5" stroke="#1a1a1a" stroke-width=".8" fill-opacity="0.8" stroke-linejoin="round"/>
<path d="M421 331.3 L421.8 332.5 L422.2 333.8 L422.6 335 L423 336.2 L423.3 337.5 L423.6 338.7 L423.9 339.9 L424.2 341.2 L424.6 342.4 L424.9 343.6 L425.2 344.9 L425.6 346.1 L425.9 347.4 L426.3 348.6 L426.6 349.8 L426.8 351.1 L426.8 352.3 L426.9 353.5 L426.9 354.8 L426.7 356 L426.3 357.2 L425.8 358.5 L425.1 359.7 L424.1 360.9 L422.7 362.2 L421.2 363.4 L420.2 363.4 L418.7 362.2 L417.3 360.9 L416.3 359.7 L415.6 358.5 L415.1 357.2 L414.7 356 L414.5 354.8 L414.5 353.5 L414.6 352.3 L414.6 351.1 L414.8 349.8 L415.1 348.6 L415.5 347.4 L415.8 346.1 L416.2 344.9 L416.5 343.6 L416.8 342.4 L417.2 341.2 L417.5 339.9 L417.8 338.7 L418.1 337.5 L418.4 336.2 L418.8 335 L419.2 333.8 L419.6 332.5 L420.4 331.3Z" fill="#e6debb" stroke="#1a1a1a" stroke-width=".8" fill-opacity="0.8" stroke-linejoin="round"/>
<path d="M436 335 L436.9 336.1 L437.6 337.3 L438.1 338.4 L438.5 339.5 L439 340.7 L439.5 341.8 L440.1 342.9 L440.6 344.1 L441.2 345.2 L441.7 346.3 L442 347.5 L442.3 348.6 L442.4 349.8 L442.3 350.9 L442 352 L441.7 353.2 L441.3 354.3 L440.9 355.4 L440.3 356.6 L439.8 357.7 L439.2 358.8 L438.6 360 L437.9 361.1 L437.1 362.2 L436.4 363.4 L435.8 364.5 L435.4 364.5 L434.8 363.4 L434.1 362.2 L433.3 361.1 L432.6 360 L432 358.8 L431.4 357.7 L430.9 356.6 L430.3 355.4 L429.9 354.3 L429.5 353.2 L429.2 352 L428.9 350.9 L428.8 349.8 L428.9 348.6 L429.2 347.5 L429.5 346.3 L430 345.2 L430.6 344.1 L431.1 342.9 L431.7 341.8 L432.2 340.7 L432.7 339.5 L433.1 338.4 L433.6 337.3 L434.3 336.1 L435.2 335Z" fill="#dfd5a8" stroke="#1a1a1a" stroke-width=".8" fill-opacity="0.8" stroke-linejoin="round"/>
<rect x="397.6" y="318.4" width="46.7" height="55.9" fill="none" stroke="#4d4d4d" stroke-width=".9"/>
<line x1="397.6" y1="424.4" x2="444.3" y2="424.4" stroke="#ebebeb" stroke-width=".5"/>
<line x1="397.6" y1="412.4" x2="444.3" y2="412.4" stroke="#ebebeb" stroke-width=".5"/>
<line x1="397.6" y1="400.2" x2="444.3" y2="400.2" stroke="#ebebeb" stroke-width=".5"/>
<line x1="397.6" y1="388.2" x2="444.3" y2="388.2" stroke="#ebebeb" stroke-width=".5"/>
<line x1="406" y1="379.1" x2="406" y2="435.3" stroke="#ebebeb" stroke-width=".9"/>
<line x1="420.7" y1="379.1" x2="420.7" y2="435.3" stroke="#ebebeb" stroke-width=".9"/>
<line x1="435.6" y1="379.1" x2="435.6" y2="435.3" stroke="#ebebeb" stroke-width=".9"/>
<line x1="397.6" y1="430.5" x2="444.3" y2="430.5" stroke="#ebebeb" stroke-width=".9"/>
<line x1="397.6" y1="418.4" x2="444.3" y2="418.4" stroke="#ebebeb" stroke-width=".9"/>
<line x1="397.6" y1="406.3" x2="444.3" y2="406.3" stroke="#ebebeb" stroke-width=".9"/>
<line x1="397.6" y1="394.2" x2="444.3" y2="394.2" stroke="#ebebeb" stroke-width=".9"/>
<line x1="397.6" y1="382.1" x2="444.3" y2="382.1" stroke="#ebebeb" stroke-width=".9"/>
<g opacity="0.65">
<path d="M409 401.5h0M412 409.5h0M399.5 402h0M407.5 406.5h0M409 411h0M406.5 406.5h0M400.5 408h0M405 408.5h0M404 397h0M412.5 397h0M408 413.5h0M404 403.5h0M405.5 395.5h0M407.5 405.5h0M406.5 406.5h0M408 412.5h0M401.5 404h0M405 398.5h0M407.5 406.5h0M410 404h0M403 405.5h0M408.5 409h0M407 403h0M407 405h0M410 393.5h0M402 399.5h0M400 404.5h0M400 397h0M412 400h0M407 407.5h0" stroke="#B39B30" stroke-width="1.6" stroke-linecap="round" fill="none"/>
</g>
<g opacity="0.65">
<path d="M420.5 395h0M420.5 401h0M422 408.5h0M416.5 391h0M417 401.5h0M424 406h0M415.5 401.5h0M414.5 405h0M416.5 391h0M420 395.5h0M427 392.5h0M421 404h0M424.5 408h0M421 391.5h0M418 393.5h0M425 412h0M419.5 408h0M426 392h0M421 406h0M424 397.5h0M423.5 401.5h0M417.5 395h0M423 403.5h0M421.5 399.5h0M417.5 391.5h0M416 401h0M417 404.5h0M426 392h0M424 405h0M424.5 390.5h0M421 408h0M421 408.5h0M416.5 393.5h0M420 402h0M422.5 404.5h0M421 399h0M417.5 406h0M421.5 395h0M417.5 404h0M425.5 396.5h0M420 397h0M424 399.5h0M422.5 400h0M421 399h0M418 398h0M425.5 396h0M426.5 390.5h0M425 405.5h0M415.5 393.5h0M425 398.5h0M416 396h0M422 395.5h0M419.5 403.5h0M416.5 403h0M422 396h0M424 400.5h0M421.5 404.5h0M420.5 395.5h0M416 397.5h0M414.5 395h0M419.5 402h0M426 405h0M417.5 397.5h0M416 393.5h0M418.5 398.5h0M419.5 398h0M420 397.5h0M415 399h0M422.5 398h0M420.5 391h0M416 409.5h0M422 405.5h0M418 400h0M417.5 412.5h0M426.5 402h0M423.5 391h0M423 401h0M416.5 391.5h0M418 396.5h0M421 392h0M415.5 407.5h0M416 407h0M424.5 401h0M419 401.5h0M415.5 398.5h0M416 399.5h0M422 402.5h0M422.5 400.5h0M414.5 400h0M424 396h0" stroke="#B39B30" stroke-width="1.6" stroke-linecap="round" fill="none"/>
</g>
<g opacity="0.65">
<path d="M439.5 400h0M434 401h0M429.5 388.5h0M430.5 401.5h0M434.5 399h0M437.5 404h0M434.5 393.5h0M432.5 401h0M435.5 405.5h0M441.5 406h0M439 397.5h0M438.5 395h0M438 409h0M434.5 400h0M439.5 393h0M437 400.5h0M431.5 408h0M435.5 411h0M432.5 399.5h0M429.5 393h0M432.5 403.5h0M435 411h0M438.5 399.5h0M438.5 396h0M430.5 406h0M439.5 406h0M430 403h0M434.5 391.5h0M432 408.5h0M432 408.5h0M431.5 406h0M438.5 389.5h0M430 406.5h0M430 410h0M440 406h0M442 406.5h0M437.5 399.5h0M441.5 407h0M429.5 409h0M441.5 402.5h0M439 401.5h0M432.5 399h0M430 401.5h0M440 407h0M433 407h0M440 399.5h0M435 393.5h0M437 390h0M430 403h0M433 402h0M435.5 394h0M438 397h0M432.5 395h0M437 406h0M436 406h0M432.5 407h0M431.5 403.5h0M433.5 407.5h0M430.5 396h0M429 409h0M441.5 407h0M441 404h0M430 396.5h0M439.5 390.5h0M439 401h0M437.5 400.5h0M431 402h0M433 390.5h0M439 411h0M441 391.5h0M436.5 394h0M431 398h0M437 405h0M434.5 408h0M435 403h0M435.5 390.5h0M436.5 401h0M433 399h0M441 403.5h0M430 394h0M436 393h0M432 403.5h0M429.5 403h0M439.5 405h0M433 408.5h0M437 402.5h0M432 401.5h0M436.5 390.5h0M441.5 411h0M434 403h0M430 397h0M435 394.5h0M441 400h0M439.5 409.5h0M438.5 407h0M434.5 397h0M439.5 394.5h0M438.5 402.5h0M438 405h0M436 404h0M431.5 410.5h0M438.5 400.5h0M432 403.5h0M438 403h0M438 399.5h0M437 411.5h0M435.5 403h0M439.5 409h0M442 404.5h0M432 390.5h0" stroke="#B39B30" stroke-width="1.6" stroke-linecap="round" fill="none"/>
</g>
<path d="M406.7 393.1 L407.8 394 L408.4 394.8 L408.6 395.7 L408.9 396.6 L409.2 397.4 L409.5 398.3 L409.8 399.2 L410.1 400.1 L410.4 400.9 L410.7 401.8 L410.9 402.7 L411.1 403.5 L411.3 404.4 L411.5 405.3 L411.5 406.1 L411.4 407 L411.1 407.9 L410.9 408.7 L410.6 409.6 L410.2 410.5 L409.7 411.4 L409.1 412.2 L408.6 413.1 L407.9 414 L407 414.8 L406.3 415.7 L405.7 415.7 L405 414.8 L404.1 414 L403.4 413.1 L402.9 412.2 L402.3 411.4 L401.8 410.5 L401.4 409.6 L401.1 408.7 L400.9 407.9 L400.6 407 L400.5 406.1 L400.5 405.3 L400.7 404.4 L400.9 403.5 L401.1 402.7 L401.3 401.8 L401.6 400.9 L401.9 400.1 L402.2 399.2 L402.5 398.3 L402.8 397.4 L403.1 396.6 L403.4 395.7 L403.6 394.8 L404.2 394 L405.3 393.1Z" fill="#fbfaf5" stroke="#1a1a1a" stroke-width=".8" fill-opacity="0.8" stroke-linejoin="round"/>
<path d="M421.5 389 L422.6 389.9 L423.5 390.9 L424 391.8 L424.5 392.8 L424.9 393.7 L425.1 394.7 L425.3 395.6 L425.5 396.5 L425.8 397.5 L425.9 398.4 L426 399.4 L426 400.3 L426.1 401.2 L426.1 402.2 L426.1 403.1 L426 404.1 L425.8 405 L425.6 406 L425.4 406.9 L425.1 407.8 L424.7 408.8 L424.1 409.7 L423.5 410.7 L422.8 411.6 L421.9 412.6 L421.1 413.5 L420.3 413.5 L419.5 412.6 L418.6 411.6 L417.9 410.7 L417.3 409.7 L416.7 408.8 L416.3 407.8 L416 406.9 L415.8 406 L415.6 405 L415.4 404.1 L415.3 403.1 L415.3 402.2 L415.3 401.2 L415.4 400.3 L415.4 399.4 L415.5 398.4 L415.6 397.5 L415.9 396.5 L416.1 395.6 L416.3 394.7 L416.5 393.7 L416.9 392.8 L417.4 391.8 L417.9 390.9 L418.8 389.9 L419.9 389Z" fill="#e6debb" stroke="#1a1a1a" stroke-width=".8" fill-opacity="0.8" stroke-linejoin="round"/>
<path d="M436.2 388.7 L437 389.6 L437.6 390.5 L437.9 391.4 L438.2 392.3 L438.4 393.2 L438.6 394.1 L438.9 395 L439.1 395.9 L439.4 396.8 L439.7 397.7 L440.1 398.6 L440.5 399.5 L440.9 400.4 L441.3 401.2 L441.6 402.1 L441.9 403 L442.2 403.9 L442.3 404.8 L442.1 405.7 L441.5 406.6 L440.9 407.5 L440.1 408.4 L439.3 409.3 L438.4 410.2 L437.2 411.1 L436.1 412 L435.1 412 L434 411.1 L432.8 410.2 L431.9 409.3 L431.1 408.4 L430.3 407.5 L429.7 406.6 L429.1 405.7 L428.9 404.8 L429 403.9 L429.3 403 L429.6 402.1 L429.9 401.2 L430.3 400.4 L430.7 399.5 L431.1 398.6 L431.5 397.7 L431.8 396.8 L432.1 395.9 L432.3 395 L432.6 394.1 L432.8 393.2 L433 392.3 L433.3 391.4 L433.6 390.5 L434.2 389.6 L435 388.7Z" fill="#dfd5a8" stroke="#1a1a1a" stroke-width=".8" fill-opacity="0.8" stroke-linejoin="round"/>
<rect x="397.6" y="379.1" width="46.7" height="56.2" fill="none" stroke="#4d4d4d" stroke-width=".9"/>
<line x1="406" y1="435.3" x2="406" y2="437.3" stroke="#4d4d4d" stroke-width=".8"/>
<text x="409.2" y="442.5" font-size="7.7" text-anchor="end" font-weight="bold" fill="#383838" transform="rotate(-45 409.2 442.5) matrix(1 0 0 1.1 0 -44.3)">Low</text>
<line x1="420.7" y1="435.3" x2="420.7" y2="437.3" stroke="#4d4d4d" stroke-width=".8"/>
<text x="423.9" y="442.5" font-size="7.7" text-anchor="end" font-weight="bold" fill="#383838" transform="rotate(-45 423.9 442.5) matrix(1 0 0 1.1 0 -44.3)">Moderate</text>
<line x1="435.6" y1="435.3" x2="435.6" y2="437.3" stroke="#4d4d4d" stroke-width=".8"/>
<text x="438.8" y="442.5" font-size="7.7" text-anchor="end" font-weight="bold" fill="#383838" transform="rotate(-45 438.8 442.5) matrix(1 0 0 1.1 0 -44.3)">High</text>
<rect x="448.3" y="305.4" width="46.7" height="13" fill="#d9d9d9" stroke="#4d4d4d" stroke-width=".8"/>
<text x="471.6" y="314" font-size="6.8" text-anchor="middle" fill="#1a1a1a" transform="matrix(1 0 0 1.1 0 -31.4)">LumA</text>
<line x1="448.3" y1="363.5" x2="495" y2="363.5" stroke="#ebebeb" stroke-width=".5"/>
<line x1="448.3" y1="351.4" x2="495" y2="351.4" stroke="#ebebeb" stroke-width=".5"/>
<line x1="448.3" y1="339.3" x2="495" y2="339.3" stroke="#ebebeb" stroke-width=".5"/>
<line x1="448.3" y1="327.2" x2="495" y2="327.2" stroke="#ebebeb" stroke-width=".5"/>
<line x1="456.7" y1="318.4" x2="456.7" y2="374.3" stroke="#ebebeb" stroke-width=".9"/>
<line x1="471.4" y1="318.4" x2="471.4" y2="374.3" stroke="#ebebeb" stroke-width=".9"/>
<line x1="486.3" y1="318.4" x2="486.3" y2="374.3" stroke="#ebebeb" stroke-width=".9"/>
<line x1="448.3" y1="369.6" x2="495" y2="369.6" stroke="#ebebeb" stroke-width=".9"/>
<line x1="448.3" y1="357.5" x2="495" y2="357.5" stroke="#ebebeb" stroke-width=".9"/>
<line x1="448.3" y1="345.4" x2="495" y2="345.4" stroke="#ebebeb" stroke-width=".9"/>
<line x1="448.3" y1="333.3" x2="495" y2="333.3" stroke="#ebebeb" stroke-width=".9"/>
<line x1="448.3" y1="321.2" x2="495" y2="321.2" stroke="#ebebeb" stroke-width=".9"/>
<g opacity="0.65">
<path d="M462 333.5h0M462 341.5h0M463 344.5h0M460 334.5h0M462 334.5h0M460 331.5h0M452.5 334.5h0M454.5 334h0M459 332.5h0M457 343h0M457 345.5h0M461.5 343h0M454.5 342.5h0M458.5 331h0M452.5 345h0M457.5 337.5h0M453 340.5h0M451.5 339.5h0M455.5 331.5h0M451 335h0M458.5 340h0M458 344.5h0M458 335.5h0M462.5 339.5h0M451.5 332h0M459.5 339h0M461.5 335.5h0M457 332h0M458.5 341.5h0M451.5 332h0M457.5 334.5h0M454.5 340.5h0M460 335.5h0M452.5 336h0M456 336.5h0M458 343h0M459.5 334h0M453.5 331h0M453 334.5h0M453.5 339h0M461 334h0M452 341h0M457 333h0M450.5 343.5h0M450.5 335.5h0M461.5 335.5h0M452.5 333.5h0M456 343.5h0M463 333.5h0M455 341.5h0M451 340h0M461.5 338.5h0M453 339.5h0M450.5 341.5h0M460 345h0M457 338.5h0M452.5 336h0M451 335.5h0M463 336.5h0M451 343h0M454 334h0M457.5 331.5h0M457.5 332h0M463 342h0M451 334h0M452.5 344.5h0M460.5 345h0M455 341.5h0M460.5 335h0M457.5 345h0M450.5 341h0M456 341.5h0M459.5 343h0M462.5 341h0M452.5 340h0M456.5 336.5h0M455.5 341.5h0M462 337.5h0M451.5 336h0M462.5 338.5h0" stroke="#12B4BA" stroke-width="1.6" stroke-linecap="round" fill="none"/>
</g>
<g opacity="0.65">
<path d="M467 345h0M471.5 344h0M465.5 339h0M469 334.5h0M468.5 337h0M472 348h0M469 344.5h0M471 343h0M468 334h0M473 331h0M477 338h0M469 337h0M473.5 334.5h0M477 331h0M467.5 340.5h0M468.5 337.5h0M469.5 345.5h0M470 341h0M468 335.5h0M466.5 346.5h0M471.5 347.5h0M466.5 329h0M467.5 337.5h0M477 330.5h0M476.5 332h0M473.5 329h0M470.5 343h0M474 348h0M477 351h0M465 339.5h0M467.5 336.5h0M470 331.5h0M475.5 342h0M476 342h0M465.5 350h0M474.5 333.5h0M473.5 332.5h0M476.5 344.5h0M477 334h0M468 340h0M476.5 352h0M465.5 343.5h0M467 349h0M465 334.5h0M470 329h0M469.5 334.5h0M470.5 330h0M474 340.5h0M475.5 339h0M466.5 346h0M477.5 338.5h0M472.5 344.5h0M475 339.5h0M468 333.5h0M469.5 341.5h0M471 330.5h0M467 342h0M470 339h0M471 335h0M474.5 341.5h0M472.5 333.5h0M472 335h0M471 353.5h0M473.5 336.5h0M474.5 340h0M477 342.5h0M472 334h0M467 341.5h0M472 340h0M470.5 342.5h0M473.5 338.5h0M468.5 331h0M469 345h0M472.5 335h0M473.5 338.5h0M477 333.5h0M477 351h0M473 334h0M473 337.5h0M471.5 342h0M466 345h0M468 340h0M477.5 341h0M473 332.5h0M466.5 337.5h0M477 343.5h0M470.5 337h0M468 350h0M469.5 329.5h0M469 342h0M467.5 340.5h0M472.5 342h0M470.5 331.5h0M476 339h0M473 336h0M466.5 332h0M476 342.5h0M471 352.5h0M477 345.5h0M466 341h0M476 338.5h0M475 341h0M471.5 339h0M465.5 334.5h0M471.5 341.5h0M470.5 338.5h0M468 335.5h0M471.5 337h0M471.5 335h0M478 343.5h0M466.5 336.5h0M474.5 334.5h0M467 337.5h0M472 334.5h0M477 334h0M475 336.5h0M474 345h0M465 351h0M470 342.5h0M475 340.5h0M469 341.5h0M470.5 330h0M476.5 344h0M468.5 341h0M477 342.5h0M469.5 343h0M470.5 340h0M469.5 335h0M472 336.5h0M469 336h0M465.5 352h0M469.5 335h0M472 341.5h0M472.5 335h0M477.5 339h0M475 343.5h0M473.5 344h0M465 335h0M469 348h0M476.5 352h0M467.5 349h0M470 342h0M475 335h0M468 343h0M470 347.5h0M469.5 332.5h0M470.5 333h0M465.5 337h0M473.5 346h0M467.5 340.5h0" stroke="#12B4BA" stroke-width="1.6" stroke-linecap="round" fill="none"/>
</g>
<g opacity="0.65">
<path d="M488.5 341h0M483.5 338h0M480.5 337h0M485.5 333h0M480.5 337h0M484.5 333.5h0M488.5 328h0M484.5 334h0M485 340.5h0M485.5 338h0M488.5 336h0M480.5 339.5h0M489 337.5h0M486 340h0M489.5 330.5h0M490.5 331.5h0M489 336h0M482 342h0M492.5 338h0M491 331.5h0M488 337.5h0M486 333h0M487.5 341.5h0M490.5 329h0M482 334.5h0M484.5 337.5h0M492 344.5h0M488.5 336.5h0M485.5 332h0M484 328.5h0M484 332.5h0M480 332.5h0M484 341h0M492 334.5h0M490 332h0M492 345.5h0M487 335.5h0M489 348.5h0M481.5 340.5h0M484 329.5h0M484.5 329.5h0M481.5 338h0M484.5 333h0M489.5 339.5h0M489 341h0M485.5 336.5h0M483 332h0M481 329h0M483.5 330.5h0M490 336.5h0M480.5 332h0M488 341.5h0M488 340h0M482.5 347.5h0M492 331h0M485 334h0M489 341.5h0M482 332.5h0M482 333.5h0M487.5 338h0M492.5 332h0M480 338.5h0M488 334h0M481.5 331.5h0M483.5 334.5h0M481.5 341h0M483.5 331h0M481 344h0M484.5 341h0M490.5 343.5h0M492.5 342h0M489.5 341h0M490.5 328h0M486.5 332.5h0M484.5 332.5h0M487 340h0M490 338.5h0M492.5 343h0M482 339h0M483 336.5h0M491 334h0M488.5 339h0M482 333.5h0M491 340.5h0M485.5 334h0M486 331.5h0M482 344.5h0M482 339h0M486.5 343h0M481 334h0M492.5 334.5h0M483 341.5h0M485.5 340h0M490 328h0M484 330h0M480.5 338h0M484 341.5h0M484 338.5h0M484 335h0M483 345h0M491 335h0M483.5 346.5h0M489 332.5h0M482.5 328h0M491.5 344.5h0M490 335.5h0M480.5 341h0M490.5 343h0M493 336.5h0M487.5 329h0M482 332.5h0M483.5 336.5h0M486 345h0M490 340h0M490.5 329.5h0M482.5 349h0M482 336.5h0M485.5 343.5h0M489 328.5h0M483.5 336.5h0M489.5 337.5h0M492.5 332h0M488.5 337.5h0M488 337h0M480.5 335.5h0M491 346.5h0M482.5 330h0M487 328h0M490.5 339h0M492.5 348.5h0M482 339h0M483.5 333.5h0M483.5 341h0M491.5 330h0M481.5 338.5h0M490 352h0M486 328.5h0M487 339h0M483.5 345h0M485 334.5h0M480.5 330h0M486 332.5h0M483 334.5h0M483 335h0M486.5 334h0M480 335h0M486 337h0M491 338.5h0M480.5 330.5h0M490.5 341h0" stroke="#12B4BA" stroke-width="1.6" stroke-linecap="round" fill="none"/>
</g>
<path d="M457.6 329.9 L458.7 330.5 L459.8 331.1 L460.7 331.7 L461.4 332.4 L462 333 L462.4 333.6 L462.7 334.2 L463 334.8 L463.2 335.4 L463.2 336.1 L463 336.7 L462.7 337.3 L462.5 337.9 L462.5 338.5 L462.6 339.1 L462.7 339.7 L462.6 340.4 L462.3 341 L462 341.6 L461.6 342.2 L461.2 342.8 L460.7 343.4 L460.1 344.1 L459.4 344.7 L458.5 345.3 L457.5 345.9 L455.9 345.9 L454.9 345.3 L454 344.7 L453.3 344.1 L452.7 343.4 L452.2 342.8 L451.8 342.2 L451.4 341.6 L451.1 341 L450.8 340.4 L450.7 339.7 L450.8 339.1 L450.9 338.5 L450.9 337.9 L450.7 337.3 L450.4 336.7 L450.2 336.1 L450.2 335.4 L450.4 334.8 L450.7 334.2 L451 333.6 L451.4 333 L452 332.4 L452.7 331.7 L453.6 331.1 L454.7 330.5 L455.8 329.9Z" fill="#f3fbfc" stroke="#1a1a1a" stroke-width=".8" fill-opacity="0.8" stroke-linejoin="round"/>
<path d="M471.9 328.4 L473 329.4 L474.1 330.4 L475 331.4 L475.8 332.4 L476.5 333.4 L476.9 334.4 L477.3 335.3 L477.7 336.3 L477.8 337.3 L477.7 338.3 L477.5 339.3 L477.3 340.3 L476.8 341.3 L476 342.3 L475.1 343.3 L474.1 344.3 L473.2 345.3 L472.5 346.3 L472.3 347.3 L472.2 348.2 L472.1 349.2 L472 350.2 L471.8 351.2 L471.7 352.2 L471.5 353.2 L471.4 354.2 L471.4 354.2 L471.3 353.2 L471.1 352.2 L471 351.2 L470.8 350.2 L470.7 349.2 L470.6 348.2 L470.5 347.3 L470.3 346.3 L469.6 345.3 L468.7 344.3 L467.7 343.3 L466.8 342.3 L466 341.3 L465.5 340.3 L465.3 339.3 L465.1 338.3 L465 337.3 L465.1 336.3 L465.5 335.3 L465.9 334.4 L466.3 333.4 L467 332.4 L467.8 331.4 L468.7 330.4 L469.8 329.4 L470.9 328.4Z" fill="#b1e6e8" stroke="#1a1a1a" stroke-width=".8" fill-opacity="0.8" stroke-linejoin="round"/>
<path d="M486.7 327.4 L487.5 328.4 L488.3 329.3 L489 330.3 L489.7 331.3 L490.4 332.2 L490.9 333.2 L491.3 334.2 L491.8 335.1 L492.2 336.1 L492.5 337.1 L492.3 338 L491.9 339 L491.6 339.9 L491.2 340.9 L490.7 341.9 L489.9 342.8 L489 343.8 L488.2 344.8 L487.6 345.7 L487.3 346.7 L487.1 347.7 L486.9 348.6 L486.8 349.6 L486.6 350.6 L486.5 351.5 L486.3 352.5 L486.3 352.5 L486.1 351.5 L486 350.6 L485.8 349.6 L485.7 348.6 L485.5 347.7 L485.3 346.7 L485 345.7 L484.4 344.8 L483.6 343.8 L482.7 342.8 L481.9 341.9 L481.4 340.9 L481 339.9 L480.7 339 L480.3 338 L480.1 337.1 L480.4 336.1 L480.8 335.1 L481.3 334.2 L481.7 333.2 L482.2 332.2 L482.9 331.3 L483.6 330.3 L484.3 329.3 L485.1 328.4 L485.9 327.4Z" fill="#9be0e2" stroke="#1a1a1a" stroke-width=".8" fill-opacity="0.8" stroke-linejoin="round"/>
<rect x="448.3" y="318.4" width="46.7" height="55.9" fill="none" stroke="#4d4d4d" stroke-width=".9"/>
<line x1="448.3" y1="424.4" x2="495" y2="424.4" stroke="#ebebeb" stroke-width=".5"/>
<line x1="448.3" y1="412.4" x2="495" y2="412.4" stroke="#ebebeb" stroke-width=".5"/>
<line x1="448.3" y1="400.2" x2="495" y2="400.2" stroke="#ebebeb" stroke-width=".5"/>
<line x1="448.3" y1="388.2" x2="495" y2="388.2" stroke="#ebebeb" stroke-width=".5"/>
<line x1="456.7" y1="379.1" x2="456.7" y2="435.3" stroke="#ebebeb" stroke-width=".9"/>
<line x1="471.4" y1="379.1" x2="471.4" y2="435.3" stroke="#ebebeb" stroke-width=".9"/>
<line x1="486.3" y1="379.1" x2="486.3" y2="435.3" stroke="#ebebeb" stroke-width=".9"/>
<line x1="448.3" y1="430.5" x2="495" y2="430.5" stroke="#ebebeb" stroke-width=".9"/>
<line x1="448.3" y1="418.4" x2="495" y2="418.4" stroke="#ebebeb" stroke-width=".9"/>
<line x1="448.3" y1="406.3" x2="495" y2="406.3" stroke="#ebebeb" stroke-width=".9"/>
<line x1="448.3" y1="394.2" x2="495" y2="394.2" stroke="#ebebeb" stroke-width=".9"/>
<line x1="448.3" y1="382.1" x2="495" y2="382.1" stroke="#ebebeb" stroke-width=".9"/>
<g opacity="0.65">
<path d="M462 407h0M456 404h0M454.5 405h0M458.5 412.5h0M450.5 408.5h0M459.5 407.5h0M462 416.5h0M452.5 416.5h0M462 400h0M450.5 417h0M461.5 402.5h0M459 419.5h0M459 411h0M457 404h0M457 418h0M453.5 400h0M462.5 402.5h0M460 401.5h0M454 420h0M451.5 405.5h0M453 409.5h0M457.5 416h0M462 412h0M460 420.5h0M453.5 395h0M453 397.5h0M456.5 416.5h0M458 409h0M463 399.5h0M458 399.5h0M455.5 412h0M451 408h0M462 418.5h0M450.5 405h0M454.5 400.5h0M457.5 408.5h0M453.5 412.5h0M456 405.5h0M457.5 408.5h0M460.5 410.5h0M460 406.5h0M459.5 413h0M450 395.5h0M459 412.5h0M459.5 412.5h0M452 409h0M451 407h0M451.5 409.5h0M462 414h0M456 410.5h0M460.5 410.5h0M457 409h0M461 413.5h0M450 413.5h0M457 397.5h0M461.5 415h0M453.5 404h0M454 397.5h0M463 400h0M463 410h0M463 412h0M463 418.5h0M456.5 412h0M455.5 402.5h0M459.5 403h0M462.5 406.5h0M462 413h0M460 412h0M452.5 399h0M463 410h0M454 408.5h0M452.5 421h0M453 417.5h0M455 408.5h0M451.5 396h0M457.5 413h0M461.5 399.5h0M452.5 407.5h0M450.5 408h0M453.5 402h0" stroke="#12B4BA" stroke-width="1.6" stroke-linecap="round" fill="none"/>
</g>
<g opacity="0.65">
<path d="M473 414.5h0M477 410.5h0M472 410h0M474.5 408.5h0M470.5 408h0M477 407h0M470.5 416.5h0M472 406.5h0M468.5 409.5h0M467.5 392.5h0M473.5 401.5h0M474 416h0M475 411h0M470 420h0M477 418.5h0M467 420.5h0M469.5 417.5h0M474 404.5h0M467.5 403h0M468 411.5h0M472.5 415.5h0M465 408.5h0M476.5 409h0M477 405h0M465.5 394.5h0M473 413.5h0M466 402h0M468 398.5h0M472.5 392h0M465.5 409h0M474.5 412h0M475 394.5h0M473 417h0M472.5 409h0M475 406h0M471.5 395h0M476 398h0M470 411h0M476.5 412h0M471 403.5h0M473 395h0M472 414h0M468 404.5h0M476 409h0M472 416h0M477 402h0M476 394h0M465 401.5h0M473 396.5h0M478 418h0M467.5 403h0M472.5 415.5h0M474 398h0M465 398.5h0M466.5 402h0M466 394.5h0M469.5 422h0M469.5 397.5h0M466 406.5h0M468.5 397h0M472 410h0M466.5 400h0M471.5 417h0M467.5 413h0M474.5 405h0M468 406.5h0M472.5 417.5h0M475 414.5h0M469 400.5h0M470 408.5h0M467.5 420.5h0M474 409h0M472.5 414h0M468.5 396.5h0M465.5 416h0M476.5 413h0M471 419h0M476 409h0M473 402.5h0M465.5 401.5h0M476.5 420h0M472.5 416h0M470.5 417h0M473 414h0M476.5 420h0M466 400.5h0M476 416h0M475.5 405.5h0M465 402h0M471.5 401.5h0M465 410.5h0M474.5 420.5h0M467.5 415.5h0M477.5 408h0M468.5 399h0M478 403h0M466 404h0M475.5 419h0M465.5 399.5h0M469.5 403h0M468 402.5h0M475 419.5h0M473.5 410.5h0M475 410.5h0M473 397.5h0M470.5 420.5h0M466 408.5h0M470 403.5h0M477.5 408.5h0M476.5 403.5h0M472.5 410h0M469.5 409.5h0M473 407.5h0M468 398.5h0M466.5 399h0M466 400h0M467.5 419h0M469.5 416.5h0M466 405.5h0M476 412h0M475 401h0M477.5 419h0M471.5 398.5h0M471 410h0M470.5 417h0M471 400h0M477 400.5h0M469.5 420.5h0M476 395.5h0M475.5 404h0M475 396.5h0M472.5 408h0M475 402.5h0M473.5 395.5h0M466 406h0M476.5 402h0M475 393.5h0M477.5 414h0M470.5 406h0M466.5 411h0M469.5 409.5h0M467.5 422.5h0M476.5 413.5h0M470.5 402h0M471 398h0M474 407h0M475.5 396.5h0M468 405h0M467.5 411.5h0M474.5 401.5h0" stroke="#12B4BA" stroke-width="1.6" stroke-linecap="round" fill="none"/>
</g>
<g opacity="0.65">
<path d="M484.5 407.5h0M483 404.5h0M485 398h0M484 412.5h0M490 393h0M480 418h0M488.5 417.5h0M487.5 406h0M483.5 418h0M481.5 418h0M481.5 393h0M485 415h0M480.5 408h0M480.5 395h0M487 405h0M492 418h0M481 406h0M482.5 402.5h0M484 408.5h0M484 416h0M486 409h0M481.5 408.5h0M486.5 396h0M490 395.5h0M483 398.5h0M492 413.5h0M486 394h0M481 400h0M484.5 406h0M483.5 401h0M486.5 392h0M480 416.5h0M490 398.5h0M480 399h0M482.5 409h0M484 420h0M485 400.5h0M484.5 422.5h0M484 408h0M482 414h0M489 420.5h0M489.5 421h0M491.5 416h0M492.5 393.5h0M485 407h0M489 411.5h0M488.5 415h0M480 394.5h0M484 397h0M491 408h0M482 407.5h0M482.5 395h0M492 400h0M481.5 413.5h0M482.5 401h0M482 394.5h0M482.5 397.5h0M484 392h0M485 393.5h0M480.5 391h0M486 414.5h0M482 391.5h0M489.5 419.5h0M484.5 403.5h0M489 411.5h0M487.5 404h0M483 398h0M485 420.5h0M481 403.5h0M483.5 412h0M493 399.5h0M485.5 409.5h0M482 408h0M492.5 409h0M482 395.5h0M491.5 401.5h0M488.5 404h0M491 403.5h0M486.5 396h0M485.5 397h0M492 403.5h0M490.5 421h0M482.5 414h0M482 397h0M481.5 396.5h0M481.5 389.5h0M489 394h0M487 410.5h0M482 396h0M491.5 406.5h0M488 398.5h0M485.5 412h0M482.5 398h0M486 410.5h0M487.5 401.5h0M481.5 414h0M487 410h0M492 415.5h0M482.5 408.5h0M483.5 400h0M481 398h0M490 408h0M488.5 420.5h0M481.5 421h0M492 389h0M480 419.5h0M484.5 400h0M492 403.5h0M489 390.5h0M483 398.5h0M485 409h0M486.5 405h0M492 391h0M482.5 408.5h0M488.5 401.5h0M488 401.5h0M490 397h0M484.5 417h0M487 413.5h0M482 414.5h0M482.5 406h0M488.5 396.5h0M482.5 417h0M489.5 403.5h0M485 397h0M480.5 392.5h0M482 412h0M480.5 398.5h0M489.5 411.5h0M492 410.5h0M486 405.5h0M486 403.5h0M489.5 397h0M482.5 408.5h0M482 404h0M492 400.5h0M481 392h0M491 419.5h0M481 399.5h0M488.5 410.5h0M488 407h0M491.5 413.5h0M491.5 393h0M489.5 412.5h0M488 417h0M487.5 393.5h0M480 400.5h0M484.5 403h0M482 409.5h0M489 407h0" stroke="#12B4BA" stroke-width="1.6" stroke-linecap="round" fill="none"/>
</g>
<path d="M457 394.2 L457.6 395.2 L458 396.3 L458.5 397.3 L459.2 398.4 L460 399.4 L460.8 400.5 L461.4 401.6 L461.8 402.6 L462.2 403.6 L462.6 404.7 L463 405.8 L463.3 406.8 L463.4 407.9 L463.3 408.9 L463.3 409.9 L463.2 411 L463.1 412.1 L462.9 413.1 L462.5 414.1 L462 415.2 L461.5 416.2 L461 417.3 L460.2 418.4 L459.1 419.4 L457.9 420.4 L457 421.5 L456.4 421.5 L455.5 420.4 L454.3 419.4 L453.2 418.4 L452.4 417.3 L451.9 416.2 L451.4 415.2 L450.9 414.1 L450.5 413.1 L450.3 412.1 L450.2 411 L450.1 409.9 L450.1 408.9 L450 407.9 L450.1 406.8 L450.4 405.8 L450.8 404.7 L451.2 403.6 L451.6 402.6 L452 401.6 L452.6 400.5 L453.4 399.4 L454.2 398.4 L454.9 397.3 L455.4 396.3 L455.8 395.2 L456.4 394.2Z" fill="#f3fbfc" stroke="#1a1a1a" stroke-width=".8" fill-opacity="0.8" stroke-linejoin="round"/>
<path d="M471.8 391.6 L472.9 392.8 L473.7 394.1 L474.5 395.3 L475.1 396.6 L475.7 397.8 L476.2 399.1 L476.7 400.3 L477.2 401.6 L477.5 402.8 L477.6 404.1 L477.7 405.3 L477.9 406.6 L477.9 407.8 L477.7 409 L477.4 410.3 L477.1 411.5 L476.7 412.8 L476.3 414 L475.9 415.3 L475.3 416.5 L474.8 417.8 L474.3 419 L473.7 420.3 L473 421.5 L472.2 422.8 L471.6 424 L471.2 424 L470.6 422.8 L469.8 421.5 L469.1 420.3 L468.5 419 L468 417.8 L467.5 416.5 L466.9 415.3 L466.5 414 L466.1 412.8 L465.7 411.5 L465.4 410.3 L465.1 409 L464.9 407.8 L464.9 406.6 L465.1 405.3 L465.2 404.1 L465.3 402.8 L465.6 401.6 L466.1 400.3 L466.6 399.1 L467.1 397.8 L467.7 396.6 L468.3 395.3 L469.1 394.1 L469.9 392.8 L471 391.6Z" fill="#b1e6e8" stroke="#1a1a1a" stroke-width=".8" fill-opacity="0.8" stroke-linejoin="round"/>
<path d="M486.7 388.4 L487.7 389.8 L488.6 391.1 L489.4 392.5 L490.1 393.8 L490.6 395.2 L491.1 396.5 L491.6 397.9 L492 399.3 L492.3 400.6 L492.3 402 L492.4 403.3 L492.4 404.7 L492.2 406 L491.8 407.4 L491.5 408.8 L491.2 410.1 L490.9 411.5 L490.4 412.8 L489.9 414.2 L489.3 415.6 L488.8 416.9 L488.2 418.3 L487.7 419.6 L487.3 421 L486.8 422.3 L486.4 423.7 L486.2 423.7 L485.8 422.3 L485.3 421 L484.9 419.6 L484.4 418.3 L483.8 416.9 L483.3 415.6 L482.7 414.2 L482.2 412.8 L481.7 411.5 L481.4 410.1 L481.1 408.8 L480.8 407.4 L480.4 406 L480.2 404.7 L480.2 403.3 L480.3 402 L480.3 400.6 L480.6 399.3 L481 397.9 L481.5 396.5 L482 395.2 L482.5 393.8 L483.2 392.5 L484 391.1 L484.9 389.8 L485.9 388.4Z" fill="#9be0e2" stroke="#1a1a1a" stroke-width=".8" fill-opacity="0.8" stroke-linejoin="round"/>
<rect x="448.3" y="379.1" width="46.7" height="56.2" fill="none" stroke="#4d4d4d" stroke-width=".9"/>
<line x1="456.7" y1="435.3" x2="456.7" y2="437.3" stroke="#4d4d4d" stroke-width=".8"/>
<text x="459.9" y="442.5" font-size="7.7" text-anchor="end" font-weight="bold" fill="#383838" transform="rotate(-45 459.9 442.5) matrix(1 0 0 1.1 0 -44.3)">Low</text>
<line x1="471.4" y1="435.3" x2="471.4" y2="437.3" stroke="#4d4d4d" stroke-width=".8"/>
<text x="474.6" y="442.5" font-size="7.7" text-anchor="end" font-weight="bold" fill="#383838" transform="rotate(-45 474.6 442.5) matrix(1 0 0 1.1 0 -44.3)">Moderate</text>
<line x1="486.3" y1="435.3" x2="486.3" y2="437.3" stroke="#4d4d4d" stroke-width=".8"/>
<text x="489.5" y="442.5" font-size="7.7" text-anchor="end" font-weight="bold" fill="#383838" transform="rotate(-45 489.5 442.5) matrix(1 0 0 1.1 0 -44.3)">High</text>
<rect x="499.8" y="305.4" width="46.7" height="13" fill="#d9d9d9" stroke="#4d4d4d" stroke-width=".8"/>
<text x="523.1" y="314" font-size="6.8" text-anchor="middle" fill="#1a1a1a" transform="matrix(1 0 0 1.1 0 -31.4)">LumB</text>
<line x1="499.8" y1="363.5" x2="546.5" y2="363.5" stroke="#ebebeb" stroke-width=".5"/>
<line x1="499.8" y1="351.4" x2="546.5" y2="351.4" stroke="#ebebeb" stroke-width=".5"/>
<line x1="499.8" y1="339.3" x2="546.5" y2="339.3" stroke="#ebebeb" stroke-width=".5"/>
<line x1="499.8" y1="327.2" x2="546.5" y2="327.2" stroke="#ebebeb" stroke-width=".5"/>
<line x1="508.2" y1="318.4" x2="508.2" y2="374.3" stroke="#ebebeb" stroke-width=".9"/>
<line x1="522.9" y1="318.4" x2="522.9" y2="374.3" stroke="#ebebeb" stroke-width=".9"/>
<line x1="537.8" y1="318.4" x2="537.8" y2="374.3" stroke="#ebebeb" stroke-width=".9"/>
<line x1="499.8" y1="369.6" x2="546.5" y2="369.6" stroke="#ebebeb" stroke-width=".9"/>
<line x1="499.8" y1="357.5" x2="546.5" y2="357.5" stroke="#ebebeb" stroke-width=".9"/>
<line x1="499.8" y1="345.4" x2="546.5" y2="345.4" stroke="#ebebeb" stroke-width=".9"/>
<line x1="499.8" y1="333.3" x2="546.5" y2="333.3" stroke="#ebebeb" stroke-width=".9"/>
<line x1="499.8" y1="321.2" x2="546.5" y2="321.2" stroke="#ebebeb" stroke-width=".9"/>
<g opacity="0.65">
<path d="M513.5 334.5h0M503.5 344h0M507.5 341h0M514 342h0M512 337h0M508 341h0M506 334.5h0M513.5 332h0M514 338h0M506.5 333h0M508.5 344h0M512 337.5h0M510 334h0M509.5 347.5h0M506.5 334.5h0M508.5 339h0M502.5 334.5h0M508 346h0M511.5 341h0M508 333.5h0M506.5 335.5h0M507.5 335h0M504.5 334.5h0M511 343.5h0M506 344h0M511.5 347h0M508 347h0M505 334h0M506.5 340.5h0M513 332.5h0M504 339.5h0M503 340.5h0M512 338.5h0M508 340.5h0M505.5 338.5h0" stroke="#16AE5B" stroke-width="1.6" stroke-linecap="round" fill="none"/>
</g>
<g opacity="0.65">
<path d="M524 338h0M524 343h0M518 334h0M521.5 346.5h0M525.5 349.5h0M528.5 332h0M528.5 336.5h0M518.5 341.5h0M518 337h0M519.5 340h0M523 338h0M527.5 341h0M523 339.5h0M527 335.5h0M527.5 334h0M528.5 340.5h0M518 352h0M528.5 344.5h0M517 339h0M518 343h0M527 348h0M524.5 341.5h0M519.5 341h0M524.5 334.5h0M517.5 337.5h0M521 333.5h0M525.5 340h0M523 341h0M523 337h0M519 334h0M528 343.5h0M521.5 336h0M523 339h0M528.5 341h0M527.5 336.5h0M520.5 336.5h0M524.5 340.5h0M528.5 345h0M519.5 341h0M526 338h0M522 341h0M528 344.5h0M522.5 335h0M521 334.5h0M520 339.5h0M519 340h0M518 338h0M516.5 343.5h0M517.5 337h0M524.5 352.5h0M522 345.5h0M526 342h0M523 333.5h0M521.5 341h0M527 353.5h0M522 333.5h0M523 353h0M520.5 350.5h0M529 344.5h0M521.5 335h0M525.5 351h0M518.5 345h0M518 352h0M528.5 342.5h0M523 340.5h0M524 333h0M526.5 339.5h0M519.5 347.5h0M519.5 345h0M525 342.5h0M525.5 341.5h0M516.5 350.5h0M516.5 340.5h0M526 336h0M525.5 349h0M521.5 351.5h0M524 345h0M521 332h0M520.5 337.5h0M519 334h0M520 346.5h0M523.5 334h0M518.5 332.5h0M529 335.5h0M518.5 346.5h0M517.5 341.5h0M519.5 340h0M521 334.5h0M526.5 348.5h0M520.5 337h0M519 334h0M524 332h0M520 336h0M526 340.5h0M526 334h0M523 340h0M527 335.5h0M521 336.5h0M521 344h0M527.5 344h0M522 338h0M523 332h0M525.5 339h0M527 349h0M527.5 352.5h0M527 337.5h0M519 351.5h0M521.5 344.5h0M526.5 335h0M529 345h0" stroke="#16AE5B" stroke-width="1.6" stroke-linecap="round" fill="none"/>
</g>
<g opacity="0.65">
<path d="M543 335.5h0M539 350.5h0M535.5 351.5h0M535 342.5h0M533 342.5h0M542 338.5h0M540.5 342h0M534.5 335h0M542 332.5h0M533 348.5h0M539.5 343h0M542.5 338.5h0M543.5 347.5h0M533.5 348h0M542.5 333.5h0M532.5 352h0M542.5 352h0M538 349h0M533 334h0M544 341h0M534 345.5h0M536 344.5h0M534 342h0M534 332h0M537.5 332h0M540.5 341h0M537.5 332h0M543.5 339h0M537.5 343.5h0M543.5 338.5h0M537 338h0M541.5 349h0M543 337h0M532 342h0M543 344.5h0M541 332.5h0M544 345.5h0M540 333.5h0M539 338.5h0M543 337h0M537 349.5h0M535 332.5h0M541 343.5h0M537.5 350h0M543 341h0M539.5 339h0M540 343h0M541 345.5h0M537.5 345h0M539 332h0M536.5 334.5h0M537 334.5h0M542 333.5h0M531.5 348h0M540 338.5h0M540.5 333h0M536.5 340h0M543 339h0M542.5 344.5h0M531.5 333.5h0M539.5 334h0M536.5 343.5h0M543 339h0M537.5 333h0M537 340h0M535 334h0M534 351.5h0M542 335.5h0M538.5 346h0M532.5 341h0M544 343h0M532.5 333h0M532 336h0M541.5 346h0M535.5 339h0M541.5 335h0M538 337h0M541 343h0M540.5 339h0M537 337h0M537.5 343.5h0M540.5 348.5h0M542.5 343h0M543.5 333.5h0M535 337h0M536 334.5h0M543.5 341.5h0M537.5 344h0M537 353.5h0M534 337.5h0M538 332h0M534 341h0M534.5 336h0M544 349h0M539.5 336h0M535.5 334h0M538.5 345h0M537 333.5h0M536 347.5h0M541.5 336h0M541.5 336h0M543 349h0M533 331.5h0M539 347h0M541 332.5h0M537 341.5h0M537.5 352h0M537 349.5h0M533.5 343h0M533.5 340.5h0" stroke="#16AE5B" stroke-width="1.6" stroke-linecap="round" fill="none"/>
</g>
<path d="M509.6 332.1 L511.5 332.9 L513 333.6 L513.9 334.4 L514.5 335.1 L514.8 335.9 L515 336.6 L515.1 337.4 L515 338.2 L514.8 338.9 L514.6 339.7 L514.3 340.4 L514 341.2 L513.7 342 L513.2 342.7 L512.8 343.5 L512.3 344.2 L511.8 345 L511.3 345.7 L510.8 346.5 L510.3 347.3 L509.8 348 L509.5 348.8 L509.3 349.5 L509.3 350.3 L509.2 351 L509.2 351.8 L507.2 351.8 L507.2 351 L507.1 350.3 L507.1 349.5 L506.9 348.8 L506.6 348 L506.1 347.3 L505.6 346.5 L505.1 345.7 L504.6 345 L504.1 344.2 L503.6 343.5 L503.2 342.7 L502.7 342 L502.4 341.2 L502.1 340.4 L501.8 339.7 L501.6 338.9 L501.4 338.2 L501.3 337.4 L501.4 336.6 L501.6 335.9 L501.9 335.1 L502.5 334.4 L503.4 333.6 L504.9 332.9 L506.8 332.1Z" fill="#f3fbf7" stroke="#1a1a1a" stroke-width=".8" fill-opacity="0.8" stroke-linejoin="round"/>
<path d="M523.7 331 L525.3 331.9 L526.8 332.9 L527.9 333.8 L528.6 334.8 L528.9 335.7 L529.3 336.6 L529.5 337.6 L529.5 338.5 L529.3 339.4 L529.1 340.4 L528.8 341.3 L528.6 342.3 L528.2 343.2 L527.7 344.1 L527.1 345.1 L526.5 346 L525.9 347 L525.4 347.9 L524.8 348.8 L524.3 349.8 L524 350.7 L523.7 351.6 L523.5 352.6 L523.3 353.5 L523.1 354.5 L523 355.4 L522.8 355.4 L522.7 354.5 L522.5 353.5 L522.3 352.6 L522.1 351.6 L521.8 350.7 L521.5 349.8 L521 348.8 L520.4 347.9 L519.9 347 L519.3 346 L518.7 345.1 L518.1 344.1 L517.6 343.2 L517.2 342.3 L517 341.3 L516.7 340.4 L516.5 339.4 L516.3 338.5 L516.3 337.6 L516.5 336.6 L516.9 335.7 L517.2 334.8 L517.9 333.8 L519 332.9 L520.5 331.9 L522.1 331Z" fill="#b2e4c9" stroke="#1a1a1a" stroke-width=".8" fill-opacity="0.8" stroke-linejoin="round"/>
<path d="M538.6 331 L539.9 331.9 L541.1 332.8 L542 333.7 L542.8 334.6 L543.3 335.6 L543.5 336.5 L543.7 337.4 L543.9 338.3 L544 339.2 L544 340.1 L543.9 341 L543.6 341.9 L543.4 342.9 L543.1 343.8 L542.8 344.7 L542.4 345.6 L541.9 346.5 L541.3 347.4 L540.7 348.3 L540.1 349.2 L539.6 350.1 L539.1 351.1 L538.7 352 L538.4 352.9 L538.1 353.8 L537.9 354.7 L537.7 354.7 L537.5 353.8 L537.2 352.9 L536.9 352 L536.5 351.1 L536 350.1 L535.5 349.2 L534.9 348.3 L534.3 347.4 L533.7 346.5 L533.2 345.6 L532.8 344.7 L532.5 343.8 L532.2 342.9 L532 341.9 L531.7 341 L531.6 340.1 L531.6 339.2 L531.7 338.3 L531.9 337.4 L532.1 336.5 L532.3 335.6 L532.8 334.6 L533.6 333.7 L534.5 332.8 L535.7 331.9 L537 331Z" fill="#9dddba" stroke="#1a1a1a" stroke-width=".8" fill-opacity="0.8" stroke-linejoin="round"/>
<rect x="499.8" y="318.4" width="46.7" height="55.9" fill="none" stroke="#4d4d4d" stroke-width=".9"/>
<line x1="499.8" y1="424.4" x2="546.5" y2="424.4" stroke="#ebebeb" stroke-width=".5"/>
<line x1="499.8" y1="412.4" x2="546.5" y2="412.4" stroke="#ebebeb" stroke-width=".5"/>
<line x1="499.8" y1="400.2" x2="546.5" y2="400.2" stroke="#ebebeb" stroke-width=".5"/>
<line x1="499.8" y1="388.2" x2="546.5" y2="388.2" stroke="#ebebeb" stroke-width=".5"/>
<line x1="508.2" y1="379.1" x2="508.2" y2="435.3" stroke="#ebebeb" stroke-width=".9"/>
<line x1="522.9" y1="379.1" x2="522.9" y2="435.3" stroke="#ebebeb" stroke-width=".9"/>
<line x1="537.8" y1="379.1" x2="537.8" y2="435.3" stroke="#ebebeb" stroke-width=".9"/>
<line x1="499.8" y1="430.5" x2="546.5" y2="430.5" stroke="#ebebeb" stroke-width=".9"/>
<line x1="499.8" y1="418.4" x2="546.5" y2="418.4" stroke="#ebebeb" stroke-width=".9"/>
<line x1="499.8" y1="406.3" x2="546.5" y2="406.3" stroke="#ebebeb" stroke-width=".9"/>
<line x1="499.8" y1="394.2" x2="546.5" y2="394.2" stroke="#ebebeb" stroke-width=".9"/>
<line x1="499.8" y1="382.1" x2="546.5" y2="382.1" stroke="#ebebeb" stroke-width=".9"/>
<g opacity="0.65">
<path d="M510 398.5h0M507.5 406h0M513.5 404.5h0M506 408h0M511.5 408h0M508 405.5h0M502.5 398h0M509.5 403.5h0M514.5 400h0M506.5 405.5h0M511.5 402h0M503.5 408h0M513.5 401.5h0M510.5 398h0M509.5 402h0M507.5 396.5h0M507 401h0M513 407h0M512 398h0M507.5 401h0M511 393.5h0M504.5 396.5h0M511 403h0M514.5 396h0M514.5 394.5h0M508.5 405.5h0M512.5 400h0M508 395h0M510 395.5h0M514.5 397.5h0M502.5 405.5h0M504 398.5h0M503 403.5h0M507 395h0M504 401h0" stroke="#16AE5B" stroke-width="1.6" stroke-linecap="round" fill="none"/>
</g>
<g opacity="0.65">
<path d="M519.5 393.5h0M523 398.5h0M517.5 390h0M520.5 401h0M519.5 411.5h0M522.5 404.5h0M524.5 394h0M520 400h0M529.5 411h0M523.5 403.5h0M521.5 407.5h0M520 405h0M519.5 393.5h0M529 399h0M528 403.5h0M526 400h0M522 394.5h0M522 389h0M521 389h0M525.5 413h0M516.5 393.5h0M522.5 410h0M519.5 390h0M519 390h0M527.5 390h0M527.5 399h0M517 392.5h0M527.5 403h0M519 402h0M528.5 389h0M529 395.5h0M521 399h0M528.5 395h0M524.5 400.5h0M517 411.5h0M527.5 406.5h0M520 400.5h0M516.5 402.5h0M525 402h0M517 400h0M516.5 393.5h0M519 400h0M521 397h0M525.5 395.5h0M525 404h0M519.5 390.5h0M525 391h0M523.5 407h0M522 404.5h0M524 397.5h0M523 392h0M529 407.5h0M521 401h0M517.5 396h0M521 398.5h0M524.5 395.5h0M527 411h0M524.5 412h0M528.5 405h0M528.5 398.5h0M528 397.5h0M521.5 396.5h0M522 408.5h0M526.5 408h0M525 402.5h0M518 404h0M520 393.5h0M517 392h0M517.5 391h0M518.5 396h0M525.5 403h0M520 394h0M517.5 399h0M516.5 413.5h0M517.5 404h0M521.5 394h0M526.5 397h0M525.5 398h0M529.5 397h0M523.5 400.5h0M528 396h0M522 405h0M522.5 410.5h0M517.5 392h0M526.5 402.5h0M517.5 410h0M529 400.5h0M519.5 397h0M526 402h0M517.5 398h0M518 412.5h0M521 401h0M529 394h0M526 401h0M519.5 408h0M520 401h0M519.5 411h0M518 398h0M524 396h0M526 402h0M528 398.5h0M520.5 401h0M522.5 394.5h0M516.5 397h0M518 394h0M528.5 401.5h0M524.5 403h0M524.5 392h0M526 395h0M523.5 397.5h0" stroke="#16AE5B" stroke-width="1.6" stroke-linecap="round" fill="none"/>
</g>
<g opacity="0.65">
<path d="M531.5 405.5h0M536 405h0M537 411.5h0M536.5 402h0M544 392.5h0M543.5 395.5h0M533 406.5h0M539.5 396.5h0M535 392.5h0M532 393.5h0M544 410.5h0M537.5 390.5h0M542 393.5h0M535.5 400h0M542.5 398.5h0M538 406.5h0M538.5 398h0M532.5 398h0M533.5 399h0M534 406.5h0M539.5 396h0M542 397h0M544 397.5h0M535.5 395.5h0M538.5 402.5h0M542.5 398.5h0M537.5 401.5h0M534.5 394h0M535 398.5h0M539 397.5h0M534.5 410h0M536.5 393.5h0M533.5 394h0M534.5 400.5h0M532.5 401.5h0M533 396.5h0M533.5 400h0M538.5 396h0M535.5 397.5h0M543 400.5h0M541 394h0M537 391.5h0M533 390.5h0M536.5 399.5h0M531.5 395h0M537 411.5h0M534.5 398h0M542 393.5h0M533 395.5h0M539.5 401.5h0M536 407.5h0M540.5 402.5h0M540 395h0M541.5 408.5h0M532.5 409.5h0M532 411h0M535 398h0M542.5 394h0M543.5 390h0M538.5 409h0M542.5 394h0M535.5 390h0M543 398.5h0M532.5 390.5h0M544 392h0M539 403.5h0M532.5 400.5h0M536.5 390h0M538.5 404h0M532.5 394h0M536.5 392h0M532.5 410h0M533.5 391.5h0M541.5 393.5h0M536 408.5h0M536 395.5h0M534 406.5h0M543 402.5h0M532.5 409.5h0M536 398.5h0M532 400h0M534 391h0M533 399.5h0M535 403.5h0M534 406.5h0M532 393h0M536.5 397h0M537 401.5h0M542 413h0M537.5 395.5h0M544 394.5h0M542 410.5h0M542 406h0M543 409.5h0M543 398h0M538 408.5h0M532.5 393h0M537 398h0M535.5 390h0M534 402.5h0M531.5 391h0M533.5 399.5h0M534 400h0M544 400.5h0M532 399.5h0M539 406.5h0M543.5 393.5h0M537 407.5h0M541.5 394.5h0M534.5 403h0" stroke="#16AE5B" stroke-width="1.6" stroke-linecap="round" fill="none"/>
</g>
<path d="M509.3 392.8 L510.6 393.4 L511.5 394 L512.2 394.6 L512.6 395.2 L513 395.8 L513.2 396.4 L513.4 397 L513.6 397.6 L513.7 398.2 L513.9 398.8 L514 399.4 L514.2 400 L514.3 400.6 L514.4 401.2 L514.4 401.8 L514.5 402.4 L514.5 403 L514.5 403.6 L514.5 404.2 L514.5 404.8 L514.3 405.4 L514 406 L513.6 406.6 L512.8 407.2 L511.6 407.8 L509.9 408.4 L506.5 408.4 L504.8 407.8 L503.6 407.2 L502.8 406.6 L502.4 406 L502.1 405.4 L501.9 404.8 L501.9 404.2 L501.9 403.6 L501.9 403 L501.9 402.4 L502 401.8 L502 401.2 L502.1 400.6 L502.2 400 L502.4 399.4 L502.5 398.8 L502.7 398.2 L502.8 397.6 L503 397 L503.2 396.4 L503.4 395.8 L503.8 395.2 L504.2 394.6 L504.9 394 L505.8 393.4 L507.1 392.8Z" fill="#f3fbf7" stroke="#1a1a1a" stroke-width=".8" fill-opacity="0.8" stroke-linejoin="round"/>
<path d="M523.3 388.4 L524.2 389.4 L525 390.3 L525.7 391.3 L526.4 392.3 L527 393.2 L527.5 394.2 L527.9 395.2 L528.4 396.1 L528.8 397.1 L529.3 398.1 L529.5 399 L529.3 400 L529 400.9 L528.7 401.9 L528.3 402.9 L527.9 403.8 L527.2 404.8 L526.4 405.8 L525.6 406.7 L525 407.7 L524.5 408.7 L524.3 409.6 L524.3 410.6 L524.2 411.6 L524.2 412.5 L524.1 413.5 L521.7 413.5 L521.6 412.5 L521.6 411.6 L521.5 410.6 L521.5 409.6 L521.3 408.7 L520.8 407.7 L520.2 406.7 L519.4 405.8 L518.6 404.8 L517.9 403.8 L517.5 402.9 L517.1 401.9 L516.8 400.9 L516.5 400 L516.3 399 L516.5 398.1 L517 397.1 L517.4 396.1 L517.9 395.2 L518.3 394.2 L518.8 393.2 L519.4 392.3 L520.1 391.3 L520.8 390.3 L521.6 389.4 L522.5 388.4Z" fill="#b2e4c9" stroke="#1a1a1a" stroke-width=".8" fill-opacity="0.8" stroke-linejoin="round"/>
<path d="M538.7 389.4 L540.1 390.3 L541.2 391.3 L541.9 392.2 L542.6 393.1 L543.2 394 L543.6 395 L543.8 395.9 L544.1 396.8 L544.2 397.7 L544.2 398.7 L544 399.6 L543.8 400.5 L543.6 401.4 L543.4 402.4 L543.1 403.3 L542.7 404.2 L542.2 405.2 L541.8 406.1 L541.3 407 L540.8 407.9 L540.4 408.9 L539.9 409.8 L539.4 410.7 L538.9 411.6 L538.4 412.6 L538 413.5 L537.6 413.5 L537.2 412.6 L536.7 411.6 L536.2 410.7 L535.7 409.8 L535.2 408.9 L534.8 407.9 L534.3 407 L533.8 406.1 L533.4 405.2 L532.9 404.2 L532.5 403.3 L532.2 402.4 L532 401.4 L531.8 400.5 L531.6 399.6 L531.4 398.7 L531.4 397.7 L531.5 396.8 L531.8 395.9 L532 395 L532.4 394 L533 393.1 L533.7 392.2 L534.4 391.3 L535.5 390.3 L536.9 389.4Z" fill="#9dddba" stroke="#1a1a1a" stroke-width=".8" fill-opacity="0.8" stroke-linejoin="round"/>
<rect x="499.8" y="379.1" width="46.7" height="56.2" fill="none" stroke="#4d4d4d" stroke-width=".9"/>
<line x1="508.2" y1="435.3" x2="508.2" y2="437.3" stroke="#4d4d4d" stroke-width=".8"/>
<text x="511.4" y="442.5" font-size="7.7" text-anchor="end" font-weight="bold" fill="#383838" transform="rotate(-45 511.4 442.5) matrix(1 0 0 1.1 0 -44.3)">Low</text>
<line x1="522.9" y1="435.3" x2="522.9" y2="437.3" stroke="#4d4d4d" stroke-width=".8"/>
<text x="526.1" y="442.5" font-size="7.7" text-anchor="end" font-weight="bold" fill="#383838" transform="rotate(-45 526.1 442.5) matrix(1 0 0 1.1 0 -44.3)">Moderate</text>
<line x1="537.8" y1="435.3" x2="537.8" y2="437.3" stroke="#4d4d4d" stroke-width=".8"/>
<text x="541" y="442.5" font-size="7.7" text-anchor="end" font-weight="bold" fill="#383838" transform="rotate(-45 541 442.5) matrix(1 0 0 1.1 0 -44.3)">High</text>
<rect x="550.5" y="305.4" width="46.7" height="13" fill="#d9d9d9" stroke="#4d4d4d" stroke-width=".8"/>
<text x="573.9" y="314" font-size="6.8" text-anchor="middle" fill="#1a1a1a" transform="matrix(1 0 0 1.1 0 -31.4)">Normal−like</text>
<line x1="550.5" y1="363.5" x2="597.2" y2="363.5" stroke="#ebebeb" stroke-width=".5"/>
<line x1="550.5" y1="351.4" x2="597.2" y2="351.4" stroke="#ebebeb" stroke-width=".5"/>
<line x1="550.5" y1="339.3" x2="597.2" y2="339.3" stroke="#ebebeb" stroke-width=".5"/>
<line x1="550.5" y1="327.2" x2="597.2" y2="327.2" stroke="#ebebeb" stroke-width=".5"/>
<line x1="558.9" y1="318.4" x2="558.9" y2="374.3" stroke="#ebebeb" stroke-width=".9"/>
<line x1="573.6" y1="318.4" x2="573.6" y2="374.3" stroke="#ebebeb" stroke-width=".9"/>
<line x1="588.5" y1="318.4" x2="588.5" y2="374.3" stroke="#ebebeb" stroke-width=".9"/>
<line x1="550.5" y1="369.6" x2="597.2" y2="369.6" stroke="#ebebeb" stroke-width=".9"/>
<line x1="550.5" y1="357.5" x2="597.2" y2="357.5" stroke="#ebebeb" stroke-width=".9"/>
<line x1="550.5" y1="345.4" x2="597.2" y2="345.4" stroke="#ebebeb" stroke-width=".9"/>
<line x1="550.5" y1="333.3" x2="597.2" y2="333.3" stroke="#ebebeb" stroke-width=".9"/>
<line x1="550.5" y1="321.2" x2="597.2" y2="321.2" stroke="#ebebeb" stroke-width=".9"/>
<g opacity="0.65">
<path d="M556.5 350h0M556 340.5h0M565 343h0M561 340h0M555 341.5h0M564.5 349.5h0M556 335.5h0M554 334h0M556.5 333h0M559 344h0M563.5 350h0M555.5 337.5h0M565 340h0M556 347.5h0M565 347h0M564 351h0M556.5 334.5h0M555 337.5h0M559 342h0M553.5 352h0M565 336h0M565.5 349h0M554.5 333.5h0M557.5 339.5h0M562.5 344.5h0M554.5 344h0M565.5 341h0M559.5 345.5h0M558 345.5h0M552.5 338.5h0M558.5 335h0M565 344h0M565 338.5h0M552.5 338.5h0M553 335h0M563.5 339.5h0M563 340h0M554.5 334.5h0M555.5 351.5h0M560 340h0M563.5 341h0M564.5 343h0M559.5 340h0M562.5 334.5h0M554.5 352.5h0M560 336h0M560 344h0M558 338.5h0M564.5 349.5h0M558 348.5h0" stroke="#6A8FD0" stroke-width="1.6" stroke-linecap="round" fill="none"/>
</g>
<g opacity="0.65">
<path d="M573 351h0M578.5 342h0M576 344.5h0M572 340h0M567.5 335h0M575 335.5h0M568.5 346h0M571.5 341h0M573.5 339h0M571.5 334.5h0M572 341.5h0M575 338.5h0M573 362h0M577.5 343.5h0M574.5 360h0M573.5 341.5h0M569 338.5h0M571.5 347h0M579.5 356.5h0M579 342h0M579 347h0M575.5 362.5h0M576.5 345h0M568 346h0M567.5 345h0M570.5 354h0M576 341h0M568 348.5h0M569 344h0M575.5 344.5h0M572 336.5h0M579 351.5h0M569 338h0M575 346.5h0M576 360h0M570.5 350h0M573.5 336h0M578 341.5h0M572 339.5h0M577 341h0M572.5 344h0M567.5 336h0M578.5 350h0M570.5 336h0M568 333.5h0M579 336h0M573.5 342.5h0M570 338h0M570 343.5h0M572 338.5h0M571.5 351.5h0M568.5 340.5h0M576 349.5h0M574 344.5h0M572.5 333h0M569.5 336h0M578.5 341.5h0M576.5 335h0M572 350.5h0M577 342.5h0" stroke="#6A8FD0" stroke-width="1.6" stroke-linecap="round" fill="none"/>
</g>
<g opacity="0.65">
<path d="M593 343h0M593.5 340.5h0M587 349.5h0M592 345.5h0M592.5 346.5h0M588.5 343h0M586.5 337.5h0M593.5 342h0M592 350h0M594 342.5h0M594 338.5h0M582.5 347.5h0M584 356.5h0M582.5 342.5h0M590 345h0M587.5 350h0M588.5 341.5h0M593.5 347.5h0M587 346.5h0M585.5 338.5h0M586 354h0M589 357h0M594 348.5h0M590 338h0M584.5 357h0M589 337h0M591 342h0M582 357h0M586.5 338.5h0M587 346.5h0M591 338.5h0M587.5 350.5h0M586.5 353h0M585 343h0M587.5 340h0M582.5 348h0M594 345.5h0M592.5 346h0M588 336.5h0M582.5 343.5h0M582.5 348.5h0M583.5 341.5h0M584.5 342h0M590 354h0M584 346.5h0" stroke="#6A8FD0" stroke-width="1.6" stroke-linecap="round" fill="none"/>
</g>
<path d="M559.7 332.8 L560.9 333.6 L562 334.3 L562.7 335.1 L563.4 335.8 L564 336.6 L564.4 337.3 L564.7 338.1 L564.9 338.9 L565.1 339.6 L565.3 340.4 L565.5 341.1 L565.5 341.9 L565.5 342.6 L565.2 343.4 L565 344.2 L564.8 344.9 L564.4 345.7 L564 346.4 L563.5 347.2 L562.9 348 L562.4 348.7 L561.8 349.5 L561.1 350.2 L560.4 351 L559.7 351.7 L559.2 352.5 L558.6 352.5 L558.1 351.7 L557.4 351 L556.7 350.2 L556 349.5 L555.4 348.7 L554.9 348 L554.3 347.2 L553.8 346.4 L553.4 345.7 L553 344.9 L552.8 344.2 L552.6 343.4 L552.3 342.6 L552.3 341.9 L552.3 341.1 L552.5 340.4 L552.7 339.6 L552.9 338.9 L553.1 338.1 L553.4 337.3 L553.8 336.6 L554.4 335.8 L555.1 335.1 L555.8 334.3 L556.9 333.6 L558.1 332.8Z" fill="#f8f9fd" stroke="#1a1a1a" stroke-width=".8" fill-opacity="0.8" stroke-linejoin="round"/>
<path d="M574 332.4 L575 333.6 L575.9 334.8 L576.8 335.9 L577.6 337.1 L578.2 338.3 L578.7 339.5 L579.2 340.6 L579.6 341.8 L579.5 343 L579.1 344.2 L578.7 345.3 L578.2 346.5 L577.7 347.7 L577.2 348.9 L576.6 350.1 L576 351.2 L575.4 352.4 L574.9 353.6 L574.4 354.8 L574.1 355.9 L574 357.1 L574 358.3 L573.9 359.5 L573.8 360.6 L573.7 361.8 L573.6 363 L573.6 363 L573.5 361.8 L573.4 360.6 L573.3 359.5 L573.2 358.3 L573.2 357.1 L573.1 355.9 L572.8 354.8 L572.3 353.6 L571.8 352.4 L571.2 351.2 L570.6 350.1 L570 348.9 L569.5 347.7 L569 346.5 L568.5 345.3 L568.1 344.2 L567.7 343 L567.6 341.8 L568 340.6 L568.5 339.5 L569 338.3 L569.6 337.1 L570.4 335.9 L571.3 334.8 L572.2 333.6 L573.2 332.4Z" fill="#cedaef" stroke="#1a1a1a" stroke-width=".8" fill-opacity="0.8" stroke-linejoin="round"/>
<path d="M589.8 336.4 L591.7 337.3 L592.9 338.2 L593.2 339.1 L593.4 340 L593.6 340.9 L593.8 341.8 L594 342.7 L594 343.6 L593.9 344.5 L593.7 345.4 L593.5 346.3 L593.4 347.2 L593.2 348.1 L593.1 349 L592.8 349.9 L592.5 350.8 L592.2 351.7 L591.9 352.6 L591.6 353.5 L591.3 354.4 L590.9 355.3 L590.5 356.2 L590.1 357.1 L589.6 358 L589.1 358.9 L588.7 359.8 L588.3 359.8 L587.9 358.9 L587.4 358 L586.9 357.1 L586.5 356.2 L586.1 355.3 L585.7 354.4 L585.4 353.5 L585.1 352.6 L584.8 351.7 L584.5 350.8 L584.2 349.9 L583.9 349 L583.8 348.1 L583.6 347.2 L583.5 346.3 L583.3 345.4 L583.1 344.5 L583 343.6 L583 342.7 L583.2 341.8 L583.4 340.9 L583.6 340 L583.8 339.1 L584.1 338.2 L585.3 337.3 L587.2 336.4Z" fill="#c0d0eb" stroke="#1a1a1a" stroke-width=".8" fill-opacity="0.8" stroke-linejoin="round"/>
<rect x="550.5" y="318.4" width="46.7" height="55.9" fill="none" stroke="#4d4d4d" stroke-width=".9"/>
<line x1="550.5" y1="424.4" x2="597.2" y2="424.4" stroke="#ebebeb" stroke-width=".5"/>
<line x1="550.5" y1="412.4" x2="597.2" y2="412.4" stroke="#ebebeb" stroke-width=".5"/>
<line x1="550.5" y1="400.2" x2="597.2" y2="400.2" stroke="#ebebeb" stroke-width=".5"/>
<line x1="550.5" y1="388.2" x2="597.2" y2="388.2" stroke="#ebebeb" stroke-width=".5"/>
<line x1="558.9" y1="379.1" x2="558.9" y2="435.3" stroke="#ebebeb" stroke-width=".9"/>
<line x1="573.6" y1="379.1" x2="573.6" y2="435.3" stroke="#ebebeb" stroke-width=".9"/>
<line x1="588.5" y1="379.1" x2="588.5" y2="435.3" stroke="#ebebeb" stroke-width=".9"/>
<line x1="550.5" y1="430.5" x2="597.2" y2="430.5" stroke="#ebebeb" stroke-width=".9"/>
<line x1="550.5" y1="418.4" x2="597.2" y2="418.4" stroke="#ebebeb" stroke-width=".9"/>
<line x1="550.5" y1="406.3" x2="597.2" y2="406.3" stroke="#ebebeb" stroke-width=".9"/>
<line x1="550.5" y1="394.2" x2="597.2" y2="394.2" stroke="#ebebeb" stroke-width=".9"/>
<line x1="550.5" y1="382.1" x2="597.2" y2="382.1" stroke="#ebebeb" stroke-width=".9"/>
<g opacity="0.65">
<path d="M558.5 401h0M553 422.5h0M558 412.5h0M555.5 412h0M553.5 406.5h0M556 415.5h0M558 419h0M560.5 417h0M555.5 420.5h0M559.5 399h0M558.5 415.5h0M563 415h0M561 420.5h0M557.5 402.5h0M562.5 415h0M557.5 404.5h0M553.5 401.5h0M555.5 410h0M555 400.5h0M557 408h0M559 412.5h0M555.5 411.5h0M560 407h0M554 406h0M560.5 403h0M555.5 420h0M561 415.5h0M557 416.5h0M554 414h0M565 414.5h0M556.5 418.5h0M553.5 404h0M564.5 415h0M555 411h0M557.5 422h0M558 412h0M563.5 415h0M558.5 422h0M563 411h0M555 418h0M562 422.5h0M555.5 411h0M559.5 411.5h0M561 420.5h0M560.5 408.5h0M553.5 418h0M558 421.5h0M560 418h0M559.5 411h0M553.5 418.5h0" stroke="#6A8FD0" stroke-width="1.6" stroke-linecap="round" fill="none"/>
</g>
<g opacity="0.65">
<path d="M572 418.5h0M570 405h0M577 419.5h0M571.5 408h0M571 404.5h0M575.5 412.5h0M576 417.5h0M577.5 405h0M570 410.5h0M578.5 415h0M578 412h0M571.5 408h0M578.5 422h0M575.5 415.5h0M574 420.5h0M579 416.5h0M569 399.5h0M569 415h0M578.5 421.5h0M571 412.5h0M579 408h0M567.5 420.5h0M567.5 415.5h0M569.5 413.5h0M578.5 400.5h0M574.5 415.5h0M578.5 411.5h0M578.5 410h0M578 402h0M575.5 400.5h0M575 414.5h0M577 410.5h0M572 411h0M567.5 402h0M576 417.5h0M577.5 413h0M568 404h0M575.5 422h0M568.5 415h0M569 408.5h0M574 410.5h0M574 423.5h0M568.5 408.5h0M575 414.5h0M569.5 403.5h0M568.5 422h0M575.5 407.5h0M573 418h0M574 419h0M580 421.5h0M579.5 415h0M578.5 404h0M572 411.5h0M577 414.5h0M572.5 414h0M567.5 414.5h0M569.5 404h0M568 409.5h0M569.5 413.5h0M568.5 405.5h0" stroke="#6A8FD0" stroke-width="1.6" stroke-linecap="round" fill="none"/>
</g>
<g opacity="0.65">
<path d="M592 420.5h0M590 414h0M584.5 407h0M589 419.5h0M588 407h0M585.5 410h0M594 400h0M585 419h0M584.5 407h0M586 410.5h0M590 414h0M593 408.5h0M584.5 397.5h0M585 419.5h0M592 403h0M587.5 412.5h0M590.5 412.5h0M590 410h0M584.5 402.5h0M594 414h0M593.5 401h0M591.5 404.5h0M590.5 411.5h0M586.5 408.5h0M582.5 420h0M591 409.5h0M594.5 421.5h0M587 399h0M584.5 417h0M593 420h0M588.5 409.5h0M586 411h0M585 397h0M587.5 395.5h0M589 406.5h0M588 420.5h0M584.5 411h0M592 412h0M592.5 403h0M590.5 413.5h0M593.5 402.5h0M584 411h0M586 411h0M587.5 421.5h0M584.5 416h0" stroke="#6A8FD0" stroke-width="1.6" stroke-linecap="round" fill="none"/>
</g>
<path d="M559.3 396.3 L560 397.4 L560.3 398.5 L560.5 399.5 L560.9 400.6 L561.3 401.7 L561.7 402.8 L562.1 403.9 L562.6 404.9 L563 406 L563.4 407.1 L563.7 408.2 L563.9 409.3 L564.1 410.4 L564.4 411.4 L564.6 412.5 L564.5 413.6 L564.3 414.7 L564.1 415.8 L563.9 416.8 L563.6 417.9 L563.3 419 L562.7 420.1 L562.1 421.2 L561.3 422.2 L560.3 423.3 L559.3 424.4 L558.5 424.4 L557.5 423.3 L556.5 422.2 L555.7 421.2 L555.1 420.1 L554.5 419 L554.2 417.9 L553.9 416.8 L553.7 415.8 L553.5 414.7 L553.3 413.6 L553.2 412.5 L553.4 411.4 L553.7 410.4 L553.9 409.3 L554.1 408.2 L554.4 407.1 L554.8 406 L555.2 404.9 L555.7 403.9 L556.1 402.8 L556.5 401.7 L556.9 400.6 L557.3 399.5 L557.5 398.5 L557.8 397.4 L558.5 396.3Z" fill="#f8f9fd" stroke="#1a1a1a" stroke-width=".8" fill-opacity="0.8" stroke-linejoin="round"/>
<path d="M574 396.3 L574.7 397.4 L575 398.5 L575.4 399.6 L575.8 400.7 L576.2 401.8 L576.7 402.9 L577.1 404 L577.6 405.1 L578 406.2 L578.5 407.3 L578.9 408.4 L579.4 409.5 L579.8 410.6 L580.1 411.7 L580 412.8 L579.6 413.9 L579.1 415 L578.6 416.1 L578.1 417.2 L577.6 418.3 L577 419.4 L576.4 420.5 L575.8 421.6 L575.1 422.7 L574.4 423.8 L573.8 424.9 L573.4 424.9 L572.8 423.8 L572.1 422.7 L571.4 421.6 L570.8 420.5 L570.2 419.4 L569.6 418.3 L569.1 417.2 L568.6 416.1 L568.1 415 L567.6 413.9 L567.2 412.8 L567.1 411.7 L567.4 410.6 L567.8 409.5 L568.3 408.4 L568.7 407.3 L569.2 406.2 L569.6 405.1 L570.1 404 L570.5 402.9 L571 401.8 L571.4 400.7 L571.8 399.6 L572.2 398.5 L572.5 397.4 L573.2 396.3Z" fill="#cedaef" stroke="#1a1a1a" stroke-width=".8" fill-opacity="0.8" stroke-linejoin="round"/>
<path d="M588.9 393.4 L589.5 394.6 L589.8 395.7 L590 396.9 L590.3 398 L590.7 399.2 L591 400.3 L591.4 401.5 L591.8 402.6 L592.4 403.8 L593 404.9 L593.5 406.1 L594 407.2 L594.4 408.4 L594.7 409.6 L594.9 410.7 L594.7 411.9 L594.3 413 L593.8 414.2 L593.3 415.3 L592.6 416.5 L591.9 417.6 L591.1 418.8 L590.5 419.9 L589.8 421.1 L589.2 422.2 L588.7 423.4 L588.3 423.4 L587.8 422.2 L587.2 421.1 L586.5 419.9 L585.9 418.8 L585.1 417.6 L584.4 416.5 L583.7 415.3 L583.2 414.2 L582.7 413 L582.3 411.9 L582.1 410.7 L582.3 409.6 L582.6 408.4 L583 407.2 L583.5 406.1 L584 404.9 L584.6 403.8 L585.2 402.6 L585.6 401.5 L586 400.3 L586.3 399.2 L586.7 398 L587 396.9 L587.2 395.7 L587.5 394.6 L588.1 393.4Z" fill="#c0d0eb" stroke="#1a1a1a" stroke-width=".8" fill-opacity="0.8" stroke-linejoin="round"/>
<rect x="550.5" y="379.1" width="46.7" height="56.2" fill="none" stroke="#4d4d4d" stroke-width=".9"/>
<line x1="558.9" y1="435.3" x2="558.9" y2="437.3" stroke="#4d4d4d" stroke-width=".8"/>
<text x="562.1" y="442.5" font-size="7.7" text-anchor="end" font-weight="bold" fill="#383838" transform="rotate(-45 562.1 442.5) matrix(1 0 0 1.1 0 -44.3)">Low</text>
<line x1="573.6" y1="435.3" x2="573.6" y2="437.3" stroke="#4d4d4d" stroke-width=".8"/>
<text x="576.8" y="442.5" font-size="7.7" text-anchor="end" font-weight="bold" fill="#383838" transform="rotate(-45 576.8 442.5) matrix(1 0 0 1.1 0 -44.3)">Moderate</text>
<line x1="588.5" y1="435.3" x2="588.5" y2="437.3" stroke="#4d4d4d" stroke-width=".8"/>
<text x="591.7" y="442.5" font-size="7.7" text-anchor="end" font-weight="bold" fill="#383838" transform="rotate(-45 591.7 442.5) matrix(1 0 0 1.1 0 -44.3)">High</text>
<rect x="597.5" y="318.4" width="12.9" height="55.9" fill="#d9d9d9" stroke="#4d4d4d" stroke-width=".8"/>
<text x="602" y="346.4" font-size="6.8" text-anchor="middle" fill="#1a1a1a" transform="rotate(90 602 346.4) matrix(1 0 0 1.1 0 -34.6)">PC3</text>
<rect x="597.5" y="379.1" width="12.9" height="56.2" fill="#d9d9d9" stroke="#4d4d4d" stroke-width=".8"/>
<text x="602" y="407.2" font-size="6.8" text-anchor="middle" fill="#1a1a1a" transform="rotate(90 602 407.2) matrix(1 0 0 1.1 0 -40.7)">PC4</text>
<path d="M318.4 327.8 V325.9 H333.3 V327.8" fill="none" stroke="#444" stroke-width=".9"/>
<text x="325.9" y="327" font-size="6.8" text-anchor="middle" fill="#444" transform="matrix(1 0 0 1.1 0 -32.7)">***</text>
<path d="M369.2 327.8 V325.9 H384.1 V327.8" fill="none" stroke="#444" stroke-width=".9"/>
<text x="376.7" y="327" font-size="6.8" text-anchor="middle" fill="#444" transform="matrix(1 0 0 1.1 0 -32.7)">***</text>
<path d="M318.4 388.2 V386.3 H333.3 V388.2" fill="none" stroke="#444" stroke-width=".9"/>
<text x="325.9" y="387.4" font-size="6.8" text-anchor="middle" fill="#444" transform="matrix(1 0 0 1.1 0 -38.7)">***</text>
<path d="M369.2 388.2 V386.3 H384.1 V388.2" fill="none" stroke="#444" stroke-width=".9"/>
<text x="376.7" y="387.4" font-size="6.8" text-anchor="middle" fill="#444" transform="matrix(1 0 0 1.1 0 -38.7)">***</text>
<path d="M471.4 388.2 V386.3 H486.3 V388.2" fill="none" stroke="#444" stroke-width=".9"/>
<text x="478.9" y="387.4" font-size="6.8" text-anchor="middle" fill="#444" transform="matrix(1 0 0 1.1 0 -38.7)">**</text>
<text x="274.8" y="376.9" font-size="8" text-anchor="middle" transform="rotate(-90 274.8 376.9) matrix(1 0 0 1.1 0 -37.7)">PC</text>
<text x="445.5" y="476.2" font-size="8" text-anchor="middle" transform="matrix(1 0 0 1.1 0 -47.6)">Tumor purity</text>
<text x="618.6" y="350" font-size="8.1" transform="matrix(1 0 0 1.1 0 -35)">Molecular</text>
<text x="618.6" y="357.9" font-size="8.1" transform="matrix(1 0 0 1.1 0 -35.8)">subtype</text>
<circle cx="622.6" cy="366.7" r="2.75" fill="#E8736B"/>
<text x="630.3" y="369.1" font-size="6.8" transform="matrix(1 0 0 1.1 0 -36.9)">Basal−like</text>
<circle cx="622.6" cy="374.6" r="2.75" fill="#CC79C0"/>
<text x="630.3" y="377" font-size="6.8" transform="matrix(1 0 0 1.1 0 -37.7)">Claudin−low</text>
<circle cx="622.6" cy="382.6" r="2.75" fill="#B39B30"/>
<text x="630.3" y="385" font-size="6.8" transform="matrix(1 0 0 1.1 0 -38.5)">HER2−enriched</text>
<circle cx="622.6" cy="390.5" r="2.75" fill="#12B4BA"/>
<text x="630.3" y="392.9" font-size="6.8" transform="matrix(1 0 0 1.1 0 -39.3)">LumA</text>
<circle cx="622.6" cy="398.5" r="2.75" fill="#16AE5B"/>
<text x="630.3" y="400.9" font-size="6.8" transform="matrix(1 0 0 1.1 0 -40.1)">LumB</text>
<circle cx="622.6" cy="406.4" r="2.75" fill="#6A8FD0"/>
<text x="630.3" y="408.8" font-size="6.8" transform="matrix(1 0 0 1.1 0 -40.9)">Normal−like</text>
<text x="4.3" y="471.2" font-size="9" font-weight="bold" transform="matrix(1 0 0 1.1 0 -47.1)">h</text>
<text x="18.8" y="474.7" font-size="9.1">Original embedding in <tspan fill="#12B4BA">blue</tspan> and new embedding in <tspan fill="#E8736B">red</tspan></text>
<line x1="18.8" y1="480.4" x2="266.6" y2="480.4" stroke="#9e9e9e" stroke-width=".9"/>
<text x="35.2" y="491.1" font-size="6.9" transform="matrix(1 0 0 1.1 0 -49.1)">Seed nb: 80</text>
<line x1="50.2" y1="494.3" x2="50.2" y2="549.9" stroke="#ebebeb" stroke-width=".4"/>
<line x1="74.7" y1="494.3" x2="74.7" y2="549.9" stroke="#ebebeb" stroke-width=".4"/>
<line x1="99.2" y1="494.3" x2="99.2" y2="549.9" stroke="#ebebeb" stroke-width=".4"/>
<line x1="123.7" y1="494.3" x2="123.7" y2="549.9" stroke="#ebebeb" stroke-width=".4"/>
<line x1="34.7" y1="533.8" x2="140.2" y2="533.8" stroke="#ebebeb" stroke-width=".4"/>
<line x1="34.7" y1="522.4" x2="140.2" y2="522.4" stroke="#ebebeb" stroke-width=".4"/>
<line x1="34.7" y1="511.1" x2="140.2" y2="511.1" stroke="#ebebeb" stroke-width=".4"/>
<line x1="34.7" y1="545" x2="140.2" y2="545" stroke="#ebebeb" stroke-width=".4"/>
<line x1="34.7" y1="499.8" x2="140.2" y2="499.8" stroke="#ebebeb" stroke-width=".4"/>
<line x1="37.9" y1="494.3" x2="37.9" y2="549.9" stroke="#ebebeb" stroke-width=".7"/>
<line x1="62.4" y1="494.3" x2="62.4" y2="549.9" stroke="#ebebeb" stroke-width=".7"/>
<line x1="86.9" y1="494.3" x2="86.9" y2="549.9" stroke="#ebebeb" stroke-width=".7"/>
<line x1="111.4" y1="494.3" x2="111.4" y2="549.9" stroke="#ebebeb" stroke-width=".7"/>
<line x1="135.9" y1="494.3" x2="135.9" y2="549.9" stroke="#ebebeb" stroke-width=".7"/>
<line x1="34.7" y1="539.4" x2="140.2" y2="539.4" stroke="#ebebeb" stroke-width=".7"/>
<line x1="34.7" y1="528.1" x2="140.2" y2="528.1" stroke="#ebebeb" stroke-width=".7"/>
<line x1="34.7" y1="516.8" x2="140.2" y2="516.8" stroke="#ebebeb" stroke-width=".7"/>
<line x1="34.7" y1="505.5" x2="140.2" y2="505.5" stroke="#ebebeb" stroke-width=".7"/>
<path d="M87.9 497.1L82 498.7M69.4 504.3L82.9 505.1M94.1 503.9L102.2 504.3M131.6 505.9L102.2 504.3M135.8 508.1L92.4 509M68.3 510.1L103 510.1M85.1 509.3L92.4 509M71.1 511.8L42.6 512.7M70.6 514.3L81.2 516.5M74 513.2L104.7 512.7M77.8 511L100.5 511M79 513.8L107.2 513.5M98 514.8L97.1 517.7M113.9 515.2L107.2 513.5M120.6 518.5L108.9 518.9M100.5 517.7L97.1 517.7M97.5 520.2L81.2 521.1M80.4 518.2L77.8 518.5M70 520.2L58.9 521.1M64.4 522.2L58.9 521.1M84.1 522.7L94.6 522.7M101.8 523.6L103.9 522.7M68.6 525.6L77 526.1M75 524.4L94.6 524.4M77.8 524.9L77 526.1M65.3 528.9L85.4 531.6M90.1 529.8L100.2 531.6M94.1 531.1L109.7 531.1M71.1 532.8L85.4 531.6M75 534.5L96.3 535M80.4 532.8L85.4 531.6M83.7 535.3L96.3 535M87.1 537L74.5 537.8M103 537.3L98.8 539.5M105.2 537L104.7 539.9M120.6 540.7L98 539.5M78.7 539L73.6 538.7M83.7 540L91.3 539.2M94.6 539L96.8 539.5M77 541.2L85.4 544.1M73.6 543.7L58.5 543.7M81.2 544.1L100.2 544.1M89.6 545.7L91.3 546.2M96.8 547.6L84.6 547.9" fill="none" stroke="#b3b3b3" stroke-width=".5"/>
<path d="M88 497h0M69.5 504.5h0M94 504h0M131.5 506h0M136 508h0M68.5 510h0M85 509.5h0M71 512h0M70.5 514.5h0M74 513h0M78 511h0M79 514h0M98 515h0M114 515h0M120.5 518.5h0M100.5 517.5h0M97.5 520h0M80.5 518h0M70 520h0M64.5 522h0M84 522.5h0M102 523.5h0M68.5 525.5h0M75 524.5h0M78 525h0M65.5 529h0M90 530h0M94 531h0M71 533h0M75 534.5h0M80.5 533h0M83.5 535.5h0M87 537h0M103 537.5h0M105 537h0M120.5 540.5h0M78.5 539h0M83.5 540h0M94.5 539h0M77 541h0M73.5 543.5h0M81 544h0M89.5 545.5h0M97 547.5h0" stroke="#E8736B" stroke-width="2.2" stroke-linecap="round" fill="none"/>
<path d="M82 498.5h0M83 505h0M102 504.5h0M92.5 509h0M39.5 511h0M42.5 512.5h0M100.5 511h0M103 510h0M107 511h0M107 513.5h0M104.5 512.5h0M81 516.5h0M63.5 518h0M59 521h0M78 518.5h0M81 521h0M97 517.5h0M109 519h0M107 522h0M104 522.5h0M94.5 522.5h0M94.5 524.5h0M112.5 524h0M77 526h0M114 528h0M85.5 531.5h0M100 531.5h0M108 531.5h0M109.5 531h0M96.5 535h0M74.5 538h0M73.5 538.5h0M91.5 539h0M98 539.5h0M104.5 540h0M99 539.5h0M97 539.5h0M58.5 543.5h0M99.5 543.5h0M100 544h0M85.5 544h0M93 545.5h0M91.5 546h0M84.5 548h0" stroke="#12B4BA" stroke-width="2.2" stroke-linecap="round" fill="none"/>
<rect x="34.7" y="494.3" width="105.5" height="55.6" fill="none" stroke="#4d4d4d" stroke-width=".8"/>
<line x1="37.9" y1="549.9" x2="37.9" y2="551.3" stroke="#4d4d4d" stroke-width=".6"/>
<text x="37.9" y="555.9" font-size="4.6" text-anchor="middle" fill="#4d4d4d" transform="matrix(1 0 0 1.1 0 -55.6)">−10</text>
<line x1="62.4" y1="549.9" x2="62.4" y2="551.3" stroke="#4d4d4d" stroke-width=".6"/>
<text x="62.4" y="555.9" font-size="4.6" text-anchor="middle" fill="#4d4d4d" transform="matrix(1 0 0 1.1 0 -55.6)">−5</text>
<line x1="86.9" y1="549.9" x2="86.9" y2="551.3" stroke="#4d4d4d" stroke-width=".6"/>
<text x="86.9" y="555.9" font-size="4.6" text-anchor="middle" fill="#4d4d4d" transform="matrix(1 0 0 1.1 0 -55.6)">0</text>
<line x1="111.4" y1="549.9" x2="111.4" y2="551.3" stroke="#4d4d4d" stroke-width=".6"/>
<text x="111.4" y="555.9" font-size="4.6" text-anchor="middle" fill="#4d4d4d" transform="matrix(1 0 0 1.1 0 -55.6)">5</text>
<line x1="135.9" y1="549.9" x2="135.9" y2="551.3" stroke="#4d4d4d" stroke-width=".6"/>
<text x="135.9" y="555.9" font-size="4.6" text-anchor="middle" fill="#4d4d4d" transform="matrix(1 0 0 1.1 0 -55.6)">10</text>
<line x1="33.3" y1="539.4" x2="34.7" y2="539.4" stroke="#4d4d4d" stroke-width=".6"/>
<text x="32.3" y="541.1" font-size="4.6" text-anchor="end" fill="#4d4d4d" transform="matrix(1 0 0 1.1 0 -54.1)">−5.0</text>
<line x1="33.3" y1="528.1" x2="34.7" y2="528.1" stroke="#4d4d4d" stroke-width=".6"/>
<text x="32.3" y="529.8" font-size="4.6" text-anchor="end" fill="#4d4d4d" transform="matrix(1 0 0 1.1 0 -53)">−2.5</text>
<line x1="33.3" y1="516.8" x2="34.7" y2="516.8" stroke="#4d4d4d" stroke-width=".6"/>
<text x="32.3" y="518.5" font-size="4.6" text-anchor="end" fill="#4d4d4d" transform="matrix(1 0 0 1.1 0 -51.8)">0.0</text>
<line x1="33.3" y1="505.5" x2="34.7" y2="505.5" stroke="#4d4d4d" stroke-width=".6"/>
<text x="32.3" y="507.2" font-size="4.6" text-anchor="end" fill="#4d4d4d" transform="matrix(1 0 0 1.1 0 -50.7)">2.5</text>
<text x="159" y="491.1" font-size="6.9" transform="matrix(1 0 0 1.1 0 -49.1)">Seed nb: 280</text>
<line x1="178.1" y1="494.6" x2="178.1" y2="550.2" stroke="#ebebeb" stroke-width=".4"/>
<line x1="210.8" y1="494.6" x2="210.8" y2="550.2" stroke="#ebebeb" stroke-width=".4"/>
<line x1="243.4" y1="494.6" x2="243.4" y2="550.2" stroke="#ebebeb" stroke-width=".4"/>
<line x1="158.6" y1="530.1" x2="268.4" y2="530.1" stroke="#ebebeb" stroke-width=".4"/>
<line x1="158.6" y1="515.7" x2="268.4" y2="515.7" stroke="#ebebeb" stroke-width=".4"/>
<line x1="158.6" y1="544.6" x2="268.4" y2="544.6" stroke="#ebebeb" stroke-width=".4"/>
<line x1="158.6" y1="501.2" x2="268.4" y2="501.2" stroke="#ebebeb" stroke-width=".4"/>
<line x1="161.7" y1="494.6" x2="161.7" y2="550.2" stroke="#ebebeb" stroke-width=".7"/>
<line x1="194.4" y1="494.6" x2="194.4" y2="550.2" stroke="#ebebeb" stroke-width=".7"/>
<line x1="227.1" y1="494.6" x2="227.1" y2="550.2" stroke="#ebebeb" stroke-width=".7"/>
<line x1="259.8" y1="494.6" x2="259.8" y2="550.2" stroke="#ebebeb" stroke-width=".7"/>
<line x1="158.6" y1="537.4" x2="268.4" y2="537.4" stroke="#ebebeb" stroke-width=".7"/>
<line x1="158.6" y1="522.9" x2="268.4" y2="522.9" stroke="#ebebeb" stroke-width=".7"/>
<line x1="158.6" y1="508.4" x2="268.4" y2="508.4" stroke="#ebebeb" stroke-width=".7"/>
<path d="M184.2 503.9L189.7 526.4M184.2 518.9L189.7 544.2M204 507.6L209.7 540.1M206.2 504.6L210.7 539.7M210.7 506.6L210.7 539.7M209.3 517.2L209.7 540.1M213.8 520.3L213.8 530.5M210.7 524.4L210.7 539.7M215.8 525L215.8 540.1M217.9 497.8L219.5 509M218.3 506L219.5 522.9M219.1 512.1L220.3 527.4M221.4 522.9L221.6 513.5M219.9 534.6L219.5 509M221.4 538.3L221.6 513.5M223 497.2L224 547.9M226.1 499.9L226.7 523.8M227.7 498.8L226.7 523.8M227.1 511.7L226.7 523.8M230.1 520.9L230.1 546.9M231.8 508L231.8 529.1M232.2 519.3L232.2 525.4M233.2 503.5L233.2 542.8M235.9 502.9L236.9 527.4M237.9 498.8L238.3 539.3M238.3 508.6L239.3 538.1M240 526.4L240.4 541.3M241.4 503.9L241.4 523.4M242.4 515.2L242.8 540.7M243 501.9L243.4 543.8M244 502.9L244 544.8M245.5 509L246.5 518.2M246.5 526.4L247.5 517.2M247.5 519.3L247.5 512.7M248.5 509L248.5 539.7M249.6 508.6L249.6 540.7M250.6 510.7L251 519.7M251.6 508.6L252.2 522.3M252.2 525.8L252.2 522.3M253.6 515.2L253.6 526.4M255.1 514.8L255.1 526.4M257.7 512.7L257.7 535.2M192.9 525L195.8 523.8M195.4 524.4L195.8 523.8M163.7 528.1L164.1 518.2M164.1 529.5L164.1 518.2M234.6 537.3L234.6 545.8M219.5 529.5L219.5 509M229.1 529.5L230.1 546.9M236.3 521.3L236.9 527.4M244.4 530.5L244.4 535.2" fill="none" stroke="#b3b3b3" stroke-width=".5"/>
<path d="M184 504h0M184 519h0M204 507.5h0M206 504.5h0M210.5 506.5h0M209.5 517h0M214 520.5h0M210.5 524.5h0M216 525h0M218 498h0M218.5 506h0M219 512h0M221.5 523h0M220 534.5h0M221.5 538.5h0M223 497h0M226 500h0M227.5 499h0M227 511.5h0M230 521h0M232 508h0M232 519.5h0M233 503.5h0M236 503h0M238 499h0M238.5 508.5h0M240 526.5h0M241.5 504h0M242.5 515h0M243 502h0M244 503h0M245.5 509h0M246.5 526.5h0M247.5 519.5h0M248.5 509h0M249.5 508.5h0M250.5 510.5h0M251.5 508.5h0M252 526h0M253.5 515h0M255 515h0M257.5 512.5h0M193 525h0M195.5 524.5h0M163.5 528h0M164 529.5h0M234.5 537.5h0M219.5 529.5h0M229 529.5h0M236.5 521.5h0M244.5 530.5h0" stroke="#E8736B" stroke-width="2.2" stroke-linecap="round" fill="none"/>
<path d="M164 518h0M168 519.5h0M189.5 526.5h0M189.5 544h0M196 524h0M209.5 540h0M210.5 539.5h0M214 530.5h0M216 540h0M219.5 509h0M219.5 523h0M221.5 513.5h0M220.5 527.5h0M224.5 535h0M225 541.5h0M224 548h0M230 547h0M232 529h0M232.5 533h0M233 543h0M234.5 546h0M238.5 539.5h0M239.5 538h0M240.5 541.5h0M242 543.5h0M243 540.5h0M243.5 544h0M244 545h0M244.5 535h0M246.5 518h0M247.5 517h0M248.5 539.5h0M249.5 540.5h0M247.5 512.5h0M251 519.5h0M252 522.5h0M253.5 526.5h0M255 526.5h0M256.5 525.5h0M257 534.5h0M257.5 535h0M261 528.5h0M263.5 531.5h0M237 527.5h0M240.5 523.5h0M241.5 523.5h0M232 525.5h0M226.5 524h0" stroke="#12B4BA" stroke-width="2.2" stroke-linecap="round" fill="none"/>
<rect x="158.6" y="494.6" width="109.8" height="55.6" fill="none" stroke="#4d4d4d" stroke-width=".8"/>
<line x1="161.7" y1="550.2" x2="161.7" y2="551.6" stroke="#4d4d4d" stroke-width=".6"/>
<text x="161.7" y="556.2" font-size="4.6" text-anchor="middle" fill="#4d4d4d" transform="matrix(1 0 0 1.1 0 -55.6)">−10</text>
<line x1="194.4" y1="550.2" x2="194.4" y2="551.6" stroke="#4d4d4d" stroke-width=".6"/>
<text x="194.4" y="556.2" font-size="4.6" text-anchor="middle" fill="#4d4d4d" transform="matrix(1 0 0 1.1 0 -55.6)">−5</text>
<line x1="227.1" y1="550.2" x2="227.1" y2="551.6" stroke="#4d4d4d" stroke-width=".6"/>
<text x="227.1" y="556.2" font-size="4.6" text-anchor="middle" fill="#4d4d4d" transform="matrix(1 0 0 1.1 0 -55.6)">0</text>
<line x1="259.8" y1="550.2" x2="259.8" y2="551.6" stroke="#4d4d4d" stroke-width=".6"/>
<text x="259.8" y="556.2" font-size="4.6" text-anchor="middle" fill="#4d4d4d" transform="matrix(1 0 0 1.1 0 -55.6)">5</text>
<line x1="157.2" y1="537.4" x2="158.6" y2="537.4" stroke="#4d4d4d" stroke-width=".6"/>
<text x="156.2" y="539" font-size="4.6" text-anchor="end" fill="#4d4d4d" transform="matrix(1 0 0 1.1 0 -53.9)">−4</text>
<line x1="157.2" y1="522.9" x2="158.6" y2="522.9" stroke="#4d4d4d" stroke-width=".6"/>
<text x="156.2" y="524.6" font-size="4.6" text-anchor="end" fill="#4d4d4d" transform="matrix(1 0 0 1.1 0 -52.5)">0</text>
<line x1="157.2" y1="508.4" x2="158.6" y2="508.4" stroke="#4d4d4d" stroke-width=".6"/>
<text x="156.2" y="510.1" font-size="4.6" text-anchor="end" fill="#4d4d4d" transform="matrix(1 0 0 1.1 0 -51)">4</text>
<text x="30.7" y="572.5" font-size="6.9" transform="matrix(1 0 0 1.1 0 -57.3)">Seed nb: 300</text>
<line x1="50" y1="576.6" x2="50" y2="631.3" stroke="#ebebeb" stroke-width=".4"/>
<line x1="83" y1="576.6" x2="83" y2="631.3" stroke="#ebebeb" stroke-width=".4"/>
<line x1="116" y1="576.6" x2="116" y2="631.3" stroke="#ebebeb" stroke-width=".4"/>
<line x1="31.1" y1="611.9" x2="140.6" y2="611.9" stroke="#ebebeb" stroke-width=".4"/>
<line x1="31.1" y1="597.3" x2="140.6" y2="597.3" stroke="#ebebeb" stroke-width=".4"/>
<line x1="31.1" y1="626.5" x2="140.6" y2="626.5" stroke="#ebebeb" stroke-width=".4"/>
<line x1="31.1" y1="582.7" x2="140.6" y2="582.7" stroke="#ebebeb" stroke-width=".4"/>
<line x1="33.5" y1="576.6" x2="33.5" y2="631.3" stroke="#ebebeb" stroke-width=".7"/>
<line x1="66.5" y1="576.6" x2="66.5" y2="631.3" stroke="#ebebeb" stroke-width=".7"/>
<line x1="99.5" y1="576.6" x2="99.5" y2="631.3" stroke="#ebebeb" stroke-width=".7"/>
<line x1="132.5" y1="576.6" x2="132.5" y2="631.3" stroke="#ebebeb" stroke-width=".7"/>
<line x1="31.1" y1="619.2" x2="140.6" y2="619.2" stroke="#ebebeb" stroke-width=".7"/>
<line x1="31.1" y1="604.6" x2="140.6" y2="604.6" stroke="#ebebeb" stroke-width=".7"/>
<line x1="31.1" y1="590" x2="140.6" y2="590" stroke="#ebebeb" stroke-width=".7"/>
<path d="M36.1 608.9L36.1 599.2M37.7 607.8L40.1 600.9M58.6 600L61.9 607.8M61.9 582.1L61.9 626.1M68 603.9L68.3 605.6M80 586.3L81.7 622M81.7 586.3L81.7 622M85.4 597.5L85.9 612M87.1 603.1L86.8 605.9M88.1 599.7L88.1 621.7M88.4 586.8L88.1 621.7M93.1 613.6L93.8 594.7M92.6 619.8L92.1 589.6M95.1 578.7L96 629.1M96 592.5L96.8 623.2M95.5 586.3L96.8 616.5M100.2 579.1L102.7 628.7M102.7 583.8L102.7 628.7M102.7 593.8L102.7 628.7M104.9 580.1L104.9 624M106.9 598L106.9 627.4M108.2 588.8L109.4 609.8M109.4 587.9L109.4 608.9M110.3 585.8L109.9 620.7M113.3 585.1L112.8 605.2M113.9 591.8L114.5 612.3M114.5 582.1L115 622.7M115.3 582.4L116.1 625.4M113.6 603.9L111.9 622.7M115.3 608.1L116.6 616M116.1 607.3L117 599.2M120 587.1L119.5 600.9M120.7 585.1L121.2 621M122 590.8L122.8 622.4M119.5 614.8L119 593.8M120.3 610.3L119.5 600.9M121.2 607.3L121.2 621M125 591.8L126.2 599.7M125.4 599.7L123.7 600.2M126.2 608.6L127 616.5M123.7 608.1L123.4 617M127.9 591.8L128.4 605.6M128.7 603.9L129.1 616M130.1 597.5L130.4 599.7M132.1 595.2L132.9 609.8M104.4 609.8L104.4 614.8M110.3 605.6L109.9 620.7" fill="none" stroke="#b3b3b3" stroke-width=".5"/>
<path d="M36 609h0M37.5 608h0M58.5 600h0M62 582h0M68 604h0M80 586.5h0M81.5 586.5h0M85.5 597.5h0M87 603h0M88 599.5h0M88.5 587h0M93 613.5h0M92.5 620h0M95 578.5h0M96 592.5h0M95.5 586.5h0M100 579h0M102.5 584h0M102.5 594h0M105 580h0M107 598h0M108 589h0M109.5 588h0M110.5 586h0M113.5 585h0M114 592h0M114.5 582h0M115.5 582.5h0M113.5 604h0M115.5 608h0M116 607.5h0M120 587h0M120.5 585h0M122 591h0M119.5 615h0M120.5 610.5h0M121 607.5h0M125 592h0M125.5 599.5h0M126 608.5h0M123.5 608h0M128 592h0M128.5 604h0M130 597.5h0M132 595h0M104.5 610h0M110.5 605.5h0" stroke="#E8736B" stroke-width="2.2" stroke-linecap="round" fill="none"/>
<path d="M36 599h0M40 601h0M62 608h0M62 626h0M68.5 605.5h0M81.5 622h0M83 621h0M86 612h0M87 606h0M88 621.5h0M91 608h0M92 604h0M92 589.5h0M94 594.5h0M96 629h0M97 623h0M97 616.5h0M102.5 628.5h0M104.5 615h0M105 624h0M105.5 597.5h0M107 627.5h0M109.5 610h0M110 620.5h0M112 622.5h0M113 605h0M114.5 612.5h0M115 622.5h0M116 625.5h0M116.5 616h0M117 599h0M118 600h0M119 594h0M119.5 601h0M121 621h0M123 622.5h0M123.5 617h0M123.5 600h0M126 599.5h0M127 616.5h0M127 607.5h0M128.5 605.5h0M129 616h0M130.5 599.5h0M133 610h0M135.5 613h0M109.5 609h0" stroke="#12B4BA" stroke-width="2.2" stroke-linecap="round" fill="none"/>
<rect x="31.1" y="576.6" width="109.5" height="54.7" fill="none" stroke="#4d4d4d" stroke-width=".8"/>
<line x1="33.5" y1="631.3" x2="33.5" y2="632.7" stroke="#4d4d4d" stroke-width=".6"/>
<text x="33.5" y="637.3" font-size="4.6" text-anchor="middle" fill="#4d4d4d" transform="matrix(1 0 0 1.1 0 -63.7)">−10</text>
<line x1="66.5" y1="631.3" x2="66.5" y2="632.7" stroke="#4d4d4d" stroke-width=".6"/>
<text x="66.5" y="637.3" font-size="4.6" text-anchor="middle" fill="#4d4d4d" transform="matrix(1 0 0 1.1 0 -63.7)">−5</text>
<line x1="99.5" y1="631.3" x2="99.5" y2="632.7" stroke="#4d4d4d" stroke-width=".6"/>
<text x="99.5" y="637.3" font-size="4.6" text-anchor="middle" fill="#4d4d4d" transform="matrix(1 0 0 1.1 0 -63.7)">0</text>
<line x1="132.5" y1="631.3" x2="132.5" y2="632.7" stroke="#4d4d4d" stroke-width=".6"/>
<text x="132.5" y="637.3" font-size="4.6" text-anchor="middle" fill="#4d4d4d" transform="matrix(1 0 0 1.1 0 -63.7)">5</text>
<line x1="29.7" y1="619.2" x2="31.1" y2="619.2" stroke="#4d4d4d" stroke-width=".6"/>
<text x="28.7" y="620.9" font-size="4.6" text-anchor="end" fill="#4d4d4d" transform="matrix(1 0 0 1.1 0 -62.1)">−4</text>
<line x1="29.7" y1="604.6" x2="31.1" y2="604.6" stroke="#4d4d4d" stroke-width=".6"/>
<text x="28.7" y="606.3" font-size="4.6" text-anchor="end" fill="#4d4d4d" transform="matrix(1 0 0 1.1 0 -60.6)">0</text>
<line x1="29.7" y1="590" x2="31.1" y2="590" stroke="#4d4d4d" stroke-width=".6"/>
<text x="28.7" y="591.7" font-size="4.6" text-anchor="end" fill="#4d4d4d" transform="matrix(1 0 0 1.1 0 -59.2)">4</text>
<text x="159" y="572.5" font-size="6.9" transform="matrix(1 0 0 1.1 0 -57.3)">Seed nb: 460</text>
<line x1="174.6" y1="576.2" x2="174.6" y2="631.3" stroke="#ebebeb" stroke-width=".4"/>
<line x1="200.1" y1="576.2" x2="200.1" y2="631.3" stroke="#ebebeb" stroke-width=".4"/>
<line x1="225.6" y1="576.2" x2="225.6" y2="631.3" stroke="#ebebeb" stroke-width=".4"/>
<line x1="251.1" y1="576.2" x2="251.1" y2="631.3" stroke="#ebebeb" stroke-width=".4"/>
<line x1="158.6" y1="612" x2="268.6" y2="612" stroke="#ebebeb" stroke-width=".4"/>
<line x1="158.6" y1="597.6" x2="268.6" y2="597.6" stroke="#ebebeb" stroke-width=".4"/>
<line x1="158.6" y1="583.2" x2="268.6" y2="583.2" stroke="#ebebeb" stroke-width=".4"/>
<line x1="158.6" y1="626.4" x2="268.6" y2="626.4" stroke="#ebebeb" stroke-width=".4"/>
<line x1="161.8" y1="576.2" x2="161.8" y2="631.3" stroke="#ebebeb" stroke-width=".7"/>
<line x1="187.3" y1="576.2" x2="187.3" y2="631.3" stroke="#ebebeb" stroke-width=".7"/>
<line x1="212.8" y1="576.2" x2="212.8" y2="631.3" stroke="#ebebeb" stroke-width=".7"/>
<line x1="238.3" y1="576.2" x2="238.3" y2="631.3" stroke="#ebebeb" stroke-width=".7"/>
<line x1="263.8" y1="576.2" x2="263.8" y2="631.3" stroke="#ebebeb" stroke-width=".7"/>
<line x1="158.6" y1="619.2" x2="268.6" y2="619.2" stroke="#ebebeb" stroke-width=".7"/>
<line x1="158.6" y1="604.8" x2="268.6" y2="604.8" stroke="#ebebeb" stroke-width=".7"/>
<line x1="158.6" y1="590.4" x2="268.6" y2="590.4" stroke="#ebebeb" stroke-width=".7"/>
<path d="M212.8 604.8L200.5 581.7M212.8 604.8L203.6 583.7M212.8 604.8L207.3 580.2M212.8 604.8L210.7 579.6M212.8 604.8L214.8 578.6M212.8 604.8L195.4 585.8M212.8 604.8L199.5 584.3M212.8 604.8L201.1 586.4M212.8 604.8L202.6 587.4M212.8 604.8L190.9 591.9M212.8 604.8L192.9 590.9M212.8 604.8L194.4 590.5M212.8 604.8L186.2 596M212.8 604.8L188.2 598M212.8 604.8L191.3 601.5M212.8 604.8L192.3 600.1M212.8 604.8L195 598M212.8 604.8L196.4 599M212.8 604.8L200.5 597.4M212.8 604.8L204.6 600.1M212.8 604.8L206.6 602.7M212.8 604.8L207.7 603.5M212.8 604.8L210.1 603.5M212.8 604.8L211.7 585.2M212.8 604.8L219.9 586.4M212.8 604.8L225.6 585.8M212.8 604.8L226.1 587.8M212.8 604.8L215.8 597M212.8 604.8L219.5 600.1M212.8 604.8L223.6 597.4M212.8 604.8L190.3 604.8M212.8 604.8L191.7 606.8M212.8 604.8L196.4 606.2M212.8 604.8L199.1 609.3M212.8 604.8L201.5 608.9M212.8 604.8L197.4 615.4M212.8 604.8L219.9 604.2M212.8 604.8L223 602.7M212.8 604.8L236.3 602.7M212.8 604.8L241.4 581.7M212.8 604.8L243.4 599.5M212.8 604.8L259.8 605.6M212.8 604.8L263.3 609.3M212.8 604.8L205.6 609.3M212.8 604.8L188.2 611.3M212.8 604.8L163.7 599.5M212.8 604.8L167.2 601.5M212.8 604.8L184.2 608.2M212.8 604.8L188.9 605.6M212.8 604.8L183.5 626M212.8 604.8L199.5 621.9M212.8 604.8L200.5 621.5M212.8 604.8L204 621.9M212.8 604.8L207.7 590.9M212.8 604.8L208.7 596M212.8 604.8L229.1 595M212.8 604.8L227.1 600.1M212.8 604.8L229.7 600.1M212.8 604.8L231.8 601.1M212.8 604.8L233.2 600.1M212.8 604.8L234.6 602.7M212.8 604.8L236.3 607.2M212.8 604.8L234.6 608.9M212.8 604.8L231.8 609.3M212.8 604.8L220.9 609.3M212.8 604.8L223 610.7M212.8 604.8L240.4 610.3M212.8 604.8L241.4 613.4M212.8 604.8L235.3 616.4M212.8 604.8L236.3 616.4M212.8 604.8L232.2 617.4M212.8 604.8L230.1 621.9M212.8 604.8L231.2 623.2M212.8 604.8L226.1 621.5M212.8 604.8L224.4 623.6M212.8 604.8L226.1 625.6M212.8 604.8L222 619.9M212.8 604.8L218.3 615M212.8 604.8L219.9 620.5M212.8 604.8L216.9 627.7M212.8 604.8L217.9 628.7M212.8 604.8L213.8 624M212.8 604.8L210.7 628.7M212.8 604.8L211.3 616.4M212.8 604.8L203.6 611.3M212.8 604.8L206 617M212.8 604.8L207.7 619.1" fill="none" stroke="#b3b3b3" stroke-width=".5"/>
<path d="M200.5 581.5h0M203.5 583.5h0M207.5 580h0M210.5 579.5h0M215 578.5h0M195.5 586h0M199.5 584.5h0M201 586.5h0M202.5 587.5h0M191 592h0M193 591h0M194.5 590.5h0M186 596h0M188 598h0M191.5 601.5h0M192.5 600h0M195 598h0M196.5 599h0M200.5 597.5h0M204.5 600h0M206.5 602.5h0M207.5 603.5h0M210 603.5h0M211.5 585h0M220 586.5h0M225.5 586h0M226 588h0M216 597h0M219.5 600h0M223.5 597.5h0M190.5 605h0M191.5 607h0M196.5 606h0M199 609.5h0M201.5 609h0M197.5 615.5h0M220 604h0M223 602.5h0M236.5 602.5h0M241.5 581.5h0M243.5 599.5h0M260 605.5h0M263.5 609.5h0M205.5 609.5h0M188 611.5h0" stroke="#E8736B" stroke-width="2.2" stroke-linecap="round" fill="none"/>
<path d="M163.5 599.5h0M167 601.5h0M184 608h0M189 605.5h0M183.5 626h0M199.5 622h0M200.5 621.5h0M204 622h0M207.5 591h0M208.5 596h0M229 595h0M227 600h0M229.5 600h0M232 601h0M233 600h0M234.5 602.5h0M236.5 607h0M234.5 609h0M232 609.5h0M221 609.5h0M223 610.5h0M240.5 610.5h0M241.5 613.5h0M235.5 616.5h0M236.5 616.5h0M232 617.5h0M230 622h0M231 623h0M226 621.5h0M224.5 623.5h0M226 625.5h0M222 620h0M218.5 615h0M220 620.5h0M217 627.5h0M218 628.5h0M214 624h0M210.5 628.5h0M211.5 616.5h0M203.5 611.5h0M206 617h0M207.5 619h0" stroke="#12B4BA" stroke-width="2.2" stroke-linecap="round" fill="none"/>
<rect x="158.6" y="576.2" width="110" height="55.1" fill="none" stroke="#4d4d4d" stroke-width=".8"/>
<line x1="161.8" y1="631.3" x2="161.8" y2="632.7" stroke="#4d4d4d" stroke-width=".6"/>
<text x="161.8" y="637.3" font-size="4.6" text-anchor="middle" fill="#4d4d4d" transform="matrix(1 0 0 1.1 0 -63.7)">−10</text>
<line x1="187.3" y1="631.3" x2="187.3" y2="632.7" stroke="#4d4d4d" stroke-width=".6"/>
<text x="187.3" y="637.3" font-size="4.6" text-anchor="middle" fill="#4d4d4d" transform="matrix(1 0 0 1.1 0 -63.7)">−5</text>
<line x1="212.8" y1="631.3" x2="212.8" y2="632.7" stroke="#4d4d4d" stroke-width=".6"/>
<text x="212.8" y="637.3" font-size="4.6" text-anchor="middle" fill="#4d4d4d" transform="matrix(1 0 0 1.1 0 -63.7)">0</text>
<line x1="238.3" y1="631.3" x2="238.3" y2="632.7" stroke="#4d4d4d" stroke-width=".6"/>
<text x="238.3" y="637.3" font-size="4.6" text-anchor="middle" fill="#4d4d4d" transform="matrix(1 0 0 1.1 0 -63.7)">5</text>
<line x1="263.8" y1="631.3" x2="263.8" y2="632.7" stroke="#4d4d4d" stroke-width=".6"/>
<text x="263.8" y="637.3" font-size="4.6" text-anchor="middle" fill="#4d4d4d" transform="matrix(1 0 0 1.1 0 -63.7)">10</text>
<line x1="157.2" y1="619.2" x2="158.6" y2="619.2" stroke="#4d4d4d" stroke-width=".6"/>
<text x="156.2" y="620.9" font-size="4.6" text-anchor="end" fill="#4d4d4d" transform="matrix(1 0 0 1.1 0 -62.1)">−4</text>
<line x1="157.2" y1="604.8" x2="158.6" y2="604.8" stroke="#4d4d4d" stroke-width=".6"/>
<text x="156.2" y="606.5" font-size="4.6" text-anchor="end" fill="#4d4d4d" transform="matrix(1 0 0 1.1 0 -60.6)">0</text>
<line x1="157.2" y1="590.4" x2="158.6" y2="590.4" stroke="#4d4d4d" stroke-width=".6"/>
<text x="156.2" y="592.1" font-size="4.6" text-anchor="end" fill="#4d4d4d" transform="matrix(1 0 0 1.1 0 -59.2)">4</text>
<line x1="157.2" y1="576" x2="158.6" y2="576" stroke="#4d4d4d" stroke-width=".6"/>
<text x="156.2" y="577.7" font-size="4.6" text-anchor="end" fill="#4d4d4d" transform="matrix(1 0 0 1.1 0 -57.8)">8</text>
<text x="21.2" y="521.6" font-size="7" text-anchor="middle" transform="rotate(-90 21.2 521.6) matrix(1 0 0 1.1 0 -52.2)">PC4</text>
<text x="21.2" y="602.6" font-size="7" text-anchor="middle" transform="rotate(-90 21.2 602.6) matrix(1 0 0 1.1 0 -60.3)">PC4</text>
<text x="87.4" y="644.8" font-size="7" text-anchor="middle" transform="matrix(1 0 0 1.1 0 -64.5)">PC3</text>
<text x="215.6" y="644.8" font-size="7" text-anchor="middle" transform="matrix(1 0 0 1.1 0 -64.5)">PC3</text>
<text x="290.3" y="489.7" font-size="8.5" font-weight="bold" transform="matrix(1 0 0 1.1 0 -49)">i</text>
<text x="331.7" y="506" font-size="9.5" transform="matrix(1 0 0 1.1 0 -50.6)">Comparison of neighborhoods for 1000 samples</text>
<line x1="352" y1="523.2" x2="352" y2="606.5" stroke="#ebebeb" stroke-width=".5"/>
<line x1="381.2" y1="523.2" x2="381.2" y2="606.5" stroke="#ebebeb" stroke-width=".5"/>
<line x1="410.4" y1="523.2" x2="410.4" y2="606.5" stroke="#ebebeb" stroke-width=".5"/>
<line x1="439.6" y1="523.2" x2="439.6" y2="606.5" stroke="#ebebeb" stroke-width=".5"/>
<line x1="331.5" y1="590.9" x2="460.6" y2="590.9" stroke="#ebebeb" stroke-width=".5"/>
<line x1="331.5" y1="567.5" x2="460.6" y2="567.5" stroke="#ebebeb" stroke-width=".5"/>
<line x1="331.5" y1="544.1" x2="460.6" y2="544.1" stroke="#ebebeb" stroke-width=".5"/>
<line x1="337.4" y1="523.2" x2="337.4" y2="606.5" stroke="#ebebeb" stroke-width=".9"/>
<line x1="366.6" y1="523.2" x2="366.6" y2="606.5" stroke="#ebebeb" stroke-width=".9"/>
<line x1="395.8" y1="523.2" x2="395.8" y2="606.5" stroke="#ebebeb" stroke-width=".9"/>
<line x1="425" y1="523.2" x2="425" y2="606.5" stroke="#ebebeb" stroke-width=".9"/>
<line x1="454.2" y1="523.2" x2="454.2" y2="606.5" stroke="#ebebeb" stroke-width=".9"/>
<line x1="331.5" y1="602.6" x2="460.6" y2="602.6" stroke="#ebebeb" stroke-width=".9"/>
<line x1="331.5" y1="579.2" x2="460.6" y2="579.2" stroke="#ebebeb" stroke-width=".9"/>
<line x1="331.5" y1="555.8" x2="460.6" y2="555.8" stroke="#ebebeb" stroke-width=".9"/>
<line x1="331.5" y1="532.4" x2="460.6" y2="532.4" stroke="#ebebeb" stroke-width=".9"/>
<rect x="331.5" y="512" width="129.1" height="11.2" fill="#d9d9d9" stroke="#4d4d4d" stroke-width=".8"/>
<text x="396.1" y="519.7" font-size="5.8" text-anchor="middle" fill="#1a1a1a" transform="matrix(1 0 0 1.1 0 -52)">METABRIC</text>
<path d="M337.4 602.6 L337.4 602.6 L339.2 602.6 L341 602.6 L342.9 602.6 L344.7 602.6 L346.5 602.6 L348.3 602.6 L350.2 602.6 L352 602.6 L353.8 602.6 L355.6 602.6 L357.5 602.6 L359.3 602.6 L361.1 602.6 L362.9 602.6 L364.8 602.6 L366.6 602.6 L368.4 602.6 L370.2 602.6 L372.1 602.6 L373.9 602.6 L375.7 602.6 L377.5 602.6 L379.4 602.6 L381.2 602.6 L383 602.6 L384.8 602.6 L386.7 602.6 L388.5 602.6 L390.3 602.6 L392.1 602.6 L394 602.6 L395.8 602.6 L397.6 602.6 L399.4 602.6 L401.3 602.6 L403.1 602.6 L404.9 602.6 L406.8 602.6 L408.6 602.6 L410.4 602.6 L412.2 602.6 L414 602.6 L415.9 602.6 L417.7 602.5 L419.5 602.4 L421.3 602 L423.2 601.2 L425 599.3 L426.8 595.7 L428.6 589.6 L430.5 580.4 L432.3 568.2 L434.1 554.2 L435.9 540.8 L437.8 531.1 L439.6 527.5 L441.4 532.5 L443.2 545.6 L445.1 562.1 L446.9 577.1 L448.7 587.6 L450.5 593 L452.4 595 L454.2 595.9 L454.2 602.6 Z" fill="#f3c9df" fill-opacity="0.9"/>
<path d="M337.4 602.6 L339.2 602.6 L341 602.6 L342.9 602.6 L344.7 602.6 L346.5 602.6 L348.3 602.6 L350.2 602.6 L352 602.6 L353.8 602.6 L355.6 602.6 L357.5 602.6 L359.3 602.6 L361.1 602.6 L362.9 602.6 L364.8 602.6 L366.6 602.6 L368.4 602.6 L370.2 602.6 L372.1 602.6 L373.9 602.6 L375.7 602.6 L377.5 602.6 L379.4 602.6 L381.2 602.6 L383 602.6 L384.8 602.6 L386.7 602.6 L388.5 602.6 L390.3 602.6 L392.1 602.6 L394 602.6 L395.8 602.6 L397.6 602.6 L399.4 602.6 L401.3 602.6 L403.1 602.6 L404.9 602.6 L406.8 602.6 L408.6 602.6 L410.4 602.6 L412.2 602.6 L414 602.6 L415.9 602.6 L417.7 602.5 L419.5 602.4 L421.3 602 L423.2 601.2 L425 599.3 L426.8 595.7 L428.6 589.6 L430.5 580.4 L432.3 568.2 L434.1 554.2 L435.9 540.8 L437.8 531.1 L439.6 527.5 L441.4 532.5 L443.2 545.6 L445.1 562.1 L446.9 577.1 L448.7 587.6 L450.5 593 L452.4 595 L454.2 595.9 L454.2 602.6" fill="none" stroke="#1a1a1a" stroke-width=".5" stroke-linejoin="round"/>
<path d="M337.4 602.6 L337.4 602.6 L339.2 602.6 L341 602.6 L342.9 602.5 L344.7 602.5 L346.5 602.5 L348.3 602.4 L350.2 602.4 L352 602.3 L353.8 602.2 L355.6 602 L357.5 601.8 L359.3 601.6 L361.1 601.3 L362.9 600.9 L364.8 600.4 L366.6 599.8 L368.4 599 L370.2 598.2 L372.1 597.1 L373.9 595.9 L375.7 594.6 L377.5 593 L379.4 591.3 L381.2 589.4 L383 587.4 L384.8 585.2 L386.7 582.9 L388.5 580.6 L390.3 578.3 L392.1 576 L394 573.8 L395.8 571.8 L397.6 570 L399.4 568.5 L401.3 567.2 L403.1 566.4 L404.9 565.9 L406.8 565.8 L408.6 566.2 L410.4 567.1 L412.2 568.4 L414 570.2 L415.9 572.4 L417.7 574.8 L419.5 577.4 L421.3 580 L423.2 582.7 L425 585.3 L426.8 587.8 L428.6 590.1 L430.5 592.2 L432.3 594.1 L434.1 595.7 L435.9 597.1 L437.8 598.3 L439.6 599.3 L441.4 600.1 L443.2 600.7 L445.1 601.1 L446.9 601.2 L448.7 600.8 L450.5 600 L452.4 599.2 L454.2 598.8 L454.2 602.6 Z" fill="#c5e6bd" fill-opacity="0.8"/>
<path d="M337.4 602.6 L339.2 602.6 L341 602.6 L342.9 602.5 L344.7 602.5 L346.5 602.5 L348.3 602.4 L350.2 602.4 L352 602.3 L353.8 602.2 L355.6 602 L357.5 601.8 L359.3 601.6 L361.1 601.3 L362.9 600.9 L364.8 600.4 L366.6 599.8 L368.4 599 L370.2 598.2 L372.1 597.1 L373.9 595.9 L375.7 594.6 L377.5 593 L379.4 591.3 L381.2 589.4 L383 587.4 L384.8 585.2 L386.7 582.9 L388.5 580.6 L390.3 578.3 L392.1 576 L394 573.8 L395.8 571.8 L397.6 570 L399.4 568.5 L401.3 567.2 L403.1 566.4 L404.9 565.9 L406.8 565.8 L408.6 566.2 L410.4 567.1 L412.2 568.4 L414 570.2 L415.9 572.4 L417.7 574.8 L419.5 577.4 L421.3 580 L423.2 582.7 L425 585.3 L426.8 587.8 L428.6 590.1 L430.5 592.2 L432.3 594.1 L434.1 595.7 L435.9 597.1 L437.8 598.3 L439.6 599.3 L441.4 600.1 L443.2 600.7 L445.1 601.1 L446.9 601.2 L448.7 600.8 L450.5 600 L452.4 599.2 L454.2 598.8 L454.2 602.6" fill="none" stroke="#1a1a1a" stroke-width=".5" stroke-linejoin="round"/>
<path d="M337.4 602.6 L337.4 602.6 L339.2 602.6 L341 602.6 L342.9 602.6 L344.7 602.6 L346.5 602.6 L348.3 602.6 L350.2 602.6 L352 602.5 L353.8 602.5 L355.6 602.5 L357.5 602.4 L359.3 602.3 L361.1 602.2 L362.9 602.1 L364.8 601.9 L366.6 601.6 L368.4 601.3 L370.2 600.8 L372.1 600.3 L373.9 599.6 L375.7 598.7 L377.5 597.7 L379.4 596.5 L381.2 595 L383 593.4 L384.8 591.5 L386.7 589.4 L388.5 587.1 L390.3 584.7 L392.1 582.1 L394 579.4 L395.8 576.8 L397.6 574.1 L399.4 571.6 L401.3 569.2 L403.1 567.2 L404.9 565.5 L406.8 564.1 L408.6 563.2 L410.4 562.8 L412.2 563 L414 563.8 L415.9 565.2 L417.7 567.1 L419.5 569.6 L421.3 572.3 L423.2 575.3 L425 578.5 L426.8 581.6 L428.6 584.6 L430.5 587.5 L432.3 590.1 L434.1 592.4 L435.9 594.5 L437.8 596.2 L439.6 597.7 L441.4 598.8 L443.2 599.8 L445.1 600.4 L446.9 600.7 L448.7 600.5 L450.5 599.8 L452.4 599 L454.2 598.7 L454.2 602.6 Z" fill="#a8d8a0" fill-opacity="0.6"/>
<path d="M337.4 602.6 L339.2 602.6 L341 602.6 L342.9 602.6 L344.7 602.6 L346.5 602.6 L348.3 602.6 L350.2 602.6 L352 602.5 L353.8 602.5 L355.6 602.5 L357.5 602.4 L359.3 602.3 L361.1 602.2 L362.9 602.1 L364.8 601.9 L366.6 601.6 L368.4 601.3 L370.2 600.8 L372.1 600.3 L373.9 599.6 L375.7 598.7 L377.5 597.7 L379.4 596.5 L381.2 595 L383 593.4 L384.8 591.5 L386.7 589.4 L388.5 587.1 L390.3 584.7 L392.1 582.1 L394 579.4 L395.8 576.8 L397.6 574.1 L399.4 571.6 L401.3 569.2 L403.1 567.2 L404.9 565.5 L406.8 564.1 L408.6 563.2 L410.4 562.8 L412.2 563 L414 563.8 L415.9 565.2 L417.7 567.1 L419.5 569.6 L421.3 572.3 L423.2 575.3 L425 578.5 L426.8 581.6 L428.6 584.6 L430.5 587.5 L432.3 590.1 L434.1 592.4 L435.9 594.5 L437.8 596.2 L439.6 597.7 L441.4 598.8 L443.2 599.8 L445.1 600.4 L446.9 600.7 L448.7 600.5 L450.5 599.8 L452.4 599 L454.2 598.7 L454.2 602.6" fill="none" stroke="#1a1a1a" stroke-width=".5" stroke-linejoin="round"/>
<path d="M337.4 602.6 L337.4 602.6 L339.2 602.6 L341 602.6 L342.9 602.6 L344.7 602.6 L346.5 602.6 L348.3 602.6 L350.2 602.6 L352 602.6 L353.8 602.6 L355.6 602.6 L357.5 602.6 L359.3 602.5 L361.1 602.5 L362.9 602.5 L364.8 602.4 L366.6 602.3 L368.4 602.2 L370.2 602 L372.1 601.8 L373.9 601.5 L375.7 601 L377.5 600.5 L379.4 599.8 L381.2 598.9 L383 597.8 L384.8 596.5 L386.7 594.9 L388.5 593.1 L390.3 591.1 L392.1 588.7 L394 586.2 L395.8 583.4 L397.6 580.5 L399.4 577.5 L401.3 574.6 L403.1 571.7 L404.9 569 L406.8 566.6 L408.6 564.6 L410.4 563.1 L412.2 562.1 L414 561.7 L415.9 561.9 L417.7 562.9 L419.5 564.7 L421.3 567.1 L423.2 570 L425 573.3 L426.8 576.8 L428.6 580.3 L430.5 583.7 L432.3 586.9 L434.1 589.9 L435.9 592.5 L437.8 594.7 L439.6 596.5 L441.4 598 L443.2 599.2 L445.1 600.1 L446.9 600.5 L448.7 600.4 L450.5 599.8 L452.4 599 L454.2 598.7 L454.2 602.6 Z" fill="#86c488" fill-opacity="0.5"/>
<path d="M337.4 602.6 L339.2 602.6 L341 602.6 L342.9 602.6 L344.7 602.6 L346.5 602.6 L348.3 602.6 L350.2 602.6 L352 602.6 L353.8 602.6 L355.6 602.6 L357.5 602.6 L359.3 602.5 L361.1 602.5 L362.9 602.5 L364.8 602.4 L366.6 602.3 L368.4 602.2 L370.2 602 L372.1 601.8 L373.9 601.5 L375.7 601 L377.5 600.5 L379.4 599.8 L381.2 598.9 L383 597.8 L384.8 596.5 L386.7 594.9 L388.5 593.1 L390.3 591.1 L392.1 588.7 L394 586.2 L395.8 583.4 L397.6 580.5 L399.4 577.5 L401.3 574.6 L403.1 571.7 L404.9 569 L406.8 566.6 L408.6 564.6 L410.4 563.1 L412.2 562.1 L414 561.7 L415.9 561.9 L417.7 562.9 L419.5 564.7 L421.3 567.1 L423.2 570 L425 573.3 L426.8 576.8 L428.6 580.3 L430.5 583.7 L432.3 586.9 L434.1 589.9 L435.9 592.5 L437.8 594.7 L439.6 596.5 L441.4 598 L443.2 599.2 L445.1 600.1 L446.9 600.5 L448.7 600.4 L450.5 599.8 L452.4 599 L454.2 598.7 L454.2 602.6" fill="none" stroke="#1a1a1a" stroke-width=".5" stroke-linejoin="round"/>
<path d="M337.4 602.6 L337.4 602.6 L339.2 602.6 L341 602.6 L342.9 602.6 L344.7 602.6 L346.5 602.6 L348.3 602.6 L350.2 602.6 L352 602.6 L353.8 602.6 L355.6 602.6 L357.5 602.6 L359.3 602.6 L361.1 602.6 L362.9 602.6 L364.8 602.6 L366.6 602.5 L368.4 602.5 L370.2 602.4 L372.1 602.4 L373.9 602.2 L375.7 602.1 L377.5 601.8 L379.4 601.5 L381.2 601.1 L383 600.5 L384.8 599.8 L386.7 598.9 L388.5 597.7 L390.3 596.3 L392.1 594.6 L394 592.6 L395.8 590.2 L397.6 587.6 L399.4 584.7 L401.3 581.6 L403.1 578.3 L404.9 575 L406.8 571.6 L408.6 568.4 L410.4 565.5 L412.2 562.9 L414 560.8 L415.9 559.3 L417.7 558.4 L419.5 558.2 L421.3 558.9 L423.2 560.7 L425 563.4 L426.8 566.8 L428.6 570.6 L430.5 574.8 L432.3 579 L434.1 583 L435.9 586.8 L437.8 590.1 L439.6 593 L441.4 595.4 L443.2 597.3 L445.1 598.7 L446.9 599.6 L448.7 599.8 L450.5 599.4 L452.4 598.8 L454.2 598.6 L454.2 602.6 Z" fill="#6cb474" fill-opacity="0.45"/>
<path d="M337.4 602.6 L339.2 602.6 L341 602.6 L342.9 602.6 L344.7 602.6 L346.5 602.6 L348.3 602.6 L350.2 602.6 L352 602.6 L353.8 602.6 L355.6 602.6 L357.5 602.6 L359.3 602.6 L361.1 602.6 L362.9 602.6 L364.8 602.6 L366.6 602.5 L368.4 602.5 L370.2 602.4 L372.1 602.4 L373.9 602.2 L375.7 602.1 L377.5 601.8 L379.4 601.5 L381.2 601.1 L383 600.5 L384.8 599.8 L386.7 598.9 L388.5 597.7 L390.3 596.3 L392.1 594.6 L394 592.6 L395.8 590.2 L397.6 587.6 L399.4 584.7 L401.3 581.6 L403.1 578.3 L404.9 575 L406.8 571.6 L408.6 568.4 L410.4 565.5 L412.2 562.9 L414 560.8 L415.9 559.3 L417.7 558.4 L419.5 558.2 L421.3 558.9 L423.2 560.7 L425 563.4 L426.8 566.8 L428.6 570.6 L430.5 574.8 L432.3 579 L434.1 583 L435.9 586.8 L437.8 590.1 L439.6 593 L441.4 595.4 L443.2 597.3 L445.1 598.7 L446.9 599.6 L448.7 599.8 L450.5 599.4 L452.4 598.8 L454.2 598.6 L454.2 602.6" fill="none" stroke="#1a1a1a" stroke-width=".5" stroke-linejoin="round"/>
<path d="M337.4 602.6 L337.4 602.6 L339.2 602.6 L341 602.6 L342.9 602.6 L344.7 602.6 L346.5 602.6 L348.3 602.6 L350.2 602.6 L352 602.6 L353.8 602.6 L355.6 602.6 L357.5 602.6 L359.3 602.6 L361.1 602.6 L362.9 602.6 L364.8 602.6 L366.6 602.6 L368.4 602.6 L370.2 602.6 L372.1 602.5 L373.9 602.5 L375.7 602.4 L377.5 602.3 L379.4 602.2 L381.2 602 L383 601.7 L384.8 601.3 L386.7 600.8 L388.5 600.1 L390.3 599.2 L392.1 598 L394 596.6 L395.8 594.8 L397.6 592.6 L399.4 590.1 L401.3 587.3 L403.1 584 L404.9 580.5 L406.8 576.8 L408.6 573 L410.4 569.1 L412.2 565.4 L414 561.9 L415.9 558.9 L417.7 556.4 L419.5 554.7 L421.3 553.7 L423.2 553.5 L425 554.7 L426.8 557.2 L428.6 560.8 L430.5 565.3 L432.3 570.3 L434.1 575.5 L435.9 580.5 L437.8 585.1 L439.6 589.2 L441.4 592.6 L443.2 595.3 L445.1 597.4 L446.9 598.7 L448.7 599.1 L450.5 598.8 L452.4 598.1 L454.2 598 L454.2 602.6 Z" fill="#b4a8d0" fill-opacity="0.5"/>
<path d="M337.4 602.6 L339.2 602.6 L341 602.6 L342.9 602.6 L344.7 602.6 L346.5 602.6 L348.3 602.6 L350.2 602.6 L352 602.6 L353.8 602.6 L355.6 602.6 L357.5 602.6 L359.3 602.6 L361.1 602.6 L362.9 602.6 L364.8 602.6 L366.6 602.6 L368.4 602.6 L370.2 602.6 L372.1 602.5 L373.9 602.5 L375.7 602.4 L377.5 602.3 L379.4 602.2 L381.2 602 L383 601.7 L384.8 601.3 L386.7 600.8 L388.5 600.1 L390.3 599.2 L392.1 598 L394 596.6 L395.8 594.8 L397.6 592.6 L399.4 590.1 L401.3 587.3 L403.1 584 L404.9 580.5 L406.8 576.8 L408.6 573 L410.4 569.1 L412.2 565.4 L414 561.9 L415.9 558.9 L417.7 556.4 L419.5 554.7 L421.3 553.7 L423.2 553.5 L425 554.7 L426.8 557.2 L428.6 560.8 L430.5 565.3 L432.3 570.3 L434.1 575.5 L435.9 580.5 L437.8 585.1 L439.6 589.2 L441.4 592.6 L443.2 595.3 L445.1 597.4 L446.9 598.7 L448.7 599.1 L450.5 598.8 L452.4 598.1 L454.2 598 L454.2 602.6" fill="none" stroke="#1a1a1a" stroke-width=".5" stroke-linejoin="round"/>
<path d="M337.4 602.6 L337.4 602.6 L339.2 602.6 L341 602.6 L342.9 602.6 L344.7 602.6 L346.5 602.6 L348.3 602.6 L350.2 602.6 L352 602.6 L353.8 602.6 L355.6 602.6 L357.5 602.6 L359.3 602.6 L361.1 602.6 L362.9 602.6 L364.8 602.6 L366.6 602.6 L368.4 602.6 L370.2 602.6 L372.1 602.6 L373.9 602.6 L375.7 602.6 L377.5 602.5 L379.4 602.5 L381.2 602.4 L383 602.3 L384.8 602.1 L386.7 601.9 L388.5 601.6 L390.3 601.1 L392.1 600.5 L394 599.6 L395.8 598.5 L397.6 597.1 L399.4 595.3 L401.3 593.1 L403.1 590.6 L404.9 587.5 L406.8 584.1 L408.6 580.3 L410.4 576.2 L412.2 571.9 L414 567.6 L415.9 563.3 L417.7 559.4 L419.5 556 L421.3 553.2 L423.2 551.2 L425 550.1 L426.8 550.1 L428.6 551.8 L430.5 555.3 L432.3 560.1 L434.1 566 L435.9 572.2 L437.8 578.3 L439.6 583.9 L441.4 588.7 L443.2 592.7 L445.1 595.7 L446.9 597.6 L448.7 598.5 L450.5 598.5 L452.4 598 L454.2 597.9 L454.2 602.6 Z" fill="#a597c4" fill-opacity="0.45"/>
<path d="M337.4 602.6 L339.2 602.6 L341 602.6 L342.9 602.6 L344.7 602.6 L346.5 602.6 L348.3 602.6 L350.2 602.6 L352 602.6 L353.8 602.6 L355.6 602.6 L357.5 602.6 L359.3 602.6 L361.1 602.6 L362.9 602.6 L364.8 602.6 L366.6 602.6 L368.4 602.6 L370.2 602.6 L372.1 602.6 L373.9 602.6 L375.7 602.6 L377.5 602.5 L379.4 602.5 L381.2 602.4 L383 602.3 L384.8 602.1 L386.7 601.9 L388.5 601.6 L390.3 601.1 L392.1 600.5 L394 599.6 L395.8 598.5 L397.6 597.1 L399.4 595.3 L401.3 593.1 L403.1 590.6 L404.9 587.5 L406.8 584.1 L408.6 580.3 L410.4 576.2 L412.2 571.9 L414 567.6 L415.9 563.3 L417.7 559.4 L419.5 556 L421.3 553.2 L423.2 551.2 L425 550.1 L426.8 550.1 L428.6 551.8 L430.5 555.3 L432.3 560.1 L434.1 566 L435.9 572.2 L437.8 578.3 L439.6 583.9 L441.4 588.7 L443.2 592.7 L445.1 595.7 L446.9 597.6 L448.7 598.5 L450.5 598.5 L452.4 598 L454.2 597.9 L454.2 602.6" fill="none" stroke="#1a1a1a" stroke-width=".5" stroke-linejoin="round"/>
<path d="M337.4 602.6 L337.4 602.6 L339.2 602.6 L341 602.6 L342.9 602.6 L344.7 602.6 L346.5 602.6 L348.3 602.6 L350.2 602.6 L352 602.6 L353.8 602.6 L355.6 602.6 L357.5 602.6 L359.3 602.6 L361.1 602.6 L362.9 602.6 L364.8 602.6 L366.6 602.6 L368.4 602.6 L370.2 602.6 L372.1 602.6 L373.9 602.6 L375.7 602.6 L377.5 602.6 L379.4 602.6 L381.2 602.6 L383 602.5 L384.8 602.5 L386.7 602.4 L388.5 602.3 L390.3 602.2 L392.1 601.9 L394 601.5 L395.8 601 L397.6 600.2 L399.4 599.2 L401.3 597.8 L403.1 596 L404.9 593.7 L406.8 590.8 L408.6 587.4 L410.4 583.5 L412.2 579.1 L414 574.3 L415.9 569.2 L417.7 564.1 L419.5 559.2 L421.3 554.7 L423.2 551 L425 548.1 L426.8 546.4 L428.6 545.9 L430.5 547.3 L432.3 550.9 L434.1 556.4 L435.9 563.1 L437.8 570.2 L439.6 577.2 L441.4 583.5 L443.2 588.8 L445.1 593 L446.9 595.8 L448.7 597.3 L450.5 597.5 L452.4 597.1 L454.2 597.2 L454.2 602.6 Z" fill="#8f80b0" fill-opacity="0.42"/>
<path d="M337.4 602.6 L339.2 602.6 L341 602.6 L342.9 602.6 L344.7 602.6 L346.5 602.6 L348.3 602.6 L350.2 602.6 L352 602.6 L353.8 602.6 L355.6 602.6 L357.5 602.6 L359.3 602.6 L361.1 602.6 L362.9 602.6 L364.8 602.6 L366.6 602.6 L368.4 602.6 L370.2 602.6 L372.1 602.6 L373.9 602.6 L375.7 602.6 L377.5 602.6 L379.4 602.6 L381.2 602.6 L383 602.5 L384.8 602.5 L386.7 602.4 L388.5 602.3 L390.3 602.2 L392.1 601.9 L394 601.5 L395.8 601 L397.6 600.2 L399.4 599.2 L401.3 597.8 L403.1 596 L404.9 593.7 L406.8 590.8 L408.6 587.4 L410.4 583.5 L412.2 579.1 L414 574.3 L415.9 569.2 L417.7 564.1 L419.5 559.2 L421.3 554.7 L423.2 551 L425 548.1 L426.8 546.4 L428.6 545.9 L430.5 547.3 L432.3 550.9 L434.1 556.4 L435.9 563.1 L437.8 570.2 L439.6 577.2 L441.4 583.5 L443.2 588.8 L445.1 593 L446.9 595.8 L448.7 597.3 L450.5 597.5 L452.4 597.1 L454.2 597.2 L454.2 602.6" fill="none" stroke="#1a1a1a" stroke-width=".5" stroke-linejoin="round"/>
<path d="M337.4 602.6 L337.4 602.6 L339.2 602.6 L341 602.6 L342.9 602.6 L344.7 602.6 L346.5 602.6 L348.3 602.6 L350.2 602.6 L352 602.6 L353.8 602.6 L355.6 602.6 L357.5 602.6 L359.3 602.6 L361.1 602.6 L362.9 602.6 L364.8 602.6 L366.6 602.6 L368.4 602.6 L370.2 602.6 L372.1 602.6 L373.9 602.6 L375.7 602.6 L377.5 602.6 L379.4 602.6 L381.2 602.6 L383 602.6 L384.8 602.6 L386.7 602.6 L388.5 602.5 L390.3 602.5 L392.1 602.4 L394 602.2 L395.8 602 L397.6 601.7 L399.4 601.2 L401.3 600.4 L403.1 599.4 L404.9 598 L406.8 596.1 L408.6 593.7 L410.4 590.7 L412.2 587 L414 582.7 L415.9 577.8 L417.7 572.4 L419.5 566.7 L421.3 561.1 L423.2 555.6 L425 550.8 L426.8 546.8 L428.6 544 L430.5 542.5 L432.3 542.7 L434.1 545.7 L435.9 551.4 L437.8 558.8 L439.6 567.1 L441.4 575.3 L443.2 582.7 L445.1 588.7 L446.9 593 L448.7 595.6 L450.5 596.6 L452.4 596.7 L454.2 596.9 L454.2 602.6 Z" fill="#7f70a0" fill-opacity="0.42"/>
<path d="M337.4 602.6 L339.2 602.6 L341 602.6 L342.9 602.6 L344.7 602.6 L346.5 602.6 L348.3 602.6 L350.2 602.6 L352 602.6 L353.8 602.6 L355.6 602.6 L357.5 602.6 L359.3 602.6 L361.1 602.6 L362.9 602.6 L364.8 602.6 L366.6 602.6 L368.4 602.6 L370.2 602.6 L372.1 602.6 L373.9 602.6 L375.7 602.6 L377.5 602.6 L379.4 602.6 L381.2 602.6 L383 602.6 L384.8 602.6 L386.7 602.6 L388.5 602.5 L390.3 602.5 L392.1 602.4 L394 602.2 L395.8 602 L397.6 601.7 L399.4 601.2 L401.3 600.4 L403.1 599.4 L404.9 598 L406.8 596.1 L408.6 593.7 L410.4 590.7 L412.2 587 L414 582.7 L415.9 577.8 L417.7 572.4 L419.5 566.7 L421.3 561.1 L423.2 555.6 L425 550.8 L426.8 546.8 L428.6 544 L430.5 542.5 L432.3 542.7 L434.1 545.7 L435.9 551.4 L437.8 558.8 L439.6 567.1 L441.4 575.3 L443.2 582.7 L445.1 588.7 L446.9 593 L448.7 595.6 L450.5 596.6 L452.4 596.7 L454.2 596.9 L454.2 602.6" fill="none" stroke="#1a1a1a" stroke-width=".5" stroke-linejoin="round"/>
<path d="M337.4 602.6 L337.4 602.6 L339.2 602.6 L341 602.6 L342.9 602.6 L344.7 602.6 L346.5 602.6 L348.3 602.6 L350.2 602.6 L352 602.6 L353.8 602.6 L355.6 602.6 L357.5 602.6 L359.3 602.6 L361.1 602.6 L362.9 602.6 L364.8 602.6 L366.6 602.6 L368.4 602.6 L370.2 602.6 L372.1 602.6 L373.9 602.6 L375.7 602.6 L377.5 602.6 L379.4 602.6 L381.2 602.6 L383 602.6 L384.8 602.6 L386.7 602.6 L388.5 602.6 L390.3 602.6 L392.1 602.5 L394 602.5 L395.8 602.4 L397.6 602.2 L399.4 601.9 L401.3 601.5 L403.1 600.8 L404.9 599.9 L406.8 598.6 L408.6 596.8 L410.4 594.4 L412.2 591.3 L414 587.5 L415.9 583 L417.7 577.9 L419.5 572.2 L421.3 566.2 L423.2 560.2 L425 554.5 L426.8 549.4 L428.6 545.5 L430.5 542.9 L432.3 541.8 L434.1 543.1 L435.9 548 L437.8 555.5 L439.6 564.5 L441.4 573.7 L443.2 582 L445.1 588.7 L446.9 593.4 L448.7 596.1 L450.5 597.1 L452.4 597.1 L454.2 597.2 L454.2 602.6 Z" fill="#6fa3d8" fill-opacity="0.3"/>
<path d="M337.4 602.6 L339.2 602.6 L341 602.6 L342.9 602.6 L344.7 602.6 L346.5 602.6 L348.3 602.6 L350.2 602.6 L352 602.6 L353.8 602.6 L355.6 602.6 L357.5 602.6 L359.3 602.6 L361.1 602.6 L362.9 602.6 L364.8 602.6 L366.6 602.6 L368.4 602.6 L370.2 602.6 L372.1 602.6 L373.9 602.6 L375.7 602.6 L377.5 602.6 L379.4 602.6 L381.2 602.6 L383 602.6 L384.8 602.6 L386.7 602.6 L388.5 602.6 L390.3 602.6 L392.1 602.5 L394 602.5 L395.8 602.4 L397.6 602.2 L399.4 601.9 L401.3 601.5 L403.1 600.8 L404.9 599.9 L406.8 598.6 L408.6 596.8 L410.4 594.4 L412.2 591.3 L414 587.5 L415.9 583 L417.7 577.9 L419.5 572.2 L421.3 566.2 L423.2 560.2 L425 554.5 L426.8 549.4 L428.6 545.5 L430.5 542.9 L432.3 541.8 L434.1 543.1 L435.9 548 L437.8 555.5 L439.6 564.5 L441.4 573.7 L443.2 582 L445.1 588.7 L446.9 593.4 L448.7 596.1 L450.5 597.1 L452.4 597.1 L454.2 597.2 L454.2 602.6" fill="none" stroke="#1a1a1a" stroke-width=".5" stroke-linejoin="round"/>
<path d="M337.4 602.6 L337.4 602.6 L339.2 602.6 L341 602.6 L342.9 602.6 L344.7 602.6 L346.5 602.6 L348.3 602.6 L350.2 602.6 L352 602.6 L353.8 602.6 L355.6 602.6 L357.5 602.6 L359.3 602.6 L361.1 602.6 L362.9 602.6 L364.8 602.6 L366.6 602.6 L368.4 602.6 L370.2 602.6 L372.1 602.6 L373.9 602.6 L375.7 602.6 L377.5 602.6 L379.4 602.6 L381.2 602.6 L383 602.6 L384.8 602.6 L386.7 602.6 L388.5 602.6 L390.3 602.5 L392.1 602.5 L394 602.4 L395.8 602.3 L397.6 602 L399.4 601.7 L401.3 601.1 L403.1 600.2 L404.9 599 L406.8 597.2 L408.6 594.9 L410.4 591.8 L412.2 588 L414 583.4 L415.9 578.1 L417.7 572.3 L419.5 566.3 L421.3 560.3 L423.2 554.8 L425 550.1 L426.8 546.8 L428.6 545 L430.5 545 L432.3 547.6 L434.1 552.7 L435.9 559.5 L437.8 567.2 L439.6 574.9 L441.4 582 L443.2 588 L445.1 592.6 L446.9 595.8 L448.7 597.4 L450.5 597.7 L452.4 597.3 L454.2 597.3 L454.2 602.6 Z" fill="#e9aed0" fill-opacity="0.45"/>
<path d="M337.4 602.6 L339.2 602.6 L341 602.6 L342.9 602.6 L344.7 602.6 L346.5 602.6 L348.3 602.6 L350.2 602.6 L352 602.6 L353.8 602.6 L355.6 602.6 L357.5 602.6 L359.3 602.6 L361.1 602.6 L362.9 602.6 L364.8 602.6 L366.6 602.6 L368.4 602.6 L370.2 602.6 L372.1 602.6 L373.9 602.6 L375.7 602.6 L377.5 602.6 L379.4 602.6 L381.2 602.6 L383 602.6 L384.8 602.6 L386.7 602.6 L388.5 602.6 L390.3 602.5 L392.1 602.5 L394 602.4 L395.8 602.3 L397.6 602 L399.4 601.7 L401.3 601.1 L403.1 600.2 L404.9 599 L406.8 597.2 L408.6 594.9 L410.4 591.8 L412.2 588 L414 583.4 L415.9 578.1 L417.7 572.3 L419.5 566.3 L421.3 560.3 L423.2 554.8 L425 550.1 L426.8 546.8 L428.6 545 L430.5 545 L432.3 547.6 L434.1 552.7 L435.9 559.5 L437.8 567.2 L439.6 574.9 L441.4 582 L443.2 588 L445.1 592.6 L446.9 595.8 L448.7 597.4 L450.5 597.7 L452.4 597.3 L454.2 597.3 L454.2 602.6" fill="none" stroke="#1a1a1a" stroke-width=".5" stroke-linejoin="round"/>
<path d="M337.4 602.6 L337.4 602.6 L339.2 602.6 L341 602.6 L342.9 602.6 L344.7 602.6 L346.5 602.6 L348.3 602.6 L350.2 602.6 L352 602.6 L353.8 602.6 L355.6 602.6 L357.5 602.6 L359.3 602.6 L361.1 602.6 L362.9 602.6 L364.8 602.6 L366.6 602.6 L368.4 602.6 L370.2 602.6 L372.1 602.6 L373.9 602.6 L375.7 602.6 L377.5 602.6 L379.4 602.6 L381.2 602.6 L383 602.6 L384.8 602.6 L386.7 602.6 L388.5 602.6 L390.3 602.6 L392.1 602.6 L394 602.6 L395.8 602.5 L397.6 602.5 L399.4 602.4 L401.3 602.2 L403.1 601.8 L404.9 601.3 L406.8 600.5 L408.6 599.3 L410.4 597.6 L412.2 595.2 L414 592.1 L415.9 588.2 L417.7 583.5 L419.5 578.2 L421.3 572.4 L423.2 566.4 L425 560.6 L426.8 555.6 L428.6 551.8 L430.5 549.4 L432.3 548.8 L434.1 550.8 L435.9 555.4 L437.8 561.9 L439.6 569.5 L441.4 577.1 L443.2 584 L445.1 589.6 L446.9 593.7 L448.7 596.1 L450.5 596.9 L452.4 596.9 L454.2 597.1 L454.2 602.6 Z" fill="#d98ab8" fill-opacity="0.45"/>
<path d="M337.4 602.6 L339.2 602.6 L341 602.6 L342.9 602.6 L344.7 602.6 L346.5 602.6 L348.3 602.6 L350.2 602.6 L352 602.6 L353.8 602.6 L355.6 602.6 L357.5 602.6 L359.3 602.6 L361.1 602.6 L362.9 602.6 L364.8 602.6 L366.6 602.6 L368.4 602.6 L370.2 602.6 L372.1 602.6 L373.9 602.6 L375.7 602.6 L377.5 602.6 L379.4 602.6 L381.2 602.6 L383 602.6 L384.8 602.6 L386.7 602.6 L388.5 602.6 L390.3 602.6 L392.1 602.6 L394 602.6 L395.8 602.5 L397.6 602.5 L399.4 602.4 L401.3 602.2 L403.1 601.8 L404.9 601.3 L406.8 600.5 L408.6 599.3 L410.4 597.6 L412.2 595.2 L414 592.1 L415.9 588.2 L417.7 583.5 L419.5 578.2 L421.3 572.4 L423.2 566.4 L425 560.6 L426.8 555.6 L428.6 551.8 L430.5 549.4 L432.3 548.8 L434.1 550.8 L435.9 555.4 L437.8 561.9 L439.6 569.5 L441.4 577.1 L443.2 584 L445.1 589.6 L446.9 593.7 L448.7 596.1 L450.5 596.9 L452.4 596.9 L454.2 597.1 L454.2 602.6" fill="none" stroke="#1a1a1a" stroke-width=".5" stroke-linejoin="round"/>
<path d="M337.4 602.6 L337.4 602.6 L339.2 602.6 L341 602.6 L342.9 602.6 L344.7 602.6 L346.5 602.6 L348.3 602.6 L350.2 602.6 L352 602.6 L353.8 602.6 L355.6 602.6 L357.5 602.6 L359.3 602.6 L361.1 602.6 L362.9 602.6 L364.8 602.6 L366.6 602.6 L368.4 602.6 L370.2 602.6 L372.1 602.6 L373.9 602.6 L375.7 602.6 L377.5 602.6 L379.4 602.6 L381.2 602.6 L383 602.6 L384.8 602.6 L386.7 602.6 L388.5 602.6 L390.3 602.6 L392.1 602.6 L394 602.6 L395.8 602.6 L397.6 602.5 L399.4 602.5 L401.3 602.3 L403.1 602.1 L404.9 601.7 L406.8 601.1 L408.6 600.2 L410.4 598.8 L412.2 596.8 L414 594.1 L415.9 590.6 L417.7 586.3 L419.5 581.3 L421.3 575.8 L423.2 570.1 L425 564.7 L426.8 560.1 L428.6 556.7 L430.5 554.9 L432.3 555 L434.1 557.9 L435.9 563.1 L437.8 569.9 L439.6 577.2 L441.4 584.1 L443.2 589.9 L445.1 594.3 L446.9 597 L448.7 598.1 L450.5 597.7 L452.4 596.8 L454.2 596.4 L454.2 602.6 Z" fill="#d27aa8" fill-opacity="0.6"/>
<path d="M337.4 602.6 L339.2 602.6 L341 602.6 L342.9 602.6 L344.7 602.6 L346.5 602.6 L348.3 602.6 L350.2 602.6 L352 602.6 L353.8 602.6 L355.6 602.6 L357.5 602.6 L359.3 602.6 L361.1 602.6 L362.9 602.6 L364.8 602.6 L366.6 602.6 L368.4 602.6 L370.2 602.6 L372.1 602.6 L373.9 602.6 L375.7 602.6 L377.5 602.6 L379.4 602.6 L381.2 602.6 L383 602.6 L384.8 602.6 L386.7 602.6 L388.5 602.6 L390.3 602.6 L392.1 602.6 L394 602.6 L395.8 602.6 L397.6 602.5 L399.4 602.5 L401.3 602.3 L403.1 602.1 L404.9 601.7 L406.8 601.1 L408.6 600.2 L410.4 598.8 L412.2 596.8 L414 594.1 L415.9 590.6 L417.7 586.3 L419.5 581.3 L421.3 575.8 L423.2 570.1 L425 564.7 L426.8 560.1 L428.6 556.7 L430.5 554.9 L432.3 555 L434.1 557.9 L435.9 563.1 L437.8 569.9 L439.6 577.2 L441.4 584.1 L443.2 589.9 L445.1 594.3 L446.9 597 L448.7 598.1 L450.5 597.7 L452.4 596.8 L454.2 596.4 L454.2 602.6" fill="none" stroke="#1a1a1a" stroke-width=".5" stroke-linejoin="round"/>
<line x1="337.4" y1="602.6" x2="454.2" y2="602.6" stroke="#222" stroke-width=".6"/>
<rect x="331.5" y="523.2" width="129.1" height="83.3" fill="none" stroke="#4d4d4d" stroke-width=".9"/>
<line x1="337.4" y1="606.5" x2="337.4" y2="608.7" stroke="#4d4d4d" stroke-width=".8"/>
<text x="337.4" y="615.9" font-size="7.9" text-anchor="middle" font-weight="bold" fill="#4d4d4d" transform="matrix(1 0 0 1.1 0 -61.6)">0.00</text>
<line x1="366.6" y1="606.5" x2="366.6" y2="608.7" stroke="#4d4d4d" stroke-width=".8"/>
<text x="366.6" y="615.9" font-size="7.9" text-anchor="middle" font-weight="bold" fill="#4d4d4d" transform="matrix(1 0 0 1.1 0 -61.6)">0.25</text>
<line x1="395.8" y1="606.5" x2="395.8" y2="608.7" stroke="#4d4d4d" stroke-width=".8"/>
<text x="395.8" y="615.9" font-size="7.9" text-anchor="middle" font-weight="bold" fill="#4d4d4d" transform="matrix(1 0 0 1.1 0 -61.6)">0.50</text>
<line x1="425" y1="606.5" x2="425" y2="608.7" stroke="#4d4d4d" stroke-width=".8"/>
<text x="425" y="615.9" font-size="7.9" text-anchor="middle" font-weight="bold" fill="#4d4d4d" transform="matrix(1 0 0 1.1 0 -61.6)">0.75</text>
<line x1="454.2" y1="606.5" x2="454.2" y2="608.7" stroke="#4d4d4d" stroke-width=".8"/>
<text x="454.2" y="615.9" font-size="7.9" text-anchor="middle" font-weight="bold" fill="#4d4d4d" transform="matrix(1 0 0 1.1 0 -61.6)">1.00</text>
<line x1="329.3" y1="602.6" x2="331.5" y2="602.6" stroke="#4d4d4d" stroke-width=".8"/>
<text x="327.8" y="605.4" font-size="7.9" text-anchor="end" font-weight="bold" fill="#4d4d4d" transform="matrix(1 0 0 1.1 0 -60.5)">0</text>
<line x1="329.3" y1="579.2" x2="331.5" y2="579.2" stroke="#4d4d4d" stroke-width=".8"/>
<text x="327.8" y="582" font-size="7.9" text-anchor="end" font-weight="bold" fill="#4d4d4d" transform="matrix(1 0 0 1.1 0 -58.2)">2</text>
<line x1="329.3" y1="555.8" x2="331.5" y2="555.8" stroke="#4d4d4d" stroke-width=".8"/>
<text x="327.8" y="558.6" font-size="7.9" text-anchor="end" font-weight="bold" fill="#4d4d4d" transform="matrix(1 0 0 1.1 0 -55.9)">4</text>
<line x1="329.3" y1="532.4" x2="331.5" y2="532.4" stroke="#4d4d4d" stroke-width=".8"/>
<text x="327.8" y="535.2" font-size="7.9" text-anchor="end" font-weight="bold" fill="#4d4d4d" transform="matrix(1 0 0 1.1 0 -53.5)">6</text>
<line x1="493.9" y1="523.2" x2="493.9" y2="606.5" stroke="#ebebeb" stroke-width=".5"/>
<line x1="523.1" y1="523.2" x2="523.1" y2="606.5" stroke="#ebebeb" stroke-width=".5"/>
<line x1="552.3" y1="523.2" x2="552.3" y2="606.5" stroke="#ebebeb" stroke-width=".5"/>
<line x1="581.5" y1="523.2" x2="581.5" y2="606.5" stroke="#ebebeb" stroke-width=".5"/>
<line x1="473.9" y1="588.8" x2="602" y2="588.8" stroke="#ebebeb" stroke-width=".5"/>
<line x1="473.9" y1="560.8" x2="602" y2="560.8" stroke="#ebebeb" stroke-width=".5"/>
<line x1="473.9" y1="532.8" x2="602" y2="532.8" stroke="#ebebeb" stroke-width=".5"/>
<line x1="479.3" y1="523.2" x2="479.3" y2="606.5" stroke="#ebebeb" stroke-width=".9"/>
<line x1="508.5" y1="523.2" x2="508.5" y2="606.5" stroke="#ebebeb" stroke-width=".9"/>
<line x1="537.7" y1="523.2" x2="537.7" y2="606.5" stroke="#ebebeb" stroke-width=".9"/>
<line x1="566.9" y1="523.2" x2="566.9" y2="606.5" stroke="#ebebeb" stroke-width=".9"/>
<line x1="596.1" y1="523.2" x2="596.1" y2="606.5" stroke="#ebebeb" stroke-width=".9"/>
<line x1="473.9" y1="602.8" x2="602" y2="602.8" stroke="#ebebeb" stroke-width=".9"/>
<line x1="473.9" y1="574.8" x2="602" y2="574.8" stroke="#ebebeb" stroke-width=".9"/>
<line x1="473.9" y1="546.8" x2="602" y2="546.8" stroke="#ebebeb" stroke-width=".9"/>
<rect x="473.9" y="512" width="128.1" height="11.2" fill="#d9d9d9" stroke="#4d4d4d" stroke-width=".8"/>
<text x="538" y="519.7" font-size="5.8" text-anchor="middle" fill="#1a1a1a" transform="matrix(1 0 0 1.1 0 -52)">TCGA</text>
<path d="M479.3 602.8 L479.3 602.8 L481.1 602.8 L482.9 602.8 L484.8 602.8 L486.6 602.8 L488.4 602.8 L490.2 602.8 L492.1 602.8 L493.9 602.8 L495.7 602.8 L497.6 602.8 L499.4 602.8 L501.2 602.8 L503 602.8 L504.9 602.8 L506.7 602.8 L508.5 602.8 L510.3 602.8 L512.1 602.8 L514 602.8 L515.8 602.8 L517.6 602.8 L519.5 602.8 L521.3 602.8 L523.1 602.8 L524.9 602.8 L526.8 602.8 L528.6 602.8 L530.4 602.8 L532.2 602.8 L534 602.8 L535.9 602.8 L537.7 602.8 L539.5 602.8 L541.4 602.8 L543.2 602.8 L545 602.8 L546.8 602.8 L548.6 602.8 L550.5 602.8 L552.3 602.8 L554.1 602.8 L556 602.8 L557.8 602.7 L559.6 602.6 L561.4 602.3 L563.2 601.7 L565.1 600.6 L566.9 598.6 L568.7 595.2 L570.5 589.9 L572.4 582.5 L574.2 572.9 L576 561.7 L577.9 549.9 L579.7 539.2 L581.5 531.3 L583.3 527.7 L585.1 530.1 L587 539.6 L588.8 551.8 L590.6 561.2 L592.5 564.3 L594.3 563.5 L596.1 564.5 L596.1 602.8 Z" fill="#f3c9df" fill-opacity="0.9"/>
<path d="M479.3 602.8 L481.1 602.8 L482.9 602.8 L484.8 602.8 L486.6 602.8 L488.4 602.8 L490.2 602.8 L492.1 602.8 L493.9 602.8 L495.7 602.8 L497.6 602.8 L499.4 602.8 L501.2 602.8 L503 602.8 L504.9 602.8 L506.7 602.8 L508.5 602.8 L510.3 602.8 L512.1 602.8 L514 602.8 L515.8 602.8 L517.6 602.8 L519.5 602.8 L521.3 602.8 L523.1 602.8 L524.9 602.8 L526.8 602.8 L528.6 602.8 L530.4 602.8 L532.2 602.8 L534 602.8 L535.9 602.8 L537.7 602.8 L539.5 602.8 L541.4 602.8 L543.2 602.8 L545 602.8 L546.8 602.8 L548.6 602.8 L550.5 602.8 L552.3 602.8 L554.1 602.8 L556 602.8 L557.8 602.7 L559.6 602.6 L561.4 602.3 L563.2 601.7 L565.1 600.6 L566.9 598.6 L568.7 595.2 L570.5 589.9 L572.4 582.5 L574.2 572.9 L576 561.7 L577.9 549.9 L579.7 539.2 L581.5 531.3 L583.3 527.7 L585.1 530.1 L587 539.6 L588.8 551.8 L590.6 561.2 L592.5 564.3 L594.3 563.5 L596.1 564.5 L596.1 602.8" fill="none" stroke="#1a1a1a" stroke-width=".5" stroke-linejoin="round"/>
<path d="M479.3 602.8 L479.3 602.8 L481.1 602.8 L482.9 602.8 L484.8 602.8 L486.6 602.8 L488.4 602.8 L490.2 602.8 L492.1 602.7 L493.9 602.7 L495.7 602.7 L497.6 602.6 L499.4 602.5 L501.2 602.4 L503 602.3 L504.9 602.1 L506.7 601.8 L508.5 601.5 L510.3 601.1 L512.1 600.6 L514 600 L515.8 599.2 L517.6 598.3 L519.5 597.2 L521.3 595.9 L523.1 594.5 L524.9 592.8 L526.8 590.8 L528.6 588.7 L530.4 586.4 L532.2 583.9 L534 581.2 L535.9 578.4 L537.7 575.6 L539.5 572.8 L541.4 570.1 L543.2 567.4 L545 565 L546.8 562.9 L548.6 561 L550.5 559.6 L552.3 558.6 L554.1 558.1 L556 558.1 L557.8 558.9 L559.6 560.5 L561.4 562.9 L563.2 565.9 L565.1 569.4 L566.9 573.2 L568.7 577 L570.5 580.8 L572.4 584.4 L574.2 587.8 L576 590.7 L577.9 593.3 L579.7 595.5 L581.5 597.3 L583.3 598.7 L585.1 599.7 L587 600.2 L588.8 599.7 L590.6 597.7 L592.5 594 L594.3 590.1 L596.1 588.5 L596.1 602.8 Z" fill="#c5e6bd" fill-opacity="0.8"/>
<path d="M479.3 602.8 L481.1 602.8 L482.9 602.8 L484.8 602.8 L486.6 602.8 L488.4 602.8 L490.2 602.8 L492.1 602.7 L493.9 602.7 L495.7 602.7 L497.6 602.6 L499.4 602.5 L501.2 602.4 L503 602.3 L504.9 602.1 L506.7 601.8 L508.5 601.5 L510.3 601.1 L512.1 600.6 L514 600 L515.8 599.2 L517.6 598.3 L519.5 597.2 L521.3 595.9 L523.1 594.5 L524.9 592.8 L526.8 590.8 L528.6 588.7 L530.4 586.4 L532.2 583.9 L534 581.2 L535.9 578.4 L537.7 575.6 L539.5 572.8 L541.4 570.1 L543.2 567.4 L545 565 L546.8 562.9 L548.6 561 L550.5 559.6 L552.3 558.6 L554.1 558.1 L556 558.1 L557.8 558.9 L559.6 560.5 L561.4 562.9 L563.2 565.9 L565.1 569.4 L566.9 573.2 L568.7 577 L570.5 580.8 L572.4 584.4 L574.2 587.8 L576 590.7 L577.9 593.3 L579.7 595.5 L581.5 597.3 L583.3 598.7 L585.1 599.7 L587 600.2 L588.8 599.7 L590.6 597.7 L592.5 594 L594.3 590.1 L596.1 588.5 L596.1 602.8" fill="none" stroke="#1a1a1a" stroke-width=".5" stroke-linejoin="round"/>
<path d="M479.3 602.8 L479.3 602.8 L481.1 602.8 L482.9 602.8 L484.8 602.8 L486.6 602.8 L488.4 602.8 L490.2 602.8 L492.1 602.8 L493.9 602.8 L495.7 602.8 L497.6 602.7 L499.4 602.7 L501.2 602.7 L503 602.6 L504.9 602.5 L506.7 602.4 L508.5 602.3 L510.3 602.1 L512.1 601.8 L514 601.5 L515.8 601.1 L517.6 600.5 L519.5 599.8 L521.3 598.9 L523.1 597.9 L524.9 596.6 L526.8 595.1 L528.6 593.3 L530.4 591.3 L532.2 589.1 L534 586.6 L535.9 583.9 L537.7 581 L539.5 578 L541.4 575 L543.2 571.9 L545 568.9 L546.8 566.1 L548.6 563.6 L550.5 561.4 L552.3 559.6 L554.1 558.3 L556 557.5 L557.8 557.3 L559.6 557.9 L561.4 559.5 L563.2 561.9 L565.1 565.1 L566.9 568.8 L568.7 572.7 L570.5 576.8 L572.4 580.9 L574.2 584.7 L576 588.2 L577.9 591.2 L579.7 593.9 L581.5 596 L583.3 597.8 L585.1 599.1 L587 599.8 L588.8 599.4 L590.6 597.5 L592.5 593.9 L594.3 590.1 L596.1 588.5 L596.1 602.8 Z" fill="#a8d8a0" fill-opacity="0.6"/>
<path d="M479.3 602.8 L481.1 602.8 L482.9 602.8 L484.8 602.8 L486.6 602.8 L488.4 602.8 L490.2 602.8 L492.1 602.8 L493.9 602.8 L495.7 602.8 L497.6 602.7 L499.4 602.7 L501.2 602.7 L503 602.6 L504.9 602.5 L506.7 602.4 L508.5 602.3 L510.3 602.1 L512.1 601.8 L514 601.5 L515.8 601.1 L517.6 600.5 L519.5 599.8 L521.3 598.9 L523.1 597.9 L524.9 596.6 L526.8 595.1 L528.6 593.3 L530.4 591.3 L532.2 589.1 L534 586.6 L535.9 583.9 L537.7 581 L539.5 578 L541.4 575 L543.2 571.9 L545 568.9 L546.8 566.1 L548.6 563.6 L550.5 561.4 L552.3 559.6 L554.1 558.3 L556 557.5 L557.8 557.3 L559.6 557.9 L561.4 559.5 L563.2 561.9 L565.1 565.1 L566.9 568.8 L568.7 572.7 L570.5 576.8 L572.4 580.9 L574.2 584.7 L576 588.2 L577.9 591.2 L579.7 593.9 L581.5 596 L583.3 597.8 L585.1 599.1 L587 599.8 L588.8 599.4 L590.6 597.5 L592.5 593.9 L594.3 590.1 L596.1 588.5 L596.1 602.8" fill="none" stroke="#1a1a1a" stroke-width=".5" stroke-linejoin="round"/>
<path d="M479.3 602.8 L479.3 602.8 L481.1 602.8 L482.9 602.8 L484.8 602.8 L486.6 602.8 L488.4 602.8 L490.2 602.8 L492.1 602.8 L493.9 602.8 L495.7 602.8 L497.6 602.8 L499.4 602.8 L501.2 602.8 L503 602.8 L504.9 602.7 L506.7 602.7 L508.5 602.7 L510.3 602.6 L512.1 602.5 L514 602.4 L515.8 602.2 L517.6 602 L519.5 601.7 L521.3 601.2 L523.1 600.6 L524.9 599.9 L526.8 599 L528.6 597.8 L530.4 596.4 L532.2 594.7 L534 592.7 L535.9 590.4 L537.7 587.8 L539.5 584.9 L541.4 581.7 L543.2 578.3 L545 574.8 L546.8 571.2 L548.6 567.7 L550.5 564.4 L552.3 561.3 L554.1 558.7 L556 556.5 L557.8 554.9 L559.6 554 L561.4 553.8 L563.2 554.7 L565.1 556.6 L566.9 559.6 L568.7 563.3 L570.5 567.6 L572.4 572.2 L574.2 576.8 L576 581.2 L577.9 585.4 L579.7 589 L581.5 592.2 L583.3 594.8 L585.1 596.8 L587 598.1 L588.8 598.1 L590.6 596.3 L592.5 592.5 L594.3 588.5 L596.1 586.9 L596.1 602.8 Z" fill="#86c488" fill-opacity="0.5"/>
<path d="M479.3 602.8 L481.1 602.8 L482.9 602.8 L484.8 602.8 L486.6 602.8 L488.4 602.8 L490.2 602.8 L492.1 602.8 L493.9 602.8 L495.7 602.8 L497.6 602.8 L499.4 602.8 L501.2 602.8 L503 602.8 L504.9 602.7 L506.7 602.7 L508.5 602.7 L510.3 602.6 L512.1 602.5 L514 602.4 L515.8 602.2 L517.6 602 L519.5 601.7 L521.3 601.2 L523.1 600.6 L524.9 599.9 L526.8 599 L528.6 597.8 L530.4 596.4 L532.2 594.7 L534 592.7 L535.9 590.4 L537.7 587.8 L539.5 584.9 L541.4 581.7 L543.2 578.3 L545 574.8 L546.8 571.2 L548.6 567.7 L550.5 564.4 L552.3 561.3 L554.1 558.7 L556 556.5 L557.8 554.9 L559.6 554 L561.4 553.8 L563.2 554.7 L565.1 556.6 L566.9 559.6 L568.7 563.3 L570.5 567.6 L572.4 572.2 L574.2 576.8 L576 581.2 L577.9 585.4 L579.7 589 L581.5 592.2 L583.3 594.8 L585.1 596.8 L587 598.1 L588.8 598.1 L590.6 596.3 L592.5 592.5 L594.3 588.5 L596.1 586.9 L596.1 602.8" fill="none" stroke="#1a1a1a" stroke-width=".5" stroke-linejoin="round"/>
<path d="M479.3 602.8 L479.3 602.8 L481.1 602.8 L482.9 602.8 L484.8 602.8 L486.6 602.8 L488.4 602.8 L490.2 602.8 L492.1 602.8 L493.9 602.8 L495.7 602.8 L497.6 602.8 L499.4 602.8 L501.2 602.8 L503 602.8 L504.9 602.8 L506.7 602.8 L508.5 602.8 L510.3 602.7 L512.1 602.7 L514 602.7 L515.8 602.6 L517.6 602.5 L519.5 602.3 L521.3 602.1 L523.1 601.8 L524.9 601.4 L526.8 600.9 L528.6 600.2 L530.4 599.3 L532.2 598.1 L534 596.7 L535.9 594.9 L537.7 592.8 L539.5 590.3 L541.4 587.4 L543.2 584.1 L545 580.6 L546.8 576.7 L548.6 572.7 L550.5 568.5 L552.3 564.4 L554.1 560.5 L556 556.9 L557.8 553.8 L559.6 551.3 L561.4 549.4 L563.2 548.4 L565.1 548.3 L566.9 549.5 L568.7 552.3 L570.5 556.4 L572.4 561.4 L574.2 566.9 L576 572.7 L577.9 578.2 L579.7 583.4 L581.5 587.9 L583.3 591.7 L585.1 594.7 L587 596.7 L588.8 597.2 L590.6 595.7 L592.5 592.2 L594.3 588.3 L596.1 586.8 L596.1 602.8 Z" fill="#6cb474" fill-opacity="0.45"/>
<path d="M479.3 602.8 L481.1 602.8 L482.9 602.8 L484.8 602.8 L486.6 602.8 L488.4 602.8 L490.2 602.8 L492.1 602.8 L493.9 602.8 L495.7 602.8 L497.6 602.8 L499.4 602.8 L501.2 602.8 L503 602.8 L504.9 602.8 L506.7 602.8 L508.5 602.8 L510.3 602.7 L512.1 602.7 L514 602.7 L515.8 602.6 L517.6 602.5 L519.5 602.3 L521.3 602.1 L523.1 601.8 L524.9 601.4 L526.8 600.9 L528.6 600.2 L530.4 599.3 L532.2 598.1 L534 596.7 L535.9 594.9 L537.7 592.8 L539.5 590.3 L541.4 587.4 L543.2 584.1 L545 580.6 L546.8 576.7 L548.6 572.7 L550.5 568.5 L552.3 564.4 L554.1 560.5 L556 556.9 L557.8 553.8 L559.6 551.3 L561.4 549.4 L563.2 548.4 L565.1 548.3 L566.9 549.5 L568.7 552.3 L570.5 556.4 L572.4 561.4 L574.2 566.9 L576 572.7 L577.9 578.2 L579.7 583.4 L581.5 587.9 L583.3 591.7 L585.1 594.7 L587 596.7 L588.8 597.2 L590.6 595.7 L592.5 592.2 L594.3 588.3 L596.1 586.8 L596.1 602.8" fill="none" stroke="#1a1a1a" stroke-width=".5" stroke-linejoin="round"/>
<path d="M479.3 602.8 L479.3 602.8 L481.1 602.8 L482.9 602.8 L484.8 602.8 L486.6 602.8 L488.4 602.8 L490.2 602.8 L492.1 602.8 L493.9 602.8 L495.7 602.8 L497.6 602.8 L499.4 602.8 L501.2 602.8 L503 602.8 L504.9 602.8 L506.7 602.8 L508.5 602.8 L510.3 602.8 L512.1 602.8 L514 602.8 L515.8 602.7 L517.6 602.7 L519.5 602.6 L521.3 602.5 L523.1 602.4 L524.9 602.2 L526.8 601.9 L528.6 601.6 L530.4 601 L532.2 600.3 L534 599.4 L535.9 598.2 L537.7 596.7 L539.5 594.8 L541.4 592.5 L543.2 589.8 L545 586.7 L546.8 583.1 L548.6 579.1 L550.5 574.8 L552.3 570.3 L554.1 565.7 L556 561.2 L557.8 556.9 L559.6 553 L561.4 549.6 L563.2 547 L565.1 545.3 L566.9 544.5 L568.7 544.9 L570.5 547.1 L572.4 551.1 L574.2 556.4 L576 562.5 L577.9 569 L579.7 575.3 L581.5 581.2 L583.3 586.4 L585.1 590.7 L587 593.7 L588.8 595.1 L590.6 594 L592.5 590.6 L594.3 586.6 L596.1 585.1 L596.1 602.8 Z" fill="#e8c48e" fill-opacity="0.45"/>
<path d="M479.3 602.8 L481.1 602.8 L482.9 602.8 L484.8 602.8 L486.6 602.8 L488.4 602.8 L490.2 602.8 L492.1 602.8 L493.9 602.8 L495.7 602.8 L497.6 602.8 L499.4 602.8 L501.2 602.8 L503 602.8 L504.9 602.8 L506.7 602.8 L508.5 602.8 L510.3 602.8 L512.1 602.8 L514 602.8 L515.8 602.7 L517.6 602.7 L519.5 602.6 L521.3 602.5 L523.1 602.4 L524.9 602.2 L526.8 601.9 L528.6 601.6 L530.4 601 L532.2 600.3 L534 599.4 L535.9 598.2 L537.7 596.7 L539.5 594.8 L541.4 592.5 L543.2 589.8 L545 586.7 L546.8 583.1 L548.6 579.1 L550.5 574.8 L552.3 570.3 L554.1 565.7 L556 561.2 L557.8 556.9 L559.6 553 L561.4 549.6 L563.2 547 L565.1 545.3 L566.9 544.5 L568.7 544.9 L570.5 547.1 L572.4 551.1 L574.2 556.4 L576 562.5 L577.9 569 L579.7 575.3 L581.5 581.2 L583.3 586.4 L585.1 590.7 L587 593.7 L588.8 595.1 L590.6 594 L592.5 590.6 L594.3 586.6 L596.1 585.1 L596.1 602.8" fill="none" stroke="#1a1a1a" stroke-width=".5" stroke-linejoin="round"/>
<path d="M479.3 602.8 L479.3 602.8 L481.1 602.8 L482.9 602.8 L484.8 602.8 L486.6 602.8 L488.4 602.8 L490.2 602.8 L492.1 602.8 L493.9 602.8 L495.7 602.8 L497.6 602.8 L499.4 602.8 L501.2 602.8 L503 602.8 L504.9 602.8 L506.7 602.8 L508.5 602.8 L510.3 602.8 L512.1 602.8 L514 602.8 L515.8 602.8 L517.6 602.8 L519.5 602.8 L521.3 602.7 L523.1 602.7 L524.9 602.6 L526.8 602.5 L528.6 602.3 L530.4 602.1 L532.2 601.7 L534 601.2 L535.9 600.5 L537.7 599.6 L539.5 598.4 L541.4 596.9 L543.2 594.9 L545 592.5 L546.8 589.6 L548.6 586.2 L550.5 582.3 L552.3 578 L554.1 573.2 L556 568.3 L557.8 563.2 L559.6 558.2 L561.4 553.5 L563.2 549.3 L565.1 545.9 L566.9 543.3 L568.7 541.7 L570.5 541.2 L572.4 542.6 L574.2 546.1 L576 551.4 L577.9 558 L579.7 565.1 L581.5 572.4 L583.3 579.1 L585.1 584.9 L587 589.4 L588.8 591.9 L590.6 591.5 L592.5 588.4 L594.3 584.6 L596.1 583.2 L596.1 602.8 Z" fill="#b4a8d0" fill-opacity="0.5"/>
<path d="M479.3 602.8 L481.1 602.8 L482.9 602.8 L484.8 602.8 L486.6 602.8 L488.4 602.8 L490.2 602.8 L492.1 602.8 L493.9 602.8 L495.7 602.8 L497.6 602.8 L499.4 602.8 L501.2 602.8 L503 602.8 L504.9 602.8 L506.7 602.8 L508.5 602.8 L510.3 602.8 L512.1 602.8 L514 602.8 L515.8 602.8 L517.6 602.8 L519.5 602.8 L521.3 602.7 L523.1 602.7 L524.9 602.6 L526.8 602.5 L528.6 602.3 L530.4 602.1 L532.2 601.7 L534 601.2 L535.9 600.5 L537.7 599.6 L539.5 598.4 L541.4 596.9 L543.2 594.9 L545 592.5 L546.8 589.6 L548.6 586.2 L550.5 582.3 L552.3 578 L554.1 573.2 L556 568.3 L557.8 563.2 L559.6 558.2 L561.4 553.5 L563.2 549.3 L565.1 545.9 L566.9 543.3 L568.7 541.7 L570.5 541.2 L572.4 542.6 L574.2 546.1 L576 551.4 L577.9 558 L579.7 565.1 L581.5 572.4 L583.3 579.1 L585.1 584.9 L587 589.4 L588.8 591.9 L590.6 591.5 L592.5 588.4 L594.3 584.6 L596.1 583.2 L596.1 602.8" fill="none" stroke="#1a1a1a" stroke-width=".5" stroke-linejoin="round"/>
<path d="M479.3 602.8 L479.3 602.8 L481.1 602.8 L482.9 602.8 L484.8 602.8 L486.6 602.8 L488.4 602.8 L490.2 602.8 L492.1 602.8 L493.9 602.8 L495.7 602.8 L497.6 602.8 L499.4 602.8 L501.2 602.8 L503 602.8 L504.9 602.8 L506.7 602.8 L508.5 602.8 L510.3 602.8 L512.1 602.8 L514 602.8 L515.8 602.8 L517.6 602.8 L519.5 602.8 L521.3 602.8 L523.1 602.8 L524.9 602.8 L526.8 602.7 L528.6 602.7 L530.4 602.6 L532.2 602.5 L534 602.3 L535.9 602 L537.7 601.5 L539.5 600.9 L541.4 600.1 L543.2 599 L545 597.5 L546.8 595.5 L548.6 593.1 L550.5 590.1 L552.3 586.5 L554.1 582.3 L556 577.5 L557.8 572.3 L559.6 566.7 L561.4 560.9 L563.2 555.2 L565.1 549.7 L566.9 544.9 L568.7 540.9 L570.5 537.9 L572.4 536.1 L574.2 535.6 L576 537.5 L577.9 542.1 L579.7 548.7 L581.5 556.6 L583.3 565.1 L585.1 573.2 L587 580 L588.8 584.7 L590.6 586.1 L592.5 584.3 L594.3 581.2 L596.1 580.5 L596.1 602.8 Z" fill="#9a8aba" fill-opacity="0.42"/>
<path d="M479.3 602.8 L481.1 602.8 L482.9 602.8 L484.8 602.8 L486.6 602.8 L488.4 602.8 L490.2 602.8 L492.1 602.8 L493.9 602.8 L495.7 602.8 L497.6 602.8 L499.4 602.8 L501.2 602.8 L503 602.8 L504.9 602.8 L506.7 602.8 L508.5 602.8 L510.3 602.8 L512.1 602.8 L514 602.8 L515.8 602.8 L517.6 602.8 L519.5 602.8 L521.3 602.8 L523.1 602.8 L524.9 602.8 L526.8 602.7 L528.6 602.7 L530.4 602.6 L532.2 602.5 L534 602.3 L535.9 602 L537.7 601.5 L539.5 600.9 L541.4 600.1 L543.2 599 L545 597.5 L546.8 595.5 L548.6 593.1 L550.5 590.1 L552.3 586.5 L554.1 582.3 L556 577.5 L557.8 572.3 L559.6 566.7 L561.4 560.9 L563.2 555.2 L565.1 549.7 L566.9 544.9 L568.7 540.9 L570.5 537.9 L572.4 536.1 L574.2 535.6 L576 537.5 L577.9 542.1 L579.7 548.7 L581.5 556.6 L583.3 565.1 L585.1 573.2 L587 580 L588.8 584.7 L590.6 586.1 L592.5 584.3 L594.3 581.2 L596.1 580.5 L596.1 602.8" fill="none" stroke="#1a1a1a" stroke-width=".5" stroke-linejoin="round"/>
<path d="M479.3 602.8 L479.3 602.8 L481.1 602.8 L482.9 602.8 L484.8 602.8 L486.6 602.8 L488.4 602.8 L490.2 602.8 L492.1 602.8 L493.9 602.8 L495.7 602.8 L497.6 602.8 L499.4 602.8 L501.2 602.8 L503 602.8 L504.9 602.8 L506.7 602.8 L508.5 602.8 L510.3 602.8 L512.1 602.8 L514 602.8 L515.8 602.8 L517.6 602.8 L519.5 602.8 L521.3 602.8 L523.1 602.8 L524.9 602.8 L526.8 602.8 L528.6 602.8 L530.4 602.8 L532.2 602.8 L534 602.7 L535.9 602.7 L537.7 602.6 L539.5 602.4 L541.4 602.2 L543.2 601.8 L545 601.3 L546.8 600.5 L548.6 599.4 L550.5 597.8 L552.3 595.7 L554.1 593 L556 589.6 L557.8 585.4 L559.6 580.5 L561.4 574.8 L563.2 568.6 L565.1 561.9 L566.9 555.2 L568.7 548.7 L570.5 542.7 L572.4 537.7 L574.2 534 L576 531.9 L577.9 531.5 L579.7 534.2 L581.5 540.3 L583.3 548.7 L585.1 558.2 L587 567.5 L588.8 574.9 L590.6 578.7 L592.5 578.7 L594.3 577 L596.1 577.3 L596.1 602.8 Z" fill="#7f70a0" fill-opacity="0.42"/>
<path d="M479.3 602.8 L481.1 602.8 L482.9 602.8 L484.8 602.8 L486.6 602.8 L488.4 602.8 L490.2 602.8 L492.1 602.8 L493.9 602.8 L495.7 602.8 L497.6 602.8 L499.4 602.8 L501.2 602.8 L503 602.8 L504.9 602.8 L506.7 602.8 L508.5 602.8 L510.3 602.8 L512.1 602.8 L514 602.8 L515.8 602.8 L517.6 602.8 L519.5 602.8 L521.3 602.8 L523.1 602.8 L524.9 602.8 L526.8 602.8 L528.6 602.8 L530.4 602.8 L532.2 602.8 L534 602.7 L535.9 602.7 L537.7 602.6 L539.5 602.4 L541.4 602.2 L543.2 601.8 L545 601.3 L546.8 600.5 L548.6 599.4 L550.5 597.8 L552.3 595.7 L554.1 593 L556 589.6 L557.8 585.4 L559.6 580.5 L561.4 574.8 L563.2 568.6 L565.1 561.9 L566.9 555.2 L568.7 548.7 L570.5 542.7 L572.4 537.7 L574.2 534 L576 531.9 L577.9 531.5 L579.7 534.2 L581.5 540.3 L583.3 548.7 L585.1 558.2 L587 567.5 L588.8 574.9 L590.6 578.7 L592.5 578.7 L594.3 577 L596.1 577.3 L596.1 602.8" fill="none" stroke="#1a1a1a" stroke-width=".5" stroke-linejoin="round"/>
<path d="M479.3 602.8 L479.3 602.8 L481.1 602.8 L482.9 602.8 L484.8 602.8 L486.6 602.8 L488.4 602.8 L490.2 602.8 L492.1 602.8 L493.9 602.8 L495.7 602.8 L497.6 602.8 L499.4 602.8 L501.2 602.8 L503 602.8 L504.9 602.8 L506.7 602.8 L508.5 602.8 L510.3 602.8 L512.1 602.8 L514 602.8 L515.8 602.8 L517.6 602.8 L519.5 602.8 L521.3 602.8 L523.1 602.8 L524.9 602.8 L526.8 602.8 L528.6 602.8 L530.4 602.8 L532.2 602.8 L534 602.8 L535.9 602.8 L537.7 602.7 L539.5 602.7 L541.4 602.5 L543.2 602.4 L545 602.1 L546.8 601.6 L548.6 600.9 L550.5 599.9 L552.3 598.4 L554.1 596.4 L556 593.8 L557.8 590.3 L559.6 586 L561.4 580.9 L563.2 574.9 L565.1 568.3 L566.9 561.2 L568.7 554 L570.5 547.1 L572.4 540.9 L574.2 535.8 L576 532.3 L577.9 530.6 L579.7 531.2 L581.5 536.1 L583.3 544.4 L585.1 554.7 L587 565.1 L588.8 573.7 L590.6 578.5 L592.5 579 L594.3 577.6 L596.1 577.9 L596.1 602.8 Z" fill="#6fa3d8" fill-opacity="0.3"/>
<path d="M479.3 602.8 L481.1 602.8 L482.9 602.8 L484.8 602.8 L486.6 602.8 L488.4 602.8 L490.2 602.8 L492.1 602.8 L493.9 602.8 L495.7 602.8 L497.6 602.8 L499.4 602.8 L501.2 602.8 L503 602.8 L504.9 602.8 L506.7 602.8 L508.5 602.8 L510.3 602.8 L512.1 602.8 L514 602.8 L515.8 602.8 L517.6 602.8 L519.5 602.8 L521.3 602.8 L523.1 602.8 L524.9 602.8 L526.8 602.8 L528.6 602.8 L530.4 602.8 L532.2 602.8 L534 602.8 L535.9 602.8 L537.7 602.7 L539.5 602.7 L541.4 602.5 L543.2 602.4 L545 602.1 L546.8 601.6 L548.6 600.9 L550.5 599.9 L552.3 598.4 L554.1 596.4 L556 593.8 L557.8 590.3 L559.6 586 L561.4 580.9 L563.2 574.9 L565.1 568.3 L566.9 561.2 L568.7 554 L570.5 547.1 L572.4 540.9 L574.2 535.8 L576 532.3 L577.9 530.6 L579.7 531.2 L581.5 536.1 L583.3 544.4 L585.1 554.7 L587 565.1 L588.8 573.7 L590.6 578.5 L592.5 579 L594.3 577.6 L596.1 577.9 L596.1 602.8" fill="none" stroke="#1a1a1a" stroke-width=".5" stroke-linejoin="round"/>
<path d="M479.3 602.8 L479.3 602.8 L481.1 602.8 L482.9 602.8 L484.8 602.8 L486.6 602.8 L488.4 602.8 L490.2 602.8 L492.1 602.8 L493.9 602.8 L495.7 602.8 L497.6 602.8 L499.4 602.8 L501.2 602.8 L503 602.8 L504.9 602.8 L506.7 602.8 L508.5 602.8 L510.3 602.8 L512.1 602.8 L514 602.8 L515.8 602.8 L517.6 602.8 L519.5 602.8 L521.3 602.8 L523.1 602.8 L524.9 602.8 L526.8 602.8 L528.6 602.8 L530.4 602.8 L532.2 602.8 L534 602.8 L535.9 602.7 L537.7 602.6 L539.5 602.5 L541.4 602.3 L543.2 601.9 L545 601.3 L546.8 600.5 L548.6 599.2 L550.5 597.4 L552.3 595 L554.1 591.8 L556 587.8 L557.8 583 L559.6 577.3 L561.4 571 L563.2 564.3 L565.1 557.6 L566.9 551.2 L568.7 545.8 L570.5 541.6 L572.4 539.1 L574.2 538.4 L576 540.3 L577.9 544.6 L579.7 550.9 L581.5 558.6 L583.3 566.6 L585.1 574.4 L587 581 L588.8 585.5 L590.6 587 L592.5 585.4 L594.3 582.6 L596.1 582 L596.1 602.8 Z" fill="#e9aed0" fill-opacity="0.45"/>
<path d="M479.3 602.8 L481.1 602.8 L482.9 602.8 L484.8 602.8 L486.6 602.8 L488.4 602.8 L490.2 602.8 L492.1 602.8 L493.9 602.8 L495.7 602.8 L497.6 602.8 L499.4 602.8 L501.2 602.8 L503 602.8 L504.9 602.8 L506.7 602.8 L508.5 602.8 L510.3 602.8 L512.1 602.8 L514 602.8 L515.8 602.8 L517.6 602.8 L519.5 602.8 L521.3 602.8 L523.1 602.8 L524.9 602.8 L526.8 602.8 L528.6 602.8 L530.4 602.8 L532.2 602.8 L534 602.8 L535.9 602.7 L537.7 602.6 L539.5 602.5 L541.4 602.3 L543.2 601.9 L545 601.3 L546.8 600.5 L548.6 599.2 L550.5 597.4 L552.3 595 L554.1 591.8 L556 587.8 L557.8 583 L559.6 577.3 L561.4 571 L563.2 564.3 L565.1 557.6 L566.9 551.2 L568.7 545.8 L570.5 541.6 L572.4 539.1 L574.2 538.4 L576 540.3 L577.9 544.6 L579.7 550.9 L581.5 558.6 L583.3 566.6 L585.1 574.4 L587 581 L588.8 585.5 L590.6 587 L592.5 585.4 L594.3 582.6 L596.1 582 L596.1 602.8" fill="none" stroke="#1a1a1a" stroke-width=".5" stroke-linejoin="round"/>
<path d="M479.3 602.8 L479.3 602.8 L481.1 602.8 L482.9 602.8 L484.8 602.8 L486.6 602.8 L488.4 602.8 L490.2 602.8 L492.1 602.8 L493.9 602.8 L495.7 602.8 L497.6 602.8 L499.4 602.8 L501.2 602.8 L503 602.8 L504.9 602.8 L506.7 602.8 L508.5 602.8 L510.3 602.8 L512.1 602.8 L514 602.8 L515.8 602.8 L517.6 602.8 L519.5 602.8 L521.3 602.8 L523.1 602.8 L524.9 602.8 L526.8 602.8 L528.6 602.8 L530.4 602.8 L532.2 602.8 L534 602.8 L535.9 602.8 L537.7 602.8 L539.5 602.7 L541.4 602.7 L543.2 602.6 L545 602.4 L546.8 602.1 L548.6 601.5 L550.5 600.7 L552.3 599.5 L554.1 597.8 L556 595.3 L557.8 592.1 L559.6 588 L561.4 583 L563.2 577.2 L565.1 570.8 L566.9 564.1 L568.7 557.6 L570.5 551.7 L572.4 547 L574.2 543.9 L576 542.6 L577.9 543.8 L579.7 547.7 L581.5 553.8 L583.3 561.4 L585.1 569.4 L587 576.8 L588.8 582.4 L590.6 585 L592.5 584.6 L594.3 582.8 L596.1 582.8 L596.1 602.8 Z" fill="#d98ab8" fill-opacity="0.45"/>
<path d="M479.3 602.8 L481.1 602.8 L482.9 602.8 L484.8 602.8 L486.6 602.8 L488.4 602.8 L490.2 602.8 L492.1 602.8 L493.9 602.8 L495.7 602.8 L497.6 602.8 L499.4 602.8 L501.2 602.8 L503 602.8 L504.9 602.8 L506.7 602.8 L508.5 602.8 L510.3 602.8 L512.1 602.8 L514 602.8 L515.8 602.8 L517.6 602.8 L519.5 602.8 L521.3 602.8 L523.1 602.8 L524.9 602.8 L526.8 602.8 L528.6 602.8 L530.4 602.8 L532.2 602.8 L534 602.8 L535.9 602.8 L537.7 602.8 L539.5 602.7 L541.4 602.7 L543.2 602.6 L545 602.4 L546.8 602.1 L548.6 601.5 L550.5 600.7 L552.3 599.5 L554.1 597.8 L556 595.3 L557.8 592.1 L559.6 588 L561.4 583 L563.2 577.2 L565.1 570.8 L566.9 564.1 L568.7 557.6 L570.5 551.7 L572.4 547 L574.2 543.9 L576 542.6 L577.9 543.8 L579.7 547.7 L581.5 553.8 L583.3 561.4 L585.1 569.4 L587 576.8 L588.8 582.4 L590.6 585 L592.5 584.6 L594.3 582.8 L596.1 582.8 L596.1 602.8" fill="none" stroke="#1a1a1a" stroke-width=".5" stroke-linejoin="round"/>
<path d="M479.3 602.8 L479.3 602.8 L481.1 602.8 L482.9 602.8 L484.8 602.8 L486.6 602.8 L488.4 602.8 L490.2 602.8 L492.1 602.8 L493.9 602.8 L495.7 602.8 L497.6 602.8 L499.4 602.8 L501.2 602.8 L503 602.8 L504.9 602.8 L506.7 602.8 L508.5 602.8 L510.3 602.8 L512.1 602.8 L514 602.8 L515.8 602.8 L517.6 602.8 L519.5 602.8 L521.3 602.8 L523.1 602.8 L524.9 602.8 L526.8 602.8 L528.6 602.8 L530.4 602.8 L532.2 602.8 L534 602.8 L535.9 602.8 L537.7 602.8 L539.5 602.8 L541.4 602.7 L543.2 602.7 L545 602.6 L546.8 602.4 L548.6 602.1 L550.5 601.6 L552.3 600.8 L554.1 599.5 L556 597.6 L557.8 595.1 L559.6 591.6 L561.4 587.3 L563.2 582 L565.1 576.1 L566.9 569.7 L568.7 563.3 L570.5 557.5 L572.4 552.7 L574.2 549.5 L576 548.2 L577.9 549.4 L579.7 553.5 L581.5 559.8 L583.3 567.4 L585.1 575.3 L587 582.2 L588.8 587.3 L590.6 589.6 L592.5 589.1 L594.3 587.3 L596.1 587 L596.1 602.8 Z" fill="#d27aa8" fill-opacity="0.6"/>
<path d="M479.3 602.8 L481.1 602.8 L482.9 602.8 L484.8 602.8 L486.6 602.8 L488.4 602.8 L490.2 602.8 L492.1 602.8 L493.9 602.8 L495.7 602.8 L497.6 602.8 L499.4 602.8 L501.2 602.8 L503 602.8 L504.9 602.8 L506.7 602.8 L508.5 602.8 L510.3 602.8 L512.1 602.8 L514 602.8 L515.8 602.8 L517.6 602.8 L519.5 602.8 L521.3 602.8 L523.1 602.8 L524.9 602.8 L526.8 602.8 L528.6 602.8 L530.4 602.8 L532.2 602.8 L534 602.8 L535.9 602.8 L537.7 602.8 L539.5 602.8 L541.4 602.7 L543.2 602.7 L545 602.6 L546.8 602.4 L548.6 602.1 L550.5 601.6 L552.3 600.8 L554.1 599.5 L556 597.6 L557.8 595.1 L559.6 591.6 L561.4 587.3 L563.2 582 L565.1 576.1 L566.9 569.7 L568.7 563.3 L570.5 557.5 L572.4 552.7 L574.2 549.5 L576 548.2 L577.9 549.4 L579.7 553.5 L581.5 559.8 L583.3 567.4 L585.1 575.3 L587 582.2 L588.8 587.3 L590.6 589.6 L592.5 589.1 L594.3 587.3 L596.1 587 L596.1 602.8" fill="none" stroke="#1a1a1a" stroke-width=".5" stroke-linejoin="round"/>
<line x1="479.3" y1="602.8" x2="596.1" y2="602.8" stroke="#222" stroke-width=".6"/>
<rect x="473.9" y="523.2" width="128.1" height="83.3" fill="none" stroke="#4d4d4d" stroke-width=".9"/>
<line x1="479.3" y1="606.5" x2="479.3" y2="608.7" stroke="#4d4d4d" stroke-width=".8"/>
<text x="479.3" y="615.9" font-size="7.9" text-anchor="middle" font-weight="bold" fill="#4d4d4d" transform="matrix(1 0 0 1.1 0 -61.6)">0.00</text>
<line x1="508.5" y1="606.5" x2="508.5" y2="608.7" stroke="#4d4d4d" stroke-width=".8"/>
<text x="508.5" y="615.9" font-size="7.9" text-anchor="middle" font-weight="bold" fill="#4d4d4d" transform="matrix(1 0 0 1.1 0 -61.6)">0.25</text>
<line x1="537.7" y1="606.5" x2="537.7" y2="608.7" stroke="#4d4d4d" stroke-width=".8"/>
<text x="537.7" y="615.9" font-size="7.9" text-anchor="middle" font-weight="bold" fill="#4d4d4d" transform="matrix(1 0 0 1.1 0 -61.6)">0.50</text>
<line x1="566.9" y1="606.5" x2="566.9" y2="608.7" stroke="#4d4d4d" stroke-width=".8"/>
<text x="566.9" y="615.9" font-size="7.9" text-anchor="middle" font-weight="bold" fill="#4d4d4d" transform="matrix(1 0 0 1.1 0 -61.6)">0.75</text>
<line x1="596.1" y1="606.5" x2="596.1" y2="608.7" stroke="#4d4d4d" stroke-width=".8"/>
<text x="596.1" y="615.9" font-size="7.9" text-anchor="middle" font-weight="bold" fill="#4d4d4d" transform="matrix(1 0 0 1.1 0 -61.6)">1.00</text>
<line x1="471.7" y1="602.8" x2="473.9" y2="602.8" stroke="#4d4d4d" stroke-width=".8"/>
<text x="470.2" y="605.6" font-size="7.9" text-anchor="end" font-weight="bold" fill="#4d4d4d" transform="matrix(1 0 0 1.1 0 -60.6)">0</text>
<line x1="471.7" y1="574.8" x2="473.9" y2="574.8" stroke="#4d4d4d" stroke-width=".8"/>
<text x="470.2" y="577.6" font-size="7.9" text-anchor="end" font-weight="bold" fill="#4d4d4d" transform="matrix(1 0 0 1.1 0 -57.8)">2</text>
<line x1="471.7" y1="546.8" x2="473.9" y2="546.8" stroke="#4d4d4d" stroke-width=".8"/>
<text x="470.2" y="549.6" font-size="7.9" text-anchor="end" font-weight="bold" fill="#4d4d4d" transform="matrix(1 0 0 1.1 0 -55)">4</text>
<text x="316.5" y="564.5" font-size="7.8" text-anchor="middle" transform="rotate(-90 316.5 564.5) matrix(1 0 0 1.1 0 -56.5)">Density</text>
<text x="460.2" y="627" font-size="7.9" text-anchor="middle" transform="matrix(1 0 0 1.1 0 -62.7)">Jaccard Index</text>
<text x="602.6" y="639.2" font-size="6.6" text-anchor="end" transform="matrix(1 0 0 1.1 0 -63.9)">Neighborhood with radius 1</text>
</svg></body></html>
